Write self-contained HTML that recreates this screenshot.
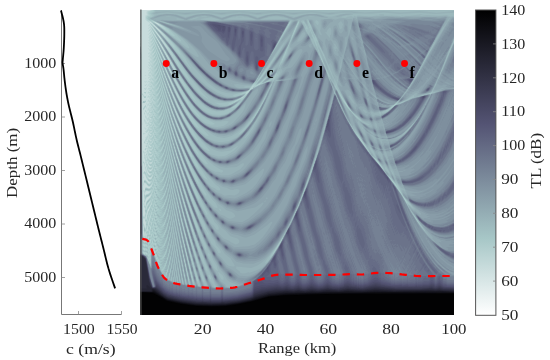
<!DOCTYPE html>
<html><head><meta charset="utf-8"><style>
html,body{margin:0;padding:0;background:#fff;width:550px;height:360px;overflow:hidden}
svg{display:block}
text{font-family:"Liberation Serif", "DejaVu Serif", serif;fill:#262626}
</style></head><body>
<svg width="550" height="360" viewBox="0 0 550 360">
<g clip-path="url(#mp)"><clipPath id="mp"><rect x="140" y="10" width="314" height="305"/></clipPath><rect x="140" y="10" width="314" height="305" fill="#c8dcdc"/>
<path fill="#bdd5d5" d="M146.5 11.5l3.8-1 0-1 304.2 0 0 306-315 0 0-292.5 1.2 0.5-0.1 22 0.8 9-0.2 26 0.5 4-0.5 6 0.1 27 1.3 7-1 1 0.1 11 0.7 3-0.6 2 0.8 23-0.1 49 1 2.6 1 0.5 0.6-3.1-0.3-5-0.9-2 0.2-1-0.9-1 0.9-2 0.3-4-0.3-6-1.1-2 0.5-0.4 1.2 0.4 0.8-3.2 1-0.3 2 1.4 1-0.1 1.6-1.8-2.6 0.2-3-3.4-1.8 0.2 0.5 1-0.7 1.3-0.5-1.3 1.5-4.9 1 0.2 3 3.8 1.3-0.1 0.7-1-1-0.2-2.6-2.8-2.4-5.6-1 0.1-0.6-0.5 1.6-2.8 1 1.6 0.3-0.8-1-2-0.7-5-1.3-2 0.7-1.4 1 2 0.9-1.6-1.2-4 0-3-1.3-3 0.6-1.1 1 1.7 1 0 1-0.9 0.7-1.7-0.7-0.6-1 1.5-1.1-0.9 1.1-1.8 2 0.4 0.4-0.6-0.4-1.6-1 1.5-0.9-0.9-0.1-0.8-1.3-0.2 1.3 0 1.4-1-2.4-1.1-0.7-0.9 2-4-0.6-1 0.3-0.4 1.2 0.4-0.5-1 1.3-1.3 0-1.7 0.8-1-0.8-0.2-4 2.5-0.4-1.3 0.4-0.8 2 0.4 0.5-0.6-1.5-1.2 2-0.6 0.3-1.2 1-1-0.5-1 1.7-1-0.5-0.9-2 1.2-0.6-0.3 0.6-1.8 1.5-0.2-0.5-0.4-2 0.1-1.6-3.7 0.6-1.8 3 4.5 1.3-1.7-0.3-2-0.1 1-0.9 0.7-2.2-3.7 0.2-2.4 2 3.2 1.4-1.8-0.4-1.4-1 1.1-1.3-3.7-1.2-1 0.5-1.7 2 3.5 1.6-1.8-0.6-1-1 0.6-0.4-0.6 0.6-2 1.6-2-0.8-1-1 1.3-1.3-3.3 0.5-1 0.8 1.9 1.7-1.9-0.7-1-1 0.6-0.2-0.6 0.7-2 1.1 0 0.4 1.1 1.2-0.1-1.1-1-0.9-2-1.2 0.6-0.3-0.6 0.8-2 0.5-0.2 1 0.8 0.5-0.6-1-1 0.2-1-1.7 0.5 0.1-1.5 0.9-1.2 1 0.7 0.9-0.5-0.9-0.4-1-1.5-1 0.4-0.1-0.5 1.1-1.9 1.9-0.1-1.9-1.6-1 1.1-0.3-0.5 0.7-2 1.7-2-1.1-0.2-1 0.7-0.2-0.5 0.9-2 1.3 0.4 0.3-0.4-0.9-1 1.2-1-0.6-0.4-1 0.7-0.5-0.3 0-1 1.8-1-2-1 1-3 1.2-1-0.5-0.5-1 0.5-0.6-1 1.8-1-1.9-2 0.7-0.4 1 0.9 1.3-1.5-0.3-0.6-1 1.2-1.7-2.6 0.7-0.3 1 0.8 0.4-0.5-1.7-2 0.3-0.7 1 0.2 0.3-0.5-0.3-0.9-1.3-1.1 1.6-1-0.1-1-1.2-0.2-0.5-0.8 1.9-2-0.4-0.5-1 0.4-0.7-0.9 1.7-1.5 1.1 0.5-0.3-1-1.3-1-0.1-1-1.2-1 0.8-0.5 1 0.9 0.8-0.4-2.3-3 0.5-0.5 1 0.8 0.5-0.3-1.8-3 0.3-0.4 1.2 0.4-0.2-1-1.3-1 1.1-1-0.1-1-1-1 0.9-1 0-1 1.6-1-0.2-0.7-2 0.9-1.1-0.2 1.1-0.4 2.1-2.6 0.2-1-2.3 1.3-1-0.3 2-1.7 1.3-2.3-0.3-0.3-2 1.8-0.5-0.5 1.8-2-0.3-0.7-1 0.7-0.4-1 1.8-2-4.7-4 0.1-4 1.7-1-0.6-1zM150.5 21.6l-0.3 0.9 11.3 10.6 0.1-0.6-2.7-3zM154.5 21.9l-0.3 0.6 4.3 2.4 1-0.4-2.9-2zM162 40.5l0.5 1.1 0.5-0.1-0.5-1.3zM143.5 218.7l-0.2 3.8 2.2 6.1 0.1-6.1-0.8-3zM149.5 191.8l-3-0.9-0.8 0.6-0.7 2 0.5 1.9 1-1.5 1.9-0.4 1.1-0.9zM150.5 195.2l-4 2.8-1.8 5.5 0 1 0.8 1.1 0.5-3.1 1.5-2.6 3-3.2zM146.5 152.2l-1.7 1.3 0 1 0.7 0.8 1.4-2.8zM147.5 153.7l0 1.9 0.4-1.1zM145.3 141.5l0.2 1.8 1 0 1-0.8zM147.5 139.7l-1.3 0.8 0.3 0.6 1 0.1 0.4-0.7zM148.5 130.8l-0.4 0.7 0.4 0.9 0.5-0.9zM149.1 104.5l0.4 0.4 1.3-0.4-1.3-0.6zM150 24.5l1.5 2.3 0.6-0.3-1.6-2.3zM153.5 28.1l-0.5 0.4 6.5 9.1 1 1.3 0.8-0.4zM162.5 47l-0.5 0.5 0.5 1.2 0.7-0.2zM143.5 226.5l-0.6 6 0.6 2.7 0.6-1.7zM145.5 163.1l-0.9 3.4 0.9 0.2 0.7-1.2-0.2-2zM146.5 157.8l-0.5 1.7 0.5 0.5 0.5-1.5zM147.5 161.4l-0.4 1.1 0.4 1.3 0.4-1.3zM150.5 73.4l-1.4 1.1 1.4 0.1zM150.5 58.7l0 1.3 0.6-0.5zM152.5 30.3l0 1.5 0.4-0.3zM153.5 32.1l-0.1 1.4 1.1 1.6 0-1.6zM155.5 35.3l-0.5 0.2 0.5 1.3 0.6-0.3zM156.5 36.9l-0.1 1.6 1.1 1.8 0.4-0.8zM157.8 40.5l2.7 4.9 0.4-0.9-2.4-4.3zM161.5 45.2l-0.9 0.3 0.9 1.5 0.5-0.5zM146.5 214.3l-0.5 3.2 0.5 1.3zM149.5 206.8l-2 3.8 0 3.4 2.1-5.5zM146.5 167.2l-0.5 1.3 0.5 1.4 0.4-2.4zM147.5 170.3l-0.2 2.2 1.2 2 1 0.7 1-0.4-2.7-3.3zM148.5 142.9l0 1.8 0.4-1.2zM149.5 112.9l-0.4 0.6 0.4 0.4 0.8-0.4zM150.1 111.5l1.6 0-0.2-0.5zM151.5 32.2l-0.5 1.3 0.6 0zM157.5 44l0 1.7 0.5-0.2zM158.5 45.9l0 1.8 0.5-0.2zM159.5 47.9l0 1.8 0.5-0.2zM160.5 49.9l0 1.8 0.5-0.2zM161.5 52l0 1.8 0.4-0.3zM148.3 177.5l0.2 1 1 0.7 1-0.1 1.2-1.6-0.2-0.4-2 1zM149.5 117.7l-0.3 0.8 1.3 1 0.6-1zM148.5 156.5l-0.4 1 0.4 0.8zM149.5 122.7l-0.3 0.8 1.3 1.1 0.1-1.1zM150.2 121.5l1.5 0-0.2-0.6zM150.2 116.5l1.3 0.1 0-0.8zM151.6 39.5l-1.4 1 1.3 0zM148.5 164.2l-0.3 1.3 1.3 1.9 1 0.1 0.6-1-1.6-0.7zM150.2 126.5l1.6 0-0.3-0.4zM149 133.5l1.5 2 1-1-1-0.1-1-1.2zM151.8 131.5l-0.9 0-0.4 1 1-0.2zM149.1 145.5l0.2 1 1.2 0.6 1-0.6-1-0.2-1-1.2zM149.5 140.5l1 0.5 1-0.5zM149.4 151.5l-0.3 1 1.7 1 0.3-1zM150.2 149.5l0.3 0.5 1.3-0.5zM151.8 155.5l-1.5 1 1.2 0.1zM148.9 158.5l0.3 1 1.3 0.8 0.9-0.8zM151.7 162.5l-0.7 0-1 1 1.5 0zM151.7 169.5l-2.3 1 1.1 0.7 1.1-0.7zM146.5 66.5l1.3 0-0.3 0.7zM144.8 72.5l1.5 0-0.8 0.6zM144.7 75.5l0.8-0.4 0.8 0.4-0.8 0.6zM144.6 78.5l1.9 0-1 0.8zM146.8 80.5l0.2 1-1.5 1.4-1.3-1.4 0.3-0.5 1.3 0.5zM144.2 84.5l1.3 0.4 1-1.2 0.7 0.8-1.7 1.6zM146.5 87.2l0.5 0.3 0 1-1.5 1.5-1.4-1.5 0.4-0.6 1 0.5zM146.5 90.6l0.7 0.9-0.7 0.6zM144 92.5l0.5-0.6 1.8 0.6-0.8 1.3-1-0.4zM142.5 93.2l2 3.1 1.7 0.2-0.7 1.4-1 0.2-2.6-3.6zM146.5 94.3l0.7 1.2-0.7 0.5zM146.5 98.2l0.8 1.3-0.8 0.6zM145.9 100.5l0.2 1-0.9 1-2.7 1.2-0.2-1.2 1.2-1.5zM145.5 104.9l1.7 2.6 0.1 1-0.8 0.6-0.2-1.6-0.8-0.5-2 3.6-0.4-2.1zM144.5 112.2l0.5 0.3-0.5 2.4-0.5-1.4zM144.5 127.1l2.2 1.4-1.2 1.5-1-1.6zM143.5 176.6l0.6 0.9-0.6 1.3-0.5-1.3z"/>
<path fill="#b5d0d0" d="M147.4 11.5l3.8-1 0-1 303.3 0 0 306-315 0 0-270 1 0 0.4 1 0.5 8-0.1 63 0.7 6-0.5 1 0 12.4 0.7 2.6-0.6 2 0.5 2 0.3 69 0.8 4 1.3 0.4 0.8-3.4-0.1-5-1.2-2 0.5-1 1 0.5 0.4-0.5 0-2 0.8-2 3.8-4.5 1.3-2.5-0.3-1.4-2 2.8-3.1 1.6-1.9 5.4-0.5-1.4 0.7-2-0.6-4 0.4-1.9 1 2.2 1-1.3 3-1.3 1.2-1.7-0.1-1-2.1 0.8-2.2-0.8-1.8 2.8-0.7-1.8 1.1-1 0.6-2.7 1-0.2 1.3 0.9 1.7 0.2 2.1-2.2 0.8-2-0.9 0-2 1.9-1-0.1-3-3.4-1 0.2-0.7-1.6 0.7-1.5 1 0.2 3 3.6 1.9-0.3 0.4-1-2.9-2-3.4-7-1.2 0 1.2-2.5 1.3 1.5 0.7-2.3 0.5 2.3 2.5 3.1 1-0.3 1.2-1.8-2.2-0.2-1.5-1.8-0.9-2 0.4-3-1 0.4-0.5-0.4 0.4-3-1.1-1 0.2-0.6 1-0.2 0.1 1.8 1.3 1 0 1 1.6 2.1 1 0.1 1.2-1.2-0.2-0.4-1 0.1-2.5-2.7 0.5-2.2-1-0.4-2 0.4-1.2-3.8 0.2-0.5 1 0.8 0.3 1.7 0.7 0.8 0.8-1.8-0.8-1 1-1.3 0.6 2.3 2.4 2.2 1-0.9 0-0.7-1 0-1.5-1.6-0.1-1-0.9-1-0.2-3-1.2-1 0.9-1.8 2 3.5 1 0.6 0.7-0.3 0.5-1-1.2-0.2-1.5-1.8 0.5-1 1 1.1 1-0.2 1.4-1.9-0.4-0.9-1 1.4-1 0.2-1-0.7-2.4 0 1-1-0.3-2 0.7-0.4 0.5 1.4 1.5 1.1 1.3-1.1-1.3-0.4-1.5-1.6 0.5-2.2-1 0.3-1 1.9-0.9-1 1.7-1-0.6-1 0.8-2.5 0.7 1.5 1.3 1 1.3-1-3-2 0.8-2-1.6-2 0.5-1 2 2.2 1.3-1.2-1.3-0.3-1.7-1.7 0.5-1-0.8-1.3-2 2.5-0.5-1.2 1.9-2 1.5-4-1.7-2 0.8-0.9 2 2.2 1.3-1.3-2.1-1-0.6-1 0.5-1-1.1-1.3-0.9 0.3 0.3 1-0.6 0 0.4-2 0.8-0.9 2 2.2 1.4-1.3-2.2-1-0.5-1 0.3-1-0.6-1 0.6-0.3 1 0.6 1.4-1.3-2.6-1-0.3-2-1-1 0.5-1.2 1 1.5 1.5-0.3-0.9-1 1.9-2-0.5-0.8-2 0.5-0.6-0.7 2.2-1-1.6-1 1.9-1 0.7-1-0.6-0.6-2 1.6-1.6-2 0.6-0.8 1 1.4 1.5-0.6-1.1-1 2-2-0.2-1-1.7 1-0.3-1 0.8-1-1.3-1 0.3-0.5 1 0.3 1.4-1.8-0.4-0.6-1 1.1-2 0-0.5-0.5 0.5-0.7 1 0.5 1.4-0.8-1.7-1 0.3-0.5 1 0.2 1.4-1.7-0.4-0.9-2-0.9 0-0.7 1 0.2 1-1.1 1 0.4 0.3 2 0.7 0.5 0.3-0.5-2.3-4.2-1-0.1-0.4-0.7 1.4-1.6 1 1.4 1-0.8-2-2.4-1 1.7-1.3-1.3 1.3-0.7 1-1.9 1 1.4 0.6-0.8-2.6-4.6-1 0.3-0.3-0.7 1.3-1.3 0.6 0.3-0.1 1 1.7 1-1.8-4-1.2-1 0.8-0.9 1 1.3 0.9-0.4-2.3-4 0.4-0.6 1 1.2 0.8-0.6-0.2-1-2-2 0.4-0.9 1 0.8 0.5-1.9-2-2 0.5-0.7 1 0.6 0.3-1.9-1.3-0.6 0-1.2 0.5-0.2 0.6-2 0.9-0.3 1.4-1.7-0.4-0.7-2 2.1-1 0.2-0.5-0.6 3.5-4.5 0.3-1.5-0.5 0-2.8 3.1-1.3-1.1 1.3-0.2 0.6-1.8 1.8-2-0.4-0.6-1 1-1.1-0.4 0.1-1 1-0.5 1.4-2.5-0.4-0.5-2 1.8-0.4-1.3 2.7-3-0.3-1.4-0.5 0.4-0.2 1-1.3 1.2-0.7-0.2 0.1-1 1.9-2 0.1-1-0.4-0.4-1 1.2-1.2 0.2 2.6-4-2-3 0.6-0.8 16 21.8 1 1.2 0.7-0.2-5.7-8.9-12.5-16.1 0.5-0.6 14 13.8 0.9-0.2-6.1-7-7.8-7.3-2-1.1-1 0.6-1.6-1.2-1.2-3 0.8-1.5 1.2-0.5 0.2-1-0.7-1zM153 21.5l5.5 4 4.3 2-0.3-1-3.9-3-4.1-2zM249.5 90.1l-2.1 1.4-1.2 2 0.3 0.4 3.4-3.4zM258.3 84.5l1.6 0-0.4-0.5zM150.1 201.5l-0.6-0.1-2 2.4-1.3 2.7-0.3 2 0.6 0.6 0.3-1.6zM151.5 202.2l-4.2 8.3-0.2 2-1.1 2-0.5 3.7-2.6 0.3 0 5 1.1 1 1.5 4.6 0.6-2.6 0-4-1.2-2 0.6-1.9 1 0.7 0.5-0.8-0.1-3 4.6-11zM146.5 173.1l0 1.8 0.4-1.4zM147.2 176.5l1.3 2.2 1 0.9 1 0 1.1-1.1 1.3-3-0.4-0.5-2 2.4-2-0.3-1-1.8zM148.4 168.5l-0.2 1 1.9 2 1.7-1 0.3-1-0.6-0.3-1 0.6zM149.2 162.5l0.2 1 1.1 0.5 1.2-0.5 0.4-1-0.6-0.4zM153 154.5l-0.5-0.5-1 1.3-2.5 0.2 1.5 1.5 1-0.2zM148.9 128.5l1.6 1.4 1.2-0.4-2.2-1.9zM152 120.5l-2.1 1 1.6 0.4zM152 115.5l-0.5-0.2-1.6 1.2 1.6 0.3zM152 111.5l-0.5-1.1-1.8 1.1 0.8 0.5zM152.5 89.6l-0.5 0.9 0.5 0.8 0.9-0.8zM151.9 30.5l0.2 1 3.9 6 13.5 23.6 0.4-0.6-7.4-14-9.8-16zM173.5 86.1l-0.4 0.4 0.4 1.4zM143.5 226.1l-0.8 0.4 0 7 0.8 2.6 1 0.1 1-1.2 1 3.5 0.3-4-1-1-0.3-2.1-1 2.5-0.7-3.4 0.4-4zM150.5 215.1l-0.4 2.4 0.4 0.2 0.4-1.2zM151.5 212.1l0 2.3 0.4-1.9zM150 131.5l0.5 1.2 1 0 0.7-1.2zM152.5 94.5l-0.5 1 0.5 0.6 1 0 0-0.6zM153.5 36l-0.4 0.5 0.4 1.3 0.4-0.3zM154.5 38l-0.4 0.5 0.4 1.3 0.5-0.3zM155.5 39.9l-0.4 0.6 0.4 1.3 0.7-0.3zM156.5 41.8l-0.4 0.7 0.4 1.3 0.8-0.3zM157.5 43.6l-0.2 1.9 15.2 30.8 0-1.9zM173.5 95.4l-0.5 0.1 0.5 2.1 0.4-0.1zM147.5 226l-0.8 4.5 0.8 0.2 0.4-0.2 0.1-3zM148.5 221.3l-0.5 2.2 0.5 1.7 0.5-3.7zM149.5 218l-0.4 1.5 0.4 1.7 0.4-1.7zM150.5 226.5l-0.4 2 0.4 1.1 0.4-2.1zM151.5 222.5l-0.4 2 0.4 0.5zM152.5 167.5l-0.4 1 0.4 0.6 0.4-0.6zM152.5 98.7l-0.7 0.8 1.7 2.4 0.3-0.4zM153.5 40.1l-0.6 1.4 0.6 0.4zM154.5 42.3l-0.4 1.2 0.4 0.6zM155.5 44.6l-0.4 0.9 0.4 1.1zM158.5 51.4l-0.5 0.1 0.5 2.2 0.6-0.2zM159.5 53.7l0 2.3 0.4-0.5zM160.5 56.1l-0.5 0.4 0.5 2 11 25.3 0.6-0.3zM172.5 83.8l-0.4 0.7 0.4 1.4 0.4-0.4zM148.5 236.5l-0.4 1 0.4 2.2 0.4-2.2zM149.5 231.1l-0.5 2.4 0.5 1.1 0.4-3.1zM150.5 239.4l-0.4 1.1 0.4 2zM152.5 103.7l-0.6 0.8 0.6 0.8zM154.5 47l-0.5 1.5 0.5 0.2zM155.5 49.5l-0.4 1 0.4 0.7zM161.5 65.3l0 2.4 0.4-0.2zM162.9 70.5l0.6 2.4 0.4-0.4-0.4-2zM164.5 73.1l-0.4 0.4 0.4 2 0.8 0zM165.5 75.6l0 2.6 0.4-0.7zM166.5 78.2l-0.5 0.3 0.5 2.2 0.7-0.2zM167.5 80.7l-0.4 0.8 0.4 1.8 0.4-0.8zM168.5 83.2l-0.6 0.3 0.6 2.2 0.7-0.2zM169.5 85.7l-0.4 0.8 0.4 1.7 0.4-0.7zM170.5 88.2l-0.6 0.3 0.6 2.2 0.8-0.2zM171.5 90.6l0 2.4 0.4-0.5zM172.5 93.1l-0.4 0.4 0.4 1.9zM152.5 108.8l-0.5 0.7 0.5 0.7zM154.5 51.7l-2.6 2.8 0.6 0.6 2.4-2.6zM155.5 54.4l-0.4 1.1 0.4 0.6zM156.5 57.4l-0.4 1.1 0.4 0.6zM166.5 86.2l0 2.5 0.4-0.2zM169.5 94.3l-0.4 0.2 0.4 2.3 0.4-0.3zM170.5 97.1l0 2.4 0.4 0zM172.5 102.3l-0.4 0.2 0.4 2.1 0.4-0.1zM153.5 116.8l-0.4 0.7 0.4 0.5 0.8-0.5zM152.3 58.5l0.2 0.4 1-0.3 0-0.7zM154.5 56.2l-0.9 1.3 0.9 0.3 0.4-1.3zM155.5 59.5l-0.5 1 0.5 0.5zM154.5 61l-1.5 1.5 0.5 0.5 1.5-1.5zM156.5 68.1l-0.5 1.4 0.5 0.2zM152.8 124.5l-0.3-0.3-0.6 1.3-2 1 1.6 0.5 1.2-1.5zM157.5 77.2l-0.4 1.3 0.4 0.3zM153.5 133.1l-0.5 0.4 0.5 1.3 0.4-0.3zM152.5 135.6l-1 1.3-1.5 0.6 0.5 0.7 1-0.1 1.4-1.6zM153.5 139.1l-0.5 0.4 0.5 1.3zM152.5 141.3l-1 1.5-1.5 0.7 0.5 0.7 1-0.2 1.4-1.5zM153.5 145.2l-0.4 0.3 0.4 1.4zM153.5 158.2l-0.4 0.3 0.4 1.3zM139.5 23.2l1.1 0.3-0.1 16-1 0zM150.5 28.8l0.4 0.7-1.4 1.4-0.5-0.4zM139.5 39.7l1 0 0 2.7-1 0zM139.5 42.5l1 0 0 3-1 0zM148.5 62.5l1.2 0 0.1 1zM148.7 65.5l1.5 0-0.7 0.7zM149 75.5l1.5-0.4 0.5 1.4-0.5 0.3zM148.5 78.1l0-0.7 1.4 0.1zM148.4 81.5l1.3 0-0.2 0.4zM149.9 84.5l0.6-0.8 0.4 0.8-0.4 0.4zM144.7 85.5l0.8-0.5 0.6 0.5-0.6 0.5zM144.5 88.1l1 0.4 0.4 1-0.4 0.4-1.3-1.4zM148.1 88.5l2.4-0.7 0.4 0.7-2.4 0.6zM144.1 92.5l0.4-0.5 1.6 0.5-0.6 1.1zM142.5 93.4l0.5 1.1-0.5 0.5-0.5-0.5zM143.2 95.5l0.3-0.3 1 1.2 1.5 0.1-0.1 1-1.4 0.5zM147.9 96.5l0.6-0.8 0.9 0.8-0.9 0.6zM142.5 103.1l1-2 1 0.1 1-0.7 0.5 1-1.5 1.5zM147.8 104.5l0.7-0.7 0.4 0.7-0.4 0.6zM145.5 105.1l0.6 1.4-1.8 2-0.8 1.8-0.4-1.8zM145.5 110.1l0.8 1.4-0.8 0.5zM144.5 112.3l0.4 1.2-0.4 1.3-0.4-1.3zM147.8 113.5l0.7-0.8 0.4 0.8-0.4 0.7zM145.5 115.3l0.6 1.2 0 1-0.6 0.1zM144.5 119.1l0.4 1.4-0.4 0.5zM146.6 125.5l0.9-0.7 0.8 0.7-0.8 0.6zM143.5 134.5l0-1.6 0.9 0.6zM147.5 136l0.7 0.5-0.2 1-1 1 0.1 1-1.6 1.5-0.2-1.5zM144.5 141.2l0.6 1.3-0.6 0.7-0.5-0.7zM146.5 145.4l0.7 1.1-0.7 0.7-0.8-0.7zM145.5 148l0.8 0.5-0.8 1.7-0.8-0.7zM143.5 151l1 1.5-1 0.3zM144.5 152.6l0 1.9 0.9 1-0.9 0.6zM146.5 153.3l0.6 1.2-0.6 1.1-0.5-1.1zM143.5 161.4l1.2 2.1-0.2 2.7-0.4-2.7-1.2-1zM145.5 166.9l0.5 0.6-0.5 2.6-0.5-2.6z"/>
<path fill="#adcbcb" d="M148.4 11.5l3.8-1 0-1 302.3 0 0 306-315 0 0-269.8 1 0 0.8 8.8-0.1 63 0.6 5-0.3 15 0.5 2-0.5 2 0.6 2 0.4 90 1 4.1 1.2 0.9 0.8-2 0.6 2 0.8 0 0-3 0.9-2-1.3 0.3-0.6-1.3 2.6-2 0.6 2-0.3 2 1.3 0 0.1-3-1.7-1-0.5-2 0.3-1-0.8-1.9-0.8 0.9 0.3 2-0.5 1-0.6-1 0.6-7-1-0.2-0.4-0.8 0.4-0.9 1 0.1 1 1.4 0.3-0.6-0.8-5 0.9-1 0.2-2 2.9-7 1-1 0-2-0.5-0.6-0.5 1.6-3.9 7-0.6 2.9-1-0.9-0.4-2 0.4-1 1.2 0 0.3-2 3.8-6 0.1-1-0.4-0.7-3.1 3.7-0.9 2.3-0.5-2.3 0.9-2 3.6-4.1 2.5-5.9-0.5-1.2-0.9 0.2 0.4 2-2.5 3-3.3 2-0.7 1.9-0.7-0.9-0.6-3 0.3-0.9 1 1.5 1-1.3 3-1.2 2-3.1-1-0.2-2 0.7-2-0.8-1 0.6-0.6-1.3 0.6-1.4 1-0.2 2 1 1.6-0.4 1.8-2 1.1-3-0.5-1.3-2 3.3-1 0.7-1-0.1-3-3.5-1 0.2-0.5-1.3 0.5-1.1 1 0.2 3 3.4 1 0.3 1-0.6 1.4-2.2-0.4-0.7-2 0.8-1-0.6-2.1-3.5-0.3-2 0.8 0 0.4 2 2.2 2.3 1 0 1.4-1.3 1.3-3-0.7-0.8-2 2.6-1 0-1.3-0.8-1.1-2 0.4-1.3 0.5 1.3 1.2 1 1.5 0 1.3-2-0.5-0.5-2 0.2-1.3-1.7-0.1-1 0.4-0.5 0.9 1.5 1.1 0.3 1.5-1.3 1.1-2-0.6-1.3-0.6 1.3-1.4 1-1-0.2-1-1.2-0.7 1.4-0.5 0 0.2-1.7 1-1.3 1 1.3 1 0.1 1.5-1.4-0.5-1-1 0.6-1.5-1.6 0.5-0.7 1 0.5 1-0.4 1.6-2.4-0.6-1.3-1 1.6-2 0.2-1-1.4-1-0.4-0.1-0.7 0.1-0.9 3 2.2 1.5-1.3-0.5-0.8-1 0.2-1-1-0.1-1.4 1.1 0.8 1-0.3 1.7-2.5-0.7-0.8-1 1.4-2-0.2-1 0.7-0.1-1.1 0.8-1 1.3 0.5 1.3-0.5 0.2-1-1.5-0.4-1.4-1.6 0.4-0.7 1 1 1.3-0.3 1.3-2-0.2-1 1-1-0.4-1.7-1 0.6 0.5 1.1-1.3 2-1.2 0.6-2.2-1.6 0.2-1.8 0.2 0.8 1.8 1.3 1.5-1.3-1.8-1 0.3-0.9 1-0.3 1.6-1.8 0-1 1-1-0.6-1.8-0.9 0.8 0.4 1-0.5 0.5-1-1.1-1.3-0.4 2.9-3-0.1-1 1.3-1-0.8-1.9-1.1 0.9 0.5 1-0.4 0.7-1-1.1-1.4-0.6 1.9-1 1.1-2-1.4-2-1.2-0.2-0.4-0.8 1.4-0.3 2-3 0.8 1.3-1 1-0.5 2 0.7 0.8 0.7-0.8-0.6-1 0.9-1 2 1.3 0.2-0.3-1.5-2-1.7-4-0.9 1 0.6 1-0.7 0.3-2.5-1.3 2.2-1 0.9-2-0.7-1-2.4-1 1.5-0.5 1-1.4 0.8 0.9-0.5 1 0.7 0.9 1 0 0.2-0.9-1.1-1 0.9-0.9 1 1 0.9-1.1-0.9-0.1-0.6-0.9 0.9-1-2-2 0.3-1-1.1-1 0.5-0.9 2 1.5 0.5-0.6-3-5 0.5-0.9 1.3 0.9 1.1-2-3-3 0.6-0.8 1 1 1.3-1.2-1.3-0.8 0.4-1.2-2.2-2 0.8-0.8 1 1 0.7-0.2-0.7-2 0.5-1-2.9-3 0.4-0.8 1 0.9 0.8-0.1 0.4-2 2.8-2.1 1.4-2.9-0.4-0.6-0.6 1.6-3.4 3.8-1-0.2-0.6-1.6-2.1-2 0.7-1.1 0.4 1.1 1.6 1.2 0.6-0.2 0.3-2-2.5-2-0.5-2 0.2 1 1.9 1.2 1-0.2-0.4-3-2-1 0.4-0.7 1.3-0.3 0.4-2 2.6-3 1.1-3-0.4-0.6-0.6 1.6-2.4 2.9-1-0.4 0.5-2.5 1.5-1.3 1.4-2.7-0.4-0.9-2 3-1 0.3-0.3-1.4 2.8-4 0.9-3-0.8 0-1.4 3-1.6 1 0-2 1.8-2 1-3-0.7 0-1.7 2.5-1-0.1 3-5.4 0.3-2-0.6 0-1.5 3-1.2 1-0.4-1 2.7-4 0.2-1-0.5-0.7-2 2.7-0.7-1 3.1-5 0-1-0.9 0-1.5 3.1-1 0.1 0.3-1.2 2.1-3 0.1-1-0.5-0.5-2 2.6-0.2-1.1 2.2-3.6 0.5 0.6 0 1 2 3 15.5 32.7 9 15.9 0.3-0.6-22.2-45-5.6-10 0-1-1-1 0.1-1 0.4-0.4 0.5 1.4 4 6 14.5 26 6 9.6 0-1.7-9-16.8-17.4-29.1 0.4-0.4 21 29.1 0.5-0.7-4.5-7.8-8-11.1-10.4-13.1 0.4-0.5 17 17.4 2 1.5 0.3-0.4-4.4-6-5.8-6-9.1-8.3-3.3-1.7-1-2 1.3-1.5 1.7-0.5-1.2-2zM152.6 21.5l12.1 8 1.4 0-2.6-3-4.5-3-5.5-2.4zM182.5 104.1l-0.4 0.4 0.4 1.2zM244.1 96.5l-1.2 0-1.5 1 0.1 0.4 1 0zM253.5 85.8l-1-0.3-0.2 1-2.4 3-3.9 3-0.5 2.5 7.1-6.5 0.1-1 1.3-1zM377.5 161.6l0 0.9 1 1.1 0.8-0.1zM143.1 240.5l0.3 1 1.3 1 0.8-2zM146.5 241.1l-0.7 0.4 0.7 1.3 0.6-1.3zM148.5 236.2l-0.7 1.3 0.7 3.2 0.7-3.2-0.1-1zM148.5 215.2l-0.5 1.3 0.5 1.1 0.4-0.1zM149.5 212.4l0 2.2 0.4-1.1zM150.5 210.2l0 1.4 0.5-0.1zM151.5 211.7l-0.5 2.8 0.5 0.2 0.7-2.2zM152.5 199l-0.6 0.5 0.6 2.3 0.7-2.3zM152.5 187.5l1 2.4 0.2-2.4zM152.5 179.4l1 2.5 0.4-1.4-0.4-0.8zM152.5 164.4l1 2.7 0.4-1.6zM152.5 151.2l1 2.2 0-1.9zM154.5 129.6l-0.6 2.9 1.6 0.6 0.8-0.6-1.6-1 0.8-1zM154.5 118.5l-0.5 1 1.5 1.6 0.4-0.6zM158.5 86.9l-2 2.9-1 0.4 0 0.6 1 0.3 2.2-2.6 0.2-1zM157.9 71.5l-0.6 0-1.7 3-1.3 1 0.2 0.7 1 0 2.4-3.7zM155.5 44.4l-0.5 2.1 0.5 0.3 0.5-0.3zM156.5 46.8l-0.4 1.7 0.9 1 10.5 26 8 17.4 6 11.2 0.5-0.6-13.2-28zM256.3 85.5l1.7 0-0.5-0.5zM258.1 84.5l0.4 0.4 1.6-0.4-0.6-0.9zM143.1 244.5l0.3 1 1.3 1 0.8-2zM146.5 244.9l-0.7 0.6 0.7 1.3 0.6-1.3zM150.5 214.7l-1.4 3.8-0.1 2-1.2 1 0 4 1.7 1 1 3.4 0.5-0.4 0.2-2-2.2-3 0-2 1.1-1-0.1-3 0.9-1 0.1-2zM151.5 222.2l-0.9 0.3 0.2 2 0.7 0.9 0.6-2.9zM152.5 208.2l-1 0.3 1 2.5 0.6-2.5zM153.5 195.9l-0.6 0.6 0.6 1.5zM153.5 171.9l-0.8 0.6 0.8 1.6 0.5-1.6zM153.5 157.8l-0.8 0.7 0.8 1.6 0.4-1.6zM154.5 135.6l-0.5 0.9 0.5 1-0.3 1 1.3 0.8 1.1-0.8-2-1 0.7-1zM158.5 92.9l-2.4 2.6 0.4 0.5 1-0.1 1.4-2.4zM156.5 52l-0.5 1.5 0.5 0.7 0.4-0.7zM157.5 54.5l-0.4 1 0.4 1.4 0.4-0.4zM158.5 57.2l-0.4 0.3 0.4 2.2 0.5-0.2zM159.5 59.8l-0.3 1.7 1.3 3.6 0.5-0.6-0.4-2zM161.5 65.1l-0.6 0.4 0.4 2 0.8 1 0.3 2 9.1 23.1 8 17.7 4 7.3 0.6-0.1-12.2-27zM184.5 141.2l-0.5 0.3 0.5 1.7zM143.1 248.5l0.3 1 1.3 1 0.8-2zM146.5 248.9l-0.7 0.6 0.7 1.3 0.6-1.3zM148.5 247l0 1.7 0.4-1.2zM150.5 239.2l-0.7 1.3 0.1 2 0.6 0.4 0.7-3.4zM151.5 234l-0.6 0.5 0 2 0.6 0.5 0.5-2.5zM152.5 218.1l-0.7 0.4 0.1 2 0.6 0.4 0.6-2.4zM153.5 204.6l-0.5 1.9 0.5 0.5zM154.5 141.7l-0.3 1.8 0.3 0.7 1-0.1zM155.3 140.5l1.2 0.4 0.3-0.4-1.3-0.4zM157.5 60.1l-0.5 1.4 0.5 0.9zM158.5 63.1l-0.4 1.4 0.4 1.1zM159.5 66.1l-0.4 1.4 0.4 1.1zM160.5 69l0 2.6 0.4-0.1zM161.5 71.8l-0.1 2.7 1 0zM162.5 74.5l-0.3 2 1.3 4 0.4-1-0.3-2-0.8-1zM163.6 80.5l11.9 32.2 8 17 0.7-0.2-11.2-26-8.4-23zM184.5 152.9l-0.4 0.6 0.4 1.6zM143.1 252.5l1.5 2 0.9-2zM146.5 252.9l-0.6 0.6 0.6 1.3 0.6-1.3zM148.5 251l0 1.7 0.4-1.2zM152.5 229l-0.6 0.5 0.1 2 0.5 0.3zM153.5 214l-0.6 0.5 0.6 1.8zM154.5 147.4l-0.5 2.1 0.5 0.7 1.1-0.7-1.1-1 0.4-1zM155.5 144.7l0 1.4 0.6-0.6zM158.5 69l-0.4 1.5 0.4 0.7zM159.5 72.2l-0.4 1.3 0.4 1.1zM163.5 84.6l0 3 0.5-0.1zM164.5 87.7l0 3 0.6-0.2zM165.5 90.7l0 3 0.7-0.2zM166.5 93.7l-0.1 2.8 0.7 1 5.4 17 11 26.7 0.5-0.7-10.1-25zM184.5 164.9l-0.4 0.6 0.4 1.9zM148.5 255l0 1.7 0.4-1.2zM152.5 240.3l-0.4 1.2 0.4 1.8 0.4-0.8zM153.5 224l-0.4 0.5 0.4 1.8 0.4-0.8zM154.5 154.8l-0.5 0.7 0.5 1.6 1-0.2zM155.5 150.9l-0.8 0.6 0.8 0.7 1.1-0.7zM158.5 74.9l-1.7 3.6-1.3 1.3-1-0.2 0 1.2 1 0.4 2-2.2 1.3-2.5zM159.5 78.3l-0.4 1.2 0.4 1.2zM160.5 81.8l-0.4 1.7 0.4 0.6zM166.5 101.7l0 3 0.5-0.2zM167.5 105l0 3 0.4-0.5zM168.5 108.1l-0.5 0.4 0.5 2.8 0.4-0.8zM169.5 111.2l-0.7 0.3 0.7 3 0.7 1 2.3 8.1 11 29.3 0.6-0.4-8.3-22zM184.5 177.3l-0.4 0.2 0.4 2.3zM153.5 234.4l0 2.6 0.7-0.5zM154.3 160.5l2.2 0.4 0.4-0.4-0.4-0.4zM155.1 158.5l0.4 0.6 1.1-0.6-1.1-0.7zM155.3 153.5l1.2 0.4 0.4-0.4-0.4-0.4zM159.5 84.5l-0.5 2 0.5 0.3 0.4-1.3zM160.5 88.2l-0.4 1.3 0.4 1.1zM161.5 92l-0.4 1.5 0.4 0.8zM168.5 116.5l0 3.2 0.4-0.2zM169.5 119.9l0 3.1 0.4-0.5zM170.5 123.2l-0.4 0.3 0.4 3 0.4-1zM170.5 126.5l0.7 1 0.3 2.2 1-0.2-1-3.1zM172.5 129.5l-0.4 1 0.4 2.4 11 31.9 0.6-0.3-7-20zM153.5 246.1l-0.5 0.4 0.5 2.4 1.1-0.4zM154.5 161.8l-0.6 0.7 0.6 1 1 0.3zM159.5 90.9l-0.5 1.6 0.5 0.4 0.4-1.4zM160.5 94.9l-0.4 1.6 0.4 0.4zM161.5 98.7l-0.4 1.8 0.4 0.5zM171.5 135.6l0 3.3 0.4-0.4zM172.5 139.1l-0.4 0.4 0.4 3 0.7 1 0.3 2.4 0.5-0.4zM174.5 145.9l-0.4 0.6 0.4 2.8 0.4-0.8zM175.5 149.2l-0.7 0.3 0.7 3.2 7 21.5 0.4-0.7-0.4-2.3zM183.5 174.3l-0.6 0.2 0.6 2.5 0.4-0.5zM154.5 250.7l-0.7 0.8 0.7 1.6 1.1-0.6zM154.4 167.5l2.1 0.5 0.7-0.5-0.7-0.4zM155.1 165.5l0.4 0.6 1.1-0.6-1.1-0.7zM159.5 97.1l-0.5 1.4-2 2 0.5 0.6 2.3-2.6zM160.5 101.3l-0.4 1.2 0.4 0.9zM161.5 105.5l-0.4 1 0.4 1.3zM173.5 152.4l0 3.4 0.4-0.3zM174.5 156.1l0 3.4 0.4 0zM175.5 159.6l0 3.5 0.4-0.6zM176.5 163.2l-0.4 0.3 0.4 3.1 0.6-0.1zM177.5 166.6l0 3.5 0.5-0.6zM178.5 170.1l-0.5 0.4 1.5 6.3 0.5-0.3zM180.5 176.9l-0.4 0.6 0.4 2.6 0.4-0.6zM181.5 180.2l-0.5 0.3 0.5 2.9 0.4-0.9zM182.5 183.4l-0.5 0.1 0.5 3.1zM155.5 254.4l0 2.1 1.1-1zM154.5 168.8l-0.6 0.7 0.6 1.4 1-0.1zM157.5 174.5l-1-0.1-0.4 1.1 0.4 0.3zM160 103.5l-0.6 0-2.3 3 0.4 0.4 2-1.8zM160.5 108.1l-0.5 1.4 0.5 0.4 0.4-1.4zM161.5 112.4l-0.4 1.1 0.4 1.2zM162.5 117l-0.4 1.5 0.4 0.5zM157.5 258.3l-1-0.2 0 1.1zM154.5 175.9l-0.4 1.6 0.4 0.6 0.8-0.6zM155.5 171.9l-0.4 0.6 0.4 1.2 0.9-1.2zM159.5 110l-2.3 2.5 1.3 0.2 1-1.1 0.4-1.1zM160.5 114.9l-1.5 2.6 0.5 0.4 1.1-1.4zM161.5 119.4l-0.3 2.1 0.6-1zM162.5 124.2l-0.4 1.3 0.4 0.8zM155.5 179.4l0 1.6 1.1-0.5zM161.5 126.6l-1.4 2.9 0.4 0.4 1-1.4zM162.5 131.6l-0.4 0.9 0.4 1.2zM154.5 183.9l-0.5 0.6 0.5 1.4 1.1-0.4zM157.5 182.5l-2 0 1 0.9zM161.5 134.1l-0.5 1.4 0.5 0.2zM163.5 144.4l-0.4 1.1 0.4 1.1zM154.5 191.9l-0.5 0.6 0.5 1.5 0.9-0.5zM155.5 187.1l-0.5 0.4 0.5 1.5 1.1-0.5zM154.5 200.2l-0.4 1.3 0.4 0.8 0.5-0.8zM155.5 195.5l0 1.6 1-0.6zM157.5 190.5l-1.9 0 0.9 1zM154.5 209.1l-0.4 1.4 0.4 0.7 1 0.3zM156.5 198.4l-0.5 1.1 0.5 0.3 0.4-0.3zM154.5 218.8l0 2 1-0.3zM155.5 213.1l-0.6 0.4 0.6 1.4 1-0.4zM155.5 204.1l-0.5 0.4 0.5 1.4 1-0.4zM154.5 228.8l0 2 1-0.3zM155.5 222.8l-0.5 0.7 0.5 1.1 0.9-1.1zM157.3 216.5l-1.4 0 0.2 1 0.7 0zM157.4 207.5l-1.7 0 0.8 1.2zM154.5 239.3l-0.6 0.2 0.6 2.2 0.8-0.2zM155.5 232.9l-0.6 0.6 0.6 1.1 0.9-1.1zM155.7 226.5l0.8 0.9 0.8-0.9zM155.5 243.4l-0.5 0.1-0.1 1 0.6 0.7 0.9-0.7zM156.5 236.3l-0.7 0.2 0.7 1.1 0.7-1.1zM139.5 23.4l1 0 0 1.5-1 0zM139.5 26.8l1 0 0 1.6-1 0zM139.5 31.2l0-1.5 1 0 0 1.5zM151.5 30.4l0.4 1.1-0.4 0.4-0.5-0.4zM139.5 32l1 0 0 1.1-1 0zM139.5 34l1 0 0 3.4-1 0zM152.5 36l0.4 1.5-1.4 1.3-0.6-0.3zM139.5 39.2l0-1.6 1 0 0 1.6zM139.5 41.7l0-0.7 1 0 0 0.7zM139.5 42.8l1 0 0 2.5-1 0zM151.4 66.5l1.1-0.4 0.5 0.4-0.5 0.4zM151.9 70.5l1.6 0 0 1zM151.7 85.5l-0.2 1.6-1.3-0.6zM149.5 90.5l2-0.9 0.2 1.9zM144.2 92.5l0.3-0.4 1.4 0.4-0.4 1zM152.5 93.4l-0.4-0.9 0.4-0.8 0.7 0.8zM142.5 93.5l0.4 1-0.4 0.4-0.4-0.4zM151.5 94.2l0 1.5-0.4-1.2zM145.8 96.5l-0.3 1.2-1 0.2-0.4-0.4 0.4-0.9zM152.5 96.6l0.8 0.9-1.8 1.7-0.3-0.7zM142.6 102.5l0.9-1.3 1 0.2 1-0.7 0.4 0.8-1.4 1.4zM152.5 101.1l0.7 1.4-1.2 1-0.5 1.2-1.6-1.2 1.6-0.3zM145.5 105.2l0.4 1.3-1.8 2-0.6 1.6-0.3-1.6zM152.5 105.8l0.6 1.7-0.6 0.8-1.4-0.8zM145.5 110.3l0.5 1.2-0.5 0.3zM153 111.5l-0.5 2-2.5-1 1.5-0.4 1-1.5zM153 114.5l0.5-0.9 0.9 0.9-0.9 0.9zM151.8 124.5l-0.3 1-1 0.5-0.7-0.5 1.7-1.3zM149.4 130.5l0.1-0.5 2-0.1 0.5 0.6-1.5 0.6zM148.9 135.5l0.6-0.4 1 0.8 1-0.7 0.5 0.3-0.3 1-1.2 0.5zM148.5 139.9l2 1.9 1-0.8 0.6 0.5-0.6 0.9-1 0.6-1.9-1.5zM144.5 141.4l0.4 1.1-0.4 0.5-0.4-0.5zM146.8 143.5l0.7-0.6 0.4 0.6-0.4 0.7zM149.5 143.3l0.8 1.2-0.9 0zM145.9 146.5l0.6-0.8 0.5 0.8-0.5 0.6zM145.5 148.2l0.5 1.3-0.5 0.5-0.6-0.5zM147.5 150l0.4 1.5-0.4 0.3zM146.5 155.3l-0.4-0.8 0.4-0.8 0.4 0.8zM143.5 163.2l-0.5-0.7 0.5-0.9 0.5 0.9zM148.5 162l0.4 0.5-0.4 1.2zM146.5 163.9l1.2 0.6-0.2 1.5-1-0.9zM144.5 171.4l1.5 2.1-0.5 1.6-1.6-2.6zM144.5 200.2l0.4 1.3-0.4 0.8-0.4-0.8zM144.5 205.9l1.1 0.6 0.3 1-0.4 0.8-1.3-1.8zM145.5 214l0.5 1.5-0.5 1.5-0.5-1.5zM142.8 217.5l0.7-0.4 1.5 0.4-0.5 0.4zM143.5 224.2l0 1.5-0.5-1.2zM144.5 226.8l1.6 3.7-1.6 2-0.6-4z"/>
<path fill="#a6c6c6" d="M150.4 11.5l2.1-0.4 0.7-0.6 0-1 301.3 0 0 306-315 0 0-269.6 1 0 0.4 1.6 0.3 7 0 63 0.5 5-0.3 15 0.5 2-0.5 2 0.6 2 0.4 90 0.9 4 1.2 1.3 1-1.1 1 1.1 0.8-0.3 0.2-0.8 1 3.2 0.9-0.4-0.4-2 0.5-0.9 2-0.3 1.4-3.8-0.4-0.3-2 1.3 0-2.9 2 0.5 3 2.9 1-0.3 0.2-1.2-1.2-1.3-2-0.1-1-3.4-0.9 0.8 0.3 1-0.4 0.9-1 0-0.7-0.9 1.6-1-0.3-3 1.4-3.9 2 0.5 1 1.9 1-0.3 0.2-1.2-1.2-1.5-1 0.1-1-0.6-1 0.8-2-1.1-0.4-0.7 0.4-2.2 1 0.4 0.4 0.8-0.4 1 1 0.7 1-2.7 1 2.7 2-0.7-1-0.4-1-2.5-1 0.8-1-0.6-1 0.4-0.3-2.7 1.2-1 0.1-2 2 1.1 1 1.6 1.2-0.7-1.2-1.7-2-0.7-1 0.3-0.7-0.9 1.3-1 0-1 0.8-1-2.4-1.2-0.3-1.8 1.2-1-0.2-2 1.3-2.9 1-0.5 2 1 1.3-1.6-2.3-0.7-1 0.5-0.5-0.8 0.5-1.8 1 1.7 1-0.2 0.3-0.7-1.3-2 1-0.8 2 1.1 1.2-0.3-1.5-1 0-1-1.2-1 0.8-1-1.3-0.7-2 0.3-0.5-1.6 0.5-0.9 1 1.7 1-0.2 0.3-0.6-1.3-1.9-1 0.4-0.8-0.5 1.8-0.2 2-1.1 0.5 0.3-0.5 1.9 1.3-1.9-1.8-2 0.8-1-1.3-0.7-2 0.4-0.5-0.7 0.5-1.8 1 1.7 1-0.2 0.3-0.7-1.2-2 0.9-0.8 1.2-0.2-0.2 2 1 0.1-0.7-1.1 1-1-1.6-2 0.6-1-1.3-1 0.3-1-1.7-1 1.1-1-1.7-2 1-0.7 1 0.7 1.5-1-0.5-0.7-1.9-0.3 0.9-0.2 0.3-0.8-1.2-1 0.3-1-1.3-2 0.9-0.7 1.3 0.7-0.7 1 0.4 0.3 1-0.5 1 0.6 1-0.4-2-1.7 0-1.5-1.9 0.2 0.9-0.2 0.4-0.8-1.3-1 0.3-1-1.3-2 0.9-0.6 1.2 0.6-0.5 1 0.3 0.3 1-0.6 0.5 0.3-0.8 1 0.3 0.4 1.7-1.4-1.2-1 1.6-1-1.1-0.3-1 0.6 0.3-1.3-2.3-2 0.5-1-1.3-1 0.8-0.9 2 2.3 1-1.2-1.3-0.2 2.2-2-0.9-0.4-1 0.7 0-1.3-2.8-4 0.8-0.6 1 0.6-0.2 1 1.2 0.3 1.1-1.3-1.3-1 1.8-1-1.6-0.4-1.7-1.6 0-1-1.1-1 0.8-0.7 1 1.1 2-1.2-1.4-1.2 4.4-4.7 1.5-4.3-0.5-0.5-3 5.8-3-1.2 0 1.3 2-0.3 0.2 0.9-1.2 1.5-1.5-0.5-0.1-1-1.2-1 3.9-3-1.1-0.6-1 0.2-2.4-3.6 0.4-0.9 1 1.3 0.9-0.4 1.4-2-0.3-0.5-1 0.1-1.4-1.6 0-1-1.3-1 0.7-0.7 3 3.4 1 0 2.3-2.7 2.1-6-0.5-1-1.8 5-1.9 2-0.2 1.1-1 0.2-1.1-1.3 1.2-1-0.1-1.3-1-0.2-2.5-2.5 0.5-0.9 3 2.7 1-0.1 3.3-5.7 0.2-2-0.7 0-1.5 4-2.3 2.2-1.4-1.2 1.4-2.3-2-0.8-2.4-2.9 0.4-0.6 2 2.2 2 1.3 1-0.2 2.1-3.7 1.3-4-0.5-1-1.5 4-2.4 3.2-1.1-1.2 0.1-1.5 1-0.3 3.4-6.2-0.4-1.9-1.8 3.9-2.2 2.1-0.7-0.1 1-2 0-2 0.7-0.2 2.4-3.8 1-4-0.4-0.5-0.4 0.5-0.4 2-1.1 2-2.1 2.1-0.7-2.1 3.1-4 2-6-0.4-0.9-1.9 4.9-2.1 2.6-0.8-0.6 0.1-1 4-7 0.2-2-0.5-0.4-0.8 2.4-2.2 3.1-1 0.3-0.2-1.4 2.7-4 1.8-4 0.1-2-0.4-0.5-0.5 0.5-0.1 2-2.4 3.8-1 0.7-0.4-0.5 3.8-8 0.1-1-0.5-0.7-0.5 0.7-0.1 1-2.4 3.5-0.5-0.5 0-1 2-3 1.9-5-0.4-1.6-0.5 0.6-0.2 2-2.3 3.5-1-0.5 3.3-6 0.2-2-0.5-0.5-0.5 0.5-0.5 1.8-2 2.5-0.2-1.3 2.4-4 0.4-2 0.4-0.4 0.4 0.4 0.1 2 1 1 0.2 2 0.9 1 5.3 15 11.1 27.1 8 15.9 5 7.8 1.5 1.2-0.5-2.1-8.7-15.9-8-17-10.7-26-4.3-12-0.8-1-0.2-2-0.8-1-0.1-1-1-1 0.2-2 0.7 0 0.3 2 1.8 3 7.6 19 12 26 6 10.8 6 8.3 0.5-0.1-0.5-1.5-10.4-18.5-8.3-17-14.7-33-1.2-4-0.9-1 0-1 0.5-0.4 12 25.4 10 19.5 6 10.3 5 6.7 0-1.6-15.5-27.9-19-38 0.5-0.8 19 33.9 6 10 6 8 0-1.3-18-31.9-15.4-24.9 0.4-0.9 27 38.4 0-1.5-2-4.1-6-9.9-20.4-27 0.4-0.5 21 22.3 2 1.6 0-1.4-5-7-4.7-5-14.3-13.5-3.5-2.5 0.9-1-0.4-1 1.5 0 1.4-1-1.4-2zM264.3 82.5l2 0-0.8-0.4zM266.4 81.5l0.1 0.4 2.3-0.4-0.3-0.6zM294.5 30.1l0 2 0.4-1.6zM295.5 27.8l-0.4 1.7 0.4 0.4 0.5-1.4zM296.5 25.4l-0.4 1.1 0.4 1.1 0.4-2.1zM297.5 23.2l-0.4 1.3 0.4 0.9 0.5-1.9zM342.5 98.2l0 1.5 0.5-0.2zM344.5 101.1l-0.4 0.4 0.4 1.3 0.8-0.3zM345.5 102.6l-0.4 0.9 2.4 3.5 0.4-0.5zM359.5 137.6l0 1.8 4 5.3 1-0.2zM364.5 144.5l0 1.7 1 1.4 0.7-0.1zM374.9 159.5l6.6 8.2 0.6-0.2-3.6-5.5-2.7-2.5zM389.9 178.5l5.6 7.5 0.5-0.5-0.3-1-5.2-6.1zM396.5 103.2l-4.3 3.3 0.3 0.5 3.8-2.5zM142.5 240.5l2 2.4 1-1.2 1 1.3 0.8-0.5 0.3-1-1.6-1zM151.5 238.6l-1.9 0.9-0.1 2.8-1.6 1.2 0.6 1.5 1-2.1 1 0.4 0.6-2.8 0.6-1zM151.5 238.5l2 1.2 1 2.3 1-0.1 3.2-3.4-0.2-0.8-3 2.7-1-1.4-2-1.3zM153.5 234l-0.5 0.5 0.5 2.8 1 0.6 1-0.4 1 0.4 1.2-1.4-0.2-0.9-3 0.9zM153.5 223.7l-1.5 3.8 3.5-0.5 1 0.9 1.2-1.4-0.2-0.9-3 0.6zM152.6 214.5l0.3 1-0.7 1 4.3 1.6 1.2-1.6-1.2-0.6-2 0.4-1-2.6zM154.5 199.7l-0.4 2.8-1.3 2-0.1 2 3.8 2.5 1.3-1.5-1.3-0.6-2 0.3-0.5-1.7 0.5-1.1 1 1.8 1-0.2-0.1-1.5-1.8-1 1.9-1.4 1-0.1 1.3-1.5-1.2 0-2.1 1.4zM162.5 116.8l-2.7 5.7-1.3 1.4-2-1.2 0 1.2 1 0.2 1 1.1 1-0.2 2.2-3.5 1.2-3zM159.5 65.9l-0.5 1.6 0.5 1.3 0.5-0.3zM160.5 68.8l-0.5 0.7 0.1 2 0.9 1 0.2 2 0.9 1 0.2 2 0.8 1 0.2 2 0.8 1 0.3 2 10.1 27.2 8 18 8 14.2 0.7-0.4-10.2-21-7.1-16-7-18zM151.2 20.5l17.3 12 1.5 0-2.1-3-5.2-4-5.2-3-5-2.1zM277.5 246.3l-0.4 1.2 0.4 0.3 0.6-1.3zM279.5 243.2l-0.7 1.3 0.7 0.2zM396.5 186l-0.4 0.5 0.4 1.1 0.4-0.1zM404.5 198.1l-0.1 1.4 1.1 1.8 0.6-0.8zM142.5 244.4l2 2.5 1-1.2 1 1.3 0.8-0.5 0.3-1-1.1-1.1-3-0.4zM152.5 240l-1 3.5-1 0.7-0.3 1.3-1.7 1-0.6 1 0.6 1.5 1-1.8 1-0.2 1 0.9 1-1.7 1 3 1 0 1-0.8 1 0.3 1.1-1.2-0.1-1.2-1 0-2 1.2-2-2.5-1 1.1-0.7-0.6 1.7-1.6 1 0.8 1-0.2 1 1.3 1.2-1.3-0.2-1-1-0.5-2 0.2zM158.5 240.3l-0.7 1.2 1.3 0zM154.5 212.4l2-1.5 1 0.1 1.3-1.5-0.3-0.5-1 0.1-2 1.6-1-1.9-0.6 1.7zM159.9 168.5l-3.4 0.1 0 1.5 3 0.5-1.3-1.1 0.3-0.9zM160.5 75.1l-0.5 2.4 0.5 0.5 0.4-0.5zM161.5 78.2l-0.4 1.3 0.4 1.7 0.4-0.7zM162.5 81.3l-0.5 0.2 0.1 2 1 2 0.2 2 0.8 1 0.2 2 0.7 1 0.3 2 0.7 1 2.5 8.7 8 22.3 9 21 6 10.9 0.4-0.9-10-22-7-17-7-19zM193.5 232l-0.4 0.5 0.4 2.1zM260.5 82.8l-5 2.9 0-1.5-1 0.6-1-0.7-2.1 2.4-1.7 3-4.7 3 0.8 1-2.3 2.6-9.1 5.4-0.7 1 0.9 0 7.9-4.2 8-8.1 2.4-1.7 0.6-1.5 1-0.7 1 0.5 4.9-2.3 0.5-1zM142.5 248.4l2 2.5 1-1.2 1 1.3 0.8-0.5 0.3-1-1.1-1.1-3-0.4zM150.5 248.4l-0.4 1.1-2.2 2 0.6 1.5 1-1.8 1-0.2zM153.5 250l0.4 2.5 0.6 1 1-0.2 1-1.8-1-0.1-1-1.4zM158.1 249.5l-0.6-0.3-1 1 0 1.3 1.3-1zM161.5 85l-0.5 2.5 0.5 0.4 0.4-1.4zM162.5 88.3l-0.4 2.2 0.4 0.9 0.4-1.9zM163.5 91.7l-0.4 1.8 0.4 1.4 0.4-0.4zM164.5 95.1l-0.4 0.4 0.4 2.8 0.4-0.8zM165.5 98.3l-0.7 0.2 0.5 3 0.8 1 2.3 9 9.1 26.9 9 22.4 5 9.9 0.7-0.2-15.4-38-7-20zM142.5 252.5l2 2.2 1-1 1 1.3 0.8-0.5 0.3-1-1.1-1.1-3-0.4zM150.5 252.4l-0.4 1.1-2.2 2 0.6 1.6 1-1.9 1-0.2zM155.5 253.8l-0.7 0.7 0.7 2.5 1 0.4 0.3-1.9-0.3-1zM161.5 91.8l-0.6 2.7 0.6 0.1 0.4-2.1zM162.5 95.3l-0.4 2.2 0.4 0.7 0.4-1.7zM163.5 99l-0.4 1.5 0.4 1.5zM164.5 102.4l-0.4 2.1 0.4 1.3zM165.5 106.1l-0.4 1.4 0.4 1.9 0.4-0.9zM166.5 109.4l-0.7 0.1 0.7 3.4 0.6-0.4zM167.5 112.9l-0.4 0.6 0.3 3 0.7 1 2.3 9 8.1 25.4 8 21.5 6 13.2 0-2.2-8.7-21.9-7.9-22-7.1-22-0.2-2-0.7-1zM150.5 256.4l-0.4 1.1-1.6 1 0 2.3 1-1.6 1-0.2zM157.5 257.3l-1 0.2-0.5 1 0.5 1.3 1.3-1.3zM158.5 218.2l-2 1 0 1.3 1-0.5zM162.5 102.3l-0.5 2.2 0.5 0.7 0.4-1.7zM163.5 106.2l-0.4 2.3 0.4 0.7 0.4-1.7zM164.5 110.1l-0.4 1.4 0.4 1.6zM165.5 113.8l-0.4 1.7 0.4 1.5zM167.5 121.2l0 3.5 0.6-0.2zM168.5 124.7l0 3.8 0.7 1 1.2 6 0.7 1 0.4 2.9 6 20.3 8 23.9 7 17.7 0.4-0.8-0.4-1.9-13.5-38.1-7.2-23-2.2-9-0.7-1zM150.5 260.4l-1 2.5 1 0.1zM158.5 220.3l-1 1.1 0 1.2 1.8-1.1zM163.5 113.6l-0.5 1.9 0.5 1.1 0.4-2.1zM164.5 117.7l-0.4 1.8 0.4 1.3zM165.5 121.6l-0.4 1.9 0.4 1.4zM169.5 137.3l-0.4 0.2 0.4 3.5 0.5-0.5zM170.5 141l-0.4 0.5 0.2 3 0.7 1 0.4 3 0.7 1 0.4 3 0.6 1 0.4 2.8 6 21.2 7 22.3 6 16.6 0.4-0.9-0.4-2.2-13.7-41.8-6.3-23-0.6-1zM158.5 259.3l-1.5 1.2 0.5 1.7 1.5-1.7zM163.5 121.1l-0.5 2.4 0.5 0.4 0.4-1.4zM164.5 125.3l-0.4 2.2 0.4 0.9 0.4-1.9zM165.5 129.6l-0.4 1.9 0.4 1.3zM171.5 154.4l-0.5 0.1 0.5 3.9 0.4-0.9zM171.7 158.5l9.8 38 11 35.4 0.5-0.4-0.5-2.7-11.6-38.3-7.9-29-0.4-3zM157.9 262.5l0.2 1 1.4 1.2 1.1-0.2-2.1-2.3zM158.7 228.5l-0.2-1-3 2.5-1-2-1.5 0.5 1 1 0.5 1.6 1 0 1-1.1 1-0.1zM163.5 128.6l-1.7 4.9-1.9 2-0.4 1.3-1.3 0.7 1.3 0.6 2.3-2.6 2-5zM164.5 133.2l-0.4 2.3 0.4 0.6 0.4-1.6zM165.5 137.8l-0.4 1.7 0.4 1.4zM166.5 142.3l-0.4 2.2 0.4 1.2zM172.5 168.4l-0.2 3.1 0.9 2 0.3 3.2 0.7-0.2zM174.5 176.6l-0.4 0.9 0.3 3 0.8 2 0.3 2.7 0.7 1.3 0.3 2.8 0.7 1.2 4.3 18.6 10 35.5 0.7-0.1-13.3-49zM158.5 230.2l-1 1.1 0 1.2 1-1 1 0.4zM162.5 139l-0.6 1.5-1.1 1 0 1-1.3 1.4-1 0.3 0 0.6 1 0.2 2.5-2.5 0.9-2zM163.5 136.2l-0.5 2.3 0.5 0.5 0.4-1.5zM164.5 141.2l-0.4 2.3 0.4 0.5 0.4-1.5zM165.5 146.1l-0.4 2.4 0.4 0.6zM166.5 151l-0.4 1.5 0.4 1.5zM174.5 187.5l0 4.4 0.5-0.4zM175.5 192l-0.4 0.5 0.4 3.9 0.4-0.9zM176.5 196.3l-0.7 0.2 2.7 13 12 47.3 0-3.7-8.5-32.6zM191.5 257.2l0 3.4 0.7-0.1zM163.5 144.1l-1.7 4.4-3.3 3 2 0.3 1.2-1.3 2-4 0.2-2zM164.5 149.3l-0.5 2.2 0.5 0.6 0.4-1.6zM165.5 154.4l-0.4 2.1 0.4 1.1 0.4-2.1zM166.5 159.6l-0.4 1.9 0.4 1.3zM175.5 203.4l0 4.4 0.4-0.3zM176.5 208.1l0 4.5 0.5-0.1zM177.5 212.7l0 4.5 0.4-0.7zM178.5 217.3l-0.6 0.2 0.6 4.4 0.5 0.6 2.5 13 7 29.4 0.4-0.4-0.4-3.8-7.6-31.2zM189.5 265.3l0 3.8 1 3.5 0-3.6zM163.5 152.2l-2.7 5.3-1.3 1.2 1 0.3 2.2-2.5 1.3-3zM164.5 157.8l-1.8 4.7-3.5 4 1.3 0.3 2.3-2.3 2-5zM165.5 163.2l-0.4 1.3 0.4 1.5 0.4-1.5zM166.5 168.5l-0.4 2 0.4 1.2zM178.5 230l0 4.6 0.4-0.1zM179.5 234.8l0 4.7 0.6 0zM180.5 239.5l-0.4 1 0.4 3.9 0.4-0.9zM181.5 244.3l-0.6 0.2 0.6 4.6 0.7 1.4 3.3 17.2 0.9-0.2-3.9-18.4-0.5-0.6zM186.5 267.5l-0.4 1 0.4 3.6 0.4-0.6zM187.5 272.3l0 4.2 0.7 0zM188.5 276.5l-0.4 1 0.4 2.6zM163.5 168.9l-0.6 0.6 0.1 1-3.3 4 0.8 0.2 2.4-2.2 0.1-1 0.9-1zM164.5 166.2l-0.5 1.3 0.5 1.3 0.4-1.3zM165.5 172.1l-0.5 1.4 0.5 1.3 0.4-1.3zM166.5 177.7l-0.4 1.8 0.4 1.3zM167.5 183.4l-0.4 2.1 0.4 1.2zM181.5 258.3l0 4.8 0.4-0.6zM182.5 263.4l0 4.7 0.4-0.6zM183.5 268.3l-0.4 0.2 0.4 4.6 0.4-0.6zM184.5 273.4l0 4.6 0.4-0.5zM164.5 175l-2.5 5.5-1.1 1 0.6 0.5 2.2-2.5 1.2-3zM165.5 181.1l-0.5 1.4 0.5 1.3 0.4-1.3zM166.5 187.2l-0.4 1.3 0.4 1.5 0.4-1.5zM164.3 186.5l-1.2 0 0 1-3.1 3 1.5 0.2 1-0.9zM164.5 184l-0.5 0.5 0.5 1.9 0.4-0.9zM165.5 190.3l-0.5 1.2 0.5 1.4 0.4-1.4zM166.5 196.7l-0.4 2.8 0.4 0.2zM167.5 203.1l-0.4 1.4 0.4 1.7zM168.5 209.4l-0.4 2.1 0.4 1.2zM164.5 193.1l-1.4 3.4-2.7 3 1.1 0 2-2.2 1.4-2.8zM165.5 199.9l-1.7 4.6 0.7 0.3 1.4-3.3zM166.5 206.5l-0.5 3 0.5 0.1zM163.5 204.7l-2.6 3.8 0.6 0.1 2.2-2.1zM164.5 212.3l-1.5 3.2 0.5 0.5 1-1.5 0.6-2zM165.5 209.6l-0.5 0.9 0.5 1.7zM166.5 216.8l-0.5 2.7 0.5 0.1zM167.5 223.8l-0.4 1.7 0.4 1.3zM168.5 230.8l-0.4 1.7 0.4 1.6zM165.1 222.5l-0.9 0 0 1-1.3 2 0.6 0.4zM165.5 219.8l-0.4 0.7 0.4 1.8zM166.5 227.3l-0.4 1.2 0.4 1.4zM164.5 232.6l-0.9 1.9 1.1 0zM165.5 230.2l-0.8 2.3 0.9 0 0.3-2zM166.5 238.1l-0.4 2.4 0.4 0.2zM164.3 245.5l-0.8-0.1-0.7 1.1 0.7 0.2zM164.5 243.4l0 2 0.7-1.9zM165.5 241l-0.4 0.5 0.4 1.8zM167.5 257.4l-0.4 1.1 0.4 1.9zM164.5 256.5l-1-0.1-0.6 1.1 0.6 0.2zM165.4 254.5l-1 0 0.1 2zM164.5 266.1l-0.5 1.4 0.5 0.3zM165.6 263.5l-0.5 2 0.4 0.3zM162.2 269.5l0.3 0.8 1-0.8zM139.5 30l1 0 0 0.9-1 0zM153.5 34l0.5 1.5-0.5 0.2-0.4-1.2zM139.5 34.7l1 0 0 2.3-1 0zM152.5 36.2l0.1 1.3-0.6 0zM139.5 39l0-1.1 1 0 0 1.1zM153.5 38.1l0 1.7-0.5-0.3zM154.5 40.1l0.5 1.4-0.5 0.5-0.5-0.5zM153.5 42.2l0 1.7-0.6-0.4zM139.5 43.2l1 0 0 1.8-1 0zM154.5 44.5l0.2 2-1.2 1.6-0.6-0.6zM155.5 46.9l0.5 1.6-2.7 4-0.2-1zM155.5 51.8l0.4 1.7-1.4 2.3-0.9-0.3zM156.8 54.5l0.2 2-1.1 1-1.4 3-0.7-1 2.5-5zM144.3 92.5l1.4 0-0.2 0.6zM153 94.5l0.5-0.6 1.9 1.6-0.9 0.5zM145.6 96.5l-0.1 1-1.3 0 0.3-0.7zM153.5 98.9l2 1.6 0 1.2-2.4-2.2zM142.9 102.5l0.6-1.2 1 0.2 1-0.6 0.3 0.6-1.3 1.3zM152.5 106.5l0 1-1 0.1zM153.1 109.5l0.4-0.6 0.8 0.6-0.8 0.6zM153.1 114.5l0.4-0.7 0.7 0.7-0.7 0.6zM152.6 116.5l-0.1 1-2.2 0zM153.5 119l0.4 1.5-0.4 0.3zM153.1 125.5l0.4-0.7 0.5 0.7-0.5 0.6zM153.9 127.5l0.6-0.7 0.9 0.7-0.9 1zM149.9 130.5l1.6-0.4 0.3 0.4zM153.5 129.9l0.5 1.6-0.5 0.6-0.5-0.6zM150.2 133.5l1.3-0.4 0.6 0.4zM153.9 133.5l0.6-0.7 0.9 0.7-0.9 0.8zM153.5 135.7l0.4 1.8-1.4 1.3-0.3-0.3zM154 139.5l0.5-0.7 0.8 0.7-0.8 1zM153.5 141.6l0 2.6-1.6 0.3zM150.4 145.5l1.1-0.6 0.3 0.6zM154.5 144.8l0.9 1.7-0.9 0.6-0.4-1.6zM153.5 147.5l0.3 2-1.3 1.3-0.3-0.3zM150.1 151.5l1.4-0.5 0.6 0.5-0.6 0.4zM154 152.5l0.5-0.9 0.9 0.9-0.9 0.8zM148.9 154.5l2.6-0.6 0.3 0.6-1.3 0.5zM153.5 154.5l0 2.9-1-0.2-0.3-0.7zM150.3 158.5l0.4-1 1.6 0-1.1 1zM154.5 157.7l1 1.8-1 0.7-0.4-0.7zM151.8 160.5l-0.2 1-1.1 0.5-1.3-0.5 0.3-0.7 1 0.2zM153.5 160.4l0.8 1.1-0.7 1-0.1 2-1.3-1 0.9-1zM149.1 164.5l0.4-0.5 1 0.7 1-0.6 0.7 0.4 0.6 2-0.6 0 0.1-1-0.8-0.3-1 0.7zM154.5 164.8l1 1.7-1 0.7-0.5-0.7zM151.8 167.5l-0.1 1-1.2 0.7-1.6-0.7zM153.5 167.4l1 1.1-0.9 1 0.5 2-1.6-0.3-0.3-0.7 1-1zM152.1 171.5l0 1-1.6 0.7-1.4-0.7 0.4-0.7zM144.5 171.6l1.2 1.9-0.2 1.3-0.3-1.3-1.2-1zM154.5 171.6l0.7 1.9-0.7 0.8-0.5-0.8zM156.8 176.5l-1.3 0.9-1-1.8-1 2.6-1 0.8-0.4-0.5 1.4-3-0.5-1 0.8 0zM148.1 175.5l0.4-0.4 1 0.8 1-0.1 1-1 0.4 0.7-1.4 1.6-1 0zM147.9 179.5l0.6-0.3 1 0.7 1 0 1-0.9 1.2 1.5-0.2 1.3-1-1.4-2 0.9-1-0.5zM144.1 181.5l0.4-0.8 1 0 2 2.6 2 1.3 1.5-1.1 0.5-1.2 0.3 1.2-2.3 2.5-1-0.1-2.7-3.4-1.3 0zM155.5 182.9l1 1.9-1 0.5-1-1.7-0.8 0.9-0.2 1.9-1 0.7-0.2-1.6 1-1 0-2 1.2 0.8zM152.8 188.5l-0.3 1.3-1-0.9-2 1.8-3-0.7-1 0.5-0.5-1 0.5-1 1-0.4 3 0.9 2-1.9zM153.5 190.3l1 0.9 1-0.3 1.3 1.6-1.3 0.8-1-1.7-1.3 2.9 0.3 1-1-0.1-0.2-1.9 0.9-1zM151.5 190.8l0.4 0.7-0.4 1.1-0.6-0.1zM150.5 192.6l0.5 0.9-2.5 2.6-2.6 1.4-0.4 1.6-0.5-0.6 0.3-2 1.2-1.5 2-0.6zM152.5 195.7l0.2 1.8 1.2 1-0.4 0.6-2-1.2-0.4 0.6 0.6 3-0.5 0 0-2-0.7-0.1-3.4 4.1-0.6 1.9-0.3-1.9 0.9-2 3.8-4 0.6-1.6zM150.5 201.9l0.3 1.6-3.3 6.2-0.3-2.2zM150.5 207.6l1.3 1.9-0.3 1.6-1-1.2-0.4 0.6 0.8 2-0.4 1.8-1-2.2-1 2.7-0.3-2.3 1.8-3zM145.5 209.9l1 0 0.4 0.6-0.4 2.6-1.1-1.6zM147.5 215.1l0.5 0.4-0.3 1 1.2 2-0.4 2.3-1.4-3.3zM149.5 214.9l0.4 0.6-0.4 1.7-0.5-1.7zM145.2 220.5l0.3-0.5 1.4 0.5-0.4 0.6zM147.5 221.6l0.3 0.9-0.7 1 0.7 1-0.3 0.7-1 0.2-0.4-0.9zM149.5 221.9l1.4 1.6-0.4 1 0.6 1-0.6 0.4-1.3-1.4zM148.5 226l1.4 1.5-0.4 2.7-1.1-0.7zM144.5 227.4l1.2 3.1-1.2 1.4-0.5-3.4zM146.5 226.9l0 2.3-0.4-0.7zM146.2 232.5l1.3-1.2 1 0.3 0.4 0.9-0.4 0.9-1-0.8-1 0.7zM147.5 237.4l-0.4-1.9 0.4-0.7 2 0.3 1-0.6 0.4 1-0.4 1-2-0.6z"/>
<path fill="#a1bfc1" d="M153.7 11.5l0.6-2 300.2 0 0 306-315 0 0-269.4 1 0 0.4 1.4 0.3 70 0.2 24 0.5 2 0.6 92.4 2 3 1-0.5 2 0.4 1 2.4 1.1 0.3-1.3 1-0.3-1-1.5-1-4-0.9 0 1.3 2 2.3 1-0.8 2 0.8 0.6 1.3-0.6 0.7-1-1.1-4-0.7 0 1.5 2 2.3 1-0.8 2 0.8 0.6 1.3-0.6 0.7-1-1.1-4-0.7 0 1.5 2 2.3 1-0.8 2 0.8 0.6 1.3-0.6 0.7-1-1.1-4-0.7 0 1.5 2 1.9 1-0.4 2 0.8 1.3 2.3-1.4 0 1.1 3.5 1-1 0.4 0.5-0.5 1 0.1 2 1-0.1 0.2-2.9-0.5-1 0.6-1-0.6-3 0.6-1-0.6-3 0.6-1 0.3-2 1.4-1.7 0.3 1.7-0.4 1 1.9 4 3.3 10 1.2 1-0.3 1.1 1-0.4 1 0.5 1.5-1.2-1.5-0.4-1.4-1.6 0.4-0.6 1 0.6 2.1-1-2.1-0.3-2.4-2.7 0-1-1.1-1-0.1-2-1.3-1 0.9-1.8 1-0.6 0.4 0.4-0.7 1 0.3 1.4 1-1 1 0.9 2-0.1-3.4-3.2 0.4-0.7 2 1.2 2-0.7-2-0.2-2.5-2.6 0-1-1.7-1 0.6-2-1.4-0.8-2 0-0.5-1.2 0.5-1.5 1 2.3 1 0 1-1.5 1-0.5-0.3 2.2 1.1 2 1.2 1.2 1 0.1 1-0.6-1-0.3-2.4-2.4 0.4-0.4 2 1 1.4-0.6-1.4-0.4-1.5-1.6 0.5-0.5 1 0.7 1-0.1 1.1-1.1-2.1-0.2-2-2.1-1 0.6-0.3-0.3 0.7-1-0.4-1.2-3 0.9-0.6-1.7 0.6-0.7 1 1.5 1 0.2 0.4-2-1.3-2 1.9-1.3 0.3 0.3-0.9 2 0.6 0.3 1-0.7 0.5 0.4-0.9 1 0.4 0.9 2 1.2 1.3-1.1-2.7-1 0.4-0.6 2.1-0.4-2.5-2 0.4-0.5 1 0.3 2.1-0.8-2.1-0.3-1-0.8-2.7-3.9 0.1-1-1.3-2 2-1-0.6 2 0.5 0.4 1-0.8 0.5 0.4-0.9 1 0.4 1 2 1 1.2-1-2.6-1 2.5-1-2.5-2 0.4-0.4 1 0.7 2.1-1.3-3.1-0.5-2-3.1-2-0.4-1 0.6-0.4-1.6 0.4-0.7 1 1.7 1-0.1 1-1.8 2 2.3 1.5-0.4-2.2-2 1.7 0.1 1.2-1.1-2.6-1 2.7-1-2.2-1-2.1-2.7-1-0.3 1-1.8 2 2 1 0 1.2-1.2-2.8-1 2.8-1-2.5-1 2.5-1-2.2-0.8-1.3-1.2-0.1-1-1.4-1 0.3-1-1.2-2 0.7-0.6 0.9 0.6-0.4 1 2.5 2.4 1.2-0.4-0.9-2 1.8-1-2.5-1 2.6-1-2.2-0.6-2.7-2.4 0.7-1.7 1 1.2 2.4-0.5-1.9-1 1.9-1-1.7-1 1.8-1-1.8-1 0.3-0.5 2 0.6-0.1-1.1 2.5-3 1.2-4 0.8-1 1.1-6-0.7 0-1.5 6-2 3 0 1-1.2 1 0 1-1.1 0.3-1.4-1.3 1.5-1-1.3-1 1.5-1-1.5-1 2.4 0-0.6-1 2.1-2 0.1-1 0.8-1 1.8-5 0.1-2 0.8-1 0.1-3-0.6 0-0.3 3-1 1-0.1 2-0.8 1-0.5 2-1 1 0.1 1-2.2 2.4-1.8-1.4 1.6-1-1.4-1 1.9-1-1.8-1 2.7 0-0.5-1 1.9-2 1.6-4 2.2-8-0.4-1.8-0.4 0.8-0.1 2-0.8 1-1.4 5-2.3 4.4-1 0.9-2.1-1.3 2.3-1-2.3-1 2.4-1-0.9-1 1.8 0-0.3-1 2.5-4 2-6 0.1-2-0.5-0.6-1.7 5.6-2.3 4.4-1.5 0.6 0.2 1-0.7 0.2-0.7-1.2 1.1-1-1.5-1 2.3 0-1.2-1.8-1.1-0.2 2.1-0.1 1.5-1.9 1.9-4 2-7-0.4-1.9-0.6 2.9-0.9 1-0.2 2-3.3 6.2-1.9-2.2 0.9-0.3 2.8-4.7 2.6-7 0.1-2 0.9-1-0.1-3-0.5 0-0.3 3-0.9 1-0.2 2-0.9 1-0.3 2-1 2-2.2 1.5-1.1-1.5 1.1-0.3 1.2-1.7-0.2-1 2.5-4 1.9-6 0.1-2-0.5-0.4-1.7 5.4-2.3 4.2-1 0.3-0.9-1.5 0.9-0.4 4.4-9.6 0.2-2 0.8-1-0.4-3.1-0.6 3.1-0.9 1-0.2 2-2.1 4-2.4 1 3.6-7 1.9-5 0.3-3 0.8-1 0-2-0.4-0.6-0.5 0.6 0 2-2.2 6-2.3 4-1 0.9-0.3-0.9 0.8-1-0.1-2 3.1-5 1.9-6 0.1-2-0.5-0.5-0.4 0.5-0.2 2-3.4 7.2-1.2-0.2 0-1 3.7-7 1.1-5 0.9-1-0.5-2.7-2.9 8.7-2.1 2.9-0.4-0.9 4.9-12 0-2-0.5-0.4-0.4 0.4-0.2 2-1.2 3-2.2 3.9-1.1 0.1 4.4-10 0.7-2.9 6.8 22.9 12.2 35 10 22.7 5 9.1 2 2.5 0.3-0.3-1.3-4.3-12.6-26.7-8-20-10.9-32-2.3-9-0.7-1-0.1-2-0.9-1 0-2-0.5-0.7-0.6 0.7-0.1 2-0.9 1-1.4 3.6-1 1.1-0.4-0.7 2.9-6 1.2-5 0.4 0 0.4 3 1 1 0.1 2 0.8 1 0.2 2 0.8 1 0.2 2 6.4 18.7 11 28.3 9 18.4 4 6.6 3 3.4 0.4-0.4-0.6-2-12.5-24-10-23-8.8-24-7-22 0.5-1.5 0.4 0.5 0.1 2 0.9 1 0.2 2 0.9 1 0.2 2 0.8 1 0.2 2 0.8 1 0.3 2 8.2 22 10 22.9 7 13.1 4 6.1 3 3.6 1 0.7 0.1-1.4-11.9-21-8.8-18-10.8-27-7.1-21-0.8-1-0.2-2 0.5-0.7 0.5 0.7 0.2 2 0.8 1 9.4 25 11.1 25 10 17 5 6.1 1.3 0.9 0.2-1-12.1-20-6.9-13-11-25-10-26 0-1 0.8 0 0.3 2 0.9 1 12.5 29.9 10 20.2 9 13.9 5 5.4 2 1.3 0.4-0.7-11-16-8.1-14-8.8-18-14.9-34 0-1 0.6 0 14.8 31.4 11 20.6 5 7.8 5 6.6 6 5.7 1 0.4 0.4-0.5-11-15-8-13-8.2-15-17.6-35 0.4-1 17 30.8 11 18.2 9 11.8 3 2.6 0.4-0.4-16.1-25-16.3-28-9.4-15-0.3-1 0.7-0.1 27 40.1 8 9.4 0.5-0.4-1.5-3.1-14-22-10-13.9-11.6-15 0.6-0.4 23 25.6 4 3.4-0.1-1.6-1.6-3-5.3-7-9.4-10-11.9-11 0.3-0.6 19.5 13.6 2.5 1.1 0.3-1.1-4.5-5-7.1-5-10.7-5.3-1-0.2-1 0.8-2.1-1.3 0.1-2.2 3.6-0.8-0.7-2-1.4-1zM266.9 69.5l-0.4-0.2-0.6 1.2 0.6 0.1zM278.5 41.2l0 1.4 0.6-1.1zM279.5 39.3l0 1.7 0.6-1.5zM281.3 37.5l-0.9 0 0.1 1.6zM282.5 34.2l-0.4 1.3 0.4 0.3 0.6-1.3zM284.4 32.5l-1 0 0.1 1.6zM287.4 27.5l-0.9-0.3-2 3.3 0 1.9zM290.3 22.5l-0.8-0.3-2 3.1 0 2.1zM291.5 37.2l0 2 0.4-1.7zM298.5 21.2l-6.4 14.3 0.4 1.5 6.4-14.5zM326.5 69.8l0 2.2 0.7-0.5zM327.5 72l0 2.3 1 0.5zM338.3 91.5l0.2 1.6 7.5 12.4 4.5 5.4 0.4-0.4zM353.3 113.5l0.2 1.1 1-0.1zM355.5 115.6l0 1 2 1.3 0.2-0.4zM373.9 158.5l9.6 12.1 0.4-0.1-1.3-3-4.1-6-4-3.4zM396.5 102.7l-7.8 6.8 2.8-1.2 4-3.4 2.1-0.4zM431.8 93.5l-0.3-1-2.2 1zM159.4 266.5l0.1 1.1 1 0.5 1.3-0.6zM158.1 254.5l0.2 1 1.2 1.2 2-0.2-3-2.5zM164.5 102.2l-0.5 0.3 0 3 1 1 0.2 3 0.8 1 0.1 2 0.8 1 0.4 3 0.7 1 1.4 6 0.7 1 2.3 9 8.1 24.5 11 28 5 10.4 2 3.3 0.5-0.2-0.6-3-11.6-27-8-21-9.8-30zM202.5 276.2l0 2.5 0.4-0.2zM258.2 81.5l-0.7-0.2-0.7 1.2 0.7 0.1zM265.5 70.6l-7.3 9.9 0.3 0.8 7.3-9.8zM270.2 80.5l-1.7-0.1-4.4 2.1 2.4 0 1-0.8 1.7-0.2zM274.5 76.8l-0.5 0.7 0.5 1.1 0.4-1.1zM275.5 75l-0.5 1.5 0.5 0.2 0.4-1.2zM282.5 58.3l-0.4 1.2 0.4 0.7 0.5-0.7 0-1zM285.5 51.4l-1.4 4.1-0.9 1 0.3 1.8 2.6-5.8zM286.5 49.2l0 1.9 0.5-0.6zM321.5 57.8l-0.4 0.7 0.4 1.7 0.4-0.7zM322.5 60.3l-0.5 0.2 0.5 2.2 0.5-0.2zM323.5 62.9l0 1.9 0.4-0.3zM324.5 65.3l0 1.6 0.4-0.4zM356.5 133.8l0 1.4 11 15.4 1 1.1 0.5-0.2-9.5-15zM389.5 177.1l-0.5 0.4 0.5 1 5.7 7 6.3 9.3 0.7-0.3-6.1-10zM401 102.5l1.9 0-0.4-0.4zM165.5 113.6l-0.5 1.9 0.5 1.7 0.4-0.7zM166.5 117.2l-0.5 0.3 0.1 3 0.9 1 0.2 3 0.8 1 0.3 3 0.7 1 0.2 2 4.2 15 9.1 29.1 12 32 4 8.2 0.9-0.3-19.6-53-7.9-25zM265.9 78.5l-0.4-0.5-6.4 5.5-2.6 1.4-0.5-0.4 0.7-1-0.2-0.9-1 1.2-0.4-1.3-0.6-0.1-6 7.9-9.4 4.2 3.1 0 3.3-1.3-0.5 1.3-1.5 1.5-5 3.1-9.8 4.4-0.8 1 3 0 2.6-1 7-4.2 1 0.9 4-3.7 5-6.2 2.7-1.8 0.3-1.3 1 0.5 6.2-3.2 0.8-1 2.2 0-1.9-1zM282.5 237.8l-9.6 15.7 0.6 0.4 9-14.4zM402.5 194.8l-0.1 1.7 4.1 6.5 1-0.3-1-2.2zM415.5 217.3l-0.1 1.2 0.9 0zM416.5 218.7l-0.2 0.8 1 2 0.9 0zM165.5 121.4l-0.5 3.1 0.5 0.6 0.4-1.6zM166.5 125.3l-0.5 2.2 0.5 1.6 0.4-0.6zM167.5 129.3l-0.4 1.2 0.4 2.7 0.4-0.7zM168.5 133.2l-0.6 0.3 0.2 3 1 2 0.1 2 0.9 2 2.2 10 9.2 32.1 11 33.2 5 12.9 2 3.2-1-5.4-9.5-26-8.2-25-9.9-34zM230.5 108.8l1.8-0.3-0.8-0.3zM239.5 102.7l-1-0.2-6.4 5 0.4 0.8 2-0.9 1 0.1 4-3.9zM239.5 101.4l0 0.9 1 0.2-0.4-1zM251.9 120.5l-0.4-0.2-0.6 1.2 0.6 0.1zM254.5 116l-1.6 2.5 0.6 0.3 1-1.3zM256.5 112.9l-1.6 2.6 0.6 0.4 1-1.4zM257.5 111.2l-0.6 1.3 0.6 0.3 0.4-1.3zM259.5 107.8l-1 1.7 1 0zM260.5 106l-0.6 1.5 0.6 0.2zM261.5 104.2l-0.6 1.3 0.6 0.3zM166.5 133.7l-0.5 2.8 0.5 1 0.4-2zM167.5 137.9l-0.4 1.6 0.4 2.3 0.4-1.3zM168.5 142.1l-0.4 1.4 0.4 2.5 0.4-0.5zM169.5 146.1l-0.4 0.4 0.1 3 0.9 2 2.3 11 0.7 1 0.3 3 0.6 1 0.4 3 8.1 30.1 10 32.7 7 18.7 0-3.7-1.7-3.8-17.9-58-6-22-2.2-10-0.7-1-0.3-3-0.7-1zM166.5 142.1l-0.5 2.4 0.5 1.4 0.4-2.4zM167.5 146.5l-0.5 3 0.5 1 0.4-2zM168.5 151l-0.4 2.5 0.4 1.5 0.4-1.5zM169.5 155.3l-0.4 2.2 0.4 2.1 0.9-0.1zM170.5 159.5l-0.3 4 0.8 1 1.3 8 0.8 1 0.2 3 9.2 37.1 8 28.9 7 21.4 0.5-0.4-0.5-3.9-4.5-14.1-10.2-36-7.8-30-0.4-3-0.6-1zM198.5 264.1l0 3.6 1 2.8 1 1.1 0-2.1zM167.5 155.3l-0.5 3.2 0.5 0.7 0.4-1.7zM168.5 160.1l-0.4 2.4 0.4 1.6 0.4-1.6zM169.5 164.7l-0.4 1.8 0.4 2.4 0.4-1.4zM170.5 169.3l-0.4 1.2 0.4 3.2 0.5-0.2zM171.5 173.9l-0.3 3.6 0.9 2 0.2 3 0.6 1 0.5 4 0.7 1 0.2 3 0.9 2 0.2 3 0.6 1 5.5 25.2 10 39.1 3.7 11.7 1.3 5.8 1 2 0.5-0.8-0.5-3.5-1.5-3.5-13.1-50-7.4-32-0.6-1-2.3-12-0.7-1zM167.5 164.3l-0.5 3.2 0.5 0.7 0.4-2.7zM168.5 169.3l-0.4 3.2 0.4 1 0.4-3zM169.5 174.3l-0.4 3.2 0.4 1.1 0.4-2.1zM170.5 179.3l-0.4 2.2 0.4 2.2zM171.5 184.1l-0.4 2.4 0.4 2.2 0.4-0.2zM172.5 188.9l0 4.7 0.8-0.1zM173.5 193.6l-0.1 4.9 0.7 1 0.2 3 0.9 2 0.1 3 0.9 2 0.2 3 0.8 2 0.2 3 5.1 23 9 37.7 1 2.9 1 0-12.7-52.6-4.3-20.9-0.6-1.1-0.3-3-0.8-2-0.2-3-0.7-1zM167.5 173.7l-1.6 6.8-0.8 1-0.4 2-1 1 0.2 1-1.3 1 0.2 1-1.3 1.5-2 1.1 0 0.8 2 0.2 1.6-1.6 1.6-3 3.1-10zM168.5 179l-0.5 2.5 0.5 1.4 0.4-1.4zM169.5 184.2l-0.4 3.3 0.4 1 0.4-2zM170.5 189.4l-0.4 2.1 0.4 2.3zM171.5 194.5l-0.4 2 0.4 2.6zM173.5 204.7l0 5 0.5-0.2zM174.5 209.8l-0.2 4.7 0.8 1 0.2 4 0.9 2 0.1 3 0.9 2 0.2 3 0.8 2 2.2 13 8.1 36.5 0.8-0.5-0.8-4.9-8.7-38.1-3.3-17.8-0.7-1.2-0.1-3-0.9-2zM166.5 186.9l-1.7 5.6-1.1 1 0.2 1-1.3 1 0.2 1-3.1 3 0.8 0.5 1 0 1-0.9 2.2-3.6 2.2-6 0.1-2zM167.5 183.1l-0.6 2.4 0.6 1.4 0.5-2.4zM168.5 188.7l-0.5 2.8 0.5 1.3 0.4-2.3zM169.5 194.3l-0.4 3.2 0.4 1.1 0.4-3.1zM170.5 199.8l-0.4 1.7 0.4 2.7zM171.5 205.3l-0.4 2.2 0.4 2.3zM174.5 221.4l0 5.2 0.4-0.1zM175.5 226.8l0 5.2 0.5-0.5zM176.5 232.1l-0.5 0.4 0.3 4 0.8 2 0.3 4 0.8 2 0.2 3 0.8 2 0.3 3.9 0.6 1.1 4.4 24.3 1 2.8 0-4.2-6.6-30.9zM167.5 192.9l-0.5 2.6-2.1 5 0 1-0.9 1-0.5 1.7-0.9 0.3 0.3 1-2.9 3 1.5 0.5 2.7-2.5-0.1-1 0.9-1 2.9-9zM168.5 198.8l-0.5 3.7 0.5 0.3 0.4-2.3zM169.5 204.6l-0.5 2.9 0.5 1.3 0.4-1.3zM170.5 210.4l-0.4 3.1 0.4 1.4zM171.5 216.3l-0.4 3.2 0.4 1.4zM172.5 222.1l-0.4 2.4 0.4 2.4zM176.5 244.7l0 5.5 0.4-0.7zM177.5 250.3l-0.5 0.2 0.4 5 0.6 1 0.5 5 0.6 1 0.3 4 0.8 2 0.3 4 2 8.9 0-3.9-2.6-12-0.3-4-0.8-2-0.3-3.7-0.7-1.3zM167.5 202.8l-1.5 5.7-1.2 2 0.1 1-1.2 1 0.2 1-1.3 2-2.9 2 0.8 0.4 2-0.1 2.3-3.3 3.1-9zM168.5 209.1l-0.5 2.4 0.5 1.4 0.5-2.4zM169.5 215.3l-0.6 4.2 0.6 0.1 0.4-3.1zM170.5 221.4l-0.4 3.1 0.4 1.4zM171.5 227.6l-0.4 1.9 0.4 2.8zM178.5 269.4l0 5.8 0.4-0.7zM179.5 275.3l-0.5 0.2 0.5 4.8zM167.5 213.1l-1.5 5.4-1.2 2 0.1 1-1.2 1 0.2 1-3.7 4 0.3 0.3 2-0.3 2.4-3 1.1-4 0.8-1 0.2-2 0.7-1 0.2-3zM168.5 219.6l-2.6 9.9-1.1 1 0.2 1-1.2 1 0.2 1-1.3 2-2.2 1.7 0 0.5 2 0.1 1.5-1.3 0-1 1.1-1-0.1-1 0.9-1 2.9-10zM169.5 226.2l-1.4 7.3-3.3 8 0.2 1-1.1 1 0 1-2.4 2.7-1.5 0.3 0.8 1 0.7 0.2 3.5-3.2 1-4 0.8-1 0.2-2 0.8-1 1.1-6 0.9-2zM170.5 232.8l-0.4 2.7 0.4 1.7zM171.5 239.3l-0.4 3.2 0.4 1.4zM172.5 245.7l-0.4 1.8 0.4 3.1zM168.5 241.7l-1.6 6.8-0.9 1-0.3 2-0.9 1 0.2 1-3.5 4.7-1.6 0.3 0.8 1 1.8-0.4 2.5-2.6-0.1-1 0.9-1 2-6 0.1-2 0.8-1 0.3-2zM169.5 237.4l-0.6 4.1 0.6 0.2 0.4-2.2zM170.5 244.4l-0.4 3.1 0.4 1.3zM171.5 251.3l-0.4 3.2 0.4 1.3zM172.5 258.1l-0.4 3.4 0.4 1.4zM169.1 253.5l-0.8 0-0.3 3-2.1 5 0.1 1-1.1 1 0.2 1-2.3 4-1.3 1 0 1.2 1 0.2 1.3-1.4 2.2-4-0.1-1 0.8-1 2.1-7zM169.5 249.1l-0.5 2.4 0.5 1.7 0.4-2.7zM170.5 256.3l-0.4 3.2 0.4 1.2 0.4-3.2zM171.5 263.5l-0.4 3 0.4 1.7zM168.5 265.2l-0.5 3.3-1.1 2 0.2 1-1.2 2-0.4 4 3.2-9 0.4-3zM169.5 261l-0.5 2.5 0.5 1.7 0.4-2.7zM170.5 268.5l-0.5 3 0.5 1.6 0.4-2.6zM169.5 273.3l-0.5 2.2 0.5 1.8 0.4-3.8zM139.5 36.7l0-1.1 1 0 0 1.1zM155.5 42.2l0.4 1.3-0.4 0.6-0.4-0.6zM139.5 43.5l1 0 0 1.3-1 0zM155.5 47.1l0 1.8-0.4-0.4zM156.5 49.4l0.4 1.1-0.4 1.1-0.4-1.1zM155.5 52.1l0 1.7-0.5-0.3zM157.5 51.9l0.5 1.6-0.5 0.6-0.4-1.6zM156.5 54.6l0 2.2-0.6-0.3zM155.5 57.1l0 1.6-0.8-0.2zM157.5 57.3l0.4 1.2-0.4 1.3-0.5-0.3zM156.5 60l0 2-0.6-0.5zM158.5 60.1l0.5 1.4-0.5 1.2-0.4-1.2zM157.5 62.9l0 2.5-2 2.7zM158.5 65.9l0.4 0.6-0.2 2-2.2 4.1-0.6-0.1zM159.5 69l0.4 1.5-0.4 1.3-0.7-0.3zM158.5 71.8l0.4 0.7-0.4 2-2 3.2-0.2-1.2zM159.5 75l0.4 0.5-0.1 2-0.9 1-1.4 3.5-1-0.5zM160.5 78.2l0.4 2.3-3.4 7-0.1-2 2.6-5zM161.5 88.1l0.5 0.4-0.3 3-0.8 1-1.3 4-1.1 1.7-1 0.6-0.1-1.3 3.5-7zM143.4 101.5l1.1 0.3 0.2 0.7-1.6 0zM154.9 135.5l0.6-0.5 0.5 0.5-0.5 0.6zM156.5 136.3l0.7 1.2-0.7 0.2zM155.5 141.1l0.5 0.4-0.5 1.1-0.4-1.1zM156.5 142.9l1 0.6 0 1-1.5-1zM154.9 148.5l0.6-0.7 0.6 0.7-0.6 0.6zM156.5 149.3l1.9 1.2-0.9 1.3-1.5-1.3zM155.5 154.3l0.5 0.2-0.5 1.4zM156.5 156.1l2.6 3.4-0.6 0.3-2.4-2.3zM154.5 158.3l0.6 1.2-0.6 0.4zM154.9 161.5l0.6-0.5 0.8 0.5-0.8 1.2zM156.5 163.1l1 1.5 2.3 0.9-1.3 1.1-1-0.4-1.5-1.7zM154.5 165.2l0.6 1.3-0.6 0.4zM149.1 168.5l2.3 0-0.9 0.4zM155.5 168.2l0.5 0.3-0.5 1.5-0.5-1.5zM155.7 171.5l0.8-0.9 2 2.5 1.3 0.4-1.3 1.4-1.6-1.4 0.2-1zM149.2 172.5l0.3-0.5 2 0.5-1 0.5zM154.5 172.4l0.5 1.1-0.5 0.6zM148.8 176.5l1.7-0.5 0.4 0.5-1.4 0.5zM153.5 176.3l0.1 1.2-1.1 1.1 0-1.1zM155 176.5l0.5-0.8 0.9 0.8-0.9 0.7zM156.5 177.9l0.7 0.6-0.7 1.3-0.6-1.3zM148.4 179.5l2.8 1-1.7 0.6-1.1-0.6zM154.5 180l0.6 1.5-0.6 0.3zM157 180.5l0.5-0.7 1 1.1 1.7 0.6-1.7 1.4-1.6-1.4zM144.2 181.5l0.3-0.6 1.4 0.6-0.4 0.6-1 0.1zM155.5 183.2l0.8 1.3-0.8 0.6-0.5-1.6zM147.2 184.5l0.3-0.8 2 1.2 1-0.9 0.4 0.5-1.4 1.4zM153.5 185l0 0.7-1 1 0-1.2zM155.7 186.5l0.8-0.7 0.7 0.7-0.7 1zM151.5 187.3l1 1.6-1.2-0.4zM145.1 189.5l0.4-0.8 1-0.3 2 0.8 2-0.4 0.3 0.7-2.3 1-2-0.6-1 0.4zM154.5 187.9l0.7 1.6-0.7 0.3zM153.5 191.2l0 2.6-1-0.3 1-1zM155 191.5l0.5-0.2 0.9 1.2-0.9 0.7zM150.5 192.9l0.3 0.6-2.3 2.4-2 0.9-0.7-0.3 0.7-1.3 2-0.5zM151.5 196.2l0.6 0.3-0.6 1zM154.5 196l0.7 1.5-0.7 0.5zM149.5 199.2l0.5 0.3-0.4 1-2.1 2.5-0.5-0.5 0.3-1zM154.9 200.5l0.6-0.8 1 0.8-1 0.9zM157.5 202.4l-1 2-0.9-0.9zM146.5 203.1l0.4 0.4-0.4 1.6zM152.5 205.4l-1 1.5 0-1.6zM154.5 204.8l0.9 1.7-0.9 0.4-0.4-1.4zM148.5 205.8l0.4 0.7-0.4 0.8-0.4-0.8zM150.5 208.1l1.1 1.4-0.1 0.7-1.1-0.7zM153.5 209l0.1 2.5-1.1 0 0.8-1zM154.9 209.5l0.6-1 1.1 1-1.1 0.9zM145.5 211.3l0-1 1-0.1 0 0.9zM157.5 211.3l-1 2.1-1-0.9 1-1zM151.5 216.3l0-0.9 1-0.5 0 1zM154.7 218.5l0.8-0.8 1.3 0.8-1.3 1.3zM151.5 219.1l0 0.9-1 0.9 0-1.1zM153.5 218.8l0.4 1.7-0.4 0.6-0.4-0.6zM150.5 223.1l0 0.9-1 0.8 0-1zM152.5 223.1l0.6 0.4-0.6 2.6-0.4-0.6zM146.3 224.5l0.2-0.7 1.1 0.7-1.1 0.6zM154.5 223.6l1.3 1.9-1.3 0.4-0.5-1.4zM149.5 227.2l0 0.9-1 1.1 0-1.2zM144.5 227.7l0.8 2.8-0.8 0.9-0.4-2.9zM151.3 228.5l0.2-0.6 0.8 0.6-0.8 0.6zM154.7 228.5l0.8-1 1.2 1-1.2 1zM153.5 229l1.4 2.5-1.4 0-0.4-1zM150.3 230.5l1.2-0.7 0.3 0.7-0.3 0.6zM147.3 235.5l3.2-0.6 0.2 0.6-0.2 0.6-2-0.4-1 0.8zM152.5 234.5l0.4 2-0.4 0.7-0.4-0.7zM149.2 238.5l0.3-0.6 1.3 0.6-1.3 0.7zM154.2 238.5l1.3-0.8 1.3 0.8-1.3 1.6zM151.5 240l0.4 0.5-0.4 2.7-0.4-0.7zM149.5 243.6l0.7 0.9-0.7 1-1 0.2zM153.5 245.5l1-0.7 1.2 1.7-1.2 0.8zM154.8 250.5l-0.2-1 0.9-0.8 1.3 0.8-1.3 1.7z"/>
<path fill="#9cb8bc" d="M151.2 13.5l3.9-2 0.3-2 299.1 0 0 31.8-1 0-0.3 1.2 1.3 0.2 0 272.8-315 0 0-269.2 1 0 0.6 8.2 0.3 87 0.5 2 0.6 93 2 2.6 2 0 1.6 1.4-0.6 0.7-1-1-4.1-0.7 0.1 1.9 1.1 1.1-1.2 1 0.1 1.9 1.1 1.1-1.2 1 0.1 1.9 1.1 1.1-1.1 0.6 0 2.1 2 1.8 1-0.2 2 1 0.4 0.7-0.7 1 1 3 0.8 1 0.3 2 0.8 1 0.4 2.1 0.4-4.1 0-13 1.6-2.4-0.3 2.4 1.8 4 3.5 10.4 0.8 0.6 0.2 1.6 1.8 2.4 1.2 3.2 1.3-0.2-0.6 1 0.3 1.1 2.1-1.1-1.4-2 1.9 0-1-1 1.2-1-0.2-1 1.3-2-0.3-1 1.2-2-0.2-1 1.8-5 0.2-2 0.9-2 0.1-3 0.7-1 0.3-4 0.7-1 0.2-3-0.5-1.4-0.5 4.4-1 2-0.1 3-0.9 1-0.1 3-0.9 1-0.2 3-1.2 2 0.3 1-1.3 2 0.2 1-1.7 1 0.7 1-1.6 1 0.7 1-0.4 0.5-1-0.9-1.6 0.4 2.2-3-0.6-0.3-1 0.7-1.2-0.4 3.7-3-1.2-1 2-1-0.6-1 1.3-1-0.3-1 0.9-1 4.8-18 0-3 1-2 0-4-0.4-0.2-0.5 4.2-0.9 2-0.1 3-0.8 1-0.3 3-2.3 8-2.1 4 0.3 1-1.4 0 0.1 2.3-1-1-3.2-0.3 3-1 0.6-1-0.4-0.4-1.3 0.4 0.4-1 2.6-2-0.7-1 1.5-1-0.8-1 1.3-1-0.3-1 0.7-1 2-6 1.1-6 1-2 0.1-3 0.8-2 0.1-3-0.8 0-0.2 4-0.9 1-1.2 7-0.9 1-0.2 2-1.1 2 0.1 1-1.4 2 0.3 1-1.2 0.5 0.2 1.5-2.9-1 2.3-1-1.1-2 2.1-2-0.9-1 1.6-1-0.5-1 1.2-1-0.3-1 0.9-1 1.8-6 1.1-6 0.8-1 0.3-4 0.8-1 0-4-0.4-0.3-0.5 4.3-0.8 1-0.3 3-0.9 2-0.1 2-0.9 1-0.3 3-0.8 1-0.3 2-1.1 0.9-1.3 0.1 1.3 0.1 0.3 0.9-1.6 1 0.3 1.4-1-0.8-1 0.8-2-0.4 2-0.4 1.4-1.6-1.2-1 2.6-2-0.8-1 1.2-1-0.5-1 1.1-1 1.8-7 0.8-1 1.2-7 0.8-1 0.1-3 0.9-2 0-3-0.4-1-0.4 1-0.1 3-0.7 1-0.4 4-0.9 1-0.2 3-0.8 1-0.2 2-1.3 3.5-1 1.4-1.1 0.1 1.1 0.1 0.2 0.9-1.5 1 0.5 1-1.7-1 0.9-1-1-1 1.1-1-0.5-0.8-3.1-0.2 4.6 0-0.6-1 1.2-1-0.4-1 1-1 1-4 0.8-1 1.1-6 0.7-1 0.2-3 0.9-2 0.1-3-0.5-0.4-0.4 0.4-0.2 3-1 2-0.1 2-0.9 2-0.1 2-0.8 1-0.2 2-1.3 2-1.3 0 1.3 0.1 0.2 0.9-1.6 1 0.4 1.2-1.4-1.2 0.7-1-0.6-1 2-2-0.9-1 1.3-1-0.3-1 1-1 0.9-4 0.8-1 1.1-6 0.8-1 0.1-3 0.9-2 0-3-0.4-0.5-0.5 0.5-0.1 3-0.9 2-0.3 3-0.8 1-0.1 2-0.9 1-0.2 2-1.1 2 0.1 1-1.1 1-0.1 1.3-1 0.2-0.5-0.5 1.3-1-1.2-1 1-1-0.7-1 1.8-2 2.8-8 0.2-2 0.7-1 0.2-3 0.8-1 0.1-3 0.9-1 0-4-0.4-0.4-0.4 0.4-0.2 4-0.8 1-0.2 3-0.9 1-1.3 6-0.8 1-0.4 2.1-1 0.7-1.4-0.8 1.2-1-0.9-1 1.6-2 1.3-3 2.5-8 0.3-3 0.7-1 0.2-4-0.5-0.4-0.4 0.4-0.2 3-1 2-0.1 2-0.7 1-0.5 3-2.1 3.9-1.4-0.9 0.8-1 3.1-8 0.2-2 1.7-5 0.3-3 0.8-1-0.1-3-0.4-0.6-0.5 0.6-0.1 3-0.8 1-0.2 3-0.8 1-0.5 3-1.9 5-1.2 0.8-1.2-0.8 1.7-2-0.5-1 1.1-1 2.5-7 0.1-2 1.8-5 0-3 0.5-0.3 0.4 0.3 0.2 4 0.9 1 0.1 3 0.7 1 0.5 4 0.7 1 0.2 3 0.7 1 3.4 16 12.2 46.7 14 44.5 2 2 0-3-1-3.5-1.7-3.7-5.8-18-13.1-45-8.8-34-2.3-11-0.8-2-0.3-3-0.7-1-0.1-3-0.9-1-0.1-3-0.4-0.7-0.5 0.7 0 3-1 1-0.1 3-0.8 1-0.4 3-0.9 1-0.1 2-2.2 3.7-1-0.2-0.2-0.5 1.1-1-0.4-1 1.3-2 2.6-7 1.2-6 0.8-1 0.1-4-0.9 0-0.2 3-2.2 7-0.8 1-0.3 2-1.1 2-1.3-1 1.2-1-0.4-1 3.1-7 1-5 0.9-1 0.1-3 0.4-0.5 0.4 0.5 0.1 3 0.8 1 0.4 4 0.8 1 0.2 3 0.8 1 0.2 3 0.7 1 0.3 3 0.7 1 2.4 11 13.2 47 13 38.2 2.5 4.8 1.5 5 2 2-0.3-4-2.4-5-1.3-4.9-2.6-6.1-5.9-17-12.1-38-8.9-32-3.2-14-0.7-1-0.2-3-0.8-1-0.2-3-0.8-1-0.1-3-1-1 0-3 0.5-1 0.5 1 0.3 3 0.7 1 1.1 6 8.3 30 14.1 44.1 8 20.8 2.7 5.1 1.3 3.8 2 2.3 0-3.6-9.6-23.5-13.1-37-10.8-36-4-15-0.1-2-0.8-1-0.2-3-0.8-1-0.1-3-1-1 0.1-3 0.6 0 1.4 7 0.8 1 2.4 10 0.7 1 6.4 23 12.1 35 7 17 6 12.5 2.8 3.5 1.2 3.3 1 0.9 0.1-2.2-2.4-4-1.7-5.7-1.9-3.3-7.7-18-10.1-26-11.9-36-7.9-29 0.5-1.7 1.6 6.7 0.8 1 1.3 6 0.7 1 0.3 2 7.2 23 7.1 19.9 6 15.1 6 13.1 6 11.2 2.3 2.7 1.7 3.2 1 0.1 0-1.5-16.7-34.8-8.9-22-11.9-35-3-10-0.1-2-0.8-1-0.2-2-0.6-1-0.3-3 0.5-0.4 1.7 6.4 0.8 1 0.2 2 0.7 1 3.5 12 7.1 20 9 22.1 6 12.3 6 10.4 5 6.4 1-0.3 0.1-0.9-14.5-27-9.2-20-10.9-29-9-29 0.1-1 0.4-0.4 0.5 2.4 0.7 1 2.6 9 8.2 23 6 15.1 7 15.3 5 9.3 6 9.4 4 4.9 4 2.5 0.2-0.5-14.9-24-11-22-9.7-24-10.1-30 0.1-1 0.4-0.5 0.5 2.5 0.9 1 1.3 5 0.7 1 0.4 2 9.1 24 6.1 14.1 7 14 6 10 6 7.9 5 4.4 2 0.7 0.3-1.1-15-21-11-20-10.8-25-7.8-21-0.3-2-0.8-1-0.1-2-0.9-1 0-2 0.5 0 4.7 13 11.2 27 11 21 6 9.1 6 7.1 3.2 2.8 4.8 2.5 1.4-0.5-8.4-9.4-6.7-8.6-10.9-17-7.1-14-5.8-13-10.8-27-0.2-2 0.7 0 0.4 2 0.9 1 4.3 11 11.2 24.8 10 18.1 5 7.1 7 7.8 6 4.2 2 0.5 1.4-0.5-14.7-16-5.3-7-5-8-11-21-14.9-34 0.5-0.9 13 27.6 8 15.4 7 11.8 5 7.1 6 6.7 6.8 5.3 2.2 1.1 5 1.1 2.8-0.2 0.4-1-8.2-4.4-5-3.8-6.7-6.8-6.8-9-14.2-24-17.7-35 0-1 0.6 0 20.8 37.8 12 18.4 6 7.2 7 6.6 4.8 3 5.4 2 7.8 0.6 3.9-0.6 4.9-2 8.2-6.3 6-6.7 6.1-8 3.9-3 0-1.1 1 0.4 7-3.9 2-0.2 4-1.8 2.1-0.4 2.8-2 0.1-0.6 0.3 1.6 0.7 0.4 2-3.7 1.3-0.7-0.3-1.5 1 1.3 0.6-1.8-0.6-0.1-1-1.7-4 5.8-8 3.6-1 0.9-1.5-0.5 8.3-8 1.4-2-0.2-0.7-11.4 10.7-3.8 2 12.2-16.1 6.6-10.9-0.6-0.4-18 25.1-0.3-0.7 0.9-2-0.6-0.4-0.4 1.4-5.3 6-1.4 3-2.9 1.8-11.9 3.2-1.9 1 1.2 1 2.2 0 4.3-1 4.1-1.7 0.4 0.7-1.4 1.3-6 3.5-8 2.8-6 1-9.4-0.6 6.3 3 4.1 0.4 4.4-0.4 2.8-1 7.8-4.4 0.6 0.4-2.6 2.7-7 4.9-7 2.9-7 0.5-6-1.5-5-2.9-5-4.5-5.6-6.1-6.1-8-11.8-18-22-37 0.5-0.5 5.4 7.5 18.6 28.7 9 12.4 5 6 6 5.9 8 5.3 0.6-0.3-6.6-6.8-11.5-14.2-21.5-30.9-14.7-19.1 0.7-0.3 8.5 9.3 27.5 32 0.4 0-0.3-1-1.5-2-3.6-7-8-11-11.1-12-13.1-12 0.2-0.6 1 0.3 22 16.3 4 2.1 0.6-0.1 0.1-1-5-6-7.7-6-13-7.3-5-1.9-1.5 0.2 1.5-1.9 2.9-1.1 0.5-1-0.4-1zM162.7 22.5l2.8 0.6 0.6-0.6zM166.2 23.5l2.3 0.4 1-0.4-3-0.4zM257.5 77.5l-0.4 1 0.4 0.6 0.5-0.6zM274.5 48.3l0 1.5 0.7-1.3zM290.5 20.8l-2 2.6-13.1 23.1 0.1 1.7 15.4-25.7 0.2-1zM298.5 20.8l-5.5 11.7-2.7 7-0.2 2-0.9 1 0.3 1.7 9.6-21.7zM302.9 21.5l-0.1 1 1.7 1.7 0.1-1.7-1.1-1.2zM304.8 24.5l1 2-0.3 2.8 2 0.1 0.4-0.9-2.4-4.3zM308.5 20.8l-1 0.3-0.1 1.4 1.1 1 0 2.1 1.1-0.1-0.4 2 0.3 1 1.1-1-0.5 3 0.4 0.4 1-1.5 0.2-1.9zM312.5 29.5l-0.6 1 0.6 0.8zM314.5 34l-0.6 0.5 0.6 1.6zM318.5 43l-0.7 0.5 0.7 1.4zM319.5 45.3l-0.5 0.2 0.5 1.6zM320.5 47.5l-0.6 1 0.6 0.9zM321.5 49.8l-0.6 0.7 0.6 1.3zM322.5 52l-0.6 0.5 0.6 1.6zM323.5 54.2l-0.6 0.3 0.6 1.7 0.4-0.7zM324.5 56.4l-0.5 1.1 0.5 0.8zM334.5 84.3l-0.2 1.2 8.8 16 4.9 7 8.5 9.4 4 2.9 1-0.3-10.4-10-8.4-13-2.6-5-3.7-5 0.1-4-0.6 1 0.1 1-0.5 0.2zM370.5 153.3l-0.4 0.2 0.4 1.1 0.4-0.1zM373.5 157l-0.4 0.5 0.4 1 4.6 5 5.4 7.2 0.7-0.2-1.2-3-6.5-8.5zM398.8 100.5l-10.3 8.7-3.1 1.3 0.2 1 1.9 0 8-6.5 2.4-0.5-0.8-1 1.6-2zM413.5 79.4l0 1.5 0.5-1.4zM415.5 76.2l-0.4 1.3 0.4 0.2 0.4-1.2zM416.5 74.3l0 1.6 0.5-1.4zM432.4 92.5l-0.9-0.3-3 1.3 2 0.6 1.6-0.6zM449.5 50.3l-0.4 1.2 0.4 0.9zM171.5 251l-0.5 4.5-0.8 1-0.5 4-0.7 1-0.1 3-0.8 1-0.4 3-1.1 2 0.3 1-1.1 1-0.3 2.4-1.1 0.6 1.1 2.2 0.8-0.2-0.2-1 1.2-2-0.2-1 1-2 0.9-5 1-2 0.1-3 0.7-1 0.3-4 0.8-2zM169.5 164.4l-0.5 1.1 0 3 0.5 0.6 0.5-0.6zM170.5 169.1l-0.5 0.4 0.1 4 0.9 1 0.2 4 0.8 1 0.1 3 0.9 2 0.2 3 0.7 1 1.4 8 1.7 6 0.3 3 6.2 26 13 48.9 2 3.1 0-3.8-13.7-49.2-8.9-36zM208.5 252.9l-0.4 0.6 0.3 2 1.1 1.6 0.1-2.6zM266.5 94l-6 11.4-6.9 11.1-7.1 9.2-8.4 8.8 1.4-0.2 4-3.2 6-6.5 4-5.3 5-7.8 6-11.3 0.4-1.7 1.9-3zM267.5 91.9l-0.7 1.6 0.7 0.5zM268.5 89.9l-0.7 1.6 0.7 0.4zM269.5 87.8l-0.7 1.7 0.7 0.2zM270.5 85.7l-0.5 0.8 0.5 1zM271.5 83.7l-0.5 0.8 0.5 0.7zM288.5 44.3l-8.5 19.2 0.5 1.3 0.4-1.3 1.2-1 4.4-9 0.9-4 1.7-4-0.1-1zM292.5 218.1l-0.4 1.4 0.4 0.4zM293.5 215.9l-0.5 1.6 0.5 0.3zM295.5 211.4l-0.4 1.1 0.4 0.7zM296.5 209.1l-0.5 1.4 0.5 0.7zM297.5 206.5l-0.5 2 0.5 0.3zM306.5 29.5l0 1.7 0.8-0.7zM311.5 31.5l-0.4 1 0.4 0.9 0.4-0.9zM312.5 34l-0.4 1.5 4.4 10.8 0.5-1.8-0.7-1-0.1-2 0.3-0.7 1 2 0-2.3-2-4.5-0.8 0.5-0.2 1.7zM318.5 49.5l-0.8 2 0.8 0.3 0.4-1.3zM319.5 52l-1 1.5 0 1 1 0.7 0 1.3 5 10.5 0.6-0.5-4.1-11-1.1-1zM325.5 67.2l0 2.2 0.6 0.1 0.2 2 1.2 3.2 0.8 0.8 0.2 1.7 1.3-0.7zM333.5 88.4l0 1.9 0.4-0.8zM334.5 90.7l-0.4 0.8 0.4 1.7zM350.5 124.3l0 1.4 0.6-0.2zM351.5 125.9l-0.1 1.6 0.8 0zM352.5 127.6l0 1.4 0.7-0.5zM353.5 129.1l0 1.6 0.9-0.2zM354.5 130.6l0 1.8 4 6.1 10 13.3 0.8-0.3-9.8-15.5-2.7-3.5zM388.5 176l0 1.3 13.5 18.2 4.5 8 1.2 0-0.2 1.9 1-1.3 2 1.7 0-1.3-6.2-7-1.9-3-4.9-10-1 0-4-5zM405.5 101.5l-1-0.6-6 2.6 2 0.2 3-1.7zM405.6 100.5l2.1 0-0.2-0.6zM407.9 99.5l1.8 0-0.2-0.5zM413.1 124.5l-0.6-0.2-1.7 2.2 0.7 0.2zM418.2 96.5l2.4 0-1.1-0.4zM421.1 95.5l3.1 0-0.7-0.6zM424.4 94.5l3.6 0-0.5-0.6zM450.5 47.7l-0.6 1.8 0.6 0.5zM451.5 45.8l-0.7 1.7 0.7 0.2zM171.5 263.2l-0.5 4.3-1 2 0 3-1 1-0.1 3-0.7 1 0.3 2.3 0.6-0.3-0.2-1 0.8-1 0.3-3 0.9-2 0.1-3 0.8-2 0.3-4zM170.5 179l-0.5 2.5 0.5 2.4 0.5-0.4zM171.5 183.9l-0.5 0.6 0.1 4 0.9 1 0.2 4 0.8 1 0.3 4 0.7 1 0.3 4 0.7 1 0.2 3 0.8 2 2.4 13 13.1 56.5 2 4.9 0.4-1.4-0.4-3.3-11.6-46.7-5.3-25-0.6-1-0.3-3-0.8-2-0.2-3-0.6-1-0.5-4-0.6-1-0.2-3-0.9-2zM209.5 274.5l-0.9 1 0.9 2.7 1 1.3 0.7-1zM283.5 235.7l-12.7 19.8-1.3 3.2 4-4.1 4-6 6.1-11.1zM284.5 233.9l-0.7 1.6 0.8 0zM285.5 232.1l-0.6 1.4 0.6 0.2zM314.5 160.5l-6.4 19-10.6 27 1.1 0 1.2-4 1.7-3 0.3-2 1.7-3.2 0.2-1.8 0.8-0.9 0.3-2.1 0.7-0.4 0.2-1.6 0.8-1 0.3-2 0.7-0.7 1.5-5.3 0.5-0.2 0.2-1.8 0.8-1 0.2-2 0.8-0.8 0.2-2.2 0.8-0.9 0.1-2.1 0.9-1 0.1-2 0.9-1zM315.5 157.8l-0.9 2.7 0.9 0zM317.5 46.9l0 1.8 0.4-1.2zM413 214.5l0.5 1.1 0.9-0.1-0.9-1.4zM414.5 215.5l-0.3 1 2.3 4 6 8.2 0.4-0.2zM171.5 276l-0.5 1.5 0.5 3.2 0.4-3.2zM170.5 189.2l-0.5 2.3 0 2 0.5 0.5 0.5-2.5zM171.5 194.3l-0.5 1.2 0.5 4 0.4-3zM171.7 199.5l0.5 5 0.9 1 0.1 4 0.8 1 0.2 4 0.9 2 0.1 3 0.9 2 0.1 3 0.9 2 0.2 3 0.8 2 4.3 23 5.1 23.6 2 6.5 0.4-0.1-0.4-5-10.6-47-3.3-18-0.7-1-0.1-3-0.9-2-0.1-3-0.9-2-0.2-4zM317.5 152.1l-0.4 1.4 0.4 0.9zM171.5 205.1l-0.5 2.4 0.5 2.6 0.4-2.6zM172.5 210.4l-0.5 4.1 0.5 1.3 0.5-0.3zM173.5 215.9l-0.4 4.6 1 2 1.1 9 0.9 2 1.2 9 0.8 2 1.3 9 6.1 29.4 0.6-1.4-0.6-4.6-6.6-31.4-2.2-13-0.8-2-0.1-3-0.9-2-0.2-4-0.8-1zM171.5 216.1l-0.5 3.4 0.5 1.7 0.4-3.7zM172.5 221.9l-0.5 2.6 0.5 2.6 0.4-2.6zM173.5 227.5l-0.4 3 0.4 2.6 0.4-1.6zM174.5 233.2l-0.4 0.3 0.1 5 0.8 1 0.3 5 0.8 1 0.1 4 0.9 2 0.1 4 0.9 2 0.2 4 0.8 2 0.2 3 0.7 2 0.3 4 0.8 2 1.4 8.4 0.4-0.4-0.3-5-2.8-13-0.1-3-0.8-2-1.2-9-0.8-2-0.3-4-0.7-1-0.1-4-0.9-2zM172.5 233.4l-0.5 4.1 0.5 1.3 0.4-2.3zM173.5 239.5l-0.4 4 0.4 1.6 0.4-2.6zM174.5 245.5l-0.4 3 0.4 2.9 0.4-1.9zM175 251.5l0.2 5 0.9 2 0.1 4 0.9 2 0.1 4 0.9 2 0.1 4 0.8 2 0.5 4.5 0.6-0.5-0.4-5-0.8-2-1.3-10-0.6-1-0.4-5-0.7-1-0.3-5zM172.5 245.4l-0.5 4.1 0.5 1.3 0.4-2.3zM173.5 251.9l-0.5 2.6 0.5 3.1 0.4-3.1zM174.5 258.2l-0.4 4.3 0.4 1.5 0.4-1.5zM175.5 264.4l-0.4 3.1 0.4 3.1 0.5-0.1zM176.5 270.7l-0.3 4.8 0.8 2 0.5 5.1 0.2-5.1-0.9-2zM172.5 257.7l-0.5 3.8 0.5 1.7 0.4-3.7zM173.5 264.4l-0.5 4.1 0.5 1.7 0.4-2.7zM174.5 271.2l-0.4 4.3 0.4 1.6 0.4-2.6zM172.5 270.4l-0.5 4.1 0.5 1.4 0.4-5.4zM173.5 277.5l-0.4 2 0.4 2.5zM156.5 44.4l0.4 1.1-0.4 0.7zM157.5 46.5l0.4 1-0.4 1.1-0.4-1.1zM157.5 52l0.4 1.5-0.4 0.5zM158.5 54.4l0.4 1.1-0.4 1.2-0.4-1.2zM159.5 56.9l0.5 1.6-0.5 0.7-0.4-1.7zM159.5 63l0.4 1.5-0.4 1-0.4-2zM160.5 65.8l0.4 1.7-0.4 0.9-0.4-1.9zM157.5 68.9l0 1.8-0.5-0.2zM158.5 72.1l0 2-0.4-0.6zM160.5 72.1l0.4 1.4-0.4 1.3-0.4-1.3zM159.5 75.2l0 2.5-0.5-0.2zM161.5 75.1l0.4 1.4-0.4 1.4-0.4-1.4zM158.5 78l0 1.9-0.5-0.4zM160.5 78.4l0 2.7-0.4-0.6zM159.5 81.3l0 2.5-0.7-0.3zM161.5 81.7l0.4 1.8-0.4 1.1-0.4-1.1zM160.5 84.9l0.1 2.6-0.9 1-0.2 1.4-0.7-0.4zM162.5 85l0.4 1.5-0.4 1.4-0.4-1.4zM161.5 88.3l0 3-0.4-0.8zM160.5 91.3l0.5 0.2-0.3 2-1.2 2.6-0.5-0.6zM162.5 91.9l0.4 1.6-0.4 1.4-0.5-0.4zM161.5 95.1l0.3 2.4-0.9 1-0.3 2-1.1 1.8-0.1-1.8zM163.5 95.2l0.4 2.3-0.4 1.1-0.4-1.1zM162.5 98.8l0.4 0.7-0.4 2.4-0.7-0.4zM164.5 98.7l0.5 2.8-0.5 0.6-0.5-2.6zM143.5 101.5l1.1 1-1.2 0zM161.5 101.8l0.2 2.7-0.9 1-0.3 1.6-0.7-0.6zM163.5 102.4l0.4 2.1-0.4 1.3-0.7-0.3zM162.5 105.7l0.3 2.8-0.9 1-0.3 2-2.1 3.3-0.1-1.3zM164.5 106.1l0.4 2.4-0.4 1.2-0.6-0.2zM163.5 109.7l0.3 2.8-0.8 1-0.3 2-2.2 4.8-0.6-0.8 2.2-5zM164.5 113.6l0.4 2.9-0.9 1-0.3 3-0.9 1-0.3 2-2 3.6-0.7-0.6 4.2-10zM165.5 117.5l0.5 2-0.5 1.7-0.5-0.7zM164.5 121.2l0.5 0.3-0.2 3-0.9 1-0.2 2-2.2 4.8-0.5-1.8 2-4zM165.5 125.3l0.4 3.2-0.9 1-0.2 3-0.9 1-0.2 2-1 1-0.2 1.9-1 0.1-0.4-1 2.8-6zM166.5 129.4l0.5 3.1-1.1 2 0 2-0.7 1-0.5 3-0.9 1-0.2 2-2.1 3.6-1.1-0.6 1.4-2 0-1 2.3-5zM160.5 132.4l0.4 0.1-0.4 1.4-0.4-0.4zM166.5 137.8l0.5 0.7-0.1 3-0.9 1-0.3 3-0.8 1-0.2 2-0.9 1-0.2 2-1.1 2.1-1.4-1.1 3-6zM160.5 140.7l0-1.2 1-1 0 1.8zM155.1 176.5l0.4-0.6 0.7 0.6-0.7 0.5zM161.2 178.5l1.3-0.7 0 0.9zM144.3 181.5l0.2-0.4 1.3 0.4-1.3 0.5zM162 185.5l0.5-0.7 1-0.1 0 1-1 0.4zM155.9 186.5l0.6-0.5 0.5 0.5-0.5 0.8zM145.2 189.5l0.3-0.5 5.1 0.5-5.1 0.5zM158.1 189.5l2.4 0-1 0-1 1.2zM155.5 191.6l0.7 0.9-0.7 0.5-0.4-0.5zM156.5 194.1l0.6 0.4-0.6 1.2-0.5-1.2zM162.5 195.1l-0.5-0.6 0.5-0.6 1-0.1 0 0.9zM146.3 196.5l0.2-1.1 2-0.4 0.3 0.5zM157.5 196.2l2.1 2.3-1.1 0-1.4-1zM149.1 200.5l-1.6 2.2-0.1-1.2 1.1-1.1zM155 200.5l0.5-0.6 0.8 0.6-0.8 0.7zM155.8 203.5l0.7-0.7 0.6 0.7-0.6 0.7zM157.5 204.9l2 2.7-1 0.2-1.4-2.3zM155 209.5l0.5-0.8 0.8 0.8-0.8 0.7zM155.7 212.5l0.8-0.8 0.6 0.8-0.6 0.7zM154.5 214.1l0.5 1.4-0.5 0.3zM157.1 214.5l0.4-0.6 2 2.4 1.4 0.2-2.4 0.4-1.3-1.4zM154.9 218.5l0.6-0.7 0.9 0.7-0.9 0.9zM155.8 221.5l0.7-0.6 0.6 0.6-0.6 1.1zM157.5 223.1l0.6 1.4-0.6 0.5-0.5-0.5zM159.5 223.5l2-0.4 0.5 0.4-0.5 0.4zM154.5 223.8l0.5 0.7-0.5 1-0.4-1zM158.5 225l0.9 0.5-0.2 1-0.7 0.3zM144.5 228l0.6 2.5-0.6 0.6zM154.8 228.5l0.7-0.8 0.9 0.8-0.9 0.8zM155.7 231.5l0.8-0.8 0.6 0.8-0.6 1zM157.5 233l1 2 1 0.5-0.2 1-0.8 0.4-0.3-1.4-1.2-1zM154.5 234l0.8 1.5-0.8 0.5-0.4-1.5zM154.6 238.5l0.9-0.6 0.9 0.6-0.9 1.4zM160 238.5l0.5-0.4 2.4 0.4-2.4 0.4zM153.5 240.3l0.5 1.2-0.5 0.9-0.4-0.9zM156.5 241l0.5 0.5-0.5 1.6-0.9-0.6zM160.2 241.5l1.3-0.4 0.5 0.4zM144.2 243.5l1.3-0.6 2 0.8 0.4 0.8-0.4 0.5-1-1.3zM157.3 243.5l2.2 2.6 2-0.1 0.4 0.5-3.4 1.1-0.2-1.1-1.2-1zM153.8 245.5l0.7-0.5 0.8 1.5-0.8 0.6zM144.2 247.5l1.3-0.6 2 0.8 0.4 0.8-0.4 0.5-1-1.3zM155.5 248.9l0.9 0.6-0.9 1.5-0.7-1.5zM160.3 249.5l0.2-0.4 1.7 0.4-0.7 0.4zM144.2 251.5l1.3-0.6 2 0.8 0.4 0.8-0.4 0.5-1-1.3zM156.5 252l0.5 1.5-0.5 0.6-0.6-0.6zM157.2 254.5l0.6 0 0.2 1 1.5 1.6 2-0.1 0.4 0.5-3.4 1.2-0.1-1.2-1.1-1zM160.2 260.5l0.3-0.5 2.1 0.5-1.1 0.4z"/>
<path fill="#97b1b7" d="M152.7 13.5l3.8-1.8 10-0.8 18 1.6 17-1.6 6 0.1 13 1.5 16-1.6 7 0.1 13 1.5 14-1.5 6-0.1 16 1.6 19-1.6 17 1.6 16-1.6 7 0.1 13 1.5 19-1.6 17 1.7 19-1.7 17 1.8 18-1.8 0 1.8-20 1.4-15-1.4-20 1.2-16-1.3-13 1.1-19.9-0.2 1.9 0.4 0.5 0.6-0.5 0.4-6.1 0.6-4.1 1-1.1 1 4.3 0.2 2-0.9 4-0.8 2 0.9 1-1.2 2 1.1 1-1.2 14 0.9 5-1 3.9 0-1.4-1 2.5-0.2 2.6 0.2-0.3 1 7.7-0.1 8 0.6 2 0.6 2.8-0.1 0.2-0.7 5-0.1 12-1.5 2 0.3-3 0.4-0.5 0.6 1.5 0.3 5-0.7 12 0.6 8-0.7 4 1.6 2-0.5 2 0.4 0 23.5-1 0-10.4 26.5 0.4 0.6 2.5-6.6 6.7-15 0.4-2 1.4-0.2 0 272.2-315 0 0-269 1 0 0.5 8 1.5 182.4 1.2 1.6-0.2 0.7-1 0-0.3 1.3 1 2-0.7 0.3-0.3 1.7 1 2-0.9 1 0.2 2.4 0.7 0.6-0.9 1 0.2 2 2 1.7 3 0.9-0.4 1.4 3.4 9.3 0.6-4.3 0-13 0.4-0.7 2.3 4.7 4.7 13 1.5 2 0.5 2 3 5 2 2.3 1 0.3 0.6-0.6-0.6-1 1.1-2-0.3-1 1-2 0.9-5 0.9-2 0.2-3 1.6-6 0.2-4 0.8-1 0.1-4 0.7-1 0.3 5-1.1 2 0 4-0.9 2-0.1 4-0.8 1-0.2 4-1.1 2-0.1 3-0.9 1-0.1 3-1 1 0 1 0.8 1.5 0.9-0.5-0.1-1 0.7-1 1.1-8 0.8-1 0.2-4 0.9-2 0-4 0.9-1 0.1-5 0.5-0.8 0.5 0.8 0.1 5 0.9 1 0 4 0.9 2 0.3 5 0.7 1 1.3 10 1.3 3.3 0.2-2.3-0.9-6-0.8-2-0.2-4-0.8-2-1.2-10-0.8-1-0.2-5-0.8-1-0.1-5-0.9-1 0-5-0.9 0-0.1 5-0.9 1-0.3 5-0.7 1-0.3 4-0.8 1-0.2 3-1 2-0.1 3-0.8 1-0.4 2.6-1 2.1-2-0.7 1.6-1-0.7-1 1.3-2-0.4-1 1.2-2-0.2-1 0.7-1 1.2-6 0.9-2 0.2-3 1.7-6 0.1-4 0.8-1 0.6-5.2 0.6 5.2 0.9 2 0.1 4 0.8 1 0.3 5 0.7 1 0.2 4 0.9 2 0.2 4 0.8 2 0.3 4 1.7 7 0.3 4 1.1 5 0.7 1 0.6 0-3.9-23-0.8-2-0.3-4-0.6-1-0.3-4-0.8-2-0.2-4-0.7-1-0.2-4-0.9-2-0.1-4-0.8-1-0.2-5-0.9-1 0-4 0.5-0.8 12 62.5 1.4 0.3-7-34-0.2-3-0.7-2-0.2-3-0.8-2-0.2-3-0.8-2-0.1-3-0.9-2-0.2-4-0.8-1-0.2-4-0.7-1-0.2-4-0.9-2 0-4-1-1 0-4 0.5-0.6 0.5 4.6 0.8 1 0.3 4 0.9 2 0.1 3 0.9 2 0.3 4 0.7 1 0.3 4 0.6 1 0.4 4 0.6 1 0.5 4 0.5 1 7.6 37 1.7 6 1.4 1-11.6-53-2.3-13-0.6-1-0.4-4-0.6-1-1.3-9-0.8-1-0.1-4-0.9-1 0-4-1-1 0.1-4 0.4-0.4 0.5 4.4 0.8 1 0.3 4 0.8 1 0.2 4 0.8 1 0.3 4 0.7 1 2.4 13 13.2 57.1 1.9 5.9 1.7 0-16.1-66-2.3-12-1.7-6-0.2-3-0.8-2-0.2-3-0.7-1-0.3-4-0.7-1-0.1-3-0.9-2-0.1-3 0.5-0.6 0.5 4.6 0.9 1 0.2 3 0.7 1 0.4 4 0.7 1 0.2 3 0.9 2 0.3 3 0.6 1 0.3 3 5.2 22 14.1 53.6 2 5.1 2.1 0.3-9.8-34-8.9-34-7.9-33-0.3-3-0.6-1-0.2-3-0.7-1-0.4-4-0.7-1-0.1-3-0.9-1 0.4-4.1 0.5 4.1 0.9 1 0.1 3 0.7 1 1.5 8 0.7 1 0.3 3 0.6 1 6.7 27.8 13 46.3 7 21.1 1.8 2.8 0.6 2 2.3 0-11.2-33-11.1-37-10.9-42-2.2-11-0.7-1-0.2-3-0.8-1-0.1-3 0.5-0.5 4.7 19.5 9.3 33.9 13 41.2 7 18.9 2.5 5 2.5 6.8 3.5 4.2 1.1 3 2.4 0 0.4 0-2-3-2.4-7-3.7-7-1.3-4.4-2.7-5.6-15-42-12.8-43-6-23-0.1-2-0.8-2-0.1-2-0.7-1-0.3-3 0.5-0.8 0.4 0.8 0.2 3 0.8 1 3.4 14 0.6 1 1.4 6 9.2 30.8 12 34.4 7 16.9 1.7 2.9 2.3 5.8 2.4 3.2 2.6 6.1 4 3.7 0.3-0.8-1.2-5-3.6-6-2.5-6.5-2.2-3.5-1.8-5-2.7-5-13-33-12.8-39-4.9-17-1.3-6-0.7-1-0.3-3-0.7-1-1.1-6 0.5-0.7 1.6 6.7 0.7 1 3.5 13 10.2 31.6 6 16.5 8 19.3 7 14.3 3.6 5.3 1.4 3.3 4.6 4.7 2.4 4.4 2 0.5 0.2-1.9-1.5-3-2.9-3-1.8-4.9-3-4.2-2-4.8-2.7-4.1-15-33-6.9-18-6.9-20-7-23-0.2-2-0.7-1-2.1-9 0.5-0.9 0.4 0.9 0.1 2 0.8 1 1.4 6 0.7 1 3.5 12 7.1 20.8 7 18.2 7 15.9 9 16.9 5 7.5 3.1 2.7 2.9 4.1 2 0.3 0.2-2.4-1.2-2.4-3-3.1-2-4.3-2.6-3.2-8-14-13.1-27-11.9-31-7.7-24-1.3-6-0.8-1-0.1-2 0.5-0.6 0.5 2.6 0.8 1 3.5 12 10.1 28 7.1 16.7 6 12.3 7 11.9 6 8.4 6 5.8 2 0.5 1.3-0.6-2.3-4.8-3-2.9-11.6-17.3-12-22-5-11-7.9-20-6.9-20-0.3-2-0.7-1-2.1-8 0.5-0.8 0.4 0.8 0.2 2 0.8 1 0.2 2 0.8 1 2.4 8 12.2 31 11 22.1 7 10.7 6 7.1 4 3.5 3 1.2 3 2.2 2 0.1 0.7-0.9-0.1-1-1.6-2-3-1.9-9-10-7.6-10.1-8.1-13-8-16-6.8-16-8.8-24-2.2-8 0.5-0.5 0.6 2.5 0.8 1 0.3 2 0.8 1 5.3 15 9.2 21.4 8 15.7 7 11 7 8.1 6 4.7 5 2.4 3 0 3 0.9 1.7-1.2-0.1-1-3.6-1.4-6-3.9-5-4.2-9.7-10.5-6.9-10-9-16-7-15-7.9-20-4.7-13-0.3-2 0.5-0.5 0.6 2.5 0.8 1 8.6 22 10 21.4 10 16.8 9 10.9 4.7 3.9 3.5 2 7.8 2.1 6-0.7 2-0.7 7.7-4.7 3.6-4-0.3-0.8-6 4.3-2 0.8-8 1-5-1-5-2.4-5-3.7-5-4.8-10.7-13.4-9-15-10.7-23-8.9-22-0.3-2 0.8 0 0.4 2 0.8 1 4.4 11 11.2 24 6 11 5 7.7 7 8.7 7 6.6 4.9 3 5.6 2 5.5 0.8 8-1 8.1-3.8 6.9-5.7 8-9.3 7.1-11 5.9-11 3.4-8 0.9-1 0.1-1 0.9-1 2.1-5-0.1-1-1 1-7.3 14.8-7 12.2-6 8.3-6 6.9-7 5.8-6 3.6-7 1.8-7-1-6-2.9-8-5.7-6-5.6-7.6-9.2-7-11-7.9-15-8.9-19-6.1-15 0.5-0.5 12 25.5 9 17 9 14.1 7 8.2 6.9 5.7 3.8 2 4.3 1.3 5 0.3 6-1.1 3.8-2.5 1.6-2-3.4-0.8-5 0.8-5-0.1-5-1.4-7-3.8-7.3-6.7-7.2-9-10-16-8.2-15-12.8-26 0.5-0.5 16 29.5 7 11.8 6 9.1 7 9.1 7 7 4.1 3 6.8 3 6.1 0.7 7.9-1.7 5.2-3 3.9-3 9-10 4.3-6 3.7-3.5 9-4.7 10-3.5 0.7 0.7-0.2 1 0.5 0.7 0.4-1.7 1.2-1 0.4-1.1 1 0.1 0 1.7 3-0.7-3-1 3-3 1.8-4-0.6-2-1.2 1.2-1-1.6 0 2.6-1-0.4-2 3.2-2 1.9-9 5.4-1.2-0.3 10.2-10 2.7-4-0.7-0.5-14.7 14.5-2.3 1.5-0.4-0.5 5.9-7 6.5-9 11-17 4.3-8-1.3 1-5.3 7-19.7 28.8-0.2-1.8-0.8-0.1-2.4 4.1-4.6 4.8-4-0.3-1.9 0.5-1 1 2.9 0.3 3-0.7 0.4 1.4-0.6 1-2.8 1.7-8 1.8-6 0.4-6-0.5-6-1.7-4-2-9-6.8-14.6-15.9-7.4-10.1-10.1-11.9-9.8-10-10.9-10 0.8-0.5 31 23.6 2 0.9 0.9-1-1.8-3-4.4-5-5.7-5-8.5-6-19-10 6.5-3.5 5-1.1 5-0.4 9 0.5 10 3.3 12-3.4 12-0.1 13 3.6 11-3.5 9-0.3 5 0.4 9 2.7 1 0.8 8-2.6 8-1.3 10 0.4 11 3.1 7-2.2 6-1.2 11 0.1 10 2.8 4-0.2 8-2.4 5.4-0.5-1.4-0.5-4 0.2-11 1.8-18-2.5-18 2.4-18-2.4-18 2.4-18-2.4-18 2.4-18-2.4-18 2.4-18-2.4-9 0.9-2 0.8zM379.5 111.9l-0.5 0.6 1.5 3 0.7-3zM403.5 94.3l0 1.4 0.6-1.2zM405.5 91.8l-1.4 1.7 0.4 0.7 1.5-1.7zM407.5 89.1l-1.3 1.4 0.2 1 1.6-2zM408.5 87.2l0 1.6 0.7-1.3zM411.3 84.5l-1 0-1.1 2 0.3 0.8zM412.5 81.1l-1 1.4 0 1.8 1.8-2.8zM434.5 42l-10 17.5-3.4 7-7.6 12.7 0 2 21.2-37.7 0.2-1zM435.5 40.5l-0.5 1 0.5 0.4zM439.5 74.4l-0.4 1.1 0.4 0.9 0.5-0.9zM440.5 72.1l-0.4 1.4 0.4 0.7 0.4-1.7zM441.5 69.6l-0.4 0.9 0.4 1.3 0.5-1.3zM442.5 67.2l-0.5 1.3 0.5 1 0.5-2zM174.5 258l-0.5 1.5 0 4-0.8 1-0.2 5-0.9 1-1.4 10 0.8 0.6 0.4-0.6 0.3-4 0.8-1 0-4 1-2 0-4 0.5-1.2 0.5 1.2 0.1 5 0.9 1 0.1 5 0.9 2 0.5 4.5 0.7-0.5-0.4-5-0.8-2-0.1-4-0.9-2 0-4-1-2 0-4zM218.5 271.7l-0.3 0.8 1.3 4.1 2 2.9 2 0.2 0.1-2.2-0.9-2zM218.5 208.5l2 2.5 1-0.4-1-1.6zM257.5 118.6l-5.4 8.9-7.4 10-0.2 1.3 4-4.1 4-5.7 5.4-9.5zM260.1 115.5l-0.6-0.4-1.8 3.4 0.8 0.3zM260.5 113.2l0 1.9 0.6-1.6zM159.3 21.5l14.2 4.1 1.8-0.1-12.8-4.2-2-0.3zM164.6 16.5l3.9 0.4 3-0.4zM176.4 19.5l6.3 0-5.2-1.2-0.9 0.2zM199.6 17.5l-3.8 0-6.4 2 3.3 0zM200.4 16.5l1.1 0.6 5 0.1 1.1-0.7zM200.4 19.5l11.1 1.1 7-0.6 0.7-0.5-7-2-2.7-0.1-8 1.3zM224.9 19.5l30.8 0-7.2-2-4-0.3-0.8-0.7-4.2-0.1-3.2 0.1-0.8 0.7-4 0.3zM259.5 74.1l-1.4 2.4 0.4 0.9 1.4-1.9 0.1-1zM260.4 19.5l28 0-0.3-1-3.4-1-3.2-0.3-1.7-0.7-3.3-0.1-4.2 0.1zM292.5 20.5l-2-0.8-16.2 28.8 0.2 1.7zM299.5 19.8l-1 0.4-3.5 7.3-6.1 16-9.2 19-0.2 2-0.6 1 0.6 1.7 0.7-1.7 1.2-1 0-1 1.1-0.6 5.1-9.4 1.9-8.8 9.7-21.2 0.3-2.3 0.6-0.7zM301.5 20.4l-0.4 1.1 2.2 3 2.8 7 2.4 3.4 0.8-0.4 0.2-1.8 1-1 0.2 1.8 0.9 1 0.2 2 0.8 1-0.1 1.7-2-2.4 0 2.2 4 7.8 0.6-0.3-1-4 0.4-0.2 1.4 4.2 1 1-0.5 3 0.5 0 0.1-1 0.8 0-0.4 3 1.2 0-0.2 2 0.9 1 2.8 7 2.9 5 3.4 10 1.4 0-0.3 2.6 1.7-1.6-6.7-14-5.4-15-0.9-1 0.3-1.9 8.3 16.9 2.1 6 4.6 9.4 0.3-1.4-1.7-3-0.2-2-1.6-3 0-1-3.3-6-2-6-6-12-1.2-4-9.3-20.4-1-1.1-0.9 0.5 1.4 5-0.5 1.8-4-6.1zM308.5 16.5l2 0.6 4.6-0.6zM316.5 20.1l-1 0.6-0.3 1.8 2.3 2.8 1-1 0.3-1.8-0.4-1zM332.5 80.6l-0.3 0.9 0.9 1 2.4 6 1.6 2 5.7 11 4 6 10.7 11.6 5 3.4 5 2.5 2 0 0-0.8-7-3.3-11.2-10.4-9.4-15-2.4-5.5-0.7-0.5-0.3-1.6-0.7-0.4-0.8-4-2.5-4.4-0.5 0.4 0.5 3.9zM337.5 78.5l-0.7 2 0.7 1.3zM414.2 95.5l-1.5 0-0.1 1-1.1-0.1-4.4 3.1-8.6 3.7-0.4-0.7 1.8-3-0.4-0.1-11 9.6-5.9 2.5-0.7 1 0.3 1 2.1 0 2.2-1 10-7.8 1.6-0.2 0.4-0.6 2-0.1 12-5.9 2.5-0.4-1.1-1zM417.5 96.5l3.3 0-0.3-0.8zM435.7 92.5l-0.2-0.7-2 0.1-1-1.7-0.4 1.3-1.6 1.3-9.8 2.7 0.8 0.4 3-0.4 4-1.4 2 0.3 2-1.3zM433.5 88.1l0 1.6 0.4-1.2zM435.5 83.5l0 2 0.4-1zM438.5 76.8l-0.4 0.7 0.4 1.2 0.4-1.2zM174.5 271l-0.5 1.5 0 4-0.9 1-0.3 4 0.7 1 0.5-4 0.9-2 0.1-4zM175.1 277.5l0 5 0.4 0.2 0.5-0.2-0.4-5zM260.5 72.5l-0.4 1 0.4 0.5 0.4-0.5zM272.1 53.5l-0.7 0 0.1 1.6zM273.5 50.1l-0.3 1.4-0.7 0.3 0 1.5 1.8-2.8zM285.5 231.6l-9 15-9.7 12.9-1.6 3 0.2 1 2.1-1.5 4-4.4 6-8.9 8-14.8zM286.5 229.8l-0.9 1.7 0.9 0.3zM287.5 228l-0.7 1.5 0.7 0.2zM288.5 226.1l-0.6 1.4 0.6 0.3zM309.5 35.3l0 1.4 0.8-0.2zM315.5 47.1l0 1.6 0.4-0.2zM319.5 144.8l-15.3 44.7-6.2 16-9.1 20 0.6 0.5 10.1-21.5 8.9-23.1 1.3-4.9 0.8-1 1.9-5.6 0.3-2.4 0.7-0.7 0.3-2.3 0.7-0.8 0.3-2.2 1.7-3.8 0.2-2.2 0.9-1 0.2-3 0.7-0.4 0.2-2.6 0.9-1zM320.5 141.5l-0.8 3 0.8 0.3zM321.5 138.2l-0.7 2.3 0.2 1 0.5 0 0.2-1zM322.5 134.6l-0.8 2.9 0.8 0.4zM323.5 131l-0.9 3.5 0.9 0.1zM325.5 123.7l-1.8 6.8 0.8 0.4 0.5-3.4 0.5-0.1zM326.5 120.3l-0.8 3.2 0.8 0.2zM327.5 116.9l-0.7 2.6 0.7 0.5zM328.5 113.5l-0.6 2 0.6 0.8zM329.5 110.1l-0.4 1.4 0.4 1.1zM331.5 78.8l-0.2 1.7 0.9 0zM332.5 85.9l0 1.8 0.4-1.2zM333.5 88.1l-0.3 1.4 0.8 3 1.5 2.2 0.1-1.2zM338.5 100l0 1.9 0.4-0.4zM339.5 102.2l0 1.8 0.4-0.5zM340.5 104.4l0 2.1 0.4-1zM341.5 106.7l0 1.9 0.4-0.1zM342.5 108.9l0 1.8 0.4-0.2zM343.5 111l0 1.7 0.4-0.2zM344.5 113l0 1.7 0.4-0.2zM345.5 115l0 1.7 0.4-0.2zM346.5 117l0 1.7 0.4-0.2zM347.5 119l0 1.6 0.5-0.1zM349 122.5l2.4 5 7 11 12.1 16.2 0.6-0.2-3.1-6-12.5-19.4-1 0.6-4.8-7.2zM361.6 127.5l0.9 1.2 1 0.1-1-1.5zM385.5 166.2l-0.6 2.3 0.4 1 4.2 4.4 0-1.3-1-2.2zM391.5 169.9l-0.4 0.6 1.4 3.5 0.7 0.5 0.3 1.3 0-1.8zM414 123.5l-0.5-0.4-10.9 11.4 0.9 0.1 4-3.2zM330.5 106.6l-0.4 1.9 0.4 0.3zM369.5 146.3l0.5 3.2 5.5 7.9 0.2-0.9-2.2-5.5-2-2.9zM385.5 172.1l-0.4 0.4 0.4 1.1 0.5-0.1zM387.5 174.9l-0.3 0.6 7 9 7.7 11 5.5 10 1.1-0.8 4 3.6 0.3-0.8-2.3-3.6-4-4-3.3-4.4-2-4-1.1-4-3.6-5.3-1 0.8-4-5.2zM331.5 103l-0.5 1.5 0.5 0.5zM372.5 156l-0.3 0.5 1.2 2 11.1 13.5 0.5-0.5-0.8-3-7.7-10.1zM408.5 205.8l0 1.8 0.5-1.1zM410.5 209.2l-0.5 0.3 0.5 1.3 0.5-0.3zM411.5 210.9l-0.4 0.6 5.2 9 8.5 11 0.2-1zM400.9 15.5l2.8 0-1.2 0.4zM237.2 17.5l5.9 0-2.6 0.4zM153.4 23.5l1.4 0-0.3 0.7zM308.5 26.3l0 1.8-0.6-1.6zM154.1 27.5l0.6 0 13.4 15 22.4 28.2 8 8.3 8.9 7.5 9.5 6 9.3 4 7.3 0.7 4.4-0.7 6.6-2.5 0.3 0.5-3.3 2.6-6 2.9-4 1.2-6 0.8-7-0.9-5-2.1-5-3.2-8-7.1-10.6-12.2-18.4-26.1zM156.2 34.5l8.7 12 12.6 20.1 9 13 8 10 9.2 8.9 4 3 5.5 3 7.3 2.1 5.4-0.1 3.8-1 8.8-4.4 0.5 0.4-5.5 4.5-4 2.3-5 1.9-3 0.5-4 0.1-4-0.8-5-2.2-4-2.7-9.8-9.6-9.8-13-10.2-16-18.5-31zM157.5 41.2l0.5 1.3-0.5 0.4-0.4-1.4zM158.5 48.8l0.4 0.7-0.4 1.2-0.4-1.2zM159.5 50.9l0.5 1.6-0.5 0.4-0.4-1.4zM159.5 57l0.4 1.5-0.4 0.5zM160.5 59.4l0.4 1.1-0.4 1.2-0.4-1.2zM161.5 61.9l0.5 1.6-0.5 0.8-0.5-1.8zM161.5 68.6l0.4 1.9-0.4 0.5zM162.5 71.3l0.4 2.2-0.4 0.4-0.4-1.4zM161.5 75.3l0.4 1.2-0.4 1.2zM162.5 78.2l0.4 1.3-0.4 1.3-0.4-1.3zM257.5 79.3l0.7 0.2-0.7 1.2zM163.5 81.1l0.4 1.4-0.4 1.4-0.4-1.4zM164.5 84.1l0.5 2.4-0.5 0.4-0.5-1.4zM163.5 88.3l0.4 2.2-0.4 0.6-0.4-1.6zM164.5 91.4l0.4 2.1-0.4 0.9-0.4-1.9zM161.5 95.3l0 2.4-0.4-0.2zM165.5 94.6l0.5 2.9-0.5 0.2-0.4-2.2zM164.5 98.9l0.4 1.6-0.4 1.4-0.4-1.4zM165.5 102.2l0.4 2.3-0.4 1-0.4-2zM162.5 106.1l0 2.6-0.5-0.2zM166.5 105.6l0.5 2.9-0.5 0.4-0.4-2.4zM163.5 110l0 2.8-0.4-0.3zM165.5 110l0.4 1.5-0.4 1.6-0.4-1.6zM162.5 113.2l0 2.5-0.4-0.2zM166.5 113.5l0.4 2-0.4 1.4-0.4-1.4zM163.5 117.3l0 3.1-0.4-0.9zM167.5 117.1l0.5 3.4-0.5 0.1-0.4-2.1zM165.5 117.7l0.4 1.8-0.4 1.5-0.4-1.5zM162.5 120.6l0 2.3-0.5-0.4zM164.5 121.4l0 3.3-0.7-0.2zM166.5 121.5l0.4 2-0.4 1.4-0.4-1.4zM163.5 124.7l0 3-0.7-0.2zM165.5 125.5l0 3.4-0.4-0.4zM167.5 125.3l0.4 2.2-0.4 1.4-0.4-2.4zM162.5 127.7l0 2.5-0.5-0.7zM164.5 129.2l0 3.3-0.8 1-0.2 2-1 0.9zM168.5 129.1l0.5 3.4-0.5 0.3-0.4-2.3zM166.5 129.6l0.4 1.9-0.4 1.6-0.4-1.6zM165.5 133.4l0 3.6-0.5-0.5zM167.5 133.8l0.4 2.7-0.4 1-0.4-2zM164.5 137.2l0.2 2.3-1.1 2-0.1 1.7-0.4-0.7zM166.5 138l0 3.7-0.9-0.2zM168.5 137.8l0.5 2.7-0.5 1.1-0.4-2.1zM165.5 141.6l0.2 2.9-1 2-0.1 2-1.1 1 0 1.6-0.5-0.6 0.5-2.6zM167.5 142.2l0.4 2.3-0.4 1.5-0.4-1.5zM162.5 143.2l0.6 0.3-0.6 1.3zM166.5 146.3l0 3.7-0.6-0.5zM168.5 146.4l0.4 3.1-0.4 1.1-0.4-2.1zM165.5 150.1l0 3.6-0.9-0.2zM167.5 151l0.4 1.5-0.4 2.4-0.6-0.4zM169.5 150.8l0.5 3.7-0.5 0.4-0.4-2.4zM164.5 153.6l0 2.9-1 0.7 0-1.3zM166.5 155l0.2 3.5-0.8 1-1.4 5.7-0.5-1.7zM168.5 155.4l0.4 3.1-0.4 1.2-0.5-0.2zM167.5 159.9l0.3 3.6-1 1-0.1 3-0.8 1-1.4 4.7-1 1-0.4-0.7 1.4-2.8 0.6-0.2-0.5-1 1.6-4zM169.5 160l0.4 2.5-0.4 1.7-0.4-1.7zM163.5 165.2l0.5 0.3-0.5 1.5-0.5-0.5zM168.5 164.6l0.4 2.9-0.4 1.4-0.7-0.4zM167.5 168.9l0.3 3.6-0.8 1-0.3 3-0.8 1-0.4 2-1 1 0 1.7-0.6-0.7 0.6-2.9 1.7-4.1zM169.5 169.3l0.4 3.2-0.4 1.4-0.5-0.4zM168.5 174l0.4 0.5-0.3 4-0.7 1-0.2 3-0.8 1-1.4 6-1-0.2 0-1.7 1.3-2.1-0.2-1 1.5-4 0.2-2 0.7-1zM170.5 174.1l0.5 3.4-0.5 1.3-0.4-3.3zM169.5 179.1l0.4 0.4-0.1 4-1 1 0 3-0.8 1-1.4 7-1 1-0.1 2-1 1.6-0.5-1.6 0.7-1-0.1-1 1.1-2 1.7-7 0.6-1zM170.5 184.1l0.4 3.4-0.4 1.5-0.5-0.5zM169.5 189l0.5 0.5-0.2 4-0.9 1-0.1 3-1 2-0.1 2-0.9 2-0.2 2-0.9 1-0.2 2.1-1.7-1.1 1.2-1-0.3-1 1.1-1-0.4-1 1.8-4zM164.5 191.1l-0.9-0.6 0.9-0.9zM170.5 194.2l0.4 0.3 0 4-0.7 1-0.4 4-0.8 1-0.4 4-0.8 1-0.3 3-0.7 1-0.2 2-0.8 1-0.3 2.1-1.6-1.1 1.1-1-0.5-1 1-1 0.9-4 0.8-1 1.1-6 0.7-1 0.2-3 0.8-1zM171.5 199.7l0.5 4.8-1 1-0.1 4-1 1-0.1 4-0.8 1-1.3 7-1 1-0.2 1.9-1 1.1 0 1.7-1-0.2-0.5-0.5 1.5-1-1-1 1.2-1-0.3-1 1.3-2-0.3-1 1.7-4 1.2-7 0.7-1 0.1-3 0.8-1zM163.3 209.5l1.2-0.6 0.3 0.6-0.3 0.5zM171.5 210.3l0.4 5.2-1 1 0 4-0.9 1-0.2 4-0.8 1-0.2 3-1 1-0.1 3-0.9 1-0.2 2-1.1 1.8-1.7-0.8 2-1-1.1-1 1.2-1-0.4-1 1.6-3 1.2-6 0.6-1 0.3-3 0.8-1zM172.5 216l0.4 0.5 0.1 4-1.1 2 0 4-0.9 1-0.1 4-0.8 1-0.3 4-0.8 1-0.3 3-0.8 1-0.2 3-0.9 1-0.3 2.2-1 1.5-1.4-0.7 2.1-1-1.8-1 1.5-1-0.5-1 1.2-2 2.3-8 1.4-8 0.7-1 0.1-3 0.9-2 0-4zM155 218.5l0.5-0.5 0.6 0.5-0.6 0.7zM163.4 219.5l1.1-0.6 0.3 0.6-0.3 0.5zM172.5 227.4l0.5 5.1-0.9 1-0.3 5-0.8 1-0.2 4-0.7 1-0.6 4-0.7 1-0.1 3-0.9 1-0.3 3-1 1.8-1 0.2-1.1-1 2-1-1-1 1.1-1 1.8-8 0.8-1 0.1-3 1.6-5 0.3-4 0.7-1zM155 228.5l0.5-0.6 0.7 0.6-0.7 0.6zM163.4 229.5l1.1-0.5 0.7 0.5-0.7 0.5zM155.9 231.5l0.6-0.6 0.5 0.6-0.5 0.7zM154.5 234.2l0.5 1.3-0.5 0.3zM155.5 238l0.7 0.5-0.7 1.1-0.6-1.1zM143.8 239.5l2.7-0.3 1.4 1.3-0.4 0.5-1-1zM156.5 241.2l0 1.7-0.5-0.4zM154.5 245.2l0.6 1.3-0.6 0.4zM155.5 249.1l0.6 0.4-0.6 1.3-0.5-1.3zM163.3 250.5l2.2-0.4 0.1 0.4-1.1 1.1zM156.5 252.2l0 1.6-0.4-0.3zM164.2 259.5l1.3-0.8 1 0.2 0.2 0.6-1.2 1.5-0.9-0.5zM164 262.5l0.5-0.6 1.1 0.6-1.1 0.5zM164.2 271.5l1.3-0.7 1 0.1 0.2 0.6-1.2 0.9z"/>
<path fill="#92aab2" d="M451.1 11.5l3.4-0.1 0 0.4zM155.6 12.5l5.5 0-4.6 0.6zM352.4 12.5l2.1-0.4 4.1 0.4zM179.1 13.5l9.4-0.4 2.7 0.4-5.7 0.4zM215.1 13.5l9.4-0.4 2.7 0.4-5.7 0.4zM251.1 13.5l9.4-0.4 2.7 0.4-5.7 0.4zM287.1 13.5l9.4-0.4 2.7 0.4-5.7 0.4zM323.1 13.5l10.4-0.4 1.8 0.4-5.8 0.4zM150.4 18.5l8.1-3.3 9-1.3 5 0.2 4 0.9 9 2.9 10-3 8-1 5 0.2 4 0.9 9 3 9-2.8 9-1.3 5 0.2 5 1.1 8 2.8 9-2.8 9-1.3 5 0.2 4 0.9 9 2.9 10-3 8-1 5 0.2 4 0.9 7.5 2.5-0.5 0.6-2 0-7-1.7-8-0.6-5.5 0.7-8.9 3 1.4 0.4 0.2 1.6-5 10-0.2 1.3-0.8 0.7-0.2 2.3-0.8-0.3-0.2-1.1-1 0.7-8.8 10.4-21.2 32.1-0.3-1.1 1.8-3-0.5-1.1-5.4 9.1-3.6 3.7-9-0.4-5-0.8-3.9 0.5 1.7 2 1.8 1 4.7 1 4.7 0 3-0.6 0.2 0.6-1.2 1.6-2 1-5 1.1-6 0.4-8-0.9-7-2.5-7-4.2-5-4-13.4-13.5-9.6-12-9.8-11-20.9-20 0.7-0.4 8 6 28 23.4 4 2.8 3 1.2 0.1-2-3.1-5-5.4-6-6.5-6-14-10-13.4-7 0.3-0.7 2 0.1 1 0.8 9 2.9 10 2.3 0.3-0.4-5.3-2.1-14-4.1 3-0.5 6.2 0.7 14.8-0.3 0.8-0.7-9.8-3.1-6-0.7-7 0.7-7.1 2.1-0.9 1-1.3 0zM187.7 19.5l1.8 0.7 13-0.2 12 0.9 7.2-0.4-1.2-1-10-3.1-6-0.7-7 0.7zM223.5 19.5l1 0.8 30-0.1 2.3-0.7-10.3-3.2-6-0.6-7 0.6zM294.2 20.5l-11.1-4-6.6-0.8-7 0.6-10.2 3.2 2.2 0.6 27-0.3 1.4 0.7-12.5 22-2.3 5-3.7 6 0.1 1.9 21-33.7zM232.1 83.5l-1.5 0 0.9 0.6zM261.5 70.8l-0.4 0.7 0.4 0.8 0.5-0.8zM262.5 69.1l-0.4 0.4 0.4 1.2 0.5-1.2zM263.5 67.4l-0.4 1.1 0.4 0.5 0.5-0.5zM266.5 62.2l0 1.5 0.6-1.2zM267.5 60.4l0 1.7 0.6-0.6zM268.5 58.7l0 1.5 0.7-0.7zM271.4 55.5l-1.1 0-0.1 1-1 1 0.3 1zM335.6 16.5l7.9-2.4 4-0.1 3.5 0.5-5.5 0.6-8 1.8zM454.5 16.9l0 22.2-1 0-0.5 2.4-3.7 8-12.2 31 0.4 0.5 1.5-2.5 14.5-34.8 1 0 0 44.6-2.2 0.2 2.2 0.1 0 226.9-315 0 0-268.8 1 0 0.4 7.8 1.6 182.7 1 1.3-1.3 1 0.4 3-0.5 2 0.5 2-0.5 2 0.5 2-0.4 1 0.1 2 4.1 3 4.1 10.5 0.5-1.5 0.5-16.5 6.3 16.5 3.6 7 4.1 5.5 2 0.8 1 1.4 1-0.4 2 1.6 0.7-0.9 0.2-4 0.8-1 0.3-4.6 0.4 0.6-0.1 5-1 1-0.3 4 1 1.2 0.7-1.2 0.3-3.7 0.4 4.7 0.6 0.4 0.7-0.4-0.2-4 0.5-0.8 0.3 4.8 0.7 0.8 1 0 0.5-0.8-0.9-1-0.2-5-0.8-1-0.1-5-0.9-1 0-5 0.4-0.4 0.5 5.4 0.9 2 0.2 4 0.8 2 0.2 4 1.4 2.4 0.5-0.4-0.2-3-0.8-2-0.3-4-0.6-1-0.2-4-0.8-2-1.2-10-0.7-1-0.2-5 0.5-0.5 0.6 5.5 0.8 1 0.2 4 0.8 2 0.2 4 0.8 2 0.4 4 0.6 1 1.2 9 1.4 1.3 0.4-0.3-0.1-2-2.8-13-0.2-3-0.8-2-0.3-4-0.6-1-1.3-10-0.7-1-0.2-4-0.7-1-0.2-4 0.5-1.2 0.6 5.2 0.8 1 0.2 4 0.7 1 0.3 4 0.9 2 0.1 3 0.8 2 0.4 4 0.6 1 3.4 19 1.2 0.4 0.6-0.4-6.1-29-0.2-3-0.8-2-0.2-3-0.8-2-0.1-3-0.8-2-0.4-4-0.6-1-0.2-4-0.8-1-0.2-4-0.7-1-0.2-4 0.5-0.7 0.6 4.7 0.7 1 0.3 4 0.7 1 0.4 4 0.6 1 0.4 4 0.6 1 0.4 4 0.6 1 7.4 36 1.3 3 1.4 0-8.8-39-2.4-13-0.6-1-2.2-13-0.7-1-0.3-4-0.7-1-0.2-4-0.8-1-0.1-4 0.4-0.4 0.5 4.4 0.8 1 0.3 4 0.8 1 0.2 3 0.8 2 1.3 8 0.6 1 1.4 8 10.3 43.7 1.7 5.3 1.3 0.5 1-0.3-6.7-25.2-9.7-41-3.3-17-0.7-1-0.1-3-0.9-2-0.1-3 0.5-0.5 8.8 38.5 13.1 50 1.9 5 2.7 0-10.1-34-7-26-6.2-27-0.6-1-0.3-3-0.6-1-1.2-7-0.9-2-0.1-3-0.8-1-0.2-3 0.5-0.7 0.5 3.7 0.8 1 0.3 3 0.8 2 2.4 11 0.6 1 0.4 3 7.1 27 12.1 41.3 5.7 15.7 2.3 0.5 1.5-0.5-9.2-25-11-35-14.7-56-0.1-3 0.5-0.2 4.8 19.2 8.2 29 9 28.8 6 17.2 7 17.8 4.5 8.2 5.3 0-3.6-6-5.7-12-8.1-20-7.9-22-13.9-45-4.2-17-0.7-1-0.3-3-0.8-1-0.2-3-0.8-1 0-3 0.4 0 4.8 18 9.1 30 8.1 23.7 9 23 9 19.2 3.5 5.1 4.5 8.4 4.7 3.6 1.8 3 2.5 0.1 6.9-1.1 1.1-1-3-1.7-3-1-3-1.7-1.5-1.6-3.4-6-4.3-5-2.8-5.9-3.5-5.1-1.5-4-3.5-6-4.2-9-9.9-24-8.9-25-9.9-32-1.3-6-1.7-5-0.1-2-0.7-1-0.3-3 0.7 0 0.4 3 0.8 1 4.4 16 13.2 38.9 9 22.1 7 14.7 5 9.1 3.3 4.2 2.7 4.9 4.5 4.1 4.7 6 1.8 1.3 4 0.8 1.4-0.1 0.9-1-4.2-7-6.1-5-3-5-4.4-5-10.2-17-7-14-7.1-16-8.9-23-9.9-30-4-15 0.5-0.9 0.5 2.9 0.8 1 0.3 2 7.2 22 11.2 29.8 9 19.7 10 17.7 6 8.2 4 3.3 4 4.4 5.2 1.9 2.8 2.1 4 1.9 2-0.6 1.8-1.4 0.1-2-1.9-2.1-7-2.2-5-5.5-4-2.9-11.1-14.3-8.6-14-8.7-17-9.1-21-9-25-6-20 0.5-1 0.5 3 0.9 1 0.2 2 0.8 1 0.2 2 0.8 1 3.5 11 12.1 30.8 8 16.5 8 13.5 9 11.5 3 2.1 3.6 3.6 4.4 1.4 3 2.1 2 0.7 2.2-0.2 2.3-1 1.2-1 0-1-1.4-2-2.3-1.8-5-1.5-4-3.7-4-2.6-10-11.1-9.7-14.3-8.8-16-8.1-18-9.7-26-2.3-8-0.7-1-0.2-2-0.8-1-0.2-2 0.5-0.5 0.5 2.5 0.8 1 0.3 2 0.8 1 0.3 2 0.7 1 3.4 10 12.2 29.1 9 16.7 10 14.1 5 5.1 5 3.8 5 1.8 3 1.6 5-0.6 5 0.4 3-1.4 1.6-1.6 0.6-2-0.8-1-2.4-0.4-4 0.8-2-0.2-4-2-4-0.9-6-3.8-5-4.2-11.5-13.3-9-14-8.1-16-9.9-24-6-18 0.5-0.7 0.6 2.7 0.8 1 7.5 20 11.1 23.9 9 15.2 9 10.9 4 3.5 5.7 3.5 6.3 2 7-0.3 2.6-0.7 9.4-5.6 3.1-3.4 0.5-2-1.6-0.2-6 3.7-11 0.8-6-1.3-5-2.4-6-4.2-6-5.7-5.6-6.7-4.2-6-10.6-19-10.9-25-4.9-13-0.3-2-0.8-1-0.1-2 0.5 0 1.5 5 0.8 1 5.4 14 8.2 17.8 9 16.2 7 10 7.5 8 7.5 5 6 1.6 7.5-0.6 9.5-5 9-9.8 8.8-12.2 7.2-12.9 8-17.1 7.6-19 3.7-1-3-1 3.3-4 2.4-4 0-1-1.4-2 0.1-2 10.2-18 0.2-1-1.1 0.2-0.6-1.2 0.9-4 9.7-21.1 2.5 3.1 2.7 7 4.5 6 2 6 5 8 8.8 19 3.5 10 1-1.4 1.5 2.4 3.2 7 1.8 2 12.5 26 1 1.1 0-2.1-1.7-4 0.7-0.4 1 0.4 6 7.2 2.2 1.8-1.4 2 5.2 10 3 3.6 0.4-0.6-0.7-4 0.4-1-2.5-3 0.5-1-1.2 0 0.3-1-3.8-4 1.4 0 8.3 5 2.8 1 0.7-2-1.6-2.7-1.8-1.3-3.2 0.1-2-0.8-9-7.2-3.1-3.1-5.3-8-8.9-18 1.1-3 0.2-6-1 1-2.3-2-1.9-4-1.3-5-1.5-2.7-1-0.4 0.5 1.1-1.5 1-4.4-11-3.9-7-3.4-9-3.8-7-2.2-6-1.7-3-0.2-2 2.6 0 1.8 1 1.2 4.7 3.6 5.3 1.4 3.8 2 1.2 0.3-1-1.8-4 0.6-1 0.3-4-0.3-5 0.4-1 10.5-0.9 4 1.2 3.6-1.3 4.4-0.2 5 0.6 3-0.2 1 1.2 0.4-1.4 1.6-0.8 1 0 1 1.9 1-3.1 11 0.6 18-1 15 0.9 6-0.7 25 0.5 14-0.7 1 0.7 3 0.7zM446.7 22.5l-2.8 4-1.3 1-1.1 2.3-1 0.6 0.1 1.1-2.1 2.3-25.5 46.7-5 7 0 1-6.9 9 0.4 0.6 7.7-9.6 6.9-11 24-43 3.9-6 0.1-1 2.4-3.5zM449.5 17.7l-2.1 2.8 0.1 1.6 1.3-1.6-0.2-1 1.4-1zM304.5 31.8l-2 1.2-4.6 6.5-0.7 2 0.3 0.8 3.7-1.8 3.3-4.3 0.9-2.7zM330.5 80.8l-0.4 0.7 0.4 1.2 0.5-1.2zM331.5 83.2l0 2.1 0.4-0.8zM332.5 85.7l-0.2 1.8 0.7 1 1.1 5 1.4 1.4 0.4-0.4zM336.5 95.2l0 2.3 1 2.3 0.6-0.3zM338.5 99.8l-0.3 1.7 1.8 3 0.4 2 1.1 2.2 0.8-0.2zM342.5 108.6l0 2.2 0.7-0.3zM343.5 110.7l-0.4 0.8 0.4 1.3 0.6-0.3zM344.5 112.8l-0.4 0.7 0.4 1.3 0.6-0.3zM345.5 114.8l-0.4 0.7 0.4 1.3 0.6-0.3zM346.5 116.8l-0.4 0.7 0.4 1.3 0.6-0.3zM347.5 118.8l-0.2 1.7 7.1 12 16.1 22.3 0.8-0.3 0.2-1.8 1.9 2.8-0.9 0.3-1-1.1-0.3 0.8 9.9 12 4.3 6 0.9 0-1.1-2 0.3-0.9 3.5 3.9 0.3 1-0.8 0.1-1-0.9-0.3 0.8 6.9 9 7.7 11 6.5 12 9.9 16 6 8 4.3 4.3 0.4-0.3-19.7-28 0.3-1.5 3 3.3 1 0.5 2-0.3-6-7.3-4-3.7-2.2-3-1.2-3 0.4-2.5 1 0.3 2 2.9 0.3-0.7-1.1-1 0.4-1-0.6-1.4-3-1.1-2-2-2.9-4.5-1.1-2.8-0.5 2.8-0.5 0.1-3.7-5.1-0.8-4-4.5-8-1-0.5-1 1.3-1 0.4-5.7-7.2-1.9-6-4.2-6 0-1-2.2-3.2-1-0.3 0 0.7 1.3 1.8-0.7 1 0.3 1-0.9 0.6-5.4-7.6-8.6-14.6-1 1.9zM370.5 131.7l-0.1 0.8 1.1 1.1 1 0.2 1 1 0.9-0.3-1.9-2.1zM329.5 27.4l-2 2.3-1 2.6-1-0.3-0.2 0.5 4.2 5.3 0.6-0.3-0.1-2 1.2-1 0.2-4-0.9-2.8zM333.5 43.2l1.2 3.3-1.2 1 2 3.8 1-0.8-1.2-1 1.2-1 1 1.1 0.1-1.1-2.1-4.3zM340.5 21.2l-2.3 2.3 1.3 4.7 1 1.1 1-0.8 1 0.1-0.2-2.1 0.8-2-1.6-2.9zM343.5 54.9l-1 1.6 1 0.5zM345.5 46.1l-0.5 1.4 0.5 1.1zM346.5 41.7l-0.6 1.8 0.6 1.2zM347.5 38.5l-0.6 1 0.6 0.7zM350.5 24.9l-0.6 0.6-0.4 3.8 1-0.3zM374.5 96.2l1 1.4 0.5-0.1-0.5-1.6zM437 81.5l-0.5-0.5-2.5 5.5 0.2 1-1.1 1-1.4 3-1.2 1-13 3.3-1.1-0.3 0.6-2-0.5-0.6-2 0.5-0.7 1.1-1.3 0.3-6 4.7-8 3.5-0.3-0.5 2-3-0.7-0.2-6 5.5-3.2 0.7 0.7 1-1 1-4.5 2.7-5 1.8-1-1-1 1.1-4 0.8-3-1.6-1.1 1.2 2.1 3.9 1 0 2-1.4 4 0.5 1 0.5 1-1.5 3.5-1 3.3-2 8.2-6.7 4-0.8 13-6.1 7-1.2 9-2.6 1 0.9 1-1.1 4-1.1 1-0.8 2.9-0.5-1.9-0.8-4 0.8-0.4-1 2.8-5zM332.5 97.9l-13.4 46.6-10.1 31-11.2 30-10.2 22-6.1 10.8-6 9.2-7 8.5-7 6.7-4 2.8-6 2.5-15.5-1.5 0.4 1-0.4 1 3.7 3 0.8 1.4 2 0.6 3-0.3 3-1 1 0.5 9-3.1 4-2.1 5-4.8 5-6.2 9.2-15 6.1-13 3.7-6.2 8.2-17.8 9.9-26 6.9-20.5 0.4-2.5 0.7-1 2.4-9 0.7-1 0.1-2 0.8-1 1.2-6 0.8-1 1.2-6 0.7-0.8 0.4-3.2 0.6-0.6 0.2-2.4 0.8-1.2 0.3-2.8 0.7-1 0.3-3 0.8-1 0.2-3 0.7-0.4 0.4-3.6 0.6-0.2 0.1-3.8 0.9-0.2zM333.5 95.3l-0.7 1.2 0.7 0.9zM386.5 173.6l0 1.2 0.8-0.3zM369.9 134.5l2.8 3 1.8 3.2 1 0.2 0.5-3.4-3.5-2.5-1 0.1-1-0.9zM342.5 58.9l-1.2 0.6 0.1 2-0.9 2-0.8 5 0.8 1.3 1.3-7.3 0.8-1-0.1-0.8-1-0.2 1-0.2zM349.5 29.6l-0.6 0.9 0.6 2.1zM374.5 122.2l-0.1 3.3 2.1 2.8 0.8-0.8-0.1-3-1.5-2zM378.4 135.5l-0.2 1 1.6 0-0.5-1zM382.5 121.9l-0.5 0.6 0.5 1.2zM386.5 136.2l-0.5 1.3 0.5 0.2 0.5-0.2zM388.5 141.9l-0.6 0.6 0.6 1.4zM388.7 139.5l1.8 0.6 1.7-0.6zM414.5 121.8l-11 11.4-5.5 3.3-0.5 0.8-1.6 0.2-0.4 1-2.4 0 0.4 0.8 3-0.9 2 0.2 5-3.2 6-5.9 5.4-7zM416.5 119l-1.7 2.5 0.7 0.3 1.4-2.3zM349 95.5l-0.6 1 3.3 5-0.2 1 1-0.1 1.1 1.1-0.1 1.3 1.2-1.3-0.8-2-3.7-6zM362.5 110.2l3 3.3 2-1-2-2.5-2-0.7zM377.8 138.5l1.4 1 2.3 4.4 1-1-0.4-1.4 0.3-1 3.1-0.6 2 1.6 0.9-2-5.9-0.2-2-0.4-1-0.9zM389.5 164.4l-0.2 2.1 0.9 4 4 7 0.3 1.4 0.9-0.4-1.5-7zM390.5 151.5l0.4 2 0.6 0.6 0.1-2.6zM378.7 151.5l-1 1 0 1 3.1 4-0.1 1 1.8 1.2 1-0.1-0.7-1.1-0.7-4-1.6-2.9zM383.5 151.5l0.8 1-0.1 2 3.3 6.5 0.9-1.5-1.1-1 0.3-1-0.9-4-1.1-2zM305.5 19.4l1.3 2.1 0.1 2-0.4 0.4-1.8-3.4zM154.3 20.5l0.2-0.6 1-0.2 0.7 0.8zM156.5 29.8l14.7 16.7 20.3 26.1 9.5 9.9 8.3 7 8.2 5 4.9 2 4.2 1 8 0 7.9-2.6 1-0.1 0.1 0.7-4.1 2.6-5 2.1-4 1-6 0.2-6-1.2-3-1.1-8-5-8.4-7.6-10.3-12-19.3-27-13.3-17zM290.5 35.7l0.4 0.8-0.3 2-2.7 7-4.4 8.8-4.4 7.2-8.8 10-11.8 11.8-0.3-0.8 3.6-4 8.7-11.9zM158 37.5l0.6 0 7.5 11 12.4 19.9 9 12.9 10 12.1 7.9 7.1 8.6 5 6.5 1.4 6.6-0.4 5.4-2 4-2.4 1-0.2 0.1 0.6-3.1 2.6-5 3.1-6 2-7 0-4-1-6-3.2-4-3.1-7.4-7.4-11.3-15-8.9-14zM158.5 43.1l0.4 1.4-0.4 0.3zM159.5 44.9l0.5 1.6-0.5 0.2-0.4-1.2zM160 47.5l0.5-0.8 15 27.7 14 22.2 5 6.3 5.4 5.6 6.6 5 4.3 2 3.9 1 4.8 0.1 7.6-2.1 6.3-4 4.1-3.7 14-17 7.6-4.3 8.4-3.4 4-1 0.2 1.4-9.2 18-5 8.6-5.1 7.4-7.9 9.1-4 3.3-8 5-8 2-7-0.7-8-3.4-7-4.8-6.7-6.5-5-6-6-9-8.7-16-9-19-5.2-13 0.7 0 14.9 31 10 17.1 5 7 5 5.6 4.8 4.3 4.6 3 4.7 2 5.9 1 6-0.7 7.6-3.3 2.5-2 8.9-10.3 2-3.7 1.4-5-0.4-0.3-9 9.5-6 4.3-4 2.1-6 1.5-4 0.1-5-0.9-6-2.8-5-3.7-4.8-4.8-9.9-13-12.8-22zM160.5 53.1l0.4 1.4-0.4 0.5-0.4-1.5zM161.5 55.2l0.5 1.3-0.5 0.8-0.4-1.8zM323.5 59.1l3 5.1 1.6 5.3-0.6 0.4-4-8.9zM161.5 62l0.4 1.5-0.4 0.6zM162.5 64.4l0.4 2.1-0.4 0.3-0.4-1.3zM163.5 67l0.5 1.5-0.5 0.8-0.4-1.8zM277.5 66.9l0.7 2.6-0.7 0.2-0.6 1.8-2.8 4-4.6 3.6-5 2.7-0.7-0.3 7.2-7zM279.1 68.5l0.4-0.6 0.8 0.6-0.8 0.7zM164 69.5l0.6 0 0.5 2 0.8 1 5.4 13 10.1 21 5.1 9 6 8.8 7 8.3 6.8 5.9 7.6 4 5.6 1.2 7-0.7 4.6-1.5 6.5-4 6.9-6.4 7-8.4 6.1-9.2 7-13 4.4-10 2.9-5 0.4-2 1.2-2 0.8 1-5.1 12-8.2 17-5.8 10-6.9 10-7.7 9-4.1 3.6-6 4-9 2.1-6-1.1-4-1.8-5-3.4-7.7-7.4-7.1-9-5.8-9-8-15-8.8-20-4.9-12zM163.5 74.1l0.4 1.4-0.4 1.1zM333.5 74.4l0.5 1.1-0.5 0.5zM331.5 76l0.4 1.5-0.4 0.3zM334.5 76.2l0.6 1.3-0.6 0.7zM164.5 76.9l0.4 1.6-0.4 0.8-0.4-1.8zM164.5 84.2l0.4 1.3-0.4 1.3-0.4-1.3zM165.5 87.1l0.4 1.4-0.4 1.3-0.4-1.3zM166.5 90l0.4 2.5-0.4 0.3-0.4-2.3zM166.5 97.9l0.4 1.6-0.4 1.2-0.4-2.2zM167.5 101l0.4 2.5-0.4 0.4-0.4-1.4zM166.5 105.9l0.4 1.6-0.4 1.2zM167.5 109.1l0.4 2.4-0.4 0.6-0.4-1.6zM168.5 112.3l0.4 2.2-0.4 1-0.4-2zM167.5 117.3l0.4 2.2-0.4 0.9zM168.5 120.8l0.4 1.7-0.4 1.4-0.4-2.4zM169.5 124.2l0.4 2.3-0.4 1-0.4-2zM168.5 129.2l0.4 2.3-0.4 1.1-0.4-2.1zM169.5 133l0.4 2.5-0.4 0.9-0.4-1.9zM170.5 136.6l0.5 2.9-0.5 0.6-0.4-2.6zM169.5 142l0.4 2.5-0.4 1-0.4-2zM170.5 145.9l0.4 2.6-0.4 1-0.4-2zM171.5 149.7l0.5 2.8-0.5 0.9-0.4-2.9zM169.5 151l0.4 2.5-0.4 1.2zM370.5 151.3l0.5 1.2-0.5 0.2zM166.5 155.4l0 3.2-0.4-0.1zM170.5 155.2l0.4 2.3-0.4 1.4-0.4-2.4zM171.5 159.2l0.4 3.3-0.4 0.6-0.4-2.6zM167.5 160.2l0 3.5-0.5-0.2zM172.5 163.3l0.5 3.2-0.5 0.8-0.5-2.8zM166.5 164.2l0 3.3-0.4-1zM170.5 164.7l0.4 2.8-0.4 1.2-0.4-2.2zM165.5 168l0 2-0.4-0.5zM167.5 169.3l0 3.4-0.6-0.2zM171.5 169.1l0.4 2.4-0.4 1.6-0.4-2.6zM166.5 173.1l0 3.4-0.5-1zM172.5 173.4l0.5 3.1-0.5 1.2-0.4-3.2zM167.5 178.4l0.4 0.1-0.4 3.8-0.5-0.8zM169.5 179.3l0 4.3-0.5-0.1zM171.5 179.1l0.4 2.4-0.4 1.9-0.4-2.9zM166.5 182.8l0 2.4-0.5-0.7zM168.5 183.9l0 3.9-0.7-0.3zM172.5 183.8l0.4 2.7-0.4 1.6-0.4-2.6zM167.5 188.2l0 3.3-0.4-1zM173.5 188.3l0.5 4.2-0.5 0.4-0.4-2.4zM169.5 189.2l0.1 4.3-0.9 1-0.1 3-0.8 1-0.3 3-0.7-1 1.3-4 0.4-3 0.7-1zM171.5 189.3l0.4 3.2-0.4 1.4-0.4-1.4zM166.5 191.8l0.4 0.7-0.4 2.8-0.4-0.8zM170.5 194.4l0 4.6-0.4-1.5zM172.5 194.3l0.4 3.2-0.4 1.5-0.4-1.5zM169.5 199.3l0.2 4.2-1.1 1 0.2 2-1.2 3-0.1 1.8-0.8-0.8 0.7-1zM173.5 199.2l0.5 4.3-0.5 0.5-0.4-2.5zM171.5 200l0.4 1.5-0.4 3.2-0.4-3.2zM166.5 202l0 2.2-0.5-0.7zM170.5 205.1l0 4.7-0.9-0.3 0.6-1zM172.5 205.1l0.4 3.4-0.4 1.5-0.4-1.5zM169.5 209.7l0 4.9-0.8-0.1zM173.5 210.4l0.4 3.1-0.4 1.8-0.4-2.8zM171.5 210.7l0.4 1.8-0.4 3.2-0.6-0.2zM166.5 212l0.5 0.5-0.5 1.6zM168.5 214.6l0 4.1-1-1.2 0.8-1zM170.5 215.8l0.2 4.7-1 1-0.2 4-0.7 1-0.2 3-1.1 1 0 1.7-0.7-0.7 1.2-3 1.4-8 0.8-1zM172.5 216.2l0.4 3.3-0.4 1.8-0.4-1.8zM174.5 215.7l0.4 4.8-0.4 0.3-0.5-3.3zM167.5 218.8l0 3.7-1 0.6 0-1 0.9-0.6-0.5-1zM171.5 221.8l0.4 1.7-0.4 3.4-0.8-0.4zM173.5 221.9l0.4 3.6-0.4 1.5-0.4-3.5zM170.5 226.9l0.2 4.6-0.9 1-0.2 4-0.8 1-0.2 3-1.1 1-0.2-1 0.7-1 0.4-4 0.7-1 0.3-3 0.7-1zM174.5 227.3l0.5 3.2-0.5 2.3-0.4-3.3zM172.5 227.8l0.4 1.7-0.4 3.4-0.4-0.4zM166.5 233.1l1 0.4-1 1.4zM171.5 233.1l0.4 0.4-0.3 5-0.8 1-0.2 4-1.1 0 0.8-5 0.8-1zM175.5 232.9l0.5 4.6-0.5 0.8-0.5-4.8zM173.5 233.7l0.4 1.8-0.4 3.5-0.4-3.5zM172.5 239.3l0.4 2.2-0.4 3.4-0.7-0.4zM174.5 239.4l0.4 5.1-0.4 0.5-0.4-3.5zM167.5 243.2l-0.5-0.7 0.5-1zM169.5 243.5l0.3 3-1.3 3 0 1.8-0.9-0.8 0.8-1 0.1-1.8 0.6-0.2-0.6-1 0.8-1zM171.5 244.9l0.3 3.6-1.1 4-0.1 3-0.8 1-1.3 6.8-1 1.1 0.2-2.9 2.6-9zM175.5 245.2l0.5 5.3-0.5 0.5-0.5-3.5zM173.5 245.7l0.4 3.8-0.4 1.7-0.4-1.7zM172.5 251.3l0.5 0.2-0.2 5-0.8 1-0.3 5-0.8 1-0.2 4-0.8 1-0.4 3-1-0.4-0.1-0.6 0.8-1 0.2-3 0.9-2zM167.5 251.6l1 0.9-1 1 0 1.5-0.5-0.5zM174.5 251.9l0.4 3.6-0.4 2.2-0.4-2.2zM173.5 258l0.4 0.5 0 5-1 1-0.1 5-1 1-0.1 4-1.2 4.6-0.6-0.6 0.4-4 0.9-2 0.1-3 0.8-1 0.1-4 1-2zM175.5 258l0.5 5.5-0.5 0.5-0.5-2.5 0.1-3zM174.5 264.7l0.4 3.8-0.4 2.2-0.4-0.2zM165.1 269.5l1.4-0.5 0 0.7zM175.5 271.1l0.5 5.4-0.5 0.7-0.5-3.7zM169.5 272l-1 1.5 0 1.7-1 0.6 0.4-1.3-0.4-1 1-1.9z"/>
<path fill="#8da3ad" d="M153.7 17.5l5.8-2.2 8-1 9 1 9 3.1 10-3.1 8-1 9 1 9 3.1 10-3.1 8-1 9 1 9 3.2 10-3.2 7-1 5 0.1 5 0.9 9 3 10-3 6-1 6.6 0.2 8.3 2-1.9 0.4-8-1.8-5 0-5 0.9-10 3.8-11-3.8-7-1-8 1-9 2.9-4-0.2-8-2.7-7-1-8 1-10 3.6-11-3.6-6-1-4 0.1-5 0.9-9 3.1-1 0.8-11-3.9-5-0.9-5 0-5 0.9-5 1.8zM447.4 17.5l-1.1 1 0.3 1-3.1 4.7-0.3 1.3-1.7 2-0.1 1-28.6 52-4.9 7 0 1-9.4 11.8-5 4.4-4.2 0.8 1.3 1-3.1 2.6-7 2.4-1-1.1-1.8 1.1-3.2 0.4-4-2.5 0.2 1.1-1.2 1.4-1 0-3-4-1.1-0.4 0.1-1.1-2 0.2-2-0.5-2.1 1.4 5 6 3.1 2.4 1 0.1 0.7-0.5 0.2-1 1.1-0.4 3 3.2 1 0.4 2-1.4 4-0.3 1 0.5 1-1.4 2.1-0.6 4.9-2.9 8-6.7 4-0.8 13-5.9 16-3.9 1 1.3 0.2-1.1 0.8-0.5 8-2.4 1-0.9 2.2-0.2-1.7-1 3-1-0.5-0.5-2-0.1-2 1.4-5 1-0.1-1.8 1.8-3 2.1-6 0.9-1 2.1-6 0.9-1 11.1-27 1.2-0.4 0 43.9-3.6 0.5 3.6 0.3 0 226.7-315 0 0-268.6 1 0 0.4 7.6 1.3 181 0.3 2 0.7 1-1.1 1 0.1 14 4.1 3 4.2 10.6 0.6-0.6 0.2-14 0.2-1 1 0.1 5.1 13.9 4.9 9 2.4 3 3.6 2.9 1-0.2 1.7 1.3 1.3 0.2 1 1.1 0.7-0.3 0.3-4.3 0.2 4.3 0.8 0.5 1-0.5 0-4.5 0.1 4.5 0.9 1.1 1 0 1-0.8 1 1.3 0.7-0.6-0.2-3 0.5-0.9 0.4 3.9 0.6 1 1 0.4 0.6-0.4-0.1-3-0.7-1-1.4-9-0.8-2-1.2-9-0.7-1-0.2-4 0.5-0.8 3.6 19.8 0.8 2 1.2 8 1.4 0.6 0.9-0.6-0.4-3-0.9-2-4.4-23-0.6-1-1.3-9-0.7-1-0.2-4-0.7-1-0.2-4 0.5-0.3 2.6 14.3 0.7 1 0.4 4 0.6 1 4.1 19 1.2 8 1.4 2.2 1.7-0.2-0.3-3-1.9-6-7.9-35-2.2-13-0.7-1-0.2-3-0.9-3-0.1-2 0.5-0.7 0.6 4.7 0.8 1 1.3 8 0.7 1 0.2 3 10 41 1 6 1.4 2.5 2 0.1 0.2-1.6-1.8-5-5-19-8.8-37-0.3-3-0.6-1-1.3-8-0.7-1-0.2-3 0.5-0.8 4.7 20.8 14.3 55 1.6 4 2.4 0.4 0.9-0.4-5.5-17-10.8-39-6-24-0.3-3-0.7-1-0.2-3-0.7-1-0.2-3-0.7-1-0.3-3 0.5-0.8 0.6 3.8 0.7 1 0.3 3 0.7 1 0.3 3 0.7 1 0.4 3 0.6 1 6.6 26 14.1 47.2 2.4 5.8 3.6 1 1-0.9-2.7-6.1-6.8-19-11.1-35-12.8-48 0.4-3 3.7 15 0.7 1 8.6 31 7 22.2 9 25.5 2.5 5.3 1.5 4.7 3.8 7.3 4.2 0.5 2.6-0.5-1.3-3-3-4-5.8-12-7.9-19-6.3-17-8.9-27-10.8-38-0.1-2-0.7-1-0.2-3 0.4-0.4 0.5 3.4 0.8 1 1.3 6 0.7 1 1.4 6 9.3 29.7 9 25.6 6 15 9 19.6 3.3 5.1 4.1 8 4.4 4 1.2 2 4 0.3 7-1.1 3.7-1.2 1.4-1-2.1-0.3-4-2.1-2-0.3-5.3-3.3-3.7-5.7-4.8-5.3-11.8-21-8.2-18-9.8-25-10.8-33-5-17-0.1-2 0.5-0.6 1.7 6.6 0.7 1 5.4 18 11.2 31 9 21.1 9 17.6 2.5 3.3 3.5 6.1 3.7 3.9 5.3 7.2 6 3.4 7 5.7 8 0.4 3-0.8 6.5-2.9 5.5-4 4-4.1 6.1-7.9 9.1-15 14.9-30 12.1-30 9-27 7.9-27 1.2-6 0.7-1 2.3-10 0.7-1.1 0.4-2.9 0.7-1 1.3-7 0.7-1-0.1-3.5-1.8 4.5-12.7 45-9.9 31-9.4 26-11.2 24.8-8 14.1-4 5.9-5 6.3-6 5.9-5 3.6-7 2.6-10-0.1-7-1.8-5.1-5.3-5.9-4.2-3.4-4.8-4.6-5.1-10.7-16.9-9.9-20-10-24-9.7-28-4.8-16-0.3-3 0.5 0 0.4 3 0.9 1 0.2 2 0.7 1 3.3 11 8.4 23 12 28 11 19.9 6 8.6 3 2.7 4 5 12 7.5 14-1 6-1.7 4-3 4.1-4 5.1-7 4.8-8-1-0.8-1 0.5-4 3.6-12 8.7-8 2.9-3-0.2-5-2-7-1.5-10-7.8-2.5-3.4-3.5-3.2-9.8-13.8-11-20-7.8-17-5.9-15-6.9-20-0.2-2-0.8-1-1.1-5 0.5-0.5 3.7 11.5 9.3 24 10 21.7 5 9.2 8 12.3 5 6.1 6 5.8 9 5.3 11 1.2 3-0.2 6.1-3.4 5.8-5 7.1-7 2-3-0.1-1-0.9-0.1-7 4.8-18 4-6-2.1-5-1.2-4-3.2-3-1.5-6-5.5-5-5.7-7.6-10.5-10.7-19-10.2-23-7.7-21-1.3-5 0.5-0.5 0.6 2.5 0.8 1 3.4 10 9.2 22 9 17.8 5 8.2 7 9.4 5 5.4 6 4.8 7 3.5 10 0.8 3-1 9-4.7 6-4.3 4-4.7 6-9.1 1.7-5.1-0.7-0.9-1 0.4-14 12.7-3 2.2-3 1.2-11 2.1-5-1.5-3-0.3-7-3.7-6-4.8-7.8-8.4-6-8-5-8-5.8-11-6.8-15-6-15-4-12 0.4-1 4.7 13 9.3 21 6 11.9 6 10 6 8.2 8 8.1 5 3.5 6 2.5 8 0.5 2-0.4 9-3.8 4.5-3.5 8.5-10.2 6-8.2 3.1-6.6 3.8-6 2.5-9-0.4-0.4-3 3.4-3.4 7-7.8 11-4.8 4.5-11 8.4-11 2.8-7-0.9-5-2.1-5-3.1-7-6.3-4.6-5.3-6.9-10-6.2-11-7.8-16-8.8-22-0.3-2 0.7 0 7.7 19 7.2 15 8 13.8 8 11 6.1 6.2 5.9 4.1 7 2.4 5 0.1 3.1-0.6 6.9-3 2.7-2 9.4-10 3.9-5.1 6-9.6 6-11.3 7-15 8.2-21 4.3-1-3.4-1 8.9-10.4 1-0.6 3-0.4 2-1.5 5-6.9 4.8-8.2 0.2-1.4-1-1.2-2 0.3-2 1.8-5 6.5-5 8.7-4 1.6-1-0.3 0-2 2.4-5 8.6-12.7 8.9-6.3 0.2-1 2.9-3.8 1-2.9 1 0.4 2.4 3.3 0.9 4 0.8 1-0.1 1.6-1-0.7-1.7 1.1-0.3 1.1 1 2 2.3-0.1-0.2-3 0.9-0.2 0.3 1.2 4.3 6 7.9 17 3 9 3 6 2.6 8 0 2 2.5 2 0.3 2 4.8 11 11.2 21 5.9 9 11 15 11.7 14 13 17 7.6 11 9.5 17 9 14 7.4 9.1 6 5.8 1 0.4 0.5-0.3-2.7-3 0.3-1-0.5-1-8.3-9-12.3-17.1 0-1.6 2 2.1 2 0.7 4 3 1.5-0.1 0.1-1-2.6-3-6-5.1-9-9.9-0.7-2 0.7-0.6 3 2.5 0.4-1.9-0.8-2 0.5-1-1.1-0.4-3-5.8-1 1.3-1-0.1-2-1.6-1.5-2.4-1.1-3 0.1-2-0.7-1 0.2-0.5 1 0.8 2 0.2 0.3 1.5 0.7 0.5 0.2-2.5-3.2-8.2-1 1.7-2 0.2-0.2-0.7-0.8-0.3-2.8-4.7-0.9-3 0.4-1-1-1 0.3-2.1 3-0.3 1 1.2 0.3-1.8-0.6-4-1.7-1.6-1.1 0.6 0.6 1-0.5 0.7-1-0.8-2 0.2-2-1-1 0.1 0 3.3-1-0.1-1.7-2.4-1.8-1 0.9-1-1.4-1.7-1-0.5-1.2 1.2 1.9 1-1.7 1-1 1.3-3.7-4.3-0.7-2-3.4-6-1.1-6 0.9-0.3 1.6 1.3 4.4 7.1 3 2.5 0.8-1.6-0.5-3 0.7-0.6 0.8 0.6 4.1 7 0.1 1 2-4.4 3 0.6 1 0.8 1-3.7 2 1.2 3.1-0.5 3.9-2 4.1-3 7.9-8 6.1-8 3.3-5-0.1-1 1.1-1-0.4-0.7-6.7 9.7-9.3 9.6-4 3.1-6 3.1-3 1-10-0.4-0.7-0.4 1.7-0.9 4 0.5 1.5-0.6-1.5-1.9-1 0.9-4-0.1-3-2.9-1.2 2 0.4 1 1.7 1-1.9 0.9-2.6-1.9-0.4-1-1.1 0 2.4 0-3.3-3.8-6-2.5 4.5 4.3-0.5 0.4-1-0.8-1 0-4.4-4.6 0.8-1-4.4-5 1-0.1 9 5.6 2-0.1 1-1.9 1.7 2.5 2.3 2 1.1-1 0.5-2-0.4-1 1.6 0-0.1 1 1.3 0.1 0.4-0.1-1.2-1 1.8-0.3 2 4.5 0.2-2.2-0.9-1 0.3-3-1.1-2-0.3-2-1.2-1.9-1 1.9-1 0.8-1.4 0.2 1.5 1-1.1 0.5-1-0.2-0.4-1.3-2.6-0.8-1 1-1 2.3-3.7-3.5-2.3 0.2-3-0.5-2-1.3-4-3.9-4-2.6-3-3.3-5.4-8.6-5.8-12 0-1-0.9-1 0.1-1.7 3 2.3 0.5-0.6-2.5-5-1-1 0-6.6-1 0.7-1.6-1.1-2.1-5-1.3-6.1-2-2.7-2.8-2.2 0.2-2-1-7-1.8-5 0.4-4.1 1-0.8 2 2.3 2-0.7 1.4 1.3 0.9 2-0.4 3 1.6 7 1.5 1.8 3 0.9 0-2.7-0.9-1 1.4-2-1.4-7-2.1-3-1-0.3-1.3 0.3-0.9-2 0.5-1 0.7-11 2-1.1 1 0.1 2.9 7 1.1 0.9 1-0.1 2.2-2.8 0-3 0.6-2-0.5-4 0.5-2 2.2 0.4 1 1.2 0.4 1.4-0.5 3 0.8 3-0.1 4-0.6 3.4-2.5 1.6-0.5 9-1.2 7-0.8 1.2-1.1-0.2-0.2 1 0.8 1-0.5 0.7-1-0.1-1-0.9-0.7 0.3 0.9 1-0.8 5 0.3 7-0.4 3 0.7 1 2.4-7 0.8-7 0.9-1 0.2-4 0.8-1 2.2-9 1-7 2.3-5 0.1-2 0.8-1 0.8-8 1-1 0.7-2.2 0.9 0.2-0.2 1 2.3 1.5 1 2.5 0-6.3 15 0.3 1.9 1 2.1 0.1 5-1.4 5-0.5 12 0.9 11-0.6 4 0.4 10-0.5 16 0.5 6-0.6zM358.5 25.6l-0.6 0.9 0.6 1.9zM359.5 29.5l-0.7 1 0.7 1.9zM360.5 33.3l-0.8 1.2 0.8 1.7zM361.5 37.6l-1 1.9 1 1.4 0.4-0.4zM362.5 41.1l-0.9 1.4 0.9 1.9zM364.5 50l-0.8 0.5-0.1 1 1.9 4.8 0.3-1.8-1-2zM366.5 58.3l-0.6 1.2 0.6 1zM367.5 62.5l-0.6 1 0.6 1.5zM368.5 66.4l-0.4 1.1 0.4 1.2zM371.5 79l-0.6 0.5 0.6 2.1zM372.5 83.2l-0.6 1.3 0.6 1.3zM373.5 87.1l-0.6 0.4 0 1 1.6 4.7 0-2.4-0.9-0.3zM382 101.5l1.6 0-1.1-0.6zM384.1 102.5l2.1 0-1.7-0.6zM387.1 103.5l3 0-1.6-0.5zM421.5 110.9l-0.8 0.6 0.8 1.2zM423.5 107.8l-0.7 0.7 0.7 0.6zM424.5 106l-0.6 0.5 0.1 1 0.5 0.1zM425.5 103.9l-0.6 0.6 0.6 1.1zM426.5 102l-0.7 1.5 0.7 0.3zM427.5 100l-0.7 1.5 0.7 0.3zM428.5 97.9l-0.7 1.6 0.7 0.4zM429.5 96.1l-0.6 1.4 0.6 0.3zM265.5 199.9l-1.3 1.6 0.3 0.7 1.3-0.7zM266.5 197.2l-0.9 1.3 0.9 0.7 1-0.1 0-1.4zM271.5 120.4l-2 3.3-0.4 2.8 0.4 0.5 0.8-0.5 1.3-3zM284.3 79.5l0.2 0.6 4-0.1 2-0.5 0.7-1-2.7-0.5zM382.5 147.5l0.7 1-0.8 1 1.1 0.8 1 0.1 1.3-0.9-2-1-0.3-1.2zM389.5 146.2l-0.2 2.3 1.2 0.6 0.2-0.6-1.2-1zM349.5 66.1l0 1.4 0.6 0zM350.5 67.6l0 1.3 0.7-0.4zM351.5 36.8l0 1.8 2 1.9 0.4-1-1.4-2.3zM362.5 45.2l1 3.4 0.1-3.1zM371 93.5l5.5 5.8 1.4-0.8-2-2-0.4-1.5-2-0.4-2-1.5zM384.5 105.5l1 0.6 0.8-0.6zM393.5 158.1l-1 0.4 1 1.9zM395.5 164.7l-0.5 0.8 0.5 1.4zM344.5 90.3l7 14.2 4 5 0.7-1 0.1-2 1.7 0-3.7-6-4.1-9-1.7-1.6-2-0.6 0 1.3zM351.5 68.9l-0.2 1.6 1.8 2 0.2 1 3.9 5 0.8 0zM361.6 78.5l0.9 0.5 1.6-0.5-1.6-0.6zM374.4 100.5l1.1 0.4 1 1.6 0-2.4zM377.5 102.2l-1 0.3 1 3.2 0.5-3.2zM353.6 78.5l0.9 0.7 1.1-0.7zM362.5 83.6l-0.1 0.9 2.1 3.2 2.8 2.8 0.9 0-3.7-5.9zM366.5 91.3l-1 0.5-0.2 0.7 2.2 4.6 1.2-1.6-1.6-2 0.4-1.1-1.4 0.1zM367.5 97.8l-0.1 1.7 1.1 1.4 0.6-0.4-0.6-2.4zM454.5 17.4l0 21.1-1 0-0.7 3-4.6 10-5.6 15-6.7 16-4.4 8.8-1.9 1.2-9.1 2-2-0.4-0.5-0.6 1.5-1-0.8-1 1-1-0.2-1.2-2 1.7-3 0.2-1 1.1-1.5 0.2 0.5 1.2-3.8 0.8 0.8 1-2 1.4-0.7 1.6-2.9 2-4.4 1.9-0.5-0.9 9.2-11 0.1-1 1.2-1 13.4-22 6.6-12.6 19-32.4 4-4zM333.1 20.5l-0.6 1.4-2.4 0.6-5.6 6.9-2.1-1.9-0.6-3 0.8-4 1.7-1 3.2-0.3 4 0.3zM156.5 21.5l1-0.5 16.1 5.5 9.9 2.6 0.7-0.6-4.7-2.2-15.7-4.8-0.3-0.6-3.2-0.4 1.2-0.3 11 0.7 29-0.5 16 1 17-1.1 54.9 0.2-0.5 2-20.4 36 0 2 1-1.2 0.4 0.2-1.4 2.8 0-1.8-1.1 0 0.1 1.8 0.9 0.2-3.9 6.8-0.4-1.8-0.8 0-8.3 14-3.5 3.1-8-1-9-2.3-6-2.6-6-3.6-13.4-10.6-11.2-14-12-11-14.4-10.1zM267.3 62.5l-0.8-0.4-0.3 1.4-1 1 0.1 1-1.2 1 0.4 0.8 2.7-3.8zM309.5 20l2 0.3 1 1.2 0.5 3 3.7 6 1.4 7 5.1 5-0.7 1 0.8 2-0.4 2 0.5 1-0.1 2-0.8 0-4.1-9-1-4-0.9-0.8-0.2-1.2-0.8-0.6-2.3-4.4-1.1-4-2.8-5zM297.5 20.7l-1 3.2-3 5.2-4 4.7-1.8 0.7 0 1-6.2 6.5 0-1.7 11-17.8 2-1.5zM301.5 23.1l2.3 3.4 0.7 3.3-2 1.3-6 9-5 4.7-0.2-2.3 1.5-4 7.7-15.1zM157.5 25.9l20 16 11.6 10.6 16.8 17 12.6 10 6 3.9 6.3 3.1 7.7 2.1 11-0.3-0.4 1.2-2.6 1.4-5 1.1-9 0.1-8-2.2-9-4.7-8-6.2-7-6.7-20.7-23.8-10.7-11-12-11zM158 32.5l0.5-0.5 12.6 14.5 17.4 22.9 6 7 7.9 8.1 6 5 7.8 5 8.2 3 4.1 0.5 6-0.4 8-2.6 0.9 0.5-3.9 2.5-5 2-4 1-5 0.2-7-1.4-4-1.7-5-3-9-7.7-10.7-11.9-17.2-24zM289.8 38.5l-0.2 2-1.9 5-6.6 12-5 7-11.6 12.4-0.6-0.4zM159.6 40.5l0.9-0.1 18 28.2 9 13 8 10 8.1 7.9 3.9 3 5.6 3 7.4 1.8 7-0.7 5-2 4-2.4 0.8 0.3-2.8 2.5-5 3-8 2.2-4-0.1-4-0.9-5-2.3-4-2.7-5-4.4-5.8-6.3-7.7-10-9.2-14zM160.5 46.9l0.4 0.6-0.4 1-0.4-1zM161.5 48.6l0.4 0.9-0.4 0.9-0.4-0.9zM161.8 50.5l0.7-0.1 17 31.1 12 18 5 6 5.3 5 6 4 5.3 2 5.4 0.4 3.6-0.4 3.4-1 3.9-2 4.3-3 4.8-4.6 13-16.1 7.9-4.3 2.1-0.5 6-2.8 3-0.6 1 0.2 0 0.7-10 19.1-5.5 8.9-6.8 9-5.7 6-10 6.8-7 2.1-7 0.2-6-1.5-6-3-7-5.2-5.4-5.4-6.3-8-6.8-11-6.8-13-11.1-24 0.4-1.6 14 28.6 7 12.2 6 8.8 5 6 5.5 5 6.1 4 5.3 2 4.1 0.6 7.3-0.6 7.4-3 7.1-6 5.3-6 8.7-15 4.2-6 1.1-4-1.7 0-4.4 3.4-8.5 11.6-5.2 6-3.3 3.2-6 4.4-4 1.8-5 1.4-5 0-5-1.2-6-3-5-4-5.4-5.6-6.1-8-11.1-18-6.9-13zM161.5 55.3l0.4 1.2-0.4 0.7zM162.5 57.5l0.4 1-0.4 1.1-0.4-1.1zM163.5 59.7l0.5 1.8-0.5 0.4-0.4-1.4zM164.5 69.5l0.4 1-0.4 1.2-0.4-1.2zM264.3 69.5l-2.8 4.7-0.2-1.7 1.8-2 0.4-1.4zM277.1 69.5l-0.5 2-3.1 4.3-4 3.1-4 2-0.3-0.4 11.3-11.6zM165.5 71.9l0.5 1.6-0.5 0.7-0.4-1.7zM166 74.5l0.7 0 0.4 2 8.2 18 7.1 14 10.1 16.1 6 7.2 7.2 6.7 6.7 4 7.1 2 8-0.9 2.8-1.1 7.8-5 6.4-6 10.1-13 10.2-18 5.4-12 0.9-1 0.4-1.5 0.6 0.5-0.1 1-7.7 17-6.3 12-7.1 11-8.1 10-4.3 4.2-8 5.6-7 2-6-0.4-7-2.7-7-5.3-7.8-8.4-5.9-8-5-8-6.8-13-11.7-27zM260.5 74.3l0.6 0.2-0.6 1.3zM165.5 79.6l0.4 1.9-0.4 0.4zM331.5 81l3.4 7.5 1.9 2 4.4 9 8 18 2 6-0.8 0-3.1-5-12-26-1.1-4-3.2-6zM166.5 82.2l0.4 1.3-0.4 1.2-0.4-1.2zM273.5 83.3l-0.4-0.8 0.4-0.7 0.6 0.7zM272.5 83.7l0.6 0.8-0.6 1.3zM167.5 84.9l0.5 1.6-0.5 0.9-0.4-1.9zM166.5 90.1l0.4 1.4-0.4 1.1zM167.5 93l0.4 1.5-0.4 1.1-0.4-2.1zM168.5 95.8l0.4 1.7-0.4 1-0.4-2zM168.5 104.2l0.4 1.3-0.4 1.4-0.4-1.4zM169.5 107.1l0.4 2.4-0.4 0.4-0.4-1.4zM170.5 110.1l0.5 2.4-0.5 0.5-0.4-1.5zM352.5 114.1l0 1.2-0.9-0.8zM352.7 115.5l0.8-0.3 2.5 3.3-1.1 1 10.2 18 2.3 6-0.1 1-0.8 0.6-3.6-4.6-7.7-14-1.9-5-0.8-4zM169.5 115.8l0.4 1.7-0.4 1.1-0.4-2.1zM170.5 118.9l0.4 1.6-0.4 1.3-0.4-2.3zM171.5 122l0.5 2.5-0.5 0.5-0.4-2.5zM170.5 127.8l0.4 1.7-0.4 1.3-0.4-2.3zM171.5 131.1l0.5 2.4-0.5 0.7-0.4-1.7zM171.5 140.3l0.4 2.2-0.4 1.2-0.4-2.2zM172.5 144l0.5 2.5-0.5 0.8-0.4-1.8zM173.5 147.4l0.5 3.1-0.5 0.4-0.4-2.4zM171.5 149.9l0.4 2.6-0.4 0.7zM172.5 153.7l0.4 2.8-0.4 0.6-0.4-2.6zM376.5 153.8l6.4 7.7 0.2 2-0.6 0.9-2-1.2-3.4-4.7-0.9-3zM383.5 154.6l2.5 3.9 2.2 5 0.9 5-0.6 0.4-4.6-8.4-0.9-5zM173.5 157.4l0.4 3.1-0.4 0.5-0.4-2.5zM172.5 163.5l0.4 2-0.4 1.6zM173.5 167.6l0.4 2.9-0.4 0.8-0.4-2.8zM394.5 170.5l1-0.6 1.1 0.6zM174.5 171.6l0.5 2.9-0.5 0.9-0.4-2.9zM386.5 171.9l1.3 1.6 0.1 1-1.4-1.2zM391.5 173.7l3.5 6.8-0.5 0.7-1.5-1.7-2-4zM173.5 178l0.4 2.5-0.4 1.4-0.4-2.4zM174.5 182.2l0.4 3.3-0.4 0.7-0.4-2.7zM175.5 186.4l0.5 4.1-0.5 0.2-0.4-3.2zM173.5 188.6l0.4 2.9-0.4 1.2zM174.5 193.2l0.4 2.3-0.4 1.9-0.4-2.9zM175.5 197.8l0.4 3.7-0.4 0.5-0.4-2.5zM176.5 202.1l0.5 4.4-0.5 0.2-0.4-3.2zM174.5 204.3l0.4 3.2-0.4 1.3zM175.5 209.2l0.4 3.3-0.4 1.3-0.4-3.3zM176.5 214l0.4 3.5-0.4 1.2-0.4-3.2zM174.5 216l0.4 2.5-0.4 2.1-0.4-3.1zM175.5 221l0.4 3.5-0.4 1.3-0.4-3.3zM176.5 226.1l0.4 4.4-0.4 0.5-0.4-3.5zM170.5 227.6l0 4-0.6-0.1zM174.5 227.7l0.4 2.8-0.4 2.1zM177.5 231.1l0.5 4.4-0.5 0.6-0.4-3.6zM175.5 233.1l0.4 3.4-0.4 1.5-0.4-1.5zM176.5 238.6l0.4 2.9-0.4 2.2-0.4-3.2zM177.5 244l0.5 4.5-0.5 0.6-0.4-4.6zM175.5 245.5l0.4 3-0.4 2.3-0.4-3.3zM178.5 249.2l0.4 5.3-0.4 0.1-0.5-3.1zM176.5 251.2l0.4 3.3-0.4 2.2-0.4-3.2zM177.5 257l0.4 3.5-0.4 1.9-0.4-1.9zM175.5 258.2l0.4 3.3-0.4 2.3-0.4-2.3zM178.5 262.8l0.5 4.7-0.5 0.7-0.4-4.7zM172.5 264.2l0.1 5.3-1.1 0.9-0.1-0.9 1-1zM176.5 264.3l0.4 2.2-0.4 3.5-0.4-3.5zM179.5 268.3l0.6 5.2 0.8 2 0.1 4-0.5 0.1-0.6-5.1-0.7-1-0.2-4zM177.5 270.4l0.4 5.1-0.4 0.6-0.4-3.6zM171.5 270.5l0 4.1-1 0.2 0.7-1.3zM173.5 271.1l0 5.6-0.6-0.2zM175.5 271.3l0.4 2.2-0.4 3.5-0.4-3.5zM178.5 276.5l0.4 2-0.4 3.3-0.4-3.3z"/>
<path fill="#889ca8" d="M446.7 17.5l-0.9 1 0.2 1-15.7 28-9.2 18-8.4 15-3.8 6-1.2 1 0 1-3.5 4-3.2 5-5.5 5.1-1.9-0.1 0.9 0.1 0.2 0.9-1.2 1-3 0.3-3 1.3-2-1.2-2 0.5-1-1.3-1.6 0.4 1.9 1-1.3 1 4 0.7 1-0.6 3 0.2 0.1 0.7-2.1 1.5-7 2.2-2-1.3-4 1.1-2.7-2.5-1.1-2-0.1-2-0.6-1 0.7-1-0.6-4 0.4-0.7 1 0.4 3.1 4.3-0.2 2 3.2 2 0.9 2.7 0.7-2.7-1.1-2 0.4-2-1.5-1-0.4-2 0.9-0.8 4.2 2.8 1.8 0.5 1 0.8 2 0.1 1 1 4.2-0.4-7.2-2-7-3.6-1.3-1.4-3.4-11-0.3-2.5-0.8-0.5-0.2-3.8-0.9-0.2 0.1-3-1-2-0.2-3.4-0.9 0.4 0.1 2 2.8 11-0.1 3 0.4 1-0.7 1 1.8 3-0.4 1-4-2.7-2-3.3-0.7-4-1.3-2-0.1-1 0.5-1-1.1-1-2.3-7.2-1-0.8-0.1 1 0.4 1-0.4 2 0.4 5 1.3 1 0 2-1 1 4.6 7-1.2 0.8-0.2 1.2 1.6 4 0.6 3 3.5 8-0.5 3.2-1 0.7-1-0.4-3-5.6-1.4-0.9 0.4-1.3-2 1.8-1-0.7-1 0.7-1-0.7-1 0.5-1-1-3.1-5.3-3-7 0-1-1-1 0.2-1-3.1-5-1.5 1-0.5 1 0.4 1-1.4 0.7-2.2-2.7-1.8-3.1-0.4-4.9 2.3-6-0.2-1 1.2-1 0.5-8 1.2-1-0.1-3 3-10 1.2-7 1.3-3.5 5 15.6 1.8 3.9 0.2 1.9 1.2-2.9-1.3-8 0.2-2-1.7-4-0.3-4-1.4-2 0.6-1-2.5-4 0.7-6 1.5-2.2 3 2.8 1 3.1 1.1 9.3-1.2 0 0.1 1 3.3 4-0.3 0.5-1-0.8-0.3 0.3 1.9 3-0.2 2 0.8 1-0.2 0.5-1-0.4-0.4 0.9 3.5 7 0 2 2.1 4 0.3 3 2.5 6.8 0.2-3.8-0.7-1-1.9-11-2.4-9-0.8-1 0-3-1-2-3.4-14.4-0.7-0.6 0.7-4.7 2 0.7 4-0.1 5 0.7 4.2-0.6-6.2-1.4-4.9-0.6 0.9-0.4 7 0.2 1 0.8 5 0.1 9.9-0.7 2.1-0.7 4-0.3 3 0.5 8-0.3 5 0.5 1 0.5 8-0.2 7-1.2 12 0.2 1 1 5-0.5 3-0.9zM379.2 103.5l1.3 0.5 0.1-0.5zM342.5 67.9l-0.3 2.6 2.3 2.2 0.4-0.2-0.2-1-1.6-2 0.2-1zM348.5 56.4l-1.1 1.1-0.2 1 2.4 4-0.1 0.7-1-0.1-3-3.1 0 1.5 6.4 10-0.4 1.3 1-0.4 0.3 1.1 1.1 1-0.4 0.5-3.2-1.5-0.1 1 2.3 3-1.1 1 2 1 1.1 2-0.2 1 1.4 2-0.2 2.1 1-0.1 0 1.8 4 5 0.1-2.8-0.9-2 0.8-2-1.6-2-0.7-2-1.9-2 1.2-1.4 1 0.9 0.5-0.5-3.2-6-0.9-3-0.9-1 0.7-1-0.8-1-0.4-2.2-1-0.8 0-1.6-1.1-0.4 0.1-2-1.3-1-0.1-1-1.9 0 0.8-1zM344.5 76.6l-1 0.5 0 0.7 2 2.5 0.6-1.8zM345.5 80.9l-1.1 0.6 0.1 1.3 1.3-1.3zM454.5 18.2l0 19.8-1.3 0.5-0.7 3-5.5 12-1.4 5-7 17-7.1 15.2-2 1.4-7 1.9-2.7-0.5 6.2-10 3.5-3.5 2-3.2 0-0.8-1.3 0.5-1.7 2.4-1-0.9-1 0 0 1 0.9 0.5-1.7 1 0.2 1-3.4 4.1-1-0.2-3 3-3 0.9-1 1.2-1-0.6-1.4 0.6 0.4 0.7 1-0.1 0 0.7-3.8-0.3-0.2 1.6-1 0.4-1.5-1 0.5-0.7 1.6-0.3 0.1-1-0.7-1 1.5-1 10-16 1.5-3.2 1 0.2-0.1-2 1.7-2 1.4-3.2 1-0.7 0-1.5 2-2.6 15.9-28 1.3 0-0.2-1.9 2.3-2.1 1.2-3 1.4-1 1.1-2 1.1-1zM429.7 72.5l0.8 1.2 0.8-0.2-0.8-1.3zM433.5 72.5l-1.6 2 1.6 1zM289 21.5l-14.1 26-8.8 15-0.1 1-2.9 4-8.2 14-2.4 2.5-1 0.1-8-1.4-8-2.5-7-3.4-6-4-9.4-7.3-13.7-15-12.6-11-13.3-9.2-14.8-7.8 1.8-0.3 16 5.6 14 4.2 0.7-0.5-8.7-4.3-8-3-10.2-2.7 1.2-0.6 22 0.4 17-0.5 13 0.8 21-0.9 50-0.2zM296.5 21.1l0.5 0.4-1.5 3.7-7 7-0.5-0.7 5.1-9 1.4-1zM310.5 20.8l0.9 0.7 0.1 2.8-1-0.7-0.9-2.1zM325.5 20.7l1 0.9 0.4 1.9-1.4 2.7-2 1.2-0.7-3.9 1.7-2.6zM301.5 23.5l2 3 0.2 2-7.8 11-3.4 2.9 0-1.9 1.6-4zM345.5 24.9l1.4 1.6 0.2 4-0.6 1.3-1-0.4-1.1-2.9zM158.5 26.7l11 8.7 10.5 9.1 9.3 9 15.1 16 12.1 10 8 5 7 3 8 1.5 9-0.5 0.5 1-2.5 1.3-5 1-8 0-8-2-4-1.7-7-4.3-6-4.6-8-7.5-20.4-23.2-9.8-10-12-11zM312.5 26.8l2 1.5 1.3 2.2 0.2 4-0.5 0.1-2.1-4.1zM335.5 27.9l1.4 1.6 1.6 5.6 2 1.6 2.2-0.2 0.8 2-0.7 11-1.3 3.2-1.4-1.2-0.8-2 0-3-1.1-5-1.1-2-2.9-2-0.7-2 0.4-5 0.6-1.7zM159.9 34.5l0.8 0 10.2 12 21.6 28 7 7.5 7 6.5 8.9 6 7.5 3 6.6 0.8 6.8-0.8 5.2-1.7 0.4 0.7-2.4 1.4-6 2.3-4 0.7-5 0-5-1.1-4-1.6-8-5-8-7.1-8.6-9.6zM307.5 34.5l2.2 3 0.8 3.6-5 4.7-3 0.4-1.9-0.7zM288.5 40.9l0.1 1.6-1.1 3-5.5 10-4.9 7-9.6 11-0.4-1zM319.5 40.8l1.9 2.7 0.5 3-0.4 1.3-2.2-4.3-0.4-2zM161.5 42.1l0.9 1.4-1 0-0.3-1zM162.5 43.5l24 37 7 9 11 11 7.9 5 7.1 2 3.7 0 4.3-0.8 8-3.6 0.5 0.4-6.5 4.3-6 1.9-4 0.3-5-0.8-3-1-8-5.1-9.6-9.6-9.1-12-7.9-12-14.8-25zM329.5 43.5l2 2.2 1.6 8.8 4.8 7 0.6 8-1 3.2-2-1.2-3.3-12-3.3-4-1-9 0.6-2.5zM454.5 44.4l0 34.9-1.1 0.2 1.1 0.1 0 5.5-2 0.4 2 0.2 0 2-6 0.4-3.1-1.6 2.1-1-3-1.1-1.8 0.1-0.4 1-2.8-0.3-2-1.4 0-1.5 1.2 0.2-0.2-3 1 0.4 0.8-0.4-0.7-1 0.9-3 1.2 0-0.4-1 0.2-1.8 1.9-3.2 10.1-25zM444.3 82.5l5.2 2.3 1.8-0.3-3.8-2.2-2-0.4zM313.5 46.4l0.1 1.1 0.9 0.4 2.4 3.6 4.1 10 3.9 7 2.1 7 5 11 1.3 6-1.8 4.4-15.5 55.6-11.2 34-7.3 18.9-8 17.6-10 17.3-7 9.1-8 7.2-5 2.8-4 1.5-11 0.5-6-0.8-3-1.7-4-4.3-6-3.7-4-5.4-4-4-10.4-16-8.2-16-10-23-9.6-27-3.4-12-0.8-1 0-2 0.6 0 7.6 23 9.2 23 6 13.3 7 13.5 10 15.5 3 2.9 4 5.1 5 3.2 6 4.8 14 0.4 5-0.7 2-0.9 5-3.9 5-4.9 8.6-10.3 6.5-10 7.9-14.8 4-10.3 4-7.5 4.5-14.4 5.5-12.8 2-8.2 0.3-4-0.3-0.4-2 3.1-3 7.3-3.5 11-5.5 10.2-3.4 8.8-9 16-7.5 11-7.1 8-10 8.6-7 3.8-5 0.9-6-1.6-5-0.6-3-1.2-3.3-2.9-4.9-3-3.8-4.5-3-2.6-5.5-6.9-11.1-18-7.9-16-9.9-24-4.9-14-0.3-2-0.7-1-0.2-2-0.8-1-0.1-2 0.4-0.4 0.5 2.4 6.3 17 11.2 26 8 15.2 8 12.5 5 6.3 6 6.1 4 2.1 3.3 2.8 2.7 1.1 12 1.8 6.7-2.9 12.5-9 6.9-7 6.9-9.7 4.7-9.3 3.3-5.1 4.2-10.9 3.9-7 4.8-17 2.1-3.4 3.1-7.6 1.1-6-0.2-1.8-2 1.6-3 7.8-1.6 6.4-6.4 10.2-3 7.8-6 9.1-3.7 7.9-3.3 4-4 6.6-6.8 8.4-5.2 4.6-4 2.2-11 4.1-4 0.8-6-1.7-4-0.6-8-4.6-6-5.3-9.6-11.5-8.9-14-8.1-16-8.8-21-5.1-15 0.5-0.7 2.6 7.7 9.3 22 9.1 18 9 14 8 9.4 5.4 4.6 6.6 3.9 9 1.6 4-0.4 11-4.9 4-2.5 3.6-3.7 7.8-10 7.6-12 7-13.2 3.7-9.8 4.4-9 4-13 5.1-12 5.3-20 2.5-6 2-7 3-5 2-13 1.2-4 2.7-6zM314.5 122.6l0 2.7 1-0.8zM316.5 117.3l-0.5 2.2-0.5 0.1 0 2.6 1.2-1.7zM314.5 127.1l-1 0.7 0 2zM139.5 47l1 0 0.3 7.5 1.4 181 0.7 3-0.9 1 0.1 14 4.1 3 4.3 10.8 0.8-0.8 0.1-14 1.1-0.6 4.9 13.6 5.5 10 5.6 5.1 1-0.1 4 2.4 1-0.4 1 0.7 1-0.5 1 1.1 2-0.6 1 1 0.9-0.7 0.1-3.5 0.2 3.5 0.8 1.2 1 0.3 0.8-0.5 0.2-3.4 0.3 3.4 1.7 0.8 2-0.8 1 1.4 1.9-0.4-0.3-4-0.6-0.1-7.4-30.9-1.2-8-0.7-1-0.2-3-0.8-2-0.2-3 0.5-0.5 0.6 4.5 0.8 1 0.2 3 0.6 1 1.5 8 0.6 1 4.6 21 1.6 5 1 7 1.5 1.7 2 0.3 1-3.1 1.3 3.1 2.7 0.5 1.2-0.5-0.6-3-2-4-12.1-42-5.9-23-0.3-3-0.7-1-0.2-3-0.7-1-0.2-3 0.5-0.4 7.8 30.4 14.7 50 1.5 3 1 0.7 3 0.5 1-0.2 0.3-1-6.9-17-10.9-33-8.9-31-2.2-10-0.7-1-0.3-3-0.7-1-0.2-3 0.5-0.3 3.7 14.3 11.2 37 11.1 32.4 2.7 5.6 1.9 6 3.4 5.3 4 0.4 3.2-0.7-0.8-3-3.6-4-2.8-6.4-3.2-5.6-11.5-28-8-23-7.7-25-4.1-16-0.7-1-0.3-3 0.5-0.4 0.6 3.4 0.8 1 2.3 9 7.3 23 12 33.5 7.8 18.5 2.9 5 2 5 2.7 4 3.6 7.8 3.7 3.2 1.4 2 4.9 0.4 7-1.1 6.9-2.3-0.1-1-0.8-0.5-2-0.2-4-2.1-3-0.1-4-2.2-5-7-4.7-4.9-3.3-6.1-3.5-4.9-9.1-18-10.9-26-9.8-28-5-16-1.2-6-0.8-1-0.2-2 0.5-0.6 2.7 9.6 7.1 21 13.2 33.9 7 15 5 9.5 2.7 3.6 3.3 6.1 3.7 3.9 5.3 7.7 5 2.9 7 6.6 7 0.5 5.5-1.7 4.5-2.1 6-4.5 6-6.4 5.3-7 9-15 5.3-11 4.6-8 5-11 11-27 10.1-30 15.9-57 0.1-3 0.7-0.5 1.4 1.5 0.4 2 3.9 9 5.9 12 8.1 14 15.1 21 11.6 14 13 17 7.6 11 10.5 19 7.9 12 7.6 9.4 5.8 5.6 8.2 6.1 1.2-0.1-1.8-2-1-2-1.4-1 1-0.6 2 0.7-0.6-1.1 0.6-0.6 1 0.2 1.1-0.6-3.1 0.1-1-1.4-2-0.2-0.4-0.5 1-1-2.6 0.2 0.2-1.2-1.2 0-1-1.1-1-0.1-6.4-5.8 0.7-1-1.3 0.2 0.2-1.2-1.2 0.1 0.1-1.1-5.8-6-5.5-8 0.2-0.9 2 0.9 4 4 4 2.4 1-0.8 5 0.7 0.6-0.3-0.6-0.5-2 0-0.4-0.5 3.4-1-4-0.8 0-0.4 2.5-0.8-2.5-0.4-1.4 0.4 0.7-1-6-3-7.3-5.7-3.9-4.3-0.1-1-1 0.3-4-5 0-0.8 1 0.5 3 3.3 0-3.4 4 1.8 6-0.7-7-2 8-0.7 4.7-1.3-1.7-0.3-3 0.6-4 0-6-1.3-3-1.2-3.7-5.8-0.3-2.1-0.9 1.1 0.5 1-0.6 0.8-2-1-2.2-4.8 0.2-0.9 2.5 0.9 1.5 2.6 0.3-2.6-1.6-6 0.3-0.5 3 0 1-1 2.7-0.5-1.7-0.4-2 0.8-4 0.2-3-6.7-0.9 0.1-0.1 1.5-2 0.4-1-0.6-1.4-2.3-0.7-3 3.1-0.9 1 1.7 0.5-2.8-0.9-1 0.4-3.6 2-0.4 1-1.1 1.1 0.1 0.4-1 5.4-5 5.2-6 8.9-13 8.9-17-0.9-0.2-1.3 3.2-9.1 15-5.1 7-7.5 8.4-5 4.2-1 0-2 2-1 0-1 1.2-2-1.8 0.4-1-1.2-1-0.2-1.8-0.8-0.2 0.8-2.2 4-0.7 4-2.1 5.3-4 5.7-5.6 10.3-13.4 5.9-10-0.2-1.9-3 3.9 0.1 1-1.3 1 0.3 1-2.4 2 0.4 1-2.2 2 0.2 1-1.3 0 0.3 1-2.1 2 0.2 1-1.2-0.4-0.3 0.4 0.5 1-1.5 0 0.6 1-4.8 5-6.5 5.5-9 4.1-3 0.2-2-0.8-4 0.4-1.2-0.4 1.2-0.6 4 0.6 2-0.9 2.8-0.1 0.2-0.7 3-0.2 3-2 1 0 0-1.1-7 2.8-4 0.6-1.5-2.4-0.5-2.2-0.8 1.2-0.2 2.1-3-0.1-2-2.6-1-0.4 0.5-2 1.5-1 3 0.2 1 2 0.6-3.2-0.7-2 0.1-1.6 2-0.5 2.9-1.9-0.9-0.3-1 1-1-0.2-1 1.2-1-0.1-1.2-1.6 0.2-1 2 1.5 0.4-0.5-1.4-1.3-1 0.3-2-3.2-1 1.1-3 1.5-1 0-2.6-1.4 0.2-1 1.4-1.3 4-0.6 1 0.3 1-1.3 7-3.9 8-6.8 2-0.1 5-1.7 8-4 14-3.9 4-0.6 1 1.2 1-1.7 2-0.1 13-5 8 0 0 226.5-315 0zM442.5 266.8l-0.1 0.7 2.1 1.7 0.1-0.7zM394.5 161.3l-0.7 0.2 0.7 2.9zM387.9 117.5l-1.4-0.1-1.4 1.1 0.4 0.5 1-0.3zM429.5 95.9l-5 8.6 0.1 1 1.1 0 1.2-3 3-5zM385.2 120.5l2.3 1.4 0.3-0.4-1.3-1.3zM426.5 108.2l0 2.1 0.8-1.8zM427.5 106.3l0 1.8 0.5-1.6zM298 47.5l-0.8 2-8.7 12.9-4 3.4-1-0.2 0.8-3.1 1.6-3 5.6-8.3 4-3.7zM162.5 52.2l-0.4-0.7 0.4-1 0.4 1zM163.5 52.3l0.5 1.2-0.5 0.7-0.4-1.7zM306.5 51.5l1.6 2 0.4 4-7.5 17-0.1 1 1 2-3.9 14-4.6 9-5.6 17-4.7 9-4 11-4.6 7.7-3 6.7-4 5.3-2.5 4.3-12.5 13.8-6 5.5-3 1.7-12 3.2-4-1.1-4-0.3-7-3.3-5-3.7-7.7-7.8-4.8-6-6-9-6-11-7-15-6.9-17-1.1-4 0.5-0.7 6.7 16.7 11.3 22.9 7 11.2 8 9.8 8.6 7.1 6.4 3 9 0.9 11-4.2 3.6-2.7 9.1-10 5.3-6.8 6.7-11.2 8-17 3-9 3.3-7.1 4.5-14.9 4.5-11.4 0.4-3.6 4-2-1.6-4 0.6-3 10.6-17.1 2-2.2zM164 54.5l0.7 0 14.7 27 11.1 16.9 5 6.2 6 5.9 7.9 5 2.8 1 6.3 0.7 4.6-0.7 6.6-3 4.8-3.5 5-5 11.3-14.5 1.7-1.2 1.6 0.2-13.8 18-4.8 4.8-5 3.8-4 2.1-6 1.8-5 0.1-5-1.3-7-3.6-4-3.3-4.3-4.4-6.4-8-11.8-19-8-15zM164.5 62l0.4 1.5-0.4 0.5-0.4-1.5zM165.5 64.1l0.4 1.4-0.4 0.8-0.4-1.8zM166 66.5l0.6 0 6.6 14 10.2 19 5.1 8 6 8 5.9 6 5.4 4 3.8 2 6.5 2 7.4 0 6.5-2 2.5-1.2 8-6.2 5-5.7 12.3-18.9 3.6-8 0-1-1.3-1 1.4-0.1 0.7-0.9 6.3-2.6 2-0.1 0.8 0.7-9.8 18.3-5.4 8.7-6 8-5.6 6.3-4 3.2-8 5-7 2-7-0.1-6-1.6-8-4.4-6-5.1-6.6-7.3-5-7-7-12-11.7-24zM276.5 69.8l-0.7 2.7-2.3 3-3 2.6-4 1.8zM289 72.5l-0.3 2-1.4 2-4.6 4 3.6 1-1.8 2.7-2 6.3-5 10.1-3.3 8.9-3.7 6.5-4.8 10.5-11.8 20-5.4 6-10 8.6-3 1.7-8 2.3-8-0.6-6-2.3-7-4.9-7.6-7.8-7.1-10-7-12-7.7-16-5.8-14-0.3-2-0.8-1 0.3-1.9 4.8 11.9 10.2 20.9 6 10.1 8 11.1 6.9 6.9 6 4 5.3 2 7.8 0.2 7-2.7 3-1.7 9-9 4-4.8 7-11.1 7-13.3 6.3-13.6 8.6-22 4.8-1-3.9-1 0.4-1 6.8-6.5 2-0.5zM165.5 72.1l0.4 1.4-0.4 0.5zM266.3 74.5l0.2-1.2 0.9 0.2zM166.5 74.4l0.4 1.1-0.4 1.1-0.4-1.1zM167.5 76.8l0.5 1.7-0.5 0.5-0.4-1.5zM168.5 79.1l0.5 1.4-0.5 1-0.4-2zM168.6 81.5l1 0 5.6 13 9.3 18 10 14.9 6 6.7 6.1 5.4 7 4 5.9 1.4 5.9-0.4 3.6-1 7-4 6.5-5.7 7-8.1 5.2-7.2 12.4-22 0.4-1.7 0.7-0.3 0.3-2 0.6 1-5.9 13-7.2 13-6.9 10-6.6 7.9-5 4.7-8 5.1-7 1.7-5-0.5-6-2.1-5-3.2-6.1-5.6-7.6-9-4.8-7-6.9-12-8-17zM332.5 82.9l1.3 2.6-0.3 1.6-1.5-3.6zM271.5 86.2l0.4 0.3-0.4 1.4zM334.5 87.2l0 1.6-0.5-1.3zM168.5 87.5l0.4 2-0.4 0.4-0.4-1.4zM270.5 88.3l0.5 1.2-0.5 0.7zM335.5 89.5l1.2 1 13.2 30 0.2 1-0.6 0.3-4-7.4-10.1-21.9-0.3-2zM169.5 90.1l0.4 1.4-0.4 1.1-0.4-2.1zM269.5 90.4l0.6 1.1-0.6 0.9-0.4-0.9zM342.5 90.4l3 3.5 6 11.5 4.7 7.1-0.7 0.3-3-1.7-4.5-5.6-6.6-13 0.1-1.3zM367 91.5l0.5-0.5 7.3 6.5-1.3 1.5-2-1.8-1 0-1.4-1.7-0.4-2zM406.6 94.5l-0.6 1 0.7 1-1.3 1 0.4 1-2.7 2-3.6 1.7-0.4-0.7 3.2-4 3.2-3.2zM375.5 98.1l0.4 0.4-1.4 1.3 0-0.8zM169.5 98.7l0.4 1.8-0.4 0.6zM170.5 101.4l0.4 2.1-0.4 0.5-0.4-1.5zM171.5 104.1l0.5 2.4-0.5 0.3-0.4-2.3zM358.5 108.6l4 5.2 5 3.8 2-1.9 1 0.2 2.8 2.6 0.2 1-1 2.5-1 0.1-3-2.3-5-0.2-2-1.1-4.6-5-0.2-2zM170.5 110.2l0.4 1.3-0.4 1.3-0.4-1.3zM171.5 113.1l0.4 1.4-0.4 1.3-0.4-1.3zM172.5 116l0.4 2.5-0.4 0.2-0.4-2.2zM171.5 122.2l0.4 1.3-0.4 1.3-0.4-1.3zM355.5 122.6l2 2.6 6.5 11.3 2.9 7-0.4 0.8-1-0.5-2.5-3.3-5.9-11-1.8-4-0.3-2zM361.8 123.5l0.7-0.3 3 1.7 5 3.9 2 0.2 1-1 2 1.2 1.7 2.3 0.1 2-0.8 1.6-4-4.3-4-1.3-3-1.8zM172.5 125.2l0.4 2.3-0.4 0.5-0.4-1.5zM173.5 128.2l0.5 2.3-0.5 0.6-0.4-1.6zM365.1 129.5l0.4-0.5 2.9 2.5-0.9 0.6zM172.5 134.5l0.4 2-0.4 1zM368.5 135.8l6.5 8.7 0.9 2-1.1 1 2.5 2-1.8 1.5-3.6-3.5-0.4-2-2.4-4-1-3zM375.1 136.5l1.4-0.9 2.4 1.9-1.4 0.6zM173.5 137.9l0.4 1.6-0.4 1.3-0.4-2.3zM174.5 141.1l0.5 2.4-0.5 0.6-0.4-1.6zM378.5 141.6l3.3 4.9 0.6 2-0.4 1 1.3 1-0.8 2.7-2.9-2.7 0.9-1-1.7-2-0.8-2zM384.5 144.5l1 0.6 2-0.2 1 0.7 0.6 1.9-0.4 1 1.7 1-1.9 1.5-2 0.2-1.2-0.7 1.2-0.8 2-0.2-3-0.4-0.8-0.6-0.7-3zM173.5 147.6l0.4 1.9-0.4 1.3zM174.5 151.1l0.4 2.4-0.4 0.8-0.4-1.8zM175.5 154.5l0.4 3-0.4 0.3-0.4-2.3zM377.5 155.7l4.7 5.8-0.4 2-1.3-0.6-2.7-3.4-0.7-3zM384.5 157l3.5 6.5 0.5 4.4-3.5-5.4-1.1-4zM174.5 161.3l0.4 2.2-0.4 1.2-0.4-2.2zM175.5 165l0.4 2.5-0.4 0.9-0.4-1.9zM176.5 168.6l0.5 2.9-0.5 0.6-0.4-2.6zM391.5 174.4l0.2 1.1 0.8 0.3 1.5 2.7 0.1 1-0.6 0.3-1.5-2.3zM175.5 175.7l0.4 2.8-0.4 0.7-0.4-2.7zM176.5 179.6l0.4 2.9-0.4 0.7-0.4-2.7zM177.5 183.4l0.5 3.1-0.5 0.7-0.4-2.7zM176.5 190.9l0.4 2.6-0.4 1.2-0.4-2.2zM177.5 195l0.4 2.5-0.4 1.4-0.4-2.4zM178.5 199.1l0.5 3.4-0.5 0.6-0.4-2.6zM177.5 206.9l0.4 2.6-0.4 1.4-0.4-2.4zM412.3 210.5l1.1 1-0.9 0.2zM178.5 211.2l0.4 3.3-0.4 1-0.4-3zM179.5 215.6l0.5 3.9 0.8 1 0.2 3 0.7 1 4.6 20 7 27 1.7 5 1 5-0.5 1.7-1.5-3.7-9.9-39-1.2-7-1.8-6-0.2-3-0.7-1-0.2-3-0.7-1-0.3-3zM177.5 219l0.4 2.5-0.4 1.7-0.4-2.7zM178.5 223.8l0.4 2.7-0.4 1.6-0.4-2.6zM179.5 228.3l0.5 4.2-0.5 0.4-0.4-3.4zM177.5 231.3l0.4 3.2-0.4 1.4zM178.5 236.4l0.4 3.1-0.4 1.5-0.4-2.5zM179.5 241.4l0.4 3.1-0.4 1.6-0.4-2.6zM180.5 246.3l0.5 4.2-0.5 0.6-0.4-2.6zM178.5 249.5l0.4 3-0.4 1.8-0.4-2.8zM181.5 251.2l1.6 9.3 0.7 1 2.3 13 0.9 2 0.7 4-0.2 3.4-3.4-14.4-0.2-3-0.6-1-0.4-4-0.7-1-0.3-4-0.7-1-0.2-4zM179.5 254.9l0.4 3.6-0.4 1.3-0.4-3.3zM180.5 260.1l0.5 4.4-0.5 0.6-0.4-3.6zM178.5 263l0.4 3.5-0.4 1.5zM181.5 265.2l0.5 4.3-0.5 0.9-0.4-2.9zM179.5 268.6l0.4 2.9-0.4 2.3-0.4-3.3zM182.5 270.5l0.6 5 0.9 2-0.5 3.1-1.3-6.1-0.2-3zM180.5 274.1l0.4 3.4-0.4 1.8-0.4-2.8z"/>
<path fill="#8396a3" d="M445.5 19.3l-4.6 9.2-10.8 19-9.1 18-9 16-3.2 5-1.2 1-0.1 1-3 3.5-8-5.1-5-3.8-0.6 0.4 8.6 7.1 3 1.6 1-0.5 0.1 1.8-4.4 6-3.7 2.6-11-3 0 0.7 3.7 1.7-0.7 0.4-4.1-1.4-6.9-4-0.5-2 0.2-1-0.8-1-3.6-11 0.1-2-0.9-2-1.1-7-2.9-11 0-3-4-13 0.1-2-0.9-2-2.6-11-0.7-1-0.8-4 0.4-2.7 2 0.6 8 0 3.9 1.1-0.2 1 0.9 1 1.4 0.4 5 3.5 1-0.5 0.1-1.4-1.1 0.5 0-1.8-3-0.5-4-2.2 0.9-1 3.1-0.3 4 0.7 1-1.3 4 0.5 1.5-0.6-2.5-0.1-2.1-0.9 3.1-0.5 16-0.7 7 1 9-0.2 4.6 0.4-1.3-1 1.7 0 1 0.6 0.2-0.6 6.8-0.5 6 1 8-0.4zM423.7 19.5l7.8 0.7 2.1-0.7-8.1-0.4zM379.5 71l-0.3 0.5 3.3 3.5 0.4-0.5zM383.2 77.5l2.3 0.6 0.4-0.6-0.4-1-1-0.4zM454.5 19.4l0 18.2-1 0-3.6 9.9-3.6 6 0.2 1.8-1-0.8 0 3.5-5.8 14.5-0.9 1-0.3 1.8-1 2-0.8 0.2 0.3 1-1.5 3.9-3 6.1-2 2.6-5 2-4.2 0.4-0.3-1 6.2-7-0.2-1 2.1-1 0.6-2 0.8-0.2 2.4-3.8-0.7-1 0.3-0.5 1 0 1 0.7 1.3-0.2-1.1-3 2.2-2-0.3-2 1.7-1 1.7-4-0.5-0.5-2 2.4-1.6 0.1 0.9 1-1.3 2-3-2.4-0.9 0.4-0.1 1.9-1 0-1-1.4-1 1.1-2.1-1.6-1.3-2 1.4-2.7 1 0.4-0.4-2.7 2.4-1.6 0-1.8 1.1-0.6-0.2-2 1.1-0.1 1.1-2.9 1.2-1-0.2-1 1.3-1-0.2-1 1.1-1 0-1 1.1-1 0.2-1 1.4-0.4 0.3-0.6-0.6-1 0.3-0.4 1 0.9 1-0.5-1.2-1-0.1-1 1.5 0-0.2-2 1 0.4 0.5-1.4 1.1-1 1.3-3 1.2-1-0.3-1 1.7-1-0.1-1 2.2-3-0.1-1 1.2-2 2.8-1 0.3-2zM428.1 63.5l0.4 1.3 1 0-0.9-1.3zM430.3 65.5l0.2 1.8 1-0.1 0.1-0.7zM434.5 64.9l-0.1 0.6 1.1 0.9 0.4-0.9-0.4-0.6zM443.2 59.5l-0.7-0.4-1 1.4-0.2 1-1.1 1 0.3 1zM444.5 56.2l-1.1 1.3 0.1 1.4 1.5-2.4zM161 23.5l0.5-0.5 2 0.4 28 10.7 7 2.2 0.8-0.8-1.8-1.8-9-4.7-10-3.9-13.5-3.6 21.5 0.4 12-0.1 8-0.8 14 0.8 21-0.8 20 0.3 27-0.5 0.3 0.7-22.9 42-11.1 18-2.3 2.3-9-1.8-5-2.3-3-0.6-3-2.2-4-1.6-13.5-9.8-13.5-14.2-13-11.3-13-8.9zM190.7 26.5l6.8 3.4 2.6 2.6 1.9 5-0.5 4 4 6 2.8 3 13.2 9.1 5 1.6 1 0 2-1.3 0-1.9-3.8-3.5-7.2-11-2.9-3-6.6-5-8.3-9-2.2-0.8zM353.5 21.3l1.8 2.2 1.1 3-0.4 1 0.5 1 0 4.5-1 0.3-2-2.3-1.7-3.5 0.4-5zM159 22.5l2 0-0.5 0.4zM296.5 21.9l0 1-1 1.2-3 1.9 1.3-3.5 1.7-0.8zM324.5 22.8l0.9 0.7-0.9 1.5-0.7-0.5zM302.5 24.9l1 3.1-6 8.7-4 3.6 0.1-1.8 2.4-5 5.5-9.2zM160.9 29.5l0.6-0.4 17 14.4 9.3 9 15.8 17 8 7 6.8 5 5.1 3.1 6.6 2.9 8.4 1.8 10-0.6 0.5 0.8-3.5 1.5-5 0.8-8-0.4-8-2.4-9-4.9-8-6.2-6-5.6-21.1-23.8zM313.5 28.7l1.6 1.8 0.4 2.2-1-0.2-1-2.3zM335.5 29.7l1 0.9 0.6 1.9 0.3 3-0.9 1.7-1-0.1-1.2-1.6 0-4zM354.5 33.9l2.5 2.6-0.5 0.6-2.3-2.6zM307.5 35.1l1 0.8 1.4 2.6-0.3 2-5.1 3.8-1-0.3-0.3-0.5 1.4-1-0.6-1zM349.5 36.9l0.4 2.6 4.1 11 3.9 14 1.9 9-0.1 5 1.5 1-0.7 1.2-1.1-1.2-0.2-2-1.3-1-1.7-4 0.4-1-1.9-4-4.3-14-1.2-2-0.7-3.4-1.3 1.4-1.7 4.7-0.1-2.7 1-1 0-3 1-1 0.8-7zM163 38.5l0.5-0.5 7.3 8.5 20.7 27.1 9 9.7 8.3 7.2 8 5 5.1 2 5.3 1 9.3-0.9 4-1.6 1 0 0.3 0.5-8.3 3.6-8 0.6-7-1.4-5-2.4-6-3.9-8-7.2-8.4-9.3zM356.5 38l2.1 2.5-0.5 1 0.6 1-0.2 0.7-1 0-1-1.4-0.5-3.3zM340.5 39.7l1.5 1.8 0.4 2-0.6 5-0.8 1 0.4 1-0.9 0.2-1-7.2zM287.5 43l0 2-4.5 8.5-6.4 9-5.1 5.9-0.3-0.9 4.9-8zM163.5 45.1l0.7 1.4-0.7 0.2-0.5-1.2zM453.5 45.2l1 0 0 32.6-3-0.2-2-1.1-0.4 1 4.4 2.6 1 0 0 1.9-3-0.9-3-1.9-1-0.1-2 1.7-0.9-0.3-0.1-1.1-1 0.7-1.9-1.6-0.3-2 1.2-0.1 0.3-0.9-1-1 0.1-1 1.5-1 1.1-4.9 1.1-0.1-0.4-1 0.5-2 0.9-1 0-1 5.2-11-0.3-1 1 0-0.4-1zM444.5 77.5l1 1 1.1 0-1.1-1.1zM330.5 46.1l1.6 8.4-0.6 1.4-1 0-1-1.6-0.7-3.8 0.2-3 0.5-1zM139.5 47.2l1.1 0.3 0.8 118 0.5 2 0.2 69 0.5 2-0.8 1 0 13 0.7 1.8 3.6 2.2 4.4 11 1.1 0 0-15 0.9-0.4 4.7 13.4 5.5 10 5.8 5.3 1-0.1 4 2.4 3-0.2 1 1.1 2-0.4 1 0.7 1-0.7 1 1.3 1 0.2 0.9-0.6 0.1-2.1 0.1 2.1 1.9 1 2-0.7 1 1.2 1 0.1 2-0.7 2 1.3 1.3-0.2 0.7-2.2 1.1 2.2 0.9 0.6 3-0.1 1-2.2 1 2 3 1 2.5-0.3 0.5-3.1 2.1 3.1 4.9 1 3.7-1-0.1-2 0.4-0.9 2 1 2 2.2 5 0.3 8-1.3 9.1-3.3-1.7-1-1-2 10.6-4.9 7-5.3 9.3-10.8 7.8-12 13.2-25 9-20 9.1-24 9.9-30 11.9-43 2.3-11 0.5-0.3 1.2 1.3 4.4 11 6 12 8 14 15.1 21 11.7 14 12.9 17 7.7 11.2 10.3 18.8 1.7 2 5.2 9 4.5 6 5.5 6 6.8 6.1 7 4.9 2.1 1 2.9 0.4 0.8-0.4 0-1-1.8-0.7 0-0.6 8-0.7 0 17.8-1.4 0.2 1.4 0.3 0 1.4-1 0-6-3.3-7.4-6.4 0.4-1 1 0.8 0.1-0.8-3.1-3.2-0.8 0.2-0.2 1-0.4-1 0.7-1-1.1 0-0.2 0.6-0.3-0.6 0.6-1-0.3-0.3-1 0.8-0.4-0.5 0.8-1-2-2-0.2-1-1.2 0.1 0-1.5-1.2 0.4 0.5-1-1.2-1 0.1-1-1.2 0.3 0.3-1.3-1.3-1.5-1-0.1-0.4 1.6 1.8 2 2.2 4 9.2 11 7.2 6.3 5 2.7-1 1.3 3-0.6 0 1.7-3-0.1-0.2 0.7 3.2 0.5 0 1.8-1 0-6-2.6-7.9-6.7-8.7-10-6-9-1.4-2.9-0.3 0.9 7.3 12.1 8 9.9 7 6.1 7.3 3.9 1.7 0.2 0 40.8-315 0zM424.5 235.3l-0.4 1.2 0.4 0.3 0.5-1.3zM425.5 237.1l0 1.4 1 1.5 1.1-1.5zM446.1 260.5l1.4 0.7 0-0.8zM449.2 262.5l1.3 0.6 0.3-0.6zM450.9 263.5l1.6 0.5 0.2-0.5zM441.5 262.8l-0.1 0.7 1.1 0.8 0.1-0.8zM449.4 269.5l1.1 0.5 0.9-0.5-1.9-0.6zM413.5 222.3l-0.4 0.2 0.4 1.5zM414.5 224.3l-0.5 0.2 0.5 1.8zM414.7 226.5l5.8 11.6 0.3-1.6-1-1-1-3-3-5 0-1zM420.8 238.5l1.7 3.3 0.9-0.3-1.9-3.4zM446.5 266.9l-0.3 0.6 1.3 0.5 0-0.9zM447.8 268.5l0.7 0.4 0.8-0.4-0.8-0.5zM164.5 46.7l15 23.8 9 12.9 9 10.8 8 7.3 6.5 4 7.5 2.1 5-0.1 4-1 5-2.3 1.2 0.3-4.2 2.7-4 1.6-4 0.9-4 0.1-7-1.8-5-2.8-4-3.1-7.6-7.6-10-13-7.9-12-12.9-22zM358.5 47l2.1 3.5-0.5 1 2.6 5-0.4 1 4.2 10-0.4 1 2.6 9-0.7 2 1.7 1-0.2 2.9-1 1.4-2-1.9-1-1.9-0.3-1.5 0.5-1-1.3-1-3.1-10-3-16-0.3-4zM314.5 48.4l2.3 3.1 3.8 10 0.9 0.7 0.2 1.3 3.1 5 1.7 5 0.2 2 0.8 1 0 2.7-1-1.6-1 1.2-6.4 23.7-11.9 38-9 24-8.9 20-8.2 15-7.6 11.5-8.5 9.5-7.5 6.9-6.6 4.1-4.4 1.6-2 0.1-5-1.4-5-0.2-3-0.7-5-3.9-4-2.1-3.8-4.4-3.2-2.6-5.8-7.4-7.8-12-7-13-6.9-15-7.9-20-3.1-10 0.5-0.5 0.6 2.5 0.8 1 6.3 17 11.2 24 8.1 14.1 9 12.4 3 2.6 3 3.7 4 2.3 4 3.4 11 2.7 3 0.3 4.2-1.5 14.1-9 8.7-8.5 8-11.5 7.5-14 8.5-18.7 7-18.5 11-33.8 11-40 0.1-4-1.1-3.9-1-1.4-1 0-1 2.3-1.4 10-4.8 13-8.4 28-6.4 14.7-3.7 11.3-4.8 9-3.9 10-3.6 5.5-5 10.5-4 5.4-3.2 5.6-9.2 11-4.6 3.7-14 6.1-4 0.5-4-1.3-5-0.5-4-2.7-4-1.7-6-5.1-9.4-11-11.2-18-9.9-21-6.6-17-0.4-2 0.5-0.5 2.7 7.5 6.1 14 10.2 20 7 10.9 9 11 5.9 5.1 3.1 1.3 3 2.4 5 0.7 4 1.3 4.8-0.7 10.2-4.2 3.2-1.8 5.1-5 8-10 6.7-10.2 8-14.6 3-7.9 3.7-7.3 10.3-27.3 5.2-17.7 8.4-24zM295.5 48.9l0.4 0.6-0.8 2-5.1 8-4.5 4.5-0.8-0.5 1.5-4 4-6 3.3-3.7zM164.5 54.3l0.4 1.2-0.4 0.5zM305.5 55.1l0 3.4-1.5 5-4.9 12 0.6 3-8.2 22-4.6 14-4.4 9.3-4.4 11.7-7.1 14-7.1 11-7.4 8.9-10 9.9-3 1.8-10 3.3-2 0.3-5-1.1-3 0-7-3.2-5-3.5-5-4.6-6.6-7.8-8-12-5.8-11-6-13-4.2-11-0.7-1 0.3-1.9 6.8 15.9 8.1 16 9.1 14 6 7.1 8 6.9 7 3.6 8 1.3 10-2.9 6-4 9.4-10 5.6-7.2 6.1-9.8 7.9-16.5 3.4-9.5 3.2-7 10.3-29 0.5-3 2.9-2 0.5-1-1-3 0.8-4 3.6-7 3.8-6 3-2.7zM344.5 54.9l1.3 1.6-0.3 1.8-1-0.3zM165.5 56.2l0.5 1.3-0.5 0.5-0.4-1.5zM166 58.5l0.5-0.4 4.8 9.4 11 19 11.2 16 9 9 4.5 3 4.6 2 6.9 1 5-0.9 2.9-1.1 5.1-3 5-4.2 6.2-6.8 8.2-11 1.6-1.1 0.8 0.1-13.2 18-4.6 4.5-7 5.1-6 2.2-6 0.6-5-0.9-5-2.2-4-2.6-5-4.4-5.6-6.3-5-7-6.9-11-9.9-18zM334.5 59.3l1-0.1 2.1 3.3 0.3 7-0.4 1.3-1 0.3-1-1.3-1.3-4.3-0.5-5zM343.5 58.9l1.6 1.6 0.1 1 2.7 4 0 1 1 1-0.9 1 0.5 0.3 1-0.6 0 2 1.1 0.3-1.1 1-0.4 0 0.2-1-0.8-0.4-0.6 0.4 1 2-0.1 1 2.6 4-1.7 1 2.5 1 0.9 4 3.8 6 1.9 5 1 1-0.5 1 1.4 1-0.2 1 0.6 1-0.6 0.7-1-0.1-2 1.8-3.1-3.4-5.1-12 0.1-1-1-1 0.3-1-0.9-1 0.1-1-1-1 0.6-1.5-1.4-2.5 0.5-2-0.8-1 0.8-1-1.5-2-0.4-3 1-1-1.1 0-0.1 0.5 0.2-2.5-1-1-0.7-4zM166.5 66.5l0.4 1-0.4 0.9zM271.2 68.5l-0.9 1 0.2-1.2zM425.5 68l0.4 1.5 3.6 4.3-1 0.2-1-1.1-3-0.9 0 1.2 0.7 0.3-0.2 1 0.7 1-2.2-1-2.5 4 0.5 1.8 1 0 0.5 1.2-1.4 0-1.1-1.2-4 6.6-1-0.6 0 1.4-1 0-1 1.4-2 0-0.8-0.6 0.3-1 4.5-7.2 1.8-1.8-0.1-1 1.4 0-0.1-1.2 1.3-0.8-0.3-1.2 1-0.1 1 0.9 0.2-0.6-0.8-2 1.3-1-0.2-1 0.5-0.3 1 0.8 0.2-0.5-1.1-2 0.9-0.5 1 0.8zM167.5 68.7l0.4 0.8-0.4 1.2-0.4-1.2zM433.1 69.5l1.6 1-1.2 0.7zM168.5 70.8l0.5 1.7-0.5 0.4-0.4-1.4zM275.5 71.1l0.1 1.4-2.3 3-2.8 2.4-3.5 1.6zM340.5 71.7l1.2 1.8 0.1 4 1.1 3-0.4 2.2-1.4-1.2-1.7-3 0-3zM169 73.5l0.5-0.6 6.7 13.6 7.1 13 10.2 15 6.8 7 5.2 4 5.9 3 5.1 1.3 6 0.2 8-2.1 10.7-7.4 4.3-4.9 11.8-17.1 6.1-13-0.8-1 1.9-0.3 0.5-0.7 3.5-1.5 2.5 0.5-9.5 17.6-5.2 8.4-8.3 11-3.5 3.7-11 7.8-7 2.3-7 0.3-6-1.2-7-3.4-6-4.6-7.7-7.9-5.7-8-6-10zM286.5 73.5l0.2 2-2.1 3-3.1 1.5-2.5-0.5 0.1-1 4.4-4.1 2-1.2zM429.9 74.5l0.6-0.5 0.8 0.5-0.8 1zM168.5 79.2l0.4 1.3-0.4 0.8zM328.5 79.1l0.2 1.4 1 1 2.2 5 0.7 5-8.5 32-10.1 35-9 27-6.5 17-9 20-11 18.3-6 7.3-7 6.3-5 2.8-5 1.7-7 0-4 0.9-4-0.2-3-0.8-5.8-5.3-6.2-3.5-4-5.5-4-3.6-10.7-16.4-7.8-15-7.9-18-8-21-5.1-16 0.5-0.9 8.9 24.9 11.1 25.5 7 13.7 10 15.8 3 2.8 3.8 5.2 4.2 2.6 7 6.1 18 1.4 3-1.2 6.3-4.9 5.7-5.7 7.6-10.3 6.9-11 6.9-13 7.8-17 10.8-28.2 10.1-31.8 10.9-40.7 0.5-4.3-0.4-4zM358.5 80.4l3.6 4.1 1.8 4-0.7 2 1.5 3 4.5 13-0.7 3.3-1-0.7-3.9-7.6-1.1-4.3-1.3-1.7 1.4 0-1.4-6 0.3-1-2.3-4 0.4-1-1.8-2zM284.6 81.5l-11.3 27-7.1 15-12.1 21-5.9 7-9.7 8.6-3 1.7-8 2.6-8-0.3-6-2.3-8-5.6-5.6-5.7-6.1-8-7.8-13-7.9-16-5-12-0.1-1 0.5-0.4 1.6 4.4 5.1 11 9.3 17 10 14.2 6.7 6.8 5.6 4 5.7 2.3 7 0.6 8-2.5 2.6-1.4 10.4-10 3.2-4 6.8-10.6 7.1-13.4 6.2-13 8.5-21 0.7-3 3.5-0.8zM439.8 81.5l1.7-0.4 2 1.4-1 0.5zM169.5 81.6l0.4 1.9-0.4 0.3-0.4-1.3zM332.5 83.1l0 1.8-0.4-1.4zM453.2 83.5l1.3-0.1 0 0.9-1 0zM170.5 83.9l0.5 1.6-0.5 0.6-0.4-1.6zM448.7 85.5l1.8-0.3 1 0.6 3 0.2 0 1.3-4.7 0.2 1.4-1zM171 86.5l0.5-0.4 2.6 6.4 10.3 20 10.1 15.1 6 6.8 7.2 6.1 5.8 3.2 6 1.6 7-0.7 3-1 7-4.1 4-3.6 7-7.4 5.3-7 8-13 4.7-9.5 0.6 0.5-0.2 1-4.9 10-7.2 12-5.7 8-6.6 7.7-7 5.8-5 2.8-6 1.6-6-0.2-6-2.1-6-4-6.8-6.6-5.8-7-6.1-9-5.6-10-8-17zM368.5 86.9l0.4 0.6-0.4 1-0.4-1zM454.5 89.1l0 119.8-2 0.6-2.8 2 0.8 0.4 3-2.3 1 0 0 2.6-1.7 0.3 1.7 0.2 0 22.6-2.5 0.2 2.5 0 0 2.6-4.8 0.4 4.8 0.2 0 1.8-4-0.2-1 0.7-3 0.1-1.7-0.6 0.7-0.5 3.6-0.5-8.6 0.1 2.4-1.1-3.4-0.1-1-1.1-2-0.2-5.5-3.6 0.5-0.5 1 0.1 2 1.4 6 2.1 10.4-0.1-10.4-0.8-5-1.9-5-2.8-9.7-8.5-6.5-9 0.2-0.4 2 0.8 7 6.6 9 2.3 0.9-1.3-1.9 0.1-0.1-1.1 8.1-0.6 4-1.2 6.3-3.2-0.3-0.7-7 3.1-4 0.8-6.2-0.2 5.2-0.4 2-1 2-0.2 8.3-4.4-0.3-0.7-6 3-7 1.3-0.9-0.6 3.9-0.8 1-0.8 1.7-0.4 3.6-2-0.3-0.5-5 2.1-3 0.7-7-0.1-3-0.8-14-7.8-3.1-2.6-1.7-2-0.2-1.4-2-0.6-1.8-2 0.8-0.3 2 2.3 1-2.5 3 1.8 7 0.9 2.1-0.2-1-1 4.5-1-2-1 4.4 0.1-1.4-1.1 5.4-2.5 3.4-2.5-0.4-0.6-5 2.8-5 1.7-5.1 0.1 5.1-1.3 9-5.3 8.3-8.4-0.3-0.6-9 7.9-5 2.9-5.3 1.8-3.7 0 0-1.1-1 0.4-12-3-3.6-6.3 0.2-3-0.8-1 0.2-0.5 6-0.2 5.5-2.3-1.9-1 4.8-3-1.4-1.3-1 0.8-1 0-0.4-0.5 1.4-0.4 8.7-8.6-0.7-0.3-6 5.4-7 3.8-2 0.5-1.3-0.4 5.3-2.9 0-0.4-1-0.1-4 1.7-7 1.5-0.5-1.8-2.1-3-1.4-7.9 2.5-0.1 6.5-5.6 4.1-4.4 7.9-10.8 5-8.1 5.8-11.1 7.4-17 0.8-3.3-1 0-11.6 23.3-7.1 11-6.8 9-9.5 9.2-1-0.1-4 3.3-1.9-1.4 0.5-1-1.2-1-0.3-2 0.9-1.7 4.1-1.3 6.1-4 4.8-4.3 6-6.7 7.4-10 6-10 0.1-1 5-9 1-3 2.5-0.1 1-1 11-3.7zM451.3 213.5l0.2 0.6 1.1-0.6-0.1-0.5zM436.5 186.9l1-0.3 0-0.7zM412.1 172.5l0.4 0.4 1.3-0.4-0.3-0.4zM448.1 209.5l-1.7 1 1.1 0zM335.5 89.9l1.1 0.6 10.2 23 1.4 4-0.7 0.5-0.2-1.5-0.8-0.4-10.9-23.6zM409.8 90.5l0.7-0.6 0.8 0.6-0.8 0.5zM170.5 92.8l0.4 1.7-0.4 0.5zM369.5 92.9l2.5 2.6 0.9 2-0.4 0.2-2.9-2.2 0.1-1-0.8-1zM343.5 94.1l2 1.4 8.5 15-0.5 0.8-2-1.4-3.4-4.4-4.6-9.1-0.4-1.9zM171.5 95.2l0.4 1.3-0.4 1.1-0.4-1.1zM267.5 95l0.5 0.5-0.5 1.2zM429.5 95.2l-7.7 13.3-8.7 12-5.9 6-4.7 3.7-5 2.9-10 3.3-2.5-4.9 0-2 0.5-2.5 1 0 6-3.4 0-0.5-1.4-0.6 2.4-1.7 5.9-6.3-0.9-0.3-4 3.8-0.7-0.5 2-2-0.3-1.1 1.3 0.1-0.3-1.3 1.3 0.3-0.6-1 0.3-0.8 0.1 0.8 1.1 0-0.5-2 0.3-0.3 1 0.9 0.2-0.6-1.2-1.5-2 2.1-0.4-0.6 2-3-0.6-0.1-9 8.5-6 3.6-1-1.4-4 2.2-1 0.1-1-0.9 1-2 4-0.1 1-1.5 6-3.3 9-7.6 2 0 5-1.7 1-0.9 3-1.3 1 0.1 3-1.9 14-4zM387.3 127.5l1.9 0-0.7-0.4zM399.5 113.1l0 1.3 0.9-0.9zM400.5 112.1l0 1.2 0.8-0.8zM266.5 97.1l0.5 0.4-0.5 1.4zM404.2 97.5l0.2 1-2.9 2.7-2 0.8-0.2-0.5 3.2-4.1 1-0.4zM172.5 97.7l0.5 1.8-0.5 0.5-0.4-1.5zM376.8 99.5l0.7-0.7 4 2.8 6 2.5 5.2 0.4-5.2 0.8-4-0.6-1-0.8-1 0.2-1-1-1.9 0.4-0.1 0.7 0.2-1.7-1.5-1zM371 103.5l1.5 0.1 4.3 2.9 1.1 3-2.4 0.5-2-0.5-1.4-2zM171.5 104.3l0.4 1.2-0.4 1.1zM378.9 104.5l0.8 0 0.5 1-0.7 0.5zM172.5 107l0.4 1.5-0.4 0.8-0.4-1.8zM378.7 109.5l0-2 0.8-1 5 1.1 4-0.6 0.8 0.5-3.8 2.2-5 1.2zM173.5 109.5l0.5 2-0.5 0.5-0.4-1.5zM358.5 111.1l1 0.2 7 6.9 1 0.4-3 0.7-3-1.1-2.4-2.7-1-2zM174.5 112.1l0.7 2.4-0.7 0.1-0.4-2.1zM369.5 116.8l1-0.2 2.6 2.9-0.6 1.7-1 0.5-2.5-2.2-0.2-1zM392.4 118.5l1.1-0.5 0.3 0.5zM173.5 118.9l0.4 1.6-0.4 0.9-0.4-1.9zM174.5 121.7l0.4 1.8-0.4 0.7-0.4-1.7zM389.5 123.5l1-0.4 0.5 0.4-0.5 0.4zM175.5 124.3l0.5 2.2-0.5 0.5-0.4-1.5zM362.8 124.5l0.7-0.5 2 1.1 4 3.4-1 0.5-2-0.9zM356.5 125.3l3.3 4.2 3.4 6 3 7-0.7 1-2.3-3-5.3-10-1.7-4zM373.5 128.8l1 0 1.6 1.7 0.7 2-0.3 1.5-1 0-2.7-3.5 0-1zM380.3 130.5l3.2 0.9 0.6 2.1-0.6 0.5-1-0.2-1 0.8-1.6-2.1zM174.5 131.3l0.4 2.2-0.4 0.5-0.4-1.5zM404.8 131.5l-4.3 3.3-6 3.2-2 0.1-2 1-2 0.1-1-0.7 1-0.8 3 0 1-0.8 2-0.1 1-1 1 0 1-0.9 3-1.2 2-1.8 2-1zM175.5 134.2l0.4 2.3-0.4 0.5-0.4-1.5zM375.4 136.5l1.1-0.7 2 1.7-1 0.4zM176.5 137.1l0.5 2.4-0.5 0.4-0.4-1.4zM369.5 138l4.8 6.5 0.8 2-0.8 1 1.3 1-0.2 1-0.9 0.4-1-0.6-1.4-1.8 0.5-1-1.8-2-1.8-4 0-2zM381.8 138.5l0.7-0.4 1.7 0.4zM175.5 144.3l0.4 2.2-0.4 0.7-0.4-1.7zM378.5 143.9l1-0.3 2.4 3.9 0.3 1-0.7 1 1.5 1-0.5 2.1-0.7-1.1-1.7-1 1.4-1-1-0.2-1.4-1.8zM384.9 146.5l0.6-0.6 3 0.5 0.2 1.1-3.2 1.3zM176.5 147.4l0.4 2.1-0.4 0.9-0.4-1.9zM385.8 150.5l0.7-0.5 2 0.5-2 0.5zM177.5 150.5l0.6 3-0.6 0.1-0.4-2.1zM176.5 158.1l0.4 2.4-0.4 0.5-0.4-1.5zM378.5 157.7l2.7 2.8 0.3 2.3-1-0.2-2.6-3.1-0.3-1zM385.5 159.6l1.4 1.9 1.1 3-0.5 1.7-2.6-4.7-0.2-1zM177.5 161.3l0.4 2.2-0.4 1-0.4-2zM392.5 161.1l-0.3 1.4 0.3 0.6 1-0.1 0 1.9-1-0.9-2-0.5zM178.5 164.6l0.5 2.9-0.5 0.3-0.4-2.3zM179.5 167.8l0.5 2.7 0.8 1 0.3 2 10.2 29 8.2 20.2 7.8 16.8 4.2 8 3.6 5 2.4 4.9 3.8 4.1 4.2 6.9 6 3.8 5 4.9 0.3 1.4-1.3 1.2-2-0.2-4-2-1.8-2-2.9-5-4.3-3.6-4-7.4-3.2-4-2.2-5-3.2-5-7.9-17-8-20-7-20-4.2-14-0.7-1-1-4zM177.5 172.3l0.4 2.2-0.4 1.1-0.4-2.1zM178.5 175.9l0.4 2.6-0.4 0.6-0.4-2.6zM392.5 176.1l0.5 1.4-0.5 0.3-0.4-1.3zM393.5 178l0 1.6-0.4-1.1zM179.5 179.3l0.5 3.2-0.5 0.3-0.4-2.3zM398.5 179.1l1.1 1.4-0.1 2.3-1.1-0.3 0.5-1-0.4-0.8-1 0.3-0.2-0.5 0.2-0.8zM180.5 182.8l8.9 28.7 11.1 31 7.5 18 2.9 5 1.6 4.6 4.6 7.4 1.5 4-0.1 1.2-2-1.3-1.5-1.9-2.8-7-3.2-5-1.3-4-2.6-5-7.2-18-12.7-38-3.9-13-0.4-3-0.7-1-0.2-2zM177.5 183.6l0.4 1.9-0.4 1.5zM178.5 187.4l0.4 2.1-0.4 1.4-0.4-2.4zM179.5 191.2l0.4 2.3-0.4 1.3-0.4-2.3zM180.5 194.9l0.6 3.6-0.6 0.1-0.4-3.1zM178.5 199.3l0.4 2.2-0.4 1.4zM181.5 198.6l9.8 33.9 9.9 30 1.9 4 1.8 6 2.1 4 1.5 6.7-2-2.3-1.5-3.4-0.9-4-2.1-4-1.3-5-7.8-22-8.8-30-2.2-10-0.7-1-0.2-2zM179.5 203.3l0.4 3.2-0.4 0.5-0.4-2.5zM180.5 207.3l0.4 3.2-0.4 0.6-0.4-2.6zM181.5 211.2l2.6 11.3 0.7 1 0.4 3 0.7 1 7.5 28 7.3 23 0.4 3-0.6 0.5-1.6-3.5-1-5-1.8-4-9-32-3.2-14-0.7-1-0.3-3-0.7-1-0.2-3-0.8-1-0.1-3zM179.5 215.9l0.4 2.6-0.4 1.2-0.4-2.2zM180.5 220.1l0.4 3.4-0.4 0.6-0.4-2.6zM181.5 224.3l0.4 3.2-0.4 1-0.4-3zM182.5 228.6l0.5 3.9 0.8 1 0.3 3 0.7 1 0.3 3 0.7 1 0.3 3 4.8 17 0.3 3 4 13 0.5 3-0.2 2-1.4-3-1.1-6-1.9-5-0.3-3-1.7-5-4-16-1.2-7-0.7-1-0.2-3-0.9-2zM180.5 233.2l0.4 2.3-0.4 1.8-0.4-2.8zM181.5 237.8l0.4 2.7-0.4 1.5-0.4-2.5zM451 241.5l3.5 0.6 0 0.9-2-0.4zM182.5 242.2l0.4 3.3-0.4 1.2-0.4-3.2zM448.8 245.5l0.5-1 5.2-0.5 0 2.3zM180.5 246.5l0.4 3-0.4 1.4zM183.5 246.8l2.6 12.7 0.7 1 0.3 3 1.8 6 0.1 3 1.9 5-0.4 3.5-1.3-4.5-0.2-3-0.7-1-2.4-12-0.7-1-1.2-8-0.8-1-0.2-3zM181.5 251.4l0.4 3.1-0.4 1.4-0.4-2.4zM438.5 253.5l0.9 1-1.2 0zM439.5 254.5l1 1-1 0.3zM182.5 256.2l0.4 3.3-0.4 1.4-0.4-3.4zM183.5 261.1l0.4 3.4-0.4 1.3-0.4-3.3zM181.5 265.5l0.4 3-0.4 1.6-0.4-2.6zM184.5 265.9l0.6 4.6 0.7 1 0.1 3-0.4 0.6-0.5-3.6-0.8-2-0.2-3zM182.5 270.7l0.4 2.8-0.4 1.9-0.4-2.9zM186.5 275.2l0.5 3.3-0.5 1.4-0.5-3.4zM183.5 275.8l0.4 2.7-0.4 1.8-0.4-2.8zM243.8 279.5l-1.3 1.7-1 0.1-0.5-0.8z"/>
<path fill="#7e8f9e" d="M358.5 21.5l3 1.5 3 0.3 3 1.8 1-1 1 0.9 1-0.8-0.2 1.3-2.5 2 1 1-0.3 1 1-0.3 1 0.9 1.2-0.6 0.1 1 1.7-0.6 2 1.2 0.2-0.6-0.8-1 1.1-1-0.1-1 0.6-0.4 4 1.8 17 12.8 4.7 4.8 3.3 2.3 14 13.7 0-1.4-3-3.8-2-1.4-10.5-10.4-8.5-7.3-8-6.1-1-0.2-3-2.8-1-0.2-1.2-1.4 2.2-0.3 1 0.8 1-0.5-2.7-2 0.7-0.5 4 1.8 1.7 1.7 6.3 3.1 2 1.7 0.5-0.8-0.6-1-7.9-4.3-2-1.7 0-1.2-1 0.1-0.5-0.9 1.5-0.3 1 0.7 2-0.7 5-0.1 2-1.2 4.6-0.4-17.3-2 10.7-0.5 11 0.8 11-0.2 6 1 11 0.4 5.3-0.5-3.3-1 3-0.1 2 0.5 3-0.7 0.4 0.3-0.9 3-14.1 25-4.8 10-4.1 7 0 1-1.1 1-0.1 1-7.8 14-3.3 5-1.3 1-0.1 1-1.8 1 0.1 1-1.1 1.1-1.3-1.1 0.3-0.5 1 0.1 1-0.6 0-1-1 0.2-2-2.2-1 0.4-2-2.1-1 0.1-4-3.7-0.9 0.3 0.5 1 6 5-0.6 0.4-1-0.4-7-5.4-4.8-4.6 0.8-0.7 1 0.1 1.2-1.4-2.2-1-2-2.2-0.9 0.2 2.5 3-0.6 0.6-1.5-0.6-9.3-10-9.2-11.3-3.4-10.7 0.8-1-1.8-4-2.2-10-0.8-1zM403.5 41l-0.1 0.5 2.1 1.7 0.2-0.7zM405.8 43.5l2.7 1.7 0.4-0.7-1.4-1.1zM410.7 43.5l1.8 1.1 0.8-0.1-1.8-1.6zM382.9 37.5l2.6 1.8 0.3-0.8-1.3-1.1zM389.5 71.6l0 1.2 0.8-0.3zM365.5 43.7l0 1.1 0.8-0.3zM366.5 44.7l-0.4 0.8 6.4 7.3 0.8-0.3zM374.5 53.8l-0.4 0.7 3.4 4.3 0.8-0.3zM378.5 58.7l0 1.2 0.7-0.4zM380.9 35.5l1.6 1.6 0.3-0.6-1.3-1.1zM388.5 70.6l0 1.2 0.9-0.3zM390.5 72.7l-0.3 0.8 2.3 2.3 0.7-0.3-0.7-1.3zM401.2 83.5l1.2 0-0.9-0.8zM402.5 83.6l0 1 2 1.2 0.8-0.3zM373.5 52.7l0 1.2 0.7-0.4zM379.5 59.8l-0.3 0.7 2.3 3.3 0.8-0.3zM382.5 63.7l-0.3 0.8 5.3 6.3 0.9-0.3zM390 78.5l2.5 2.1 1 0.1-2-2.3-1-0.5zM394.5 76.7l-0.3 0.8 4.3 3.5 0.2-0.5-1.8-2zM382.7 70.5l0.4 1 1.4 0.9 0.3-0.9-1.3-1.3zM199.7 22.5l7.8-1.4 15 1.1 19-0.9 21 0.3 26-0.5 0.2 0.4-23 42-7.8 12-3.1 6-2.3 2-6-1.9-3-0.3-4-2.2-4-0.9-3-2.6-4-1.5-2-2-3-1.5-4.8-4.1-1.1-2 0.3-1 1.6-1 4 0.5 3 2.4 1 0.2 3-1.3 3-0.1 2.7-2.7 0.1-2-6.8-8.1-12.5-11.9-11.9-13zM249.9 71.5l0.6 2.4 3.3 0.6-0.1-1-1.2-1.6-1-0.6zM169.2 22.5l0.3-0.6 8.7 0.6-3.7 1zM352.5 22.3l1.1 0.2 1.5 3-0.2 2 0.5 2-0.9 1.9-1.3-1.9-1-4zM454.5 22l0 13.5-3.1 0 3.1 0.1 0 0.9-1 0-2.4 5 0.6 1-0.8 1-2.2 6-6.2 9.2-1.5-1.2 2.9-4-0.4-1.6-2.6 2.6-0.4 1.3-1 0.3-0.4-1.6 1.3-1-0.2-1 0.7-2-0.4-0.7-2 3.7-1.5 1-0.5 2.3-2-0.8-0.5 0.5 2.2 3-0.7 0.3-1-0.7-1 0.4-1 1.4-0.4-1.4 0.4-2.6-1 0-0.5-1.4 0.5-0.4 1 1.3 1.5-0.9-0.2-1 1.6-2 0.2-2 0.9-0.6 0.1-1.4 0.9-1 0-1 1.1-1-0.1-1 1.2-2 1.8-1.7 1 0.7 0.3-1-1.1-1 0.3-1 1.5-2.2 1 0.4-0.4-1.2 0.4-0.8 1 0.5-0.4-1.7 0.4-0.7 1 0.3 0.5-0.6-0.5-1.3 3-0.7-0.8-1 0.8-1.7 1-0.9 1.1 0.6 0.3-1-1.2-1 0.6-2 1.2-1.2zM444.5 50.5l-0.8 1 0.8 0.4zM447.5 46.3l-0.8 1.2 1 0zM445.5 49l-1 1.5 1.3 0zM161.3 23.5l2 0-0.8 0.4zM379.5 23.5l1-0.4 0.5 0.4-0.5 0.5zM163.5 24l7.3 2.5 1.8 1 0.6 1-1.7 0-8.1-4zM302.5 25.1l0.8 2.4-5.8 8.5-2 1.4-0.6-0.9 1.5-3 5.1-8.2zM371.5 25.4l0 1.4-0.5-0.3 0.1-1zM373.3 26.5l-0.3-1 1.5 0zM335.5 31l0.9 1.5 0.2 2-1.1 1.3-0.8-2.3zM164.5 31.7l19 17 22.9 23.8 11.4 9 6.7 4 5 2.1 8 1.9 6 0 5-0.6 0.4 0.6-3.4 1.3-5 0.8-8-0.4-7-2-5-2.3-6-3.8-5-3.8-9.5-8.8-22.1-25-13.6-13zM308.5 36l1.3 2.5-0.3 1.4-3 2.6-1 0.1-0.8-1.1 2.8-5.5zM348.5 39.1l1 0.9 2.2 5.5 4.1 13 3.2 14-0.8 1 1.3 3.3-1.1-0.3-1.1-3 0.5-1-2.2-4-5.5-17-1.6-7zM164.8 40.5l0.7-0.2 0.9 1.2-0.9 0.2zM166.5 41.6l10.5 12.9 13.5 18.1 9 10 8.9 7.9 8 5 5.1 2.1 4.6 0.9 6 0 4.4-0.7 4-1.7 1.1 0.4-8.1 3.5-9 0.4-6-1.3-9-4.9-10-8.7-11.6-13-21.8-30zM286.5 45l0 1.7-3.8 6.8-5.2 7.4-4.1 4.6 0-1 2.9-5zM139.5 47.4l1 0.1 0 13.1-1 0zM165 48.5l0.7 0 13.7 22 9 13 9.1 10.9 5.3 5.1 6.9 5 4.3 2 3.6 1 6.9 0.1 4-0.9 4-1.7 0.5 0.5-2.5 1.6-5 1.9-4 0.6-5-0.2-7-2.6-7-4.9-7.4-7.4-10.1-13-7.9-12zM330.5 48.6l0.8 3.9-0.8 1.6-1-2.2-0.2-2.4zM434.3 49.5l1.1 1-0.9 0.2zM294.5 50.3l-0.4 2.2-3.1 5-4.5 4.9-0.7-0.9 3.2-6 3.5-4.2zM315.5 49.9l1.2 1.6 2 5-0.2 1.9-1 0.9-1.2 3.2-1.6 10-5.2 14.6-7.5 25.4-5.6 13-4.3 13-4.6 8.7-4.4 11.3-4.6 7.9-3.8 8.1-2.2 2.6-4.2 7.4-8.8 10.9-5 4.2-6 2.5-4 2.5-4 1.7-3 0.7-6-1.6-4 0-4-2.8-4-1.4-3-3.1-3-1.9-5-5.4-5.6-7.3-5.9-9-10.9-21-7.8-19-0.2-2 0.6 0 2.4 7 8.4 18 8.9 16 8.1 11.5 5 5.8 5 4.5 4 2 3 2.6 5 0.7 5 1.6 14-4.6 3-1.7 9-9.4 11.8-17 7.2-12.8 3.3-8.2 4-8 10.2-27 11.8-38 2.8-7 3.9-18.4zM454.5 49.8l0 19.5-1.2 0.2 1.2 0.2 0 2.2-2.6 0.6 1 2-0.4 0.3-1-0.5-1 0.7-1-0.9-2 0.2-1-1-1 0.5-0.7-1.3 0.4-4 1.3 0-0.4-2 0.9-1 2.6-7 1.9-3.4 1.1-3.6 0.9-1.7zM165.5 56.3l0.4 1.2-0.4 0.4zM360.5 56.2l3.9 9.3-0.3 1 2.6 10-0.5 1-0.7 0.2-3.6-11.2-1.5-7zM438.5 56.5l0.6 1-0.6 1.4-0.6-0.4zM367.5 57.2l1 2.3 7.5 10-0.5 0.6-2-1.9-0.8 0.3 3.2 4 0.1 1-0.5 0.4-1-0.9-0.5 0.5 1.5 1.5 1-1.1 2.2 1.6 2.1 3 6.7 6 9 7.3 1.4 0.7-0.4 0.4-1 0-2-1.6-1-0.2-0.4 0.4 3.4 2.6 3 1.1 3-2.1 1 0.3-2 2.1-0.7 2-1.7 2-2.6 2.1-7-1.7-5-2.5-1 0-1-1-1 0.1 0-1-1 0.1-1-0.9-1-0.1 0-1.1-1 0.4-2-1.7-3.6-10.7 0.1-2-1.9-9-1.8-6-0.1-3-1-2zM376.7 78.5l2.8 0.7 0.7-0.7-1.7-0.9zM390.5 89.2l0 0.5 1 0.3 0-0.7zM371.9 71.5l1.6 1.4 0.4-0.4-1.4-1.5zM166.5 58.2l0.4 1.3-0.4 0.4-0.4-1.4zM303.5 57.6l0.2 2.9-0.6 3-3.7 9-2.5 4 1.6 2-8 21.9-4.2 13.1-4.6 10-3.7 10-3.5 6.1-3.4 7.9-7.6 11.8-7 8.8-10 10.2-3 1.8-5 1.4-5 2.2-2 0.4-4-1.1-4 0.2-3-1.8-4-1.2-5-3.6-5-4.5-5.7-6.6-8.7-13-5.9-11-9-20 0.3-1.9 6.6 14.9 10.4 19 8 11 7 7.2 5 3.9 3 1.1 3 2 4 0.2 3 1 2 0 11-3.5 4.9-3.9 9.1-9.4 4-4.7 7-11.1 9-18.8 6-14.8 10-27.6 1.4-5.6 3.7-3-1.1-3 0.3-3 1.1-3 4.3-8zM440.5 58.4l1 0.3 0.4 0.8-1.4 2.2-1.4-1.2zM343.5 59.1l3.3 5.4-0.7 1 1.4-0.2-0.3 1.2 1.3 1.1-1 0.5-3.5-4.6 0.2-1-0.9-1zM167.5 60.1l0.5 1.4-0.5 0.4-0.4-1.4zM429.5 60.5l0 2.1 1.6-0.1 0.6 1-1.2 1.5-2.4-2.5-0.3-1zM436.5 59.7l1 0.5 0 0.9-1 0.3zM335.5 60.8l1.5 2.7 0.5 2-0.1 3-0.9 1.4-1.3-2.4-0.8-4 0.1-1.5zM443.5 60.6l0.1 1.9-2.2 4 0.1 1.1-0.9-0.1-0.6-1 0.7-2 1.3-1zM168.5 62l0.5 1.5-0.5 0.5-0.5-1.5zM439.5 61.8l0.4 0.7-0.4 0.8-1.2 0.2 0.4 1-1.2 1-1 0.1 2-4zM139.5 64.1l1 0 0.4 7.4 0.4 94 0.5 2 0.2 69 0.4 2-0.7 1 0 13 0.8 2 3.5 2 4.5 11.4 1 0.1 0.4-14.5 0.6-1.1 4.4 13.1 5.6 10 6 5.6 1-0.2 4 2.3 3-0.1 1 1 2-0.3 1 0.7 1-0.5 1 1.1 2-0.4 2 1.1 2-0.7 1 1.1 3-0.5 2 1.3 1.6-0.5 0.4-1.4 1 1.7 4 0.4 1-1.8 1 1.8 3 0.9 2-0.1 0.9-0.5 0.1-1.5 1 0 1 1.8 5 1 4-1.1 0.1-1.2 0.9-0.8 3 2.4 7 0 6-1.1 12.2-4.5-3-1 0.2-1 8.6-5 4-3 5-5 6.5-8 7.7-12 13.2-25 9-20 10.9-29 9-28 13.7-51.2 1 1.2 4.5 11 7 14 8.3 14 13.8 19 10.9 13 13.7 18 7.8 11.4 3 5.6 0 1 1.1 1-0.3 2 1.2-0.9 0 3.6 0.5-1.7 0.6 0-0.1 1.8-0.5 0.2 0.2 2 0.8 1 1.2 4 1.7 3 3.2 8 7.1 14 6.2 10 8.1 11 4.8 5 6.2 5.1 5.1 2.9-0.1 0.6-3.1 0.4 6.1-0.4 0 40.4-315 0zM422.5 245l0 1.5 1 1.2 0-1.2zM424.5 248.2l-0.5 0.3 0.5 1.1 0.4-0.1zM426.5 251.3l-0.7 0.2 0.7 1.3zM427.5 253l-0.4 0.5 1.4 2.3 0.1-1.3zM429.5 256.1l-0.4 0.4 1.4 2.2 0.8-0.2zM431.8 260.5l4.7 6 4 4 3 1.6 0-0.6-5.7-5-5.3-6.4zM446.3 274.5l1.8 0-1.6-0.6zM169 64.5l0.5-0.5 6.7 12.5 9.2 15 8 11 8.9 9 4.4 3 4.5 2 4.6 1 4 0 6.7-1.9 5-2.9 5-4.2 6.4-7 7.1-10 1.5-1.5 0.9 0.5-6.3 9-7.2 9-9.4 7.8-8 3.1-5 0.3-5-0.9-4-1.6-5-3.1-5-4.6-5.4-6-5.1-7-6.9-11-8.9-16zM322.5 64.4l0.1 1.1 0.9 0.7 2 4.3 1 4.6-1 1.1-8.4 30.3-10 32-9.3 25-8.9 20-5.3 9-2.3 5-8 12-6.7 8-7.2 7-4.9 3.6-5 2.9-3 1-4-0.4-3-1.3-1 0.5-4 0-3-0.7-5-4.1-4-1.6-3.1-3.9-3.9-3-2-3.1-3.6-3.9-4.8-7-7-12-6-12-8.9-21-2.3-7-0.7-1-0.3-2 0.7 0 3.7 10 7 16 8.2 15.9 9 14.6 5 6.5 3 2.5 3 4 4 2 4 4 6 0.9 7 2.8 6-2.5 6.5-3.7 7.5-5 9.1-9 6.1-9 7.8-14.1 8.4-17.9 9.6-25.3 12-37.5 9-33.2zM432.5 64.4l0.4 1.1-0.4 0.7-0.8-0.7zM435.5 67.2l0.5 0.3-0.2 1-1.3 0.2zM423.5 69.3l1.1 0.2 0.6 1-0.7 0.5zM346.5 70.2l1.2 1.3-0.2 1.2-1.1-1.2zM437.5 69.5l2.2 1-0.2 2.2-1-0.4-1.4-1.8zM376.6 71.5l0.9-0.2 1 1.3-1.3-0.1zM275.1 72.5l-1.1 2-2.5 2.5-3 1.8-0.5-0.3 6.5-6.3zM340.5 72.1l0.7 2.4-0.7 3.1-1-0.2zM169.5 73l0.4 1.5-0.4 0.4-0.4-1.4zM285.5 74.6l-0.1 1.9-1.3 2-2.6 1.1-1.7-0.1-0.2-1 2.9-2.7 2-1.3zM347.5 74l1.2 0.5 1.5 3-0.7 0.4-2-0.4zM437.5 74l0.6 0.5-0.6 1.8-1.1-1.8zM442.5 74.4l1-0.3 2 0.8 3.6 3.6-1.1 0-2.5-1.8-1 0zM170.5 75.1l0.4 1.4-0.4 0.5-0.4-1.5zM380 75.5l0.5-0.5 1.6 1.5-0.6 0.5zM171.5 77.1l0.5 1.4-0.5 0.6-0.5-1.6zM436.5 77.9l0 1.7-1.2-0.1 0.5 1-2.6 5 0 1-2.7 4-4 2.1-4 0.7-0.8-0.8 5.8-6.2 0.7-1.8 1.3 0 1.4-2 1.6-1-0.6-1 2.6-1.9-0.8-1.1 0.8-0.5zM382.8 78.5l0.7-0.4 6 5.8 3.4 2.6-0.4 0.5-2-1.1zM172 79.5l0.5-0.4 6.7 13.4 7.1 12 7.1 10 4.1 4.5 5 4.6 6.2 3.9 7.8 2.6 6 0.3 8-2 11-7.5 10-12.5 5.3-7.9 8.4-17 3.3-1.4 2.2 0.4-8.6 16-6.3 10-10.3 13.2-11 8.4-9 3.1-6 0.2-6-1.2-8-4-5-3.9-6.7-6.8-9.7-14-7.1-13zM348.5 78.8l2.4 0.7 1.6 4.1 3 4.9-0.1 1 2.2 4 1 4-1.1 1.9-2-1-1-1.3-4.7-10.6-1.3-5.1-0.8-0.9zM366.4 79.5l1.6 1-1.5 0.2zM449.9 79.5l1.6-0.1 1.3 1.1-1.3 0.2zM417.1 80.5l0.6 0 1.2 2-0.4 0.5-1.5-1.5zM419.5 79.9l0 1.5-0.5-0.9zM283.8 81.5l-6.3 14-4.1 11-6.5 14-6.8 13-6.1 10-6.5 7.6-9 8.3-2 1.4-9 3.2-7-0.1-6-1.9-5-2.8-8.6-7.7-7-9-5-8-6.9-13-5.9-13-0.1-1 0.7 0 4.4 10 8.3 15 8.1 12 5 5.8 9 7.3 6 2.6 8 0.5 7-2.1 2-1.1 10-8.9 5-6 7-11.5 11.6-22.6 8.1-19 2.4-8 2.9-0.7zM329.5 81.4l1.5 4.1 0.8 1 0.7 3.8-14.6 54.2-5 17-9 27-8.5 21-6.3 13-10.6 17.4-7 8.1-6.7 5.5-7.3 3.3-3 0.2-3-1.1-2-0.1-2 1.9-3 0.9-4-0.1-3-0.7-3.6-3.3-1.1-2 0.7-1 5-0.2 10 1.8 0.8 0.4 0.2 1.4 1 0.2 5-3.1 7-6.1 1-0.4 10-12 3.9-7 4.1-5.7 3.1-7.3 4-6 3.9-10.5 4.5-8.5 4.3-13 5.4-13 11.3-36 9.8-37 1.2-8zM415.5 81.4l1 0.6 0.6 1.5-1.1 0zM359.5 81.8l3 3.7 0.8 2-0.8 0.8-2.9-3.8 0.1-1-0.8-1zM414.5 82.8l1.4 1.7-0.4 0.7-1.3-1.7zM170.5 84.1l0.4 1.4-0.4 0.4zM413.5 84.5l0.6 1-0.6 0.4zM171.5 86.3l0.4 1.2-0.4 0.8zM452.2 86.5l2.3-0.2 0 0.6zM400.5 88.1l1.1 0.4-0.1 0.8-1.3-0.8zM172.5 88.5l0.4 1-0.4 1.2-0.4-1.2zM454.5 89.3l0 8.9-1 0.3 1 0.1 0 60.1-1 0-4.8 7.8-6.2 8.1-5 5-2-1.3 0 2.7 0-1.5-1-0.3-2 2.3-1-0.3-5 3.2-9 2.5-5 0.2-8-1-2.6-3.6-0.8-2 0.4-2.4 2 0.7 3-0.3 3.9-1 4.4-2-0.3-0.8-5 1.3-0.6-0.5 3.6-1.4 6-4.2 9.2-9.4 2.2-3-0.4-0.7-3 3.4-0.4-0.7 5.8-8-1.8-3 3.8-6 3-6-0.4-0.9-2.5 3.9-0.2 1-3 4-0.1 1-2.1 2 0 1-2.9 3-0.2 1.1-5 4.7-0.3-0.8 2.6-3 1.1-2-0.4-0.8-7.5 7.8-8.5 5.7-2 0.8-2-0.6 0.5 1.1-3.5-0.1-2.9 1.1-0.1 1 0-1-1-0.5-1.4-2.5-0.9-4 0.5-1-0.5-1 0.3-0.5 1 1.1 1-0.1 4-2.2 4.2-3.3-0.2-0.8-5 3.2-0.6-0.4 4.6-3.6 5.1-5.4 4.9-6.8 3-5.5 1-0.7-0.1-1 2.9-4 0.1-1 3.6-6 10.7-24 0.3-3 10.5-3.7zM414.7 174.5l0.8 0.4 1.1-0.4-0.1-0.6zM430.5 155.3l-0.6 1.2 0.6 0.3 0.5-1.3zM431.5 148l-0.4 0.5 1.4 2 0.4-1zM432.5 146.4l-0.3 1.1 1.3 1.3 0-1.1zM424.5 149.6l-0.7 0.9 0.7 0.4zM425.5 148.1l-0.8 1.4 1 0zM437.5 133.7l-0.6 1.8 0.7 0 0.3-1zM438.5 131.8l-0.5 0.7 0.5 1.1 0.4-1.1zM439.5 129.9l-0.4 0.6 0.4 1.2 0.4-1.2zM440.5 127.9l-0.4 0.6 0.4 1.1 0.4-1.1zM441.5 125.9l-0.4 0.6 0.4 1zM444.5 119.3l-0.4 1.2 0.4 0.5zM335.5 90.4l1 0.2 9.8 22.9-0.8 0.2-9.8-21.2zM362.5 90.3l1 1.4 5.2 14.8-0.2 1-1 0.7-2.6-4.7-2-6 0.3-2-0.8-3zM173.5 90.8l0.5 1.7-0.5 0.4-0.4-1.4zM174 93.5l0.5-0.5 6.6 13.5 6.2 11 6.2 9 5 6 5.1 5 5.3 4 5.6 2.9 5 1.2 8.4-1.1 7.5-4 4.1-3.4 11.3-12.6 9.1-14 3.6-7.4 0.6 0.4-2.2 5-6.9 12-7 10-6.5 7.5-6 4.9-5 3.3-7 2-6-0.3-6-2.1-6-3.9-5.8-5.4-5.9-7-9.8-15-5.7-11zM398.1 93.5l0.4-0.4 1.2 0.4-1.2 0.4zM376.5 94l2.4 2.5-0.4 0.5-2-1.1zM431.5 94.2l0.9 0.3-0.9 1.9-0.4-1.9zM429.4 95.5l-12.2 19-8.7 10-5 4.4-5 3.1-4 1.9-7 1.9-1.8-3.3-0.6-3 0.4-0.7 6-1.9 6.5-4.4 2.2-2-0.7-0.4-3 2.1-0.2-0.7 7.2-7.5 2.5-3.5-0.5-0.4-2.8 3.4-0.9 0 6.9-10-0.2-0.8-1.1-0.2-0.2 1-2.7 3-0.5-1 0.9-1-0.4-0.7-1 1-1.3-1.3 1.3 0 1-1 2-0.4 1-0.9 0.9 0.3 0.1 0.8 0.9-1.8 5.1-2 12-3.3zM407.5 107.3l-0.4 1.2 0.4 0.2 0.4-1.2zM344.5 96.3l2 1.8 6.5 11.4-0.5 0.9-2-1.8-2.3-3.1-3.7-7.6zM430.5 96.2l0.8 0.3-0.8 1.9-0.4-0.9zM172.5 97.9l0.4 1.6-0.4 0.4zM403.5 97.8l0.3 0.7-0.6 1-2.7 1.9-0.4-0.9 2.4-2.7zM430.1 98.5l0.1 1-10.2 20-10.8 16-10.7 11.1-2 0.8-1 1.2-1-0.2-2 2.1-1-0.1-0.8-0.9 0.6-1-1.2-1-0.3-1 0.3-2 5-2 4.6-3 4.8-4.1 6.3-6.9 8.3-11 5.9-10 0.1-1 0.9-1 3.4-7zM265.5 99.2l0.4 0.3-0.4 1.4zM376.9 99.5l0.6-0.5 4 3 1.9 0.5 0.1 0.6 2.7 0.4 0.3 0.8 3.5 0.2-1.5 0.5-7-1.2-1-1-1 0.2-2-1.5zM173.5 100.2l0.4 1.3-0.4 0.9zM264.5 101.1l0.5 0.4-0.5 1.5-0.4-0.5zM174.5 102.6l0.4 1.9-0.4 0.4-0.4-1.4zM372.5 104l1 1.4 1.1 0.1-0.4 1 1 2-0.7 0.4-1 0-0.8-1.4-0.8-3zM399.7 105.5l0.4-1 2.1 0-1.7 1.5zM175.5 105l0.5 1.5-0.5 0.7-0.4-1.7zM399.4 105.5l-9.9 9.3-7 4.3-1.7-1.6 0.7-1.3 6-3.5 9-7.6zM379 109.5l-0.2-2 0.7-0.9 5 1.1 4.3-0.2-1.3 1.3-4 1.3-3 0.4zM174.5 112.2l0.4 1.3-0.4 1zM358.9 112.5l0.6-0.4 5.7 5.4 0.3 1-2 0.3-2-0.8-2.6-3.5zM175.5 114.8l0.4 1.7-0.4 0.5-0.4-1.5zM176.5 117.2l0.4 1.3-0.4 1-0.4-2zM370.5 117l2.2 2.5-0.2 1-1 0.9-2.4-2.9zM376 119.5l0.5-1.4 3 0.4-2 1.2zM363 124.5l0.5-0.4 2 1.2 2.5 2.2-0.5 0.6-1-0.3zM176.5 127.1l0.4 1.4-0.4 1.1-0.4-2.1zM357.5 127l5.5 8.5 1.1 4 1.8 3-0.4 0.6-2.2-2.6-0.6-2-3.6-6-1.8-4zM373.5 129.4l1-0.3 1.4 1.4 0.5 2-0.4 1-0.5 0.1-2.3-3.1zM177.5 129.8l0.5 1.7-0.5 0.7-0.4-1.7zM380.4 131.5l1.1 1 1.1 0-2.1 0.1zM399.1 134.5l0.4-0.4 1.1 0.4zM397.2 135.5l1.3-0.5 0.4 0.5-0.4 0.4zM395 136.5l1.5-0.5 0.6 0.5-1.6 0.4zM176.5 137.3l0.4 1.2-0.4 1.3zM392.1 137.5l1.4-0.6 1.4 0.6-1.4 0.5zM387.7 138.5l0.8-0.6 3 0.1 0.4 0.5-3.4 0.6zM369.5 138.9l2 1.9 2.4 3.7 0.2 3 1.3 1-0.9 1-1-0.4-1.2-1.6 0.9-1-2.2-2-1-2-0.8-3zM177.5 140.1l0.4 1.4-0.4 1.2-0.4-1.2zM178.5 142.9l0.4 1.6-0.4 1.1-0.4-2.1zM379.5 144l2.5 4.5-0.5 0.7-1-0.1-1.5-2.6-0.1-2zM179.5 145.7l0.5 1.8-0.5 0.8-0.4-1.8zM430.3 149.5l-0.8 1.4-0.4-0.4 0.3-1zM380.6 150.5l0.9-0.8 1.3 0.8-0.3 0.6-1 0.2zM177.5 150.8l0.4 1.7-0.4 0.9zM427.5 152.4l0.4 0.1-0.4 1.3zM178.5 153.8l0.4 1.7-0.4 1-0.4-2zM397.3 155.5l1.2-0.5 0.3 0.5zM179.5 156.7l0.4 1.8-0.4 1-0.4-2zM378.5 157.9l2.4 2.6 0.4 1-0.8 0.8-2.5-2.8-0.1-1zM180.5 159.6l3.7 10.9 7.2 18 7.1 15.8 7 13.8 4.9 8.4 2.6 3 2.1 4 4 4 2.4 4.2 5.9 3.8 4.1 4.3 1 1.7-2 0.4-3-1.1-2-1.4-3.4-4.9-4.6-4.1-2.8-4.9-2.9-3-2.3-4.6-2.6-3.4-7.8-15-7.9-18-11.1-30zM385.5 159.9l1.7 2.6 0.6 2-0.3 1.2-2.4-4.2zM454.5 161l0 4.3-1 0-0.5 1.2 1.5 0.3 0 37.3-1 0-6 4.8-1-1.1-1.3 0.7 1.3 0.5 0 0.6-3-0.3-6 2.4-2 0.2-1-0.4 1-0.7 2 0.3 1-1.5 1.4-0.1-8.4 1.5-4-0.5-4-1-6-2.5-7-4.6-1.6-1.9-0.7-2 0.3-1.7 4 2.7 4 0.4 6-0.4 7-2.4 6.6-4.6-0.9-1 1.3 0.4 0.4-0.4-0.6-1 4.2-3.5 3.6-4.5-1-1 4.8-6 4.9-8-0.3-0.5-3.8 5.5-7.2 8.3-4 3.7-1 0 8.5-10 8.5-13.5zM424.4 162.5l-1.3 1 0.4-1zM178.5 164.8l0.4 1.7-0.4 1.1zM179.5 168l0.4 1.5-0.4 1.4-0.4-2.4zM180.5 171.1l0.5 2.4-0.5 0.6-0.4-1.6zM181.5 174.2l0.5 2.3-0.5 0.8-0.4-1.8zM182 177.5l0.6 0 8.6 25 12 29 1.8 3 2 5 3.1 5 1 3 3.7 5 2 5 3.7 3.4 1.8 2.6 1.8 4-0.1 1-2.5-1.2-1.6-1.8-2.7-6-4.2-5-2-5-2.9-4-2-5-1.9-3-12.1-29-8-23zM179.5 179.5l0.4 2-0.4 1.1zM180.5 183l0.4 2.5-0.4 0.5-0.4-2.5zM181.5 186.3l0.4 2.2-0.4 1.1-0.4-2.1zM182.5 189.7l0.5 2.8-0.5 0.5-0.5-2.5zM183.5 193l5.7 18.5 11 31 2.9 6 1.2 4 1.9 3 1.7 6 3.3 5 0.7 3-0.4 1.3-2.3-3.3-1.4-5-3-5-1.1-4-2.6-5-6-16-8.9-27-2.3-9-0.7-1-0.2-2zM180.5 195.1l0.4 2.4-0.4 0.9zM181.5 198.8l0.4 2.7-0.4 0.6-0.4-2.6zM182.5 202.3l0.4 3.2-0.4 0.3-0.4-2.3zM183.5 206l3.7 13.5 0.6 1 7.5 25 1.7 4 1.2 5 1.9 4 1.1 5 1.8 3 1 4-0.5 1.4-1.7-3.4-0.8-4-2-4-1.2-5-1.8-4-4.8-15-8-28-0.1-2zM454.5 206.3l0 1.7-1 0-5 3.6-1 0.3-0.3-0.4 6.3-5.2zM407.9 208.5l0.6-0.1 1.9 4.1 1.1 1 0 1 1.1 1-0.1 1.3-1 0.4 0-1.7-1.4-1 0-1-1.9-3zM454.5 210l0 1.6-1 0-7 4.3-1-0.1-0.2-0.3 3.2-1.5 5-4zM181.5 211.4l0.4 2.1-0.4 1.5zM454.5 234.3l-5.4 1.2-4.6 0.1-5.9-1.1-5.1-2.2-5-3.1-7-6.1-4.6-5.6-1.4-3.2 1-0.1 8 7.3 3.3 2 1.7 0.3 0.5 0.7 1.5 0.3 2-0.8 7-0.1 5.6-1.4 1.8-1-0.4-0.6-2-0.4 2-0.5 3.5-2.5-0.5-0.4-3 1-0.4-0.6 1.4-0.4 5-3.9 1 0 0 2.2-1.3 0.1 1.3 0.1zM432.5 225.5l2.7 0-0.7-0.5zM182.5 215.3l0.4 3.2-0.4 0.5-0.4-2.5zM413.5 217l5.3 9.5-0.3 1.5-3-5.5-1.2 1 0.8-2-0.6-0.9-1.2 0.9 0.7-2-0.5-0.9-1 0.9-0.2-1zM444.9 218.5l2.1 0-1.5 0.5zM183.5 219.2l0.4 3.3-0.4 0.5-0.4-2.5zM184.5 223.1l0.5 3.4-0.5 0.4-0.4-3.4zM185.5 226.9l7.2 25.6 0.4 3 1.7 4 0.4 3 2.6 7-0.3 3.1-1.3-3.1-1.1-6-1.8-4-0.4-3-1.6-4-6.2-23-0.1-2zM182.5 228.8l0.4 2.7-0.4 1.1zM183.5 233l0.4 2.5-0.4 1.3-0.4-2.3zM421.2 234.5l-0.7 1.2-0.2-1.2zM434.5 235.5l1-0.5 0.9 0.5-0.9 0.4zM427.2 236.5l9.3 8 6 4.2 4 1.8 4 0.6 4-0.3 0 10.6-1.2 0.1 1.2 0.1 0 2.2-1 0-5-2.9-6.6-5.4-3.8-4 0.4-0.6 5 4.7 1.2-0.1-9.2-9.1-1 0.5 0-1.5-1 0.4 0.1-1.3-1.3 0 0.2-1.1-1-0.3-2.2-2.6-0.2-1-2-2zM436.5 236.5l2-0.5 1 0.8 7 0.3 5-0.5 3-0.9 0 1.8-7 1.4-3 0-2-0.8-3-0.2-1-0.9zM184.5 237.1l0.4 3.4-0.4 0.5-0.4-2.5zM449.9 239.5l4.6-0.4 0 0.9zM185.5 241.1l0.5 3.4-0.5 0.6-0.4-2.6zM186.5 245.1l2.5 11.4 1.8 5 0.1 3-0.4 0.4-1.3-4.4-0.3-3-1.7-5-0.3-3-0.7-1-0.2-3zM427.5 246.3l0.5 0.2-0.5 1.2-0.4-1.2zM183.5 247l0.4 2.5-0.4 1.5-0.4-2.5zM429.5 249.3l0.4 0.2-0.4 1.2-0.4-1.2zM184.5 251.3l0.4 3.2-0.4 1.1-0.4-3.1zM431.5 252.1l0.4 0.4-0.4 1-0.5-1zM432.5 253.6l4.7 5.9 6.3 6.1 6 4.3 4 1.6-2 0.5-4-2.1-4-3-7.4-7.4-4-5zM185.5 255.8l0.4 3.7-0.4 0.5-0.4-3.5zM186.5 260.1l0.5 3.4-0.5 0.8-0.4-2.8zM187.5 264.5l0.6 4 0.7 1-0.3 3.2-1.3-5.2zM191.5 265.1l1.4 4.4-0.4 2.9-1.3-3.9zM184.5 266.1l0.4 2.4-0.4 1.9-0.4-2.9zM185.5 270.8l0 4.1-0.4-3.4zM226.5 271l2-0.1 3 2 3.7 4.6-0.2 1-3.5-0.4-2-1.1-2.5-3.5zM204.5 272.3l2.8 5.2 0.5 3-0.3 1.2-2.3-4.2zM189.5 273.4l0.5 3.1 0.8 1-0.3 3.2-1.2-4.2zM193.5 273l0.5 2.5 1.1 2 0.4 4.2-1.5-3.2-0.7-3zM198.5 273.1l2.3 6.4-0.3 2.1-1.6-3.1-0.7-4zM213.5 272.5l2 2.3 1.4 2.7 0.6 3.7-2-1.3-1.4-2.4-1.1-4zM186.5 275.5l0.4 3-0.4 1.1-0.4-2.1z"/>
<path fill="#798899" d="M389.3 25.5l2.2-0.4 1 0.6 0.5-0.2-0.5-1.1 6-0.6 3.6-1.3 4.7-1-5.3-1 16-0.3 3.5 0.3 0.5 0.6 9 0.1 6 0.6 8-1.3-11.6 22-3.2 5-4.7 10-1.2 1-2.3 4.6-4.5-5.6 0.8-1-0.3-0.4-1 0.6-10.6-10.2 0.1-1 1.9 0 8.6 7.5 1 0.5 0.3-1-7.3-6.3-1.3-1.7-2.7-1.5-11-8.6-5-3.3-2 1.6-1.7-2.2 0.7-0.5 1 1.1 1 0.1 0.2-0.7-2.4-2 0.2-0.5 3 1.1 16 10.7 4 4.2 6 4.1 5.9 5.4 1.1 0.1-0.1-1.1 0.7-1-1.7 0-8.9-8.6-4-2.1-7-6-1-0.1 0-1 0.5-0.2-1.7 0 0.4-1-11.1-6zM417.5 53.5l0.9 1-0.4 1 0.5 0.4 1-0.4 1 0.8 0.3-0.8-2.3-2.3zM202.7 23.5l0.2-1 2-1 2.6-0.3 16 1.4 23-1.1 42 0-21.7 40-5.9 9-1.4 3-1.8 2-3 6-2.2 1.7-5-2-4-0.4-4-2.7-4-0.7-3-2.8-3-0.8-3-3.1-2.8-1.2-1-1-1-2 0.2-1 1.6-1.6 1 0.4 2 2.2 1 0.3 3-0.9 2 1.9 1.7-0.3 3.7-6-0.4-2.2-1.6-2.8-3.4-2.8-3-3.9-8.2-7.3-14.9-16zM241.5 67.9l-1.6 0.6-0.6 1 0.2 2 1 0.8 1 0 2.4-1.8-1.1-2zM246 70.5l0.3 4 0.9 2 1.3 0.9 1-0.4 4 0.9 1.1-0.4 1.5-2 0.1-1-3.7-5.2-1-0.5zM358.5 22.4l4.8 2.1 0.2 1.1 1-0.2-0.1 1.1 3.4 3-1.3 0.2-2-0.6-2 0.4 4 2.1 3 0.9 0-1.2 3 1.6 2 1.7 4 1.7 4 3.6 0.8-0.4-1.2-1 0.4-0.4 1 0.3 9 7.5 12 11.4 0-1.2-13.8-13.6 0.8-0.4 8 7 0.4-0.6-0.9-1 0.5-0.3 2 1.7 0.6-0.4-1.6-2-2-1.4-1 0.8-0.4-0.4 0.7-1-1.3 0.4-0.3-0.4 0.5-1-1.2 0.3-1.1-1.3-1.9-0.8 0-1.3-1 0.5-3-2.7-2-1.2-1 1-6.7-5.5 0.7-0.5 1 1 0.5-0.5-1.5-1.7-1 0.6 0.2-1.9-0.8-1 0.6-0.3 3 1.8 17 13 21 20.1 1 0.4 0.4 2-1.3 1 0.1 1-7.8 14-3.3 5-1.6 1 0.2 1-0.7 0.7-4-2.9-2-0.8-2-2.1-1 0.3 0-1.3-1 0.4-6.4-6.3 0-1-1.8-1-7.3-7 0.6-1-1.4 0-0.3-1-3.3-3-0.8-2-3.1-3-0.8-2-4.4-4.5-0.7 0.5 0.9 2-1.2-0.4-0.3-1.6-0.7-0.5-0.1-2.5-1.2-2-0.7-3.5 10.4 11.5 9.5 12 7.4 8 11.7 10.3 3 2 1.4-0.3-7.7-6-1.4-2-4.3-3.3 0-1.4 3.5-1.3-1.5-0.4-1 0.9-2 0.6-7-7.1-16-19.4-6-5.7-1.3-2.9-1.1-6-1-2 0-2-1.1-2zM383.5 39.9l-0.2 0.6 2.2 1.7 0.3-0.7zM410.9 60.5l0.3 1 1.3 0.5-0.4-1.5zM412.5 59.4l1.1 1.1 0.1-1zM367.5 49.5l-1.4 0 0.4 1.3zM382.5 33.9l0 0.9 2 1.1 0.4-0.4-1.4-1.4zM404.5 53l-0.4 0.5 2.4 2.3 0-1zM404.7 57.5l0.8 1 0.2-1zM405.6 58.5l2.9 3.2 0.7 1.8 1.6 0-0.3-1.3-1.3-0.7-2.7-3.2zM415.5 68.1l-0.7 0.4 0.7 0.8zM407.5 63.9l-0.4 0.6 0.4 0.6 0.8-0.6zM352.5 23.1l1 0.7 0.7 1.7-0.7 0.7-1-0.6zM452.5 23.3l2 0 0 3.6-1.4-0.4-0.9-2zM302.5 25.3l0.1 2.2-5.1 7.9-2 1.3 0.7-2.2 3-5zM384 28.5l0.9 0 0.6 1 1.2 0-1.2 1.1zM454.5 28.2l0 1.5-1 0-2 2.4 0.1 1.4-1.4 1-0.2 1-1.5 1.3-0.5-0.3-0.5-1.9-0.5-0.1 0.5-0.6 0.2 0.6 1 0 0.6-1-0.8-1 2.6-1 0.4-2.4 0.7-0.6zM374.1 31.5l0.4-0.4 1.8 1.4-0.8 0.4zM389.7 32.5l0.8-0.5 2 2.2 1-0.2 3 2.9 1 0.1 8.4 7.5-0.4 0.7-1-1-1 0.6-0.3-0.3 0.5-1-1.2 0.4-3-3.2-1-0.2 0-1.2-1 0.4 0-1.5-1 0.6-1.8-2.3-1.2 0.1 0-1.4-1 0.5-2-2.3-1 0.2zM376.3 33.5l0.2-0.6 1.3 0.6zM308.5 36.2l1.2 2.3-0.2 0.8-2 1.7-1.6 0.5 0.2-2 1.6-3zM446.5 39l0.6 0.5-1.6 1.8-0.7-0.8zM443.5 42.1l0.5 1.4-3.1 4-0.4 1.3-0.7-0.3 1.6-4 0.9-1-0.2-1zM349.5 43.1l1 0.6 1.6 3.8 3.2 10 2.5 11 0.1 3-0.4 0.3-3.3-8.3-5.1-18zM168 44.5l0.5-0.4 4.5 5.4 12.5 17 9 10.9 8.9 9.1 6.1 5 8.8 5 7 2 4.2 0.3 7-0.8 2-0.9 1-0.1 0.2 0.5-7.2 2.6-8 0.2-6-1.4-9-4.8-7-5.8-9.5-9.8-8-10zM179.5 45.5l9 8.5 15.5 16.5 6.7 6 8.2 6 5.1 3 7.7 3 5.8 1.2 7 0 4-0.7 0.3 0.5-3.3 1.2-4 0.7-9-0.3-7-2.1-9-4.8-8-6-9.1-8.7-20.1-23zM448.5 46.4l1 0.5 0.1 0.6-1.1 1 0 1-1-0.2-0.5-0.8zM285.5 46.9l0 1.2-1.7 3.4-8.3 11.3-0.1-1.3zM139.5 48.7l1 0 0 10.4-1 0zM447.5 49.8l0.3 0.7-1.3 1.7-1 0.1-0.5-0.8 1.2-1 0-1zM315.5 50.1l2 3.6 1 3.2-1 0.4-1.2 2.2-2.4 7-0.3 6-7.1 20 0.2 1-5 17-5.7 13-4.5 14-4.6 8-3.3 10-4.2 7-3.8 9-4.1 5.6-3.4 6.4-6.9 9-4.7 4.6-3 1.8-4 1.2-2 1.7-8 4.3-3 0-4-1.6-5 0.5-4-3.2-4-0.9-3-3.3-3-1.7-5-5.4-9.6-13-9.9-18-5.8-13-1.2-4 0.7 0 0.5 2 7.2 15 9.1 15.8 7 9.9 5 5.9 3 2.3 2 2.5 4 1.8 3 3 5 0.2 4 2.4 2-0.2 5-2.2 7-1.8 4-1.9 7-7.5 5.8-7.2 7.6-11 3.6-6.9 3-4.3 5-11.8 4.4-8 3.2-10 6.2-15 3.8-14 5.2-15 3.1-11 3.4-8 3-17zM167.5 51.4l0.5 1.1-0.5 0.5zM293.5 51.3l-0.3 2.2-3.2 5-2.5 2.4-0.9-0.4 3.4-6 2.5-2.8zM445.5 52.8l0 1.1-1 1-1 0.1-0.3-0.5 1.1-1 0-1zM454.5 52l0 16.5-2 0 0 1-1 1.4-2.4-0.4 1.7 2-0.3 0.4-2-0.1-1-1.7-1.1 0.4-0.4-2 1.4-1-0.4-1 2.3-5 1.2 0.6-0.2-3.6 1.2-3 1 0.2-0.2-2.2 1.2-2.5zM448.5 68.7l-0.8 0.8 0.8 0.5 0.4-0.5zM168 53.5l0.5-0.5 8.8 14.5 11 16 8.2 10 7.4 7 7.6 5.1 6 2 8 0 3-0.8 3-1.5 1.4 0.2-2.4 1.5-5 1.9-3 0.5-5 0-5-1.3-7-3.9-8.5-7.7-9-11-10.8-16zM442.5 57.4l0-1.2 1 0.1zM372.5 59.1l2.5 2.4-0.2 1-2.3-2.4zM302.5 60.7l0 1.8-1.6 5-2.4 5.3-2 2.5-1-0.7-0.2-1.1 0.8-4 3.4-6.6 2-2.4zM344.5 62.2l-0.9-0.7 0.9-0.8zM168.5 62.2l0.4 1.3-0.4 0.3zM335.5 62.2l1.4 2.3 0.1 3-0.5 1.4-1.4-5.4zM345.5 62.2l0 0.9-1 0.6 0.3-1.2zM169.5 64.1l0.4 1.4-0.4 0.3-0.4-1.3zM369.5 64.7l3.4 4.8-1.9 2 1.6 1 0.9 2.4 3 2.3-0.3 1.3 1.3 0.9 1.4 0.1 3.9 4-0.3 1 1-0.2 0 1.2 1-0.2 5 5.2 1 0.1 1.8 1.9 1.2 0.2 4 2.8 3 0.7 0.2 1.3-2.2 2.6-2 1.4-6-1.7-8-4.1-6-4.5-1 0.5 0-1.2-1.2-2-2.2-7-1.9-12 0.5-1-1.2-0.7-0.4-2.3zM170.5 66l0.5 1.5-0.5 0.3-0.4-1.3zM323.5 66.4l2 4.3 0.4 2.8-8.1 29-11.7 37-8.9 24-9.1 20-3.6 5.7-4 8.4-3.3 3.9-4.7 7.6-4.7 4.4-0.3 1.2-7 7.7-6.4 5.1-4.6 2.7-3 1-3-0.4-1.7-1.3 1.7-1.8 15.9-9.2 9.7-8 3.1-6 4.3-6 8-14.6 3-7.4 5-10 10.2-27 10.8-34.1 9-32.5 0.6-6.4zM139.5 67l1 0 0.3 4.5 0.4 94 0.6 2 0.5 71-0.7 1 0 13 0.9 2.1 3.4 1.9 3.6 9.8 0 1.2 1 0.8 1 0.1 0.4-0.9 0.6-14.7 4.2 12.7 5.5 10 3.3 3.5 3 2.3 1-0.2 1 1.1 3 1.2 1-0.3 1 0.7 1-0.4 1 0.9 2-0.3 1 1 1-0.5 1 0.8 2-0.3 2 1.1 2-0.7 1 0.9 3-0.3 1 1.1 2 0.2 1-1.4 1 1.2 4 0.4 1-1.6 2 2.2 4 0.2 1-0.4 1-1.4 1 1.6 5 1 4-0.8 1-2 3 2.1 8-0.2 6-1.1 9-3.1 4.3-2.5-0.3-0.6-2.5-0.4 0.8-1 7.6-5 4.1-3.7 7.5-8.3 4.2-6 5.6-9 12.2-23 5.1-12 2.7-5 11-28 11.2-34 10.9-40 2.6-11 1 1.1 4.4 10.9 7 14 8.3 14 13.8 19 10.9 13 13.7 18 6.9 10 0 2.5 1-0.9 1.7 4.4 0.9 1-0.8 2 0.1 2 0.5 0 0.6-1.9 0.4 0.9-0.7 3 0.9 1 0.2 2 5 12 8.1 17 8.1 14 8 11 7 7.1 4 3.1 3 1.3 6-0.4 0 39.9-315 0zM402.5 200.9l-0.4 0.6 0.4 1.4 0.5-1.4zM363.5 67.3l0.4 2.2-0.4 1zM171.5 67.9l0.5 1.6-0.5 0.2-0.4-1.2zM172.5 69.8l0.8 1.7-0.9 0-0.3-1zM173.1 72.5l0.4-1 11.8 20 7.2 10 4 4.6 5.7 5.4 4.3 3 4.3 2 3.7 1 4 0.3 6-1.1 7-3.9 5-4.2 6.5-7.1 7.1-10 1.4-1.4 0.8 0.4-6.3 9-7.3 9-9.2 7.7-8 3.1-9-0.3-5-1.9-5-3.1-9.5-9.5-9.8-14zM274.3 73.5l-2.4 3-2.4 1.6-0.5-0.6 4.5-4.2zM284.8 75.5l0.1 1-1.3 2-3.1 0.8-0.5-0.8 2.5-2.4zM444 75.5l1.7 0-1.2 0.4zM171.5 77.2l0.4 1.3-0.4 0.5zM434.2 77.5l2.3 0.8 0 0.7-1 0.1zM297.5 78.3l0.3 1.2-5.5 14-6.3 19-4.2 9-3.6 10-7.3 15-7 11-3.9 4-2.5 4.3-7.7 8.7-5.3 4.4-6 1.8-5 2.6-2 0.2-4-1.3-4 0.6-4-2.3-3-0.6-3-2.6-2-0.9-5-4.6-8.6-10.3-6.9-11-10.7-22 0.2-1.9 7.6 15.9 6.3 11 7.1 10 8 8.5 5 4 3 1 3 2.2 4 0.1 3 1.4 2-0.1 4-1.7 6-1.1 5-3.9 9-8.8 7-7.9 6.1-10.7 6.9-14.4 3.6-9.6 3.4-7 10-27.4 2.1-7.6 2.9-2.2zM172.5 79.3l0.4 1.2-0.4 0.6zM348.5 79.1l1.5 0.4 2.9 5 4.3 10-0.3 1 0.7 1-1.8 1-1.3-1.2-3.6-7.8-2.5-8zM173.5 81.3l0.4 1.2-0.4 0.7-0.4-1.7zM283.3 81.5l-6.5 14-3.2 9-7.2 16-7.3 14-4.9 8-4.9 6-10.8 10.6-10 4.3-8 0.1-6-1.7-5-2.8-6-5-6.6-7.5-4.8-7-7-12-5.9-12-0.2-1 0.5-0.5 5.7 11.5 9.2 15 7.1 8.9 5.4 5.1 4.6 3.3 6 2.7 7 0.8 4-1.5 3-0.3 3.6-2 9.5-8 5.9-7.6 11.9-20.4 3.1-7 4-7 3.1-9 3.6-7 2.9-10 2.4-0.6zM433.2 81.5l0.3-0.5 1.3 0.5-0.3 0.6zM270.5 82.5l-8.8 16-6.3 10-9.9 12.8-12 9-8 2.7-6 0.2-6-1.2-6-2.8-6-4.1-5.8-5.6-5.7-7-5.9-9-6-11-3.1-7 0.7 0 4.5 9 8 13 5.1 7 5.6 6 4.7 4 6.9 4 6 1.8 6 0.5 8-2 11-7.5 10-12.1 6.6-9.7 6.4-12.7 0.9-3.3 3.1-1.4zM329.5 82.1l0.2 1.4 0.8 0.4 0.3 1.6 0.9 1 0.7 3-7.5 29-10.8 39-11.5 34-7.4 18-8.7 17.2-8.4 12.8-6.6 7.5-5.5 4.5-3.5 1.8-3 0.5-1 0.9-1-0.2 0.4-2 2.6-2.8 2-1 12-14.2 3-5.9 3.7-4.1 4.3-9.8 4-5.5 3.6-10.7 4-6 4.5-15 3.9-7.6 1.9-5.4 4.1-15.9 6.9-19.1 3.1-14.2 7.4-27.8zM174.5 83.3l0.5 1.2-0.5 0.7-0.4-1.7zM360.5 82.9l1.4 1.6 1.1 3-0.5 0.5-2.2-2.5 0.3-1-0.7-1zM432.1 83.5l1.6 0-0.2 0.6-1-0.1zM433 86.5l-3.2 4-4.3 2.2-3-0.2 7-7.7 2-0.3zM454.5 89.5l0 4.6-1.4 0.4 0.4 0.8 1 0 0 0.6-1 0-0.9 1.6-1.1 4-1.3 1 0.4 1-1.3 3-0.8 0.6-0.5-1.6 1.2-1-0.4-2 1.1-1 0-1 0.9-1-0.3-2.8-2.1 4.8-0.7 3-2.2 3.7-5.8 13.3-6.4 12-9.8 14.9-3 3.5-1-0.5 0.4 1.1-0.4 0.4-1-0.6 0 1.5-1-0.5 0 1.4-1-0.4 0 1.3-1-0.3-5 4.6-3 2-5.6 2.6-4.4 1.4-1-0.2-1.6-3.2-0.4-3.5 3-0.9 6-4 7.3-7.6 5.1-7-0.4-1-1 1.4-0.6-0.4 7-11 6.8-13 5.8-13 0.3-2 1.7-3 0.3-4 9.7-3.5zM417.5 135.6l-1.9 2.9 1.1 0 1.2-2zM418.5 134l-0.7 1.5 0.7 0.2 0.4-1.2zM421.5 129.2l-0.5 1.3 0.5 0.3zM451.5 94.3l-0.8 2.2 0.8 0.3 0.4-0.3zM452.5 92.2l-0.7 1.3 0.7 0.4 0.4-0.4zM336.5 90.8l8.1 18.7-0.1 1.8-8.9-19.8zM174.5 93.1l0.4 1.4-0.4 0.5-0.4-1.5zM431.5 94.3l0.6 0.2-0.6 1.4zM175.5 95.2l0.4 1.3-0.4 0.7-0.4-1.7zM429 95.5l-12.2 19-4.3 5.4-6 6-5 3.9-5 2.8-9 2.6-1-1-0.8-1.7-0.2-3.4 2 0.1 3-1.2 6.9-4.5 5.1-4.5 7-8.6 4.3-6.9-0.3-0.7-3 4.1-0.6-0.4 3.1-6-0.5-0.4-2 2.4-0.4-1 0.3-1 1.6-1 10.5-3.3 5-1.1zM414.5 101.5l-0.6 1 0.6 0.3zM364.5 96.5l1.8 3 1.7 5 0.2 2-0.7 1.1-2.4-4.1-1.9-6zM430.5 96.4l0.4 1.1-0.4 0.6zM176.5 97.3l0.4 1.2-0.4 0.9-0.4-0.9zM345.5 98.2l1 0.6 2.5 3.7 3.5 7-2-1-2.2-3-2.8-5.7zM402.9 98.5l0 1-2.4 1.7 0-1.2 1-1zM177 99.5l0.5 0 9.7 18 10.3 14 7.1 7 4 3 5.9 3.1 5 1.2 7-0.6 7.6-3.7 6.4-5.1 7.3-7.9 4.7-6.3 0.8 0.3-6.3 9-4.3 5-10.2 8.4-2 1.1-7 2-8-0.8-5-2.1-6-4.2-5.6-5.4-5-6-9.8-15-5.7-11zM377.1 99.5l0.4-0.4 2 2 1.6 0.4 0.4 0.9 1.7 0.1-0.7 0.9-1 0.1-0.6-1-1.4 0.3-1.5-1.3zM429.5 100.3l0-1.7 0.5 0.9zM453.5 99.8l1 0 0 2.2-1 0-0.3-0.5zM428.5 102.3l0-1.7 0.5 0.9zM427.5 102.4l0.5 1.1-0.5 0.7zM263.5 103.2l0.4 0.3-0.4 1.4zM383.7 103.5l2.2 0-1.4 0.6zM452.5 102.5l1 1.6 1 0 0 1.5-1 0-1.1-1.1zM426.5 104.4l0.5 1.1-0.5 0.9zM175.5 105.1l0.4 1.4-0.4 0.5zM262.5 105.1l0.5 0.4-0.5 1.4-0.4-0.4zM398.9 105.5l-9.4 8.9-7 4.4-1.2-1.3 0.2-1 6-3.7 7-6.3 2-1.3zM451.5 105.3l2 2.6 1 0 0 3.1-1 0-0.3 0.5 0.3 0.6 1 0 0 39-1 0-2.9 6.4-1.1-0.3-3 6-2 1.7-4 5.1-4 3.2-2 2.8-2 1-5 4.2-7 3.3-7 1.6-5 0.1-5-1.1-1.5-2.6-0.8-3 0.3-0.7 3 0.4 6-1.2 6-3 9-7.3 7-8.5 0-1.3-6 6.8-3 2.8-1 0 7.6-9 8.8-14 7-14 5-11 1-4 0.9-1 0-1-1.7-4 0.4-0.2 1 1.2 0.5-1-0.1-1-1.6-2zM433.5 156.4l-0.6 1.1 0.6 0.3 0.6-1.3zM426.4 106.5l-8.4 16-9.1 13-10.4 10.7-1 0.2-2 2-1-0.1-3 1.9-0.6-0.7 0.6-1-1.7-2 0.7-2 3.1-1 3.9-2.2 9-7.8 8.5-10 6.1-9 4.1-7 0-1zM396.9 145.5l-0.4-0.6-4.9 2.6 1.9 0.2zM398.2 143.5l0.3 0.6 1-0.4 0-1zM176.5 107.4l0.4 1.1-0.4 0.9zM261.5 107.1l0.5 0.4-0.5 1.4zM378.9 107.5l0.6-0.8 3 0.9 5 0.3 0.2 0.6-3.2 1.3-4 0.6-1.3-0.9zM446.9 107.5l1 0 0.6 1.4-1-0.1zM409.3 108.5l-1.2 1 0.4-1.1zM260.5 109.1l0.4 0.4-0.4 1.2zM177.5 109.7l0.4 1.8-0.4 0.2-0.4-1.2zM446.5 109.8l0.9 0.7-0.2 1-0.7 0.3-0.5-1.3zM178.5 111.9l0.5 1.6-0.5 0.4-0.4-1.4zM445.5 112l0.6 1.5-0.6 0.7-0.5-0.7zM258.5 114.2l-0.4-0.7 0.4-0.9 0.4 0.9zM359.5 112.8l4.2 3.7 0.8 2-3-0.7-1.3-1.3-0.9-2zM451.5 113l0.4 1.5-0.4 0.7-0.4-1.7zM258.1 114.5l-4.6 7.9-0.4-0.9 4.4-7.2zM444.5 114.4l1 1.1-1 1.2zM450.5 115.4l0.5 2.1-0.5 0.2-0.4-1.2zM370.5 117.3l1 0.6 0.9 1.6-0.9 1.6-1.7-1.6-0.3-1zM443.5 117l0.8 0.5-0.8 1.3-0.4-1.3zM449.5 118l0.4 1.5-0.4 0.5-0.4-0.5zM442.5 119.1l0.6 0.4-0.6 1.4-0.4-1.4zM177.5 119.8l0.4 1.7-0.4 0.3zM448.5 120.2l0.4 0.3-0.4 1.6zM441.5 121.3l0.5 1.2-0.5 0.3zM178.5 122.1l0.4 1.4-0.4 0.7-0.4-1.7zM440.5 123.3l0.5 1.2-0.5 0.3zM447.5 124.5l0-2 0.4 1zM179.5 124.3l0.4 2.2-0.4 0.1-0.4-1.1zM363.9 125.5l0.6-0.6 3.2 2.6-1.2 0zM358.5 128.6l4.7 7.9 0.5 3 1.5 2-0.7 0.5-1.1-1.5-0.1-2-2.4-3-2.8-6zM374.5 129.4l1.7 2.1-0.7 1.7-2-2.7zM178.5 132.4l0.4 1.1-0.4 1.2zM179.5 135l0.4 1.5-0.4 0.7-0.4-1.7zM395.2 136.5l1.3-0.4 0.4 0.4zM180.5 137.4l0.4 2.1-0.4 0.3-0.4-1.3zM392.4 137.5l1.1-0.5 1.2 0.5-1.2 0.4zM387.9 138.5l1.6-0.5 2.2 0.5-3.2 0.4zM181.5 139.9l0.5 1.6-0.5 0.7-0.5-1.7zM370.5 140.1l2.7 3.4 0.8 2-0.5 0.8-1-0.1-1.4-1.7-1.2-4zM412.5 141.2l0.6 0.3-1.6 2.3-0.5-0.3zM379.5 144.5l1.6 2 0.4 2.3-1 0.1-1.3-2.4zM179.5 145.9l0.4 1.6-0.4 0.7zM372.5 147.5l1-0.8 1.7 1.8-0.7 0.8-1-0.4zM180.5 148.5l0.4 2-0.4 0.5-0.4-1.5zM380.8 150.5l0.7-0.6 1 0.6-1 0.6zM181.5 151.1l0.4 1.4-0.4 1.2-0.4-2.2zM182.5 153.8l0.5 1.7-0.5 0.8-0.4-1.8zM183 156.5l0.7 0 0.4 2 6.2 14 10.2 19.9 8 13 2.8 3.1 2.2 3.6 3.1 2.4 2.6 4-1.7 0.1-2-1.4-3-4.5-2.4-2.2-9.1-14-5.9-11-6.1-13-5.7-14zM378.5 158.2l2.1 2.3 0.4 1-0.5 0.5-2.3-2.5zM180.5 159.8l0.4 1.7-0.4 0.8zM385.5 160.2l1.5 2.3 0.5 2.4-1.5-1.4-0.7-2zM181.5 162.7l0.4 1.8-0.4 0.7-0.4-1.7zM182.5 165.4l0.5 2.1-0.5 0.6-0.4-1.6zM183.5 168.2l0.5 2.3-0.5 0.5-0.4-2.5zM184.5 171l6.8 17.5 7.2 16 11.5 22 3.4 4 1.2 3-0.1 1-2.4-2-2.4-5-2.6-3-7.9-15-7.1-16-8-21zM453.5 172.1l0-1.3 1 0 0 1.3zM454.5 172.9l0 25.3-1 0-4 3.8-5 3.7-5 2.3-1-0.7-0.5 0.2 0.5 1-3.9 0 0.3 1-0.4 0.1-0.6-0.1 0.5-1-0.9-0.1-2 0.9-8-0.5-9-3.9-3-1.8-2.5-2.6-0.1-2 0.6-0.6 4.1 2.6 3.6 1 7.3 0.1 0.4-0.1-0.4-0.9-1.2-0.1 2.2-0.1 1-1 2-0.1 10-6.5 7-7.5 6.8-9.8 0.5-2-0.3-1.2zM181.5 174.4l0.4 2.1-0.4 0.6zM182.5 177.4l0.4 2.1-0.4 0.8-0.4-1.8zM183.5 180.5l0.4 2-0.4 0.9-0.4-1.9zM184.5 183.5l0.5 2-0.5 0.9-0.4-1.9zM184.9 186.5l0.7 0 6.7 19 10.7 26 1.9 3 2 6 1.6 1.4 1.5 2.6 0.8 3-0.3 0.7-2.3-2.7-2.1-6-2.3-3-0.9-3-5.6-12-9.1-24zM182.5 189.9l0.4 1.6-0.4 1.3zM183.5 193.1l0.4 2.4-0.4 0.6-0.4-1.6zM184.5 196.4l0.4 2.1-0.4 1-0.4-2zM185.5 199.6l0.5 2.9-0.5 0.3-0.4-2.3zM453 200.5l1.5-0.4 0 0.7zM452.5 200.9l0.5 0.6-2.5 2.4-0.5-0.4zM186.5 202.8l10.6 31.7 1.9 4 0.9 3-0.4 1.7-4.3-10.7-7.1-21-1.1-5-0.8-1-0.2-2zM183.5 206.2l0.4 2.3-0.4 0.8zM405.5 206.3l0 1.7-0.4-0.5zM406.5 209.1l0 1.6-0.4-0.2zM184.5 209.7l0.4 1.8-0.4 1.4-0.4-2.4zM185.5 213.2l0.4 2.3-0.4 1-0.4-2zM415.9 215.5l0.6-0.9 5.2 4.9 5.8 4.1 4.3 1.9 4.7 1.1 7 0 4-1.1 0-0.5-3 0-1 1-5.7-0.5 4.7-0.7 8.2-3.3 2.8-2.3 1 0 0 14-6 1.5-4 0.2-5-0.7-5-1.9-6-3.5-6-4.9-3.3-3.4zM447.7 224.5l0.8 0.4 1.3-0.4-1.3-0.4zM186.5 216.6l0.5 2.9-0.5 0.5-0.4-2.5zM219.5 218.9l3 0.8 2.8 2.8 1 2-1.8 0.3-2-0.8-3.3-4.5zM187.5 220l1.6 6.5 0.8 1 0.2 2 4.7 14 0.2 2-0.5 0.5-7.3-23.5-0.2-2zM184.5 223.3l0.4 2.2-0.4 1.2zM227.7 225.5l4.8-0.3 6.4 3.3-1.3 1-2.1 0.5-3 0-2.5-1.5zM185.5 227.1l0.4 2.4-0.4 1.1-0.4-2.1zM414.5 227.3l0 1.5-0.4-0.3zM415.5 229.4l0 1.6-0.4-0.5zM186.5 230.9l0.4 2.6-0.4 0.8-0.4-2.8zM417.5 233.4l0 1.5-0.4-0.4zM187.5 234.5l0.5 3-0.5 0.6-0.4-2.6zM215.5 235.1l3.4 2.4 2 4-0.4 0.8-2-1-1.5-1.8zM418.5 235.4l0 1.5-0.4-0.4zM454.5 235.9l0 1.3-8 1.5-1.9-0.2 0.9-0.7zM419.5 237.3l0 1.6-0.4-0.4zM439.5 237.5l2-0.4 2.8 0.4-1.8 0.4zM188.5 238.1l0.5 3.4 0.8 1 1.1 4 0.1 2-0.5 0.4-2.4-8.4-0.1-2zM420.5 239.1l0 1.5-0.4-1.1zM185.5 241.3l0.4 2.2-0.4 1.4zM421.5 241l0 1.5-0.4-1zM431.6 241.5l0.9-0.4 8 6.5 5.5 2.9 3.5 1.1 5-0.2 0 9.2-1.4-0.1-5.6-3.5-5-3.9-6-5.8zM200.5 243.2l2.5 5.3 0.1 2-0.6 0.4-1.6-3.4-0.8-4zM422.5 242.8l0.4 0.7-0.4 0.8-0.5-0.8zM223.5 243.9l3 1.2 1.5 1.4 1.9 3-0.1 1-2.3-0.2-2-1.4-2.3-3.4-0.2-1zM186.5 245.3l0.4 2.2-0.4 1.5-0.4-2.5zM423.5 246.1l-0.5-0.6 0.5-1 0.4 1zM195.5 246.1l1.4 3.4 0.9 4-0.3 1.2-2.3-6.2-0.1-2zM424.5 246.1l0.4 1.4-0.4 0.3-0.5-1.3zM425 248.5l0.5-0.6 0.4 0.6-0.4 0.8zM187.5 249.4l0.4 3.1-0.4 0.6-0.4-2.6zM191.5 249l1.3 4.5-0.3 2.2-1.4-4.2-0.1-2zM426 249.5l0.5-0.2 1.4 2.2-0.4 1-1.5-2zM212.5 250l2.7 3.5 0.7 3-0.4 0.5-1-0.6-1.8-2.9-0.7-2zM234.5 253.5l1-1.3 4-0.2 7 2.3 1.1 1.2-2.1 1.6-6 0.6-3-1.4-1.7-1.8zM427.6 252.5l1 0 6.6 9 6.3 6.4 9.1 6.6-1.1 0.2-5-2.5-5-4.4-6.5-7.3zM188.5 253.3l0.4 2.2-0.4 1.5-0.4-2.5zM204.5 253.1l2.2 4.4 0.2 2-0.4 0.6-2.2-4.6-0.2-2zM198.5 255.2l1.5 3.3 0.5 4.4-2.3-5.4zM193.5 256.2l1.5 4.3-0.5 2.2-1.3-4.2zM189.5 257.4l0.5 3.1 0.7 1-0.2 3.1-0.5-3.1-0.8-1zM444.5 257.1l1 0.3 0 0.7-1.1-0.6zM186.5 260.3l0.4 2.2-0.4 1.6-0.4-2.6zM218.5 259.9l2 1.5 1.5 2.1 1 3-0.5 0.7-2-1.2-1.6-2.5-0.6-2zM448.5 259.6l4 2.2 2 0.2 0 1.2-2.8-0.7-3.2-1.9zM208.5 262.6l2.6 3.9 0.4 3.3-1-0.4-1.6-2.9zM201.5 264.1l1.7 3.4 0.3 3.9-1.6-2.9-0.7-3zM191.5 265.5l1.3 4-0.3 2.6-1.2-3.6zM196.5 266.1l1.1 3.4-0.1 2.6-1.5-3.6zM188.5 268.9l0 3.5-0.4-2.9zM447.4 269.5l1.5 0-0.4 0.5zM227.5 271.5l2 0.4 2 1.6 1.7 2 0.3 2-2 0.1-2-1.1-1.6-2-0.7-2zM213.5 273.5l1 0.4 1.8 2.6 0.8 3-0.6 0.8-2.6-3.8zM205.5 274.5l1.7 3 0.3 3.1-1-0.4-1.2-2.7-0.3-2zM194.5 276.1l0.5 2.4-0.5 1.4-0.6-2.4zM199.5 275.6l1.2 3.9-0.2 1.5-1.5-2.5-0.1-2zM190.5 277.1l0 3.3-0.5-2.9z"/>
<path fill="#758194" d="M203.8 23.5l1.7-1.7 2-0.5 17 1.5 12-0.5 5 0.4 7-0.9 39-0.1 0.5 0.8-21.3 39-8.2 13.2-1 0.2-5-7.7-1-0.4-3 1.7-3-0.6-3-2.4-2-0.3-2 1.1-0.6 1.2 0.2 3 1.4 3.7 1 0.6 2-1.1 2 0 2 3.9 2 1.1 5 0.4 2-1.1 0.1 1.5-1 2-1.1 1.2-1 0.2-4-2.1-5-0.4-4-3.4-4-0.2-3-3.3-3-0.4-1-0.8-2-3.8 3-1.9 1.6 0.9 1.4 2.4 1 0.2 5.1-5.6 0.6-3-1.7-4-2-2.8-3-2.1-3-3.9-7.4-6.2-7.9-9zM443.7 22.5l-1 1-12.1 23-1.9 2 0.2 1-3.1 5-1.3 3.7-1.9 0.3 0.9 1-2 2.9-1.2-1.9 0.2-1.4-1 0.5 0.4-1.1-0.4-0.4-1.2 0.4 0.6-1-0.6-1 1.1 0 2.1 2.1 1-0.1 0.3-1-2.5-3-10.3-9 0.5-0.9 2 0.8 12 10.1 0.4-1-0.5-2 1.2-2-2.7 0-5.3-6-2.1-1-1.8-2-2.2-0.3-5.8-4.7-0.2-1.2-1.1 0.2 0.3-1 0.8-0.3 6 3.8 12 9 0.6-0.5-2.2-2-0.4-1.2 5 3.3 1.1-0.1-0.5-1-7.8-6-3.8-2.1-0.6 0.1 0.5 1-0.9 0.2-14.2-9.2 1.2-1.1-1-0.2-1 0.7-2.4-1.4 1.2-1-1.8-0.1-0.1-0.9-1.3-1 7.4 0.2 5 1 4 0.1 0.8-0.3-2.4-1 1.6-0.8 3 0 4 0.8 4 0 2 0.7 5-0.1 1 0.8 4 1 2-0.6 1 0.6 2 0 0.5-0.4-2.5-1.7-5.7-2.3 2.7-0.2 6 1.3 2-2.1 1-0.4zM426 49.5l0.5 0.4 0.9-0.4-0.9-0.8zM359.5 23l4.4 3.5-0.7 2-1.7 1 1.4 1 0.4 1-0.5 1 0.7 0.4 4-0.4 5 0.8 5 3.8 12 11 10 10.7 1-0.4 0 1.4 1-0.8 2.4 2.5-0.4 1.3 1-0.7 2.2 2.4-1.2 1 0.2 1 1.1 0 0.7-0.6 1 0.3 0.8 1.3-0.8 0.4-0.1 0.6 0.9 0 0.2-0.6 0.7 0.6-0.7 0.1 0 1 0.8-0.1 0.2-0.7 0.4 0.7-0.4 1 1-0.4 1 2.2 1 0.4 1.7-1.2-5.9-6-0.4-1 0.6-0.5 0.9 0.5 3.1 3.8 3 2.1 0.5-0.9-6-7 0.5-0.5 6 5.7 0.6-0.2-0.4-1-4.8-5 0.6-0.7 4 4.2 0.5-0.5-6.5-7.2-0.9 0.2 0.3 1-0.7 0-2.9-3 0.2-0.7 1 0.2-0.2-1.5-6.6-6 0.8-0.3 6 5.3 0.2 1 3.8 2.8 8 7.8 0.3 1.4-1.5 1 0.3 1-1.3 2-1.4 1-0.3 2-8.1 13.9-1 0.3-8.6-7.2 0.3-1-2.4-1-3.1-3 4.1-2 0.7-1.1-2 0.5-1.7-0.4-3.7-3-1.6-2.3-1 0.8-1.6-0.5-5.4-5.8-12.4-15.2 1-1-0.6-1-1 1.4 0-1.2 1-0.2-3-3.1-0.7 0.1 0.7 1-1 0.3-2-1.4-1.2-1.9-0.1-3-0.8-1-0.3-3-0.8-1 0-2-1.2-2-0.1-3zM399.1 77.5l0.6 1 1.8 0.4 0.5-0.4-1.5-1.2-1-0.3zM391.3 26.5l1.2-0.4 1 1 1-0.1 4 3 1 0 2 1.5-1 0.5zM301.3 28.5l-2.8 5.2-1 1.1-0.9-0.3 3.9-6.3zM388.8 29.5l0.7-0.4 2 1 12 7.9 5.7 4.5 0.7 1-0.4 0.8-3-1.7zM380 30.5l0.5-0.4 1.3 0.4-0.3 0.6-1 0.2zM381.8 31.5l0.7-0.5 11 8.2 7.5 6.3-0.5 0.7-7-5-2-2.1-1 0.6 0-1.5-1 0.5 0-1.3-1-0.1-1-1.1-1 0.3 0.4-1-0.4-0.3-1 0.5 0-1.5-1 0.2-2-2.2-1 0.3zM401.6 32.5l0.9-0.5 0.5 0.5-0.5 0.5zM308.5 36.3l1 2.4-2 1.7-1-0.9zM364.5 44.1l13.3 15.4 8 10-0.3 0.9-2-2-1.1 0.1 0.5-1-4.8-4 0.4-1.2-1 0.5-0.4-0.3 0.6-1-3.5-3 0.3-1.3-1.3 0.3 0.6-1-3.4-3 0.3-1-6.2-5.7-0.4-2.3zM169 45.5l0.5-0.1 0.6 1.1-0.6 0.2zM350.5 45.3l1.4 2.2 3.1 10 2 9-0.5 1.6-4.8-13.6-1.7-8zM170.5 46.7l18.8 24.8 7.2 8.2 9 8.8 7 5.1 9 4.3 6 1.1 8-0.8 1.6 0.3-5.6 1.6-8 0-4-1-5-2.1-6-3.8-9-7.9-10.5-11.8-18.9-26zM139.5 49.2l1 0 0 1-1 0zM183.5 49.5l20.2 21 7.9 7 6.9 5 5 3 6 2.7 7 1.6 9 0.1 0.4 0.6-5.4 0.8-8-0.4-6-1.7-10-5.2-9-6.9-8.9-8.6-15.4-18zM283.5 49.8l0.4 0.7-6.4 9.4-0.4-0.4zM315.5 50.4l2 3.6 0.1 1.5-3.1 4.7zM139.5 52.5l1 0 0 2.5-1 0zM293 52.5l-1.8 4-1.7 2.3-2 1.2 0.7-2.5 2-3 2.3-2.3zM168.5 53.2l0.4 1.3-0.4 0.1-0.4-1.1zM454.5 55.4l0 10.5-1 0-1 1.8-2-0.4-0.6-2.8 1.3-1 2.2-8zM139.5 55.8l1 0 0 2.5-1 0zM170.5 56.3l0.5 1.2-0.5 0.4-0.5-1.4zM405.5 55.8l4.7 4.7 0.6 1-0.3 0.3-5.4-5.3zM171.5 58l0.7 1.5-0.7 0.2-0.5-1.2zM403.5 57.8l4.8 4.7-0.8 0.8-4.4-4.8zM172.5 59.6l4.7 7.9 11 16 8.2 10 7.3 7 5.8 4.1 7 2.9 3 0.5 6-0.1 5-1.9 0.7 0.5-6.7 2.5-7 0.3-5-1.3-7-4-8.4-7.5-9-11-13.8-21-2.2-4zM301.5 61.8l0.3 0.7-1.8 6-2.5 4.5-1 0.4-0.3-1.9 0.9-3 2.4-4.5zM223.5 64.9l1 0.3 0.7 1.3-0.3 2-1.6-1zM324.5 68.3l1.2 3.2-0.2 1.9-6.3 23.1-12 39-10.1 27-5.1 10-2.9 8-1.6 3-3 3.7-0.3-0.7 1.3-4 3-6.9 3.5-6.1 4-12 5.8-14 11-34 10-36 0.8-5zM449.5 67.7l1 1.1 0 1-1-0.5zM139.5 69.2l1 0 0.3 2.3 0.4 94 0.5 2 0.5 71-0.7 1-2 0zM389.5 69.5l1-0.4 3.3 3.4-1.3 0.1zM312.5 70.5l0.2 2-3.9 10-6 22-3.3 9-1.9 3-0.1 1.1-0.3-3.1 3.5-13 7.3-20 1.5-7.2 2-3.7zM385.6 70.5l0.9-0.3 4.1 4.3-0.1 0.9-1.6-0.9zM174.5 73.4l0.4 1.1-0.4 0.6-0.4-0.6zM371.5 72.9l4.3 5.6-1 1 0.7 0.2 1-0.7 9 8.7 5 4 7 4.3 3 0.8 0.1 0.7-2.1 2.5-2 1-8-2.6-5.3-2.9-7.7-5.6-1.1-1.4-2.4-8-0.9-7zM273.5 73.7l0 0.8-4 3.4-0.3-0.4zM175.5 75.2l0.5 1.3-0.5 0.5-0.5-1.5zM390.5 75.5l1-0.3 7 6.5 8 5.7 0.6 1.1-0.6 0.5-5-3.6-1-0.2-4-3.8-1 0.3-4.7-5.2zM284.3 76.5l-0.2 1-1.6 1.4-1 0.2-1-0.6 2-2 1-0.5zM176 77.5l0.5-0.5 8.7 14.5 10.3 13.6 8 7.6 7 3.8 4 1.1 4 0.3 6-1 10-6.1 9.5-10.3 1.5-2.2 0.8 0.2-7.8 10-9 7.5-8 3.2-6 0.1-3-0.4-5-1.9-5-3.2-8.5-8.3-8.8-12zM296.5 78.6l0.8 0.9-6.8 17.4-3.5 11.6-5.5 12.4-3.3 9.6-3.7 6.6-4 9.1-4 5.3-3 5.5-2 1.3-0.3-0.8 0.8-2 3.7-5 3.4-9 4.4-8.3 3.6-9.7 3.5-7 4.3-13 4.6-11 3.6-12 1.4-1.5zM349.5 79.7l4.1 6.8 2.8 8-0.9 1.4-2-2.3-2.7-6.1-2.1-7zM282.5 81.3l0.3 0.2-5.3 10.9-0.4-1.9 2.4-9zM270.2 82.5l-8.7 15.9-3.8 5.1-2.7 5-8.1 11-3.4 3.3-8 6.1-10 3.8-6 0.3-6-1.2-6-2.7-6-4.1-6.6-6.5-4.8-6-5.9-9-5.2-10 0.5-0.5 4.6 8.5 8.3 12 8.6 9 5.5 4.1 4 2 6 2 6 0.4 8-1.8 11-7.4 10.3-12.3 5.7-8 7.1-14 1.1-4 2.8-1.3zM174.5 83.4l0.4 1.1-0.4 0.6zM330.5 84.2l0.1 1.3 1.1 1 0.3 3-7 28-11.1 40-11.4 34-1.6 3-7.4 18.3-8 14.8-3 3.8-3.5 6.1-6.5 7.5-6 4.9-3 1.1-0.4-0.5 1-2 9.4-11 4.7-8 3.8-4 3.1-8 5.4-7.7 3.4-10.3 3.6-4.6 4.5-15.4 5.3-11 5.6-21 3.6-8.9 1 0-0.4-1.1 0.4-1.4 1-0.9 0-2.7 1-0.2 0.2-1.8-0.4-1 0.2-0.8 1-0.2-0.4-3 0.4-1.4 0.8-0.6-0.2-3 5.4-21.2 1 0.4 0-3.9 1 0.2 0.2-2.5 0.8-1 0.3-8zM175.5 85.4l0.4 1.1-0.4 0.6zM432.7 86.5l-1.5 1-0.8 2-1.9 1.6-3.2 1.4-2 0 2.2-3.1 2-2 1.8-0.9-0.4-1 1.6-0.6zM176.5 87.3l0.4 1.2-0.4 0.6zM177.5 89.2l0.4 1.3-0.4 0.6-0.4-1.6zM252.2 90.5l-5.7 7.9-0.4-0.9 3.3-5 2.1-2.4zM452.9 90.5l-2.3 2-1.1 2.6-1-0.4 0 2.5-1 0 0 2.3-1 0-0.2 2-0.8 0.6 0 2.8-1-0.9-0.3 2.5-2.7 4.7-0.4 2.3-1.6 2.4-1.3 3.6-9.3 17-8.1 12-8.3 9-6 3.7-10 4.1-1.5-2.8 0.1-2-0.6-1 3-0.2 2-0.9 1.7-1.9 1.3-0.4 5-5.3 7.6-9.3 8.7-14 13.1-28 0-1-0.7-1 0.3-1.3 0.4 1.3 0.6 0.4 0.5-1.4-1.2-3 1.7-1.1 7-2.2zM438.5 94l-0.4 0.5 0.4 1zM178.5 91.1l0.5 1.4-0.5 0.5-0.5-1.5zM336.5 91l5.5 13.5-0.5 0.5-5.5-12.5-0.1-1zM277.3 92.5l-0.8 1.5-0.1-1.5zM275.5 94.7l0.1 2.8-2.1 6-3 5.9-0.9 0.1-0.1 1.4 0.2-2.4 2.6-8zM454.5 276.5l0 39-315 0 0-65 2 0 0.1 3 0.6 1 3.3 1.7 1.2 2.3 1.3 5 1.5 10.2 2 7.7 2 5.3 1-0.3-2.7-10.9-1-6 1.2-2 0.5-14 0 1 1.1 1 0.1 2 0.8 0.9 1.1 5.1 0.9 0.9 0 1.1 2 2.9 1 3.1 1 0.9 0.1 1.1 0.9 0.6 0.3 1.4 4.7 4.7 1 0.1 1 1.2 1-0.2 1 1.2 3 1 1-0.2 1 1.2 1-0.7 1 0.7 2-0.3 1 1.3 1-0.4 1 0.4 2-0.2 1 1.2 2 0 1-0.6 1 0.6 3-0.2 1 1.2 2 0 1-0.8 1 0.8 2 0 1 0.9 1 0 1-2 1 2 6 0 1-1.6 1 1.7 2 0.9 7 0 1-2.6 1 0.2 2 2.4 2-0.9 8 0 1-1 4-0.1 1-0.9 2-0.1 1-0.9 2-0.1 1-0.9 2-0.1 1-0.9 1 0 2-2.5 4.1-2.5-0.1-0.7-3.1 1.7-2 0 9.1-7.5 7-7.8 1.1 0.3-0.5-1 2.4-2-0.1-1 1.8-2 4.9-8 10.9-21 3.1-5 5-12 5-10 3-9 5.9-14 4.1-14 5.8-16 13-47 1.6-7.6 1 0.9 3.4 8.7 7.9 16 8.3 14 13.9 19 10.9 13 17.7 24 1.7 4 1.1 1-0.3 2 0.8 1 2.1 7 10.8 26 1 1 1 3 0.9 1 3 6-0.2 1 1 0.2 3.5 6.8 0.5 0.1 8.9 12.9 7.1 7.6 7 5.3zM386.5 254.3l0 1.6 0.5-1.4zM387.5 256.4l0 1.6 0.4-0.5zM389.5 258.4l-1.1 0.1 0.1 1.7zM390.5 262.6l-0.5 0.9 2 4-0.5 1-1-1.7-0.5 0.7 0.1 1 0.9 1-0.1 1 1 1-0.9 1 0.5 0.5 1-0.3 1 0.6 1-0.5 2 1 1-1 2.6 0.7-1.4-2 0.1-1 0.7-0.2 0.9 0.2-0.4 1 0.9 1-0.2 1 3.1 0-1.3-0.5-1.3-1.5 0.4-1-1-1-1.1-2.7-1.3 0.7 0.7 2-0.4 0.9-1-0.4-1 1.1-0.4-0.6 1.2-1-0.8-2.1-0.8 0.1 0.6 1-1.8 1.4-0.3-0.4 1.1-2-0.8-0.1-1 0.7 0-2.2-1 0.3 0-2-1 0.2-0.4-0.9 0.4-1.1zM388.5 263.1l-0.4 1.4 0.4 0.3 0.4-0.3zM389.5 260.5l-0.4 1 0.4 0.9 0.5-0.9zM397.5 262.4l-1.1 1.1 0.1 1.4 1-1.4zM398.5 264.4l-1.3 1.1 0.3 1.4 1-1zM361 273.5l1.8 0-1.3-0.6zM389.5 264.9l-0.4 0.6 0.4 1.2 0.4-0.2zM428.7 95.5l-3.6 5-6.6 11-10 12-1 0.1-3 2.7-7 4.5-10 3.7-1-0.5-0.7-1.5 0.2-2-0.5-1.1 4.1 0.1 5.9-3 0-1 1.3 0 1.7-2.2 1 0.3-0.2-1.1 3.2-2.6 3-3.6 8.5-11.8 2.6-5-1-1 7.9-2.5 4-0.8zM364.5 97.5l1.7 2 1.8 6-0.5 1.4-1.3-1.4-1.3-3-1.1-4zM402.5 99.4l-2 1.6-0.2-0.5 1.2-1.3zM177.5 99.6l0.4 0.9-0.4 0.9zM346.5 99.7l3.5 4.8 1.8 4-0.3 0.4-3.1-3.4-2-4zM377.8 100.5l0.7-0.4 0.6 0.4-0.6 0.9zM379.4 102.5l0.2-1 1.4 0zM178.5 101.7l0.4 0.8-0.4 1-0.4-1zM381.7 102.5l1.3 0-0.5 0.7zM179.5 103.7l0.4 0.8-0.4 1.1-0.4-1.1zM342.5 105.1l0.4 1.4-0.4 0.5-0.4-1.5zM398.5 105.5l-6 6-6 4.7-4 2.2-0.9-0.9 0-1 6.4-4 6.6-6 1.9-1.3zM180.5 105.6l0.7 1.9-0.7 0-0.4-1zM425.5 106.4l0.4 0.1-0.4 1.7zM378.9 107.5l0.6-0.7 3 1 4 0.1 1 0.6-3 1.2-4 0.6-1-0.8zM181.5 107.5l0.5 1-0.5 1-0.4-1zM424.5 108.3l0.6 0.2-0.6 1.7zM181.6 109.5l1 0 2.6 5 8.1 12 8.9 10 7.8 6 4.5 2.3 5 1.3 8-0.9 8-4.3 6-5.4 9-10.4 0.5 0.4-4.1 6-4.4 5-10 8.2-2 1.1-7 2.1-7-0.5-6-2.4-3-1.9-8.5-7.6-10-13zM424.2 110.5l-6.4 12-6.1 9-1.2-0.3 0.4 1.3-2.4 3.2-1-1.2-0.3 1 0.6 1-0.3 0.4-1-1-0.5 0.6 1 1-7.5 7.6-4 3-1 0-3 2-0.5-0.6 0.7-1 3.8-1.8 4-2.8 4.5-4.4-0.5-0.5-7 5.8-5 2.6-1 0.1-0.6-1 0.6-1.8 3.5-1.2 3.5-2 7-5.8 9-10.5 1.1 0.3-0.5-1 5.3-7 4.1-7.3zM405.5 137l-1.5 1.5 0.5 0.4 1.5-1.4zM269.1 111.5l-3.1 9-6.7 13-6.8 10.7-14 14.5-2 1.2-4 0.9-5 2.6-4-0.7-4 0.6-2-1.2-4-0.9-5-3.1-4-3.3-6.6-7.3-3.7-5-7.9-13-3.3-7 0.5-0.4 2.7 5.4 8.1 13 9.2 11.1 8 6.4 6 2.9 3-0.2 3 1.3 5-1.9 3-0.1 2-0.7 11.9-9.8 3.2-4 13.9-23 3.7-8 2.3-3.5zM179.5 114.1l0.4 1.4-0.4 0.4-0.4-1.4zM359.6 114.5l0.9-0.9 3.3 3.9-1.3 0.6-2.1-1.6zM454.5 113.5l0 4.9-1 0-0.5 1.1 1.5 0.3 0 23.7-1 0-0.8 4-5.2 9.9-6 8.3-1 0.4-2 2.9-1 0.3-2 3.4-2 1.2-3 3.2-7 4.9-7 3-4 0.7-4 0.1-5-0.9-1.4-2.4-0.6-3.3 3 0.5 4-0.3 5-2 4-2.3 5-3.9 5.7-5.7 6.9-9 6.6-11 9.8-20.1 0.4-1.9-1-2 2.6-8zM452.5 120.2l-0.9 2.3 0.9 0.2zM180.5 116.2l0.4 1.3-0.4 0.5-0.4-1.5zM256.5 116.1l0.4 0.4-0.4 1.1zM181.5 118.2l0.4 1.3-0.4 0.6-0.4-1.6zM370.5 117.6l1 0.5 0.8 1.4-0.8 1.3-1.5-1.3-0.3-1zM182.5 120.2l0.5 1.3-0.5 0.6-0.5-1.6zM293.5 125.5l0.5 2-2.5 8-2 3.3-0.7-1.3 0.6-3 2.1-5.9zM181.5 129l0.4 1.5-0.4 0.5-0.4-1.5zM358.9 130.5l0.6-0.2 1.5 2.2 2.1 5-0.6 0.2-1.5-2.2zM374.5 129.6l1.5 1.9-0.5 1.3-1.4-1.3-0.3-1zM446.5 130.2l0.6 0.3-0.6 2.2-0.9-0.2zM182.5 131.1l0.4 1.4-0.4 0.7-0.4-1.7zM183.5 133.2l0.5 1.3-0.5 0.9-0.5-1.9zM445.5 132.6l0 2.8-0.5-0.9zM183.9 135.5l0.7 0 9.7 18 7.1 10 8.1 8.7 5 4.1 3 1 2.6 2.2-2.6 0.6-4-3.2-2-0.7-9.6-9.7-5.9-8-4.9-8-5.7-11zM388 138.5l1.5-0.4 1.9 0.4zM181.5 140l0.4 1.5-0.4 0.6-0.4-1.6zM370.5 140.5l2.4 3 0.6 2.3-1 0.2-1.2-1.5-1.2-3zM182.5 142.4l0.4 1.1-0.4 1.1-0.4-1.1zM183.5 144.8l0.5 1.7-0.5 0.5-0.4-1.5zM379.5 145.1l1.4 1.4 0.5 2-1 0-1-2zM285.3 146.5l-1 5-1.5 4-4.1 6-3.2 9-4.2 6-3.2 6-6.6 8.9-2.9 3.1-3.1 2.5-3 0.9-0.6-0.4 12-15 3.6-5.7 4-5 3-6.2 5.2-7.1 0.5-3 3-7 1.3-2.1zM184.5 147l0.5 1.5-0.5 0.7-0.5-1.7zM373 147.5l0.5-0.4 1.5 1.4-0.5 0.6-1-0.4zM185 149.5l0.7 0 5.6 12 8.2 14 7.8 11 4.2 5 2 1.1 2.4 2.9-0.1 1-2.3-0.9-2.4-3.1-2.6-2.1-9.4-12.9-9-16-4.7-10zM182.5 154l0.4 1.5-0.4 0.6zM183.5 156.4l0.4 1.1-0.4 1.3-0.4-1.3zM378.5 158.4l1.3 1.1 0.7 2.1-1-0.4-1.2-1.7zM184.5 159l0.4 1.5-0.4 0.7-0.4-1.7zM258.9 160.5l-0.3 2-1.1 2.3-8.2 9.7-4.8 3.9-2 0.7-2-0.2-0.3-0.4 14.8-14 3.5-4.1zM385.5 160.5l0.2 1 1.2 1-0.4 1.5zM185.5 161.3l0.5 2.2-0.5 0.3-0.4-1.3zM186.5 163.8l3.6 8.7 8.1 16 6.3 11 2.3 3 1.3 3-0.6 0.4-2.1-2.4-4.3-7-5.9-11-9-20zM184.5 171.1l0.4 1.4-0.4 1.1-0.4-2.1zM185.5 173.8l0.4 1.7-0.4 0.8-0.4-1.8zM454.5 175.2l0 19.6-1 0-6 6-7 4.7-6 2.3-3 0.7-5 0.1-1-0.7-1 0.3-3-0.6-6-2.5-4-2.2-2.3-2.4-0.3-1 0.6-1 3.5 2 3.5 1.2 8 0.5 3-0.5 6-2.5 6.5-4.7 0.9-1-0.4-1.2 1.5 0.2-0.8-1 0.3-0.3 1 0.7 1-0.3 0.6-1.1-1-1 0.4-0.5 1 1.2 0.4-0.7-0.5-1 1.2 0-0.4-1 5.3-6.6 3-5.7zM186.5 176.4l0.5 2.1-0.5 0.5-0.4-1.5zM187.5 179l6.7 16.5 7.9 17 2 3 1 3-0.6 0.4-5.1-9.4-7.3-16-4.7-12-0.4-2zM220.5 180.5l1-0.8 3-0.1 2.8 1.9-1.8 0.9-2 0.1zM228.9 181.5l4.6-2.3 5.2 0.3-3.2 2.4-3 1.3-2-0.3zM184.5 183.7l0.4 1.8-0.4 0.7zM185.5 186.6l0.4 1.9-0.4 0.7-0.4-1.7zM283.5 187.7l0.2 1.8-2.2 5.1-3 4.2-0.9-0.3 1.9-5zM186.5 189.5l0.4 2-0.4 0.7-0.4-1.7zM187.5 192.3l0.5 2.2-0.5 0.6-0.4-1.6zM188.5 195.1l10.8 28.4 2.7 5 0.2 2-0.7 0.2-1.2-2.2-1.2-4-5-11-5.9-16-0.2-2zM217.1 197.5l1.4-0.5 2 0.9 1.9 2.6-0.9 0.5-2-0.5zM185.5 199.8l0.4 1.7-0.4 1.1zM246.1 200.5l-1.3 2-4.3 2.8-3 0.5-2.6-1.3 0.2-1 5.4-2.5zM224.7 201.5l1.8-0.5 2 0.3 2.7 2.2-1.3 1-2.4 0.1-2.7-2.1zM186.5 203l0.4 1.5-0.4 1.3-0.4-2.3zM273.5 204.5l0 1.7-1 0.7 0.1-1.4zM187.5 206.1l0.4 2.4-0.4 0.5-0.4-2.5zM208.5 205.9l2.7 2.6 1.3 3.4-2.3-1.4-2.1-4zM188.5 209.1l0.5 2.4-0.5 0.6-0.4-2.6zM189.5 212.2l7.1 20.3 0.3 2-0.4 0.7-6.3-17.7-0.2-2-0.8-1-0.2-2zM213.7 213.5l0.8-0.4 2 1.5 1.5 2.9-0.5 0.6-2-1.1zM416.1 215.5l0.4-0.6 5 4.7 6 4.2 7.1 2.7 5.9 0.6 4-0.4 5-1.7 4-2.3 1 0 0 9.4-5 1.6-5 0.4-5-0.5-4-1.3-4-1.9-6-4.1-6-5.6zM262.4 218.5l-2.9 3.8-9 6.9-4 1.3-2.7-1-0.4-1 2.9-2 12.2-6.4 2-1.6zM205.5 219.1l2.7 3.4 0.9 3-0.6 0.4-2.3-3.4-1-3zM187.5 220.2l0.4 2.3-0.4 0.8-0.4-1.8zM220.5 219.8l2 0.2 1 0.8 1.8 2.7-0.8 0.8-2-0.6-1.8-2.2zM451.9 221.5l1.6-1.2 1 0 0 1.6zM188.5 223.6l0.4 1.9-0.4 1.2-0.4-2.2zM229.1 226.5l1.4-1 3 0.3 2.6 1.7 0.5 1-1.6 1-2.5 0-1.9-1zM189.5 226.9l0.5 2.6-0.5 0.6-0.4-2.6zM210.5 227.4l2.8 3.1 0.7 2-0.4 1-1.1-0.7-1.5-2.3zM190.5 230.2l0.5 2.3-0.5 0.9-0.4-2.9zM191.5 233.4l0.5 3.1-0.5 0.2-0.6-3.2zM203.5 232.7l2.4 4.8-0.4 1.4-2.2-4.4zM197.5 235.4l2 5.1 0 2.3-2.2-5.3zM216.5 236l2.8 2.5 0.8 2-0.6 0.9-2.3-1.9-0.9-2zM452.8 236.5l1.7-0.4 0 0.9zM192.5 236.7l0.4 2.8-0.4 0.3-0.4-2.3zM448.2 237.5l4.3-0.5 0.3 0.5-2.3 0.4zM188.5 238.3l0.4 2.2-0.4 1.2-0.4-2.2zM193.5 239.8l1.2 3.7-0.2 2.3-0.5-2.3-0.8-1-0.2-2zM207.5 241.2l2.3 3.3 0.3 2-0.6 0.5-1.6-2.5zM189.5 242l0.4 2.5-0.4 0.8-0.4-1.8zM432.7 242.5l0.8-0.4 7 5.6 5 2.8 6.1 2 2.9 0.2 0 7.1-1 0-8-4.7-6-5zM201.2 245.5l1.6 3-0.3 2.1-1.6-3.1zM224.5 244.5l3 2 1.5 2 0 1-1.5 0.4-2-1.4-1.8-3zM190.5 245.6l0 3.1-0.4-2.2zM195.5 246.4l1.5 4.1-0.5 1.7-1.2-3.7zM191.5 249.2l0.5 2.3-0.5 1.1-0.4-2.1zM212.5 250.5l2.6 3 0.4 2.4-1 0.1-1.2-1.5-1-3zM235.6 253.5l1.9-1 3 0.2 2 0.8 1.8 2-0.8 1-4 0.7-3-1.5-1-1.2zM204.5 253.5l1.7 3 0.6 2-0.3 1.2-1.5-2.2zM198.5 255.5l1.4 3-0.4 2.4-1.2-3.4zM193.5 256.6l0.4 1.9-0.4 0.9zM189.5 257.7l0.4 2.8-0.4 0.4zM194.5 259.2l0.4 1.3-0.4 1.9-0.8-2.9zM218.6 261.5l0.9-0.7 2.3 2.7 0.7 2.2-1 0.7-2.4-2.9zM209.5 263.9l1.4 2.6 0.2 2-0.6 0.5-1.5-2.5-0.3-2zM437.7 265.5l0.8-0.4 7.2 6.4-0.2 0.6-2-1.1zM196.5 266.4l1 3.1 0 2.1-1.4-3.1zM202.5 266.1l1 4.6-1.5-2.2-0.3-2zM391.5 268.5l1.2 0-0.2 1.9zM192.5 268.9l0 2.8-0.4-2.2zM227.8 272.5l0.7-0.5 2 0.9 1.6 1.6 0.9 2-1.5 0.7-2-1-1.3-1.7zM214.5 274.3l1.7 2.2 0.6 2-0.3 1.4-1-0.7-1.5-2.7zM205.5 274.9l1.6 2.6-0.1 2-0.5 0.4-1.3-3.4zM194.5 276.4l0.4 2.1-0.4 1.1-0.5-2.1zM199.5 275.9l1 4.3-1.4-1.7z"/>
<path fill="#707a8f" d="M204.7 23.5l0.7-1 2.1-1 21 2.2 7-0.8 9 0.2 2 0.8 4 0 0.9-0.4-5.5-1 2.6-0.4 39-0.1 0.4 0.5-4.4 8.4-1.6 1.6-0.4 1.9-1.6 2.1-5.4 10.9-5.7 9.1-5.2 10-0.9 0-0.2-1.9-1-0.7-1.3 0.6-0.8 4 1.1 1.8 0 1.2-2 2.3-3-2.8-3-5.7-2 0.6-2.1 1.6-1.9-0.1-1.4-0.9-2.9-3-6.7-10-3-1.7-3-3.9-3-1.8-11.5-12.6zM232.3 24.5l1.9 0-0.7-0.7-1 0.1zM279.1 31.5l1.4 0.4 0.8-0.4zM359.5 23.2l2.7 2.3-0.3 1 0.5 1-1.9 0.9-1.3-1.9zM441.5 24.1l0 1.9-1 0.4-1.1-0.9zM402.1 25.5l2.4-0.1 9 1.7 14 3.9 1-0.8 1 2.2 1-1.8 0.4 1.9 1.6 1.7 3-0.7 2.1-3-6.8-4 1.7-0.1 1 0.8 5 1.4-0.5-1.1 2.5 0-5.7 10 0 1-2.1 4-3.2 4.7-5.2-4.7 1.2-0.3 2 1.8 2 0.6 0-2.1-1.3 0-0.5-2 0.9-1 5.3-2-1.4-1.6-1 0.1-1-1-1 0.1-1-0.6-3 0.4-1.4 0.6 0.4 1 2 1.3 1-0.1 0.4 0.8-0.4 0.6-2-0.1-2-1.7-5.4-0.8 1.5 2-1.1 0.3-16-10 0-0.7 1-0.1 5 2.7 1.1-1.2zM360.5 28.8l1.3 1.7-0.3 0.7-1-0.4zM432.5 29.5l1-0.3 0 1.2-1 0.4zM299.5 30.1l0.4 0.4-0.4 1.1-0.4-0.1zM393.5 31.6l15.5 10.9 0.5 1.2-4-2-12.1-9.2zM364.5 34.2l2-0.6 5-0.2 2 0.8 15.8 14.3 15.9 17-0.2 1-1.7 0-0.3 1-2.5 1.8 0 0.6 1 0 3-1.8 1-1.3 1 0 6 5.9 2 1.2 1-0.9-0.5 2.5-2 3-0.1 1-4.4 6.6-1 0-1.4-1.6 1.4-0.3 0.4-0.7-4.4-3.3-0.8 0.3 2.1 2-0.3 0.6-4.6-3.6 0.6-0.2 2 1 1-1.6 1.3-0.2 0.7-0.9 2 0.5 4.8-0.6-0.8-0.6-7 0.6-1.8-1-2.2 0.3-4-3.2 2-0.8 0.4-1.3 1.4-1-0.8-0.4-3.1 1.4-1.9-0.7-3.2-3.3 0.5-1-0.2-2-1.1 0.1-0.6 0.9-0.7 0-1.1-2 0.6-1-1.4 0 0.6-1-0.4-0.4-1 0.7 0.4-1.3-0.4-0.3-1 0.6 0.2-1.3-1.2 0.2 0-1.4-1 0.4-0.5-1.2-7.7-8-1.2-2-10.9-11zM391.5 54.5l1 1.1 1 0.2-1-1.7zM397.5 59l-1.3 1.5 0.3 0.4 1.5-1.4zM409 72.5l1.5 1.7 0.4-0.7-1.4-1.3zM308.5 36.5l0.8 2-1.8 1.3-0.3-1.3zM408.7 37.5l0.8-0.3 5 3.2 0 0.6-1 0.1-2-1zM392.5 39l2.3 1.5-0.3 0.6-2-1.2zM394.8 41.5l0.7-0.4 5.2 4.4-1.2 0zM418.5 44.4l1-0.1 7 5.7 1-0.2 1-1 0.3 0.7-2.3 4.2-0.8-0.2-0.5-1 0.6-2-0.3-0.5-1.7-0.5zM410.5 45l3 1.4 7 5.8 0.4 1.3 1.6 0.4 2.5 2.6-0.5 1.5-1 0.1-3-3.6-10.3-9zM351.5 47.3l4.2 14.2 0.3 3-0.5 1-4.2-14-0.3-3zM171.9 49.5l0.9 0 12.5 17 8.1 10 13.2 13 7.2 5 6.7 3.2 7 1.5 5-0.3 1.3 0.6-2.3 0.6-7 0.1-5-1.2-8-3.9-7-5.2-8.5-8.4-6.9-8zM185.5 51.7l19 19.8 7 6.1 7 5.1 5 3.1 7 3 3 0.2 3 1.1 6-0.2 3 0.6-4 0.6-9-0.3-6-1.7-10-5.3-9-6.9-8.8-8.4-13.6-16zM316.5 51.9l1 3.1-2 0.6 0-3.1zM139.5 53.1l1 0 0 0.8-1 0zM292.5 52.9l-0.8 2.6-3.2 3.6-0.4-0.6 0.9-2 2.5-3.2zM409 54.5l0.5-0.4 4.6 4.4-0.6 0.5zM139.5 57.8l0-0.9 1 0 0 0.9zM453.5 56.8l1 0 0 6.2-1.9-0.5-0.3-1zM171.5 58.1l0 1.5-0.4-1.1zM375.8 58.5l0.7-0.3 3.4 4.3-0.4 0.7-3.6-3.7zM414.5 59l5.9 5.5 0.1 1.3-1 0.3-4.2-4.6-1.2-2zM422.5 59.7l0 1.4-1 0.6zM173.5 61.3l0.5 1.2-0.5 0.4-0.4-1.4zM174.5 63l0.6 1.5-0.6 0.2-0.5-1.2zM379.9 63.5l0.6-0.3 1.4 2.3-0.8 0zM175.5 64.7l0.4 0.8-0.4 0.8-0.4-0.8zM300.5 65.5l-0.9 3-2.1 3.1-0.4-1.1 1-3 1.4-2.3zM175.9 66.5l0.8 0 6.4 10 7.3 10 5.9 7 7.2 7 4 3 6 3.2 6 1.5 5-0.2 1.4 0.5-3.4 0.7-7-0.4-5-1.8-6-3.9-6.3-5.6-7-8-10-14zM227.7 68.5l1.8-1.4 1.7 1.4 1.3 2.9 1 0.2 3-2.3 2.4 6.2-1.4 1-2-0.2-3-4.6-2 0.9-2-1-0.9-2.1zM324.5 68.4l1.1 3.1-0.1 1.1-0.9 1.9-4.5 18-7.2 22-5 18-5.4 12.9-0.2-1.9 2.8-10 8.5-25 5.5-22zM416.5 68.5l1.7 0-0.7 1.4zM139.5 69.6l1 0 0.3 1.9 0.3 94 0.6 2 0.3 71-0.5 0.8-2-0.1zM311.3 73.5l-0.8 2.6-0.1-2.6zM388.7 73.5l0.8 0 0.3 1zM371.5 73.6l1 2.2-1 0.1zM175.5 75.3l0.4 1.2-0.4 0.4zM240.6 76.5l1.9-1.6 1-0.2 1.8 1.8 1.5 3-2.3 0.8-1-0.2-1.9-1.6zM272.5 74.9l0 0.6-2 1.6-0.3-0.6zM391.1 75.5l3.4 3-1 0.3-2.3-2.3zM283.6 76.5l0.1 1-0.8 1-1.4 0.4-0.6-0.4 1.6-1.7zM372.5 76.7l1.2-0.2-0.5 1 0.7 1-0.1 1 1.7 0.5 1-0.7 10 9.7 2.3 1.5-0.8 1 0.5 0.6 1-1 2.1 1.4-0.9 1 0.8 0.5 1-0.9 0.5 0.4-1 1 0.5 0.3 2-0.6 0.3 0.3-1 1 0.7 0.4 2-0.6-0.8 1.2 0.8 0.4 2-0.6 2 1.1-1.6 2.1-1.4 1.1-1 0-7-2.6-15-9.8-2.5-7.7zM176.5 77.1l0.4 1.4-0.4 0.2-0.4-1.2zM177.5 78.9l0.4 0.6-0.4 1-0.4-1zM249.1 80.5l0.4-1 4 0.2 2-0.7-1 2.5-1 1.1-3-0.9zM296.5 79.1l0.3 0.4-6.7 16-3.4 13-5.2 11.2-3.2 9.8-4.1 7-3.7 8.9-3 3.8-0.2-0.7 1.7-6 4.9-9 3.1-9 4.1-8 4.9-15 3.8-8 3.7-13 1-1.3zM394.6 79.5l0.9-0.3 8 6.7 2.8 1.6 0.6 1-0.4 0.4-6-4.1-4-3.6-1-0.2zM349.5 80l2.4 3.5 3.6 10-0.6 1-1.4-1.3-2.5-5.7-2-7zM178.5 82.2l-0.4-0.7 0.4-0.9 0.4 0.9zM282.4 81.5l-2.9 5.8-0.5-0.8 0.9-5zM179.5 82.2l0.5 1.3-0.5 0.5-0.5-1.5zM270 82.5l-3.8 6-4.5 9-2.2 2.9-0.4-0.9 1-3 4.8-9 1.1-4 2.5-1.3zM180.5 84l0.6 1.5-0.6 0.2-0.5-1.2zM432.4 86.5l-1.8 1-0.7 2-1.4 1.3-2 0.9-1.5-0.2 0.8-2 4.1-3-0.4-1.2 1-0.2zM181.1 86.5l0.4-0.8 7.7 11.8 8.3 10 6 5.3 5 3 5 1.7 6 0.5 6-1.3 8-4.7 0.2 0.5-4.2 3.4-8 3.2-7 0-7-2.2-6-4-7.4-7.4-6.8-9zM331.5 86.4l0.1 3.1-0.7 1-0.4 3-0.3-3 0.8-4zM451.4 90.5l-1.9 1.1-1.4 1.9-4.1 10-0.3 2-1.1 1-2 6-2 3 0.1 1-1 1 0 1-5.2 10.2-1 0.5-0.1 1.3-1 1 0.1 1-2 1.9 0 1.1-2 2-1.2 3-1.2 1-7.5 10-5.1 5-8 5.4-7 2.9-1.4-2.3 0.4-2.4 3-0.5 3.7-2.1 5.7-5 2.7-3 0.8-2 10.1-15 7.5-14 10-23 0.6-3 5.9-2.1zM178.5 91.3l0.4 1.2-0.4 0.4zM251.1 91.5l-0.6 1.1-0.9-0.1 0.9-1.3zM336.5 91.2l0.5 2.3-0.5 0.1-0.4-1.1zM179.5 93.1l0.4 1.4-0.4 0.3-0.4-1.3zM329.5 93.5l0.4 2-1.2 6-7.2 27.7-0.5-0.7 0-2 1.7-6 0.1-3 0.8-1-0.1-3 1-0.7 0-3.3 1-0.6 0.4-3.4 0.8-1zM337.5 93.7l0.4 1.8-0.4 0.3zM180.5 95l0.4 1.5-0.4 0.2-0.4-1.2zM454.5 280.2l0 35.3-315 0 0-62.4 2 0.4 1 1.4 3 1.4 1.1 2.2 2.9 16.2 3 10.8 1 1.4 1.2-0.4-2.6-11-0.8-6 0.9-2 0.3-5.9 1 0 1 4.1 3 7.3 1 0.2 2 4.5 1-0.9 1 1 1 3.8 1 0.3 1 1.8 1 0.1 2 1.9 1-1.6 1 2.4 1-0.1 1-1.9 1 3.2 1-0.5 1 0.9 1-3.3 1 3.7 1 0.2 1-4.3 1 4.7 1-1.6 1 2 1 0.1 1-1.2 1 1.5 2 0.3 1-3.2 1 3.5 2-0.2 1-1.5 1 2.2 2 0.3 1-4 1 4.2 4 0.3 1-4.8 1 4.9 5 0.4 1-0.3 1-4.9 1 5.4 9 0.1 1-5.2 1-0.1 0.7 1.2 0.3 4 6-0.3 8-1.3 13-3.6 1.4-3.8-0.6-1 5.2-3.7 6.4-6.3-0.4-0.8-4 4-3 2.2-1-0.4 10-9.5 1 1.1 0.4-0.6-0.9-1 0.5-0.6 1 0.9 0.3-0.3-0.7-1 0.4-0.7 1 0.3-0.1-1.6 1.1 0.3-0.2-1.3 1.2 0 0.1-1 1.1-1 0-1 1.8-2 11.3-20 4.2-9 4.3-7 3.9-10 3.9-7 0.3-2 1.7-3 2-7 4.9-11 0.5-2.3 0.7-0.7 4-14 5.9-16 12.9-47 1.5-7.1 1 0.5 2.3 6.6 0.9 1 4.3 10 12 21 13.9 19 17.8 22 10.8 15 1.1 2 1.1 5 3.9 11 0.8 1 1.1 4 0.9 1 1.1 4 1.9 3 0.1 2 1 1-0.1 1 1 1 1.1 3.4 0.8 0.6 0.1 2 1.1 0 0.8 4 2.2 3-0.1 1 1.1 0.5 0.8 3.5 1.2-0.2 0 1.9 1-0.3 0 2.5 1-0.4-0.2 1.5 1.2 0-0.3 2 1.3-0.4 0 2 1-0.6-0.3 2 0.3 0.3 1-0.6 0 2 1-0.2-0.3 1.5 0.3 0.3 1-0.7 0.3 0.4-0.6 1 0.2 1 1.1-0.8 0.3 0.8-0.6 1 0.3 0.3 1-0.8 0.3 0.5-0.7 1 0.4 0.5 1-0.8 0.3 0.3-0.5 2 0.6 0 0.6-1 2.4 3-0.8 1 0.4 0.8 0.4-0.8 0.9 0-0.9 1 0.4 1 0.9 0-0.4-1 0.7-0.2 3.1 3.2-1.3 1 2.2 1.8 0.1-0.8 0.9-0.3 0 1.1-0.9 0.2 0.9 0.2 1-0.6 0.5 0.4-1 1 0.5 0.4 1-0.7 0.7 0.3-1 1 0.3 0.4 2.8 0.6 1.2 3.6zM336.5 191l-0.7 0.5 0.7 0.8zM349.5 143.3l-0.4 1.2 0.4 0.2 0.4-0.2zM354.5 162l-0.7 1.5 0.7 0.4 0.6-0.4zM357.5 172l-0.6 1.5 1.6 1.4 0.5-0.4-1-1zM364.5 174.5l-0.1 1-1.5 1 0.6 0.6 0.7-0.6zM367.5 184.6l-1.3 1.9 0.3 0.4 1-0.8zM384.5 229.1l-0.6 1.4 0.6 0.4zM386.5 234.3l-0.4 1.2 0.4 0.3zM391.5 246l-0.4 0.5 0.4 1.2zM392.5 248.1l-0.4 1.4 0.4 0.4 0.4-1.4zM399.5 257.8l-0.4 0.7 0.4 1.3 0.8-0.3zM411.5 235.6l0 1.8 0.4-0.9zM413.5 239.1l-0.5 1.4 0.5 0.8 0.4-0.8zM414.5 241.4l-0.4 0.1 0.4 1.6 0.4-0.6zM415.5 243.8l0 1.7 0.4-1zM417.5 247.1l-0.5 1.4 0.5 0.8 0.5-0.8zM418.5 249.4l-0.4 0.1 0.4 1.5zM419.5 251.4l0 2.1 0.5-1zM420.5 253.9l0.8 2.6 0.6 0-0.4-1.9zM423.4 258.5l-0.2 1 1.3 2.2 0.4-0.2-0.1-1zM425.5 262.1l0.7 2.4 0.9 0-0.6-1.6zM427.5 264.8l0 1.6 1 1.5 0.8-0.4zM430.5 269l-0.4 0.5 1.4 2.1 0.6-0.1zM263.5 270.5l-0.7 1 0.7 0.3zM264.9 269.5l-0.4-0.4-0.9 1.4 0.9 0.1zM293.5 225.9l0 2 0.5-0.4zM295.5 234.7l-0.1 3.8 1.4 5-0.3 1.9 1.1 2.1-0.1 2 1.1 2-0.4 2 1.6 2-0.5 1 0.2 0.9 1 0.1-0.3 1 0.9 1-0.6 1.2 1.6 0.8-0.7 1 0.6 1-0.5 1 1.1 1-0.1 3.5 2 3.2 0.7-0.7-0.1-3-1-2 0.4-1-1-1-4-17.9-2-7.1zM300.5 208.7l0 1.2 1 0.3 0.3-0.7zM305.5 214.3l-0.4 1.2 0.4 0.7 0.4-0.7zM306.5 217.7l-0.7 0.8 0.7 1.9 0.5-0.9zM307.5 221.4l-0.6 1.1 0.6 1.7 0.5-0.7zM308.5 225.4l-0.5 2.1 0.5 0.4zM311.5 182.1l-0.4 1.4 0.4 0.9 0.6-0.9zM312.5 185.5l-0.8 2 0.8 1.1 0.6-1.1zM313.5 189.6l-0.8 1.9 0.8 1.8 0.6-1.8zM312.5 194l-0.6 0.5 0.5 4 2.8 10 1.4 7 2.6 10 2.7 6-0.1 2 1.6 4 0 2 1.4 3-1.3 1.1-0.1 1.9 1.1-1.7 1.2 2.7 0.3 3-1 1 0.5 2.3 0.5-0.3 0.5-2.6 0.8 1.6-1.2 3 0.4 1.6 1-2.5 1.1 1.9-1.4 1 0.3 2.7 1-2.3 1.4 1.6-0.6 1 1.5 2 3.3 12 1.4 1.2 1-0.6 2 0.4 1-0.7 1 0.4 0.5-0.7-4.1-12-0.4-0.8-0.8 0.8 2.1 6-0.3 1.7-1.2-2.7-0.1-2-1-1-0.3-2-1.8-4-0.1-2-0.9-1 0-2-1.1-2-0.1-1 0.6-0.8 2 5.6 0.2-1.8-0.9-1 0-2-0.8-1-1.5-6.4-0.6 0.4-0.4 2.6-1-2.6 0-1.9 1 1.5 0.4-1.6-0.4-1.6-0.7-0.4 0-2-0.9-1-0.4-3-0.5 1 0.3 1-0.8 0.8-1.3-2.8-0.1-2-2-5-0.3-3-1.6-5-0.1-3-0.6-0.1-1.3-3.9 0.3-3-1.2 0-3.7-14-0.6 0-0.5 1.7zM319.5 204.3l-0.4 1.2 0.4 0.7zM325.5 155.3l-1.3 1.2 0.6 2-0.7 1 1.4-0.1 0.4-0.9-0.9-2zM329.5 165.2l-0.7 0.3 0.7 1.2zM337.5 194.6l-0.4 0.9 0.4 0.6 0.5-0.6zM338.5 197.8l-0.8 0.7 0.8 1.2 1 0zM346.5 140.3l-0.5 1.2 0.5 0.4 0.4-0.4zM347.5 142.3l-0.6 3.2 0.6 0.4 0.6-0.4zM348.5 146.1l-0.6 3.4 1.2 1-1.1 4 0.9 0 0.6-1.2 0.8 1.2-0.9 1-0.2 2 0.3 0.4 1-0.7 0.9 2.3-1.2 2 1.7 0 0 2 1.6 1.8 0.3-0.8-1.1-2 0.4-1-1.5-2 0.6-1-0.2-1-1.4-2 0.9-0.6 1 2 1 0.2 0.3-0.6-1.3-3.6-1 1.5-1.3-1.9 0.3-1.5 0.3 1.5 0.7 0.4 0.9-0.4-0.9-1.8-1-0.4-1.5-1.8 0.1-2zM350.5 147l-0.7 0.5 0.7 1.3 0.4-1.3zM356.5 177l0 1.2 1 1.2 1-1.2 1 0.3-0.9 1 0.9 1.6 2-0.2 1 1 0.6-0.4-0.4-1 0.5-1-1.7-1.4-0.6 0.4 0.9 1-0.3 0.7-1-0.1-1-1.6 1-0.3 0.4-0.7-0.4-0.4-0.9 0.4-0.1 0.9-1-2.1-1 1.6zM359.9 174.5l1.6 1.6 1-0.6-2-1.8zM363.9 180.5l1.6 1.4 0.4-0.4-0.6-1-0.8-0.4zM371.8 212.5l0.7 0.4 0.9-0.4zM374.1 211.5l1.4 1.3 0.3-0.3-0.3-1.4zM378.5 212.9l-0.5 1.6 0.5 0.7 0.4-1.7zM379.5 215.9l-0.4 0.6 0.4 1.7zM380.5 218.2l-0.8 0.3 0.7 1-0.7 1 0.8 0.1zM382.5 223.8l-0.8 1.7 0.8 0.3 0.5-1.3zM387.5 241.3l-1 0.2-0.3 2 1.3-1zM393.5 250.2l-0.5 1.3 0.5 0.6zM403.5 255.5l-1.6 2 0.6 0.8 1.1-1.8zM409.5 262.4l0 1.7 0.5-0.6zM294.5 228.9l-1 0.6 0.9 1 0.1 1.1zM301.5 210.7l-0.6 1.8 0.6 1.7 0.9 0.3-0.5 2 1 2-0.2 2 0.8 6 0.9 1 0.2 3 0.9 1 0.4 3 1.9 5 0.9 4-0.4 2 0.2 1 0.8 0 0.1 3 2.1 4.7-0.4 2.3 0.4 1.2 1-0.6 0.1 2.4 1.2 2-0.3 2.5 1-0.4 0.3 2.9 1 2-0.3 2.3 1.1-0.3 0.2 3 1.7 1.3 2-1.5 1.3 0.2-1.4-2 0.9-1-0.7-4-1.1-1.9-1 1.9-1-0.3-1.3-1.7-0.1-2 0.9-1-0.1-1-1.4 0.9-0.5-2.9-0.8-1 0-2 1.7-3-0.4-1.4-1 2.1-1.1 0.3 0.1-2.7 1.7-1.3-3.7-13.3-1 1.3 0.3 2 1.2 1-0.1 2-0.4 0.7-1.1-0.7 0.2-1-1.6-4 1.9-3-0.4-1.5-1 2.1-1 1-0.4-2.6 0.9-1 0-1-1.6 1-0.2-1 0.6-1-0.4-1 0.5-1-0.4-0.5-1 0.4-0.2-0.9 0.7-1-0.7-1 0.3-1-1.1-0.2-0.2-0.8 0.6-1-0.7-1 0.3-1-1-0.2-0.1-1.8zM311.5 190.1l-0.6 0.4 0.6 2.8zM316.3 215.5l-0.9 0 0.1 2.1zM316.5 218.9l0 2.3 0.4-1.7zM317.5 222.7l0 2.2 0.7-1.4zM318.5 226.1l0 2.7 0.7-2.3zM319.5 229.9l0 2 0.4-1.4zM321.5 237l0 1.7 0.4-1.2zM324.5 246.8l-0.5 0.7 0.5 1.8 0.7-1.8zM328.5 259.9l-0.4 0.6 0.4 1.4 0.5-1.4zM329.5 263l-0.4 0.5 0.4 1.3 0.5-1.3zM330.5 266.1l-0.4 0.4 0.4 1.4 0.4-1.4zM331.5 269.1l-0.4 0.4 0.4 1.1 0.5-1.1zM320.5 208.1l-0.7 0.4 0.7 2.6 0.4-1.6zM326.5 159.2l-1 0.4-0.4 0.9 0.5 2-1.1 0-0.5 2 0.5 1.2 1-1.8 0.5 0.6-1.9 6 0.4 0.7 2-3.4 0.6 0.7-2.1 6 0.5 0.7 1-1.7 0.5 2-1 3 0.5 0.6 1-1.8 0.6 1.2-1.3 4 0.7 0.4 0.5-0.4 0.5-1.5 0.4 0.5-1.4 5.1 1 0 1-1.6 0.6 0.5-1.1 4 0.5 0.7 1-1.8 0.7 1.1-1.1 4 0.7 0 1.7-3.4 0.4 0.4-1.9 6 0.5 0.8 1-1.6 1-0.2 0-1.7 1 0.7-1 1-1.4 5 0.4 0.4 1-1.9 0.5 0.5-1 4 0.5 0.9 1-1.6 0.6 0.7-1.2 4 0.6 0.5 1-1.9 0.4 0.4-1.4 5.5 2-2 0.5 0.5-1.9 5 0.4 0.4 1.4-1.4 0.6-1.5 0.5 0.5-1.2 4 0.7 0.5 1-1.8 0.5 1.3-1.1 3 0.6 0.6 1-1.5 0.6 0.9-1.1 3 0.5 0.8 1-1.5 0.8 0.7-1.3 3 0.5 1 1-1.8 0.8 0.8-1.2 3 0.1 1 0.5 0 0.8-1.7 0.7 0.7-1.1 4 0.8 0 0.6-1.6 0.7 0.6-1.2 4 1.1 0 0.4-1.5 0.5 0.5-1.2 4 0.7 0.4 0.6-0.4 0.4-1.5 0.6 0.5-1.3 4 0.7 0.4 1.3-1.4-1.1 4 1.3 0 0.5-1.5 0.4 0.5-2.1 6 0.7 0.3 2-3.9 0.5 0.6-1.7 4 0.2 0.9 2-2.5 0.5 0.6-1.1 3 0.6 0.5 0.8-1.5 0.5 0 0.2 1-1 3 0.9 0 0.6-1.6 0.9 0.6-1.4 3 0.5 0.8 1.5-1.8 0.5-1.4 0.5 1.4-0.9 1-1 3 0.4 0.4 1-1.8 0.5 0.4-0.9 3 0.4 1 1-1.7 0.6 0.7-1 3 0.4 0.6 1-1.6 0.6 1-1 2 0.4 1 1-1.5 0.5 0.5-1 3 1.1 1-0.2 1 0.6 1 1-1.1 0.8 1.1 0.2 1.6 0.3-1.6 0.7-0.5 2 0.2 3-0.6-0.4-1.1 0.4-0.7 1 0.5 0.2-0.8-3.2-2.3-1.5-4.7-0.8 0-0.5 1 1.1 2-0.3 1.6-6.4-13.6-0.3-2-1.5-3 0.1-1-1.1-2-1.1-5-0.9-1-0.3-3-1.2-2 0.3-1-0.9-1 0.3-0.9 1 0.9 0.4-1-0.4-0.7-1 0.6-1-1.1-0.7-1.8 0.2-1-2.1-2 0.9-1-1.8-2 0.1-2-2.9-8 0.5-1-1.6-2 0.8-1-1.6-3-0.3-2 0.5-0.6 1 1.3 0.5-0.7-0.5-1-1-0.3-1 0.5 0.4-1.2-0.9-1 0.5-0.7 1 1.1 0.4-0.4-0.3-1-2.1-1.5-1.1-2.5 0.3-1-1.2-1.6-1-0.4 1.4-1-1.7-3 0.5-1-1.2-1.7-0.9-0.3 0.6-1-1.1-3 0.8-1-1-1 0.4-1-0.9-1 0.3-1-0.7-1 1.3-1-0.8-0.6-1 0.3 0.1-1.7-0.6-1 0.5-0.6 1 1.2 0.4-0.6-2.8-3 0.4-1.5 1 1.4 0.3-0.9-2.7-3 0.1-1-0.9-1 0.6-1-1-1 0.6-1 1 1.3 0.3-0.3-0.3-1.1-2-0.2zM341.5 208l-0.7 0.5 0.7 1zM353.5 166.2l-1 2.6 1.3-1.3zM353.5 157.9l-0.7 0.6 0.7 1.3 0.4-0.3zM355.5 164.7l-0.9 0.8 0.9 1.7 1 0.5zM357.5 179.7l-1 3 1.6-1.2zM358.5 182.4l-0.6 1.1 0.4 2 1.2 1.9 1-2 0.4 2.1-0.4 0.4-1-0.2-0.4 0.8 0.9 2-0.8 2 0.3 0.6 1-0.7 0.6 1.1-0.9 2 3.1 4-0.5 2 1.3 1-0.6 1 1 0.4 1-2.4 1 0 0.5-1-1.5-1.6-1 1.6-0.7-1 0.3-1 1.8-1-0.7-1 0.3-2-2 3.1-0.6-1.1 0.2-1 1.4-1 1 0 1-2-1-1.3-0.9 0.3 0.6 1-0.7 1.5-0.1-1.5-0.9-0.8-1 1.2-1.4-2.4 0.4-1.4 1 2.2 1-0.1 1-2.1 2.1 1.4-0.2-1-2.9-2.4-1.3 1.4 0.1-2 1.2-1.4 1 1.5 0.9-1.1-1.9-1.5-1 1-0.3-0.5 0.7-1-0.4-0.3-1 0.7 0-1.9-1.8 1.5-0.2 1.3-0.6-2.3zM372.5 214l-0.4 0.5 0.4 0.8 0.6-0.8zM316.5 254.3l-0.7 1.2 0.7 1.4 0.4-0.4zM317.5 258.4l-0.4 1.1 0.4 0.8 0.4-0.8zM318.5 261.1l-0.5 1.4 0.5 1.6 0.4-0.6zM321.5 211.7l-0.5 0.8 0.5 1.9zM322.5 215.2l-0.5 0.3-0.1 1 0.6 1.8zM324.5 222.3l-0.4 1.2 0.4 1.4zM344.5 242.9l-0.6 0.6 0.6 1zM345.5 245.6l-0.8 0.9 0.8 0.6zM348.4 255.5l-1 0 0.1 1.8zM348.5 230l-0.6 0.5 0.6 1.2 1 0.3 0.4-0.5zM351.5 234.7l-1.8 1.8 0.8 1.7zM352.5 240.7l-1 0.8 1 1.6 0.5-0.6zM353.5 244l-0.6 0.5 0.6 1.5 0.5-0.5zM356.5 252.4l-0.4 1.1 0.4 0.4 0.4-0.4zM364.5 206.3l0 2.4 0.5-2.2zM366.5 201.7l-0.4 1.8-1.2 1 0.6 1.7 1-2.2 0.5 0.5 0.1 2 0.9 1 1.1 4-0.1 1-1.1 1 0.3 1-0.4 1 1.7 1.9 0.3-0.9-0.9-2 0.3-1 1.7-1-0.9-1 1.9-2-2.4-0.2-0.5-0.8 1.8-2-2.3 0.1-0.5-1.1 0.7-1-0.2-0.7-1.9-1.3zM366.1 196.5l1.4 1.4 0.6-0.4-1-1zM325.5 226l-0.5 0.5 0.5 1.5zM326.5 229.2l-0.6 1.3 0.6 1.4zM334.5 254.9l-0.7 0.6 0.7 1.7zM335.5 257.8l-0.8 0.7 0.8 2zM347.5 227l-0.7 0.5 0.7 1.3 0.6-0.3zM351.5 238.7l-0.6 0.8 0.6 0.8 0.5-0.8zM355.5 173l-0.4 1.5 0.4 0.4 0.5-0.4zM357.5 254.9l-0.7 0.6 0.7 0.8 0.4-0.8zM362.5 261.7l-0.2 1.8 1.9 4-0.1 1 1.4 1.6 0.7-0.6-0.9-1 0.5-1-3-4 0.2-1zM366.5 207.2l-0.4 0.3 0.4 1.7 0.5-1.7zM367.5 210.3l-0.6 2.2 0.6 0.4 0.5-2.4zM370.5 213.8l-0.9 1.7 1.7 1-0.8 2.4-1-1.2-0.6 0.8 1 1 0.2 2 1 1-0.2 2-0.7 1 0.3 0.4 1-0.8 0.5 0.4-0.8 3 0.3 0.3 1-0.7 0.4 0.4-0.7 1 0.2 2 1 1-0.5 1 1.2 1 0 2 0.9 1 0.2 2 1.7 3 1.1 4 1.3 1-0.4 1 1.3 1 0 2 1 0 0.1-1 0.4 0-0.6 3 0.4 0.4 1-1.1 0.4 0.7-0.8 2 0.4 0.5 1-1 0.3 0.5-0.8 2 1.2 1-0.3 1 1 1 0 1 2.8 6-0.1 1 1 1-1.4 1 0.6 1-0.6 1 3.3 0.5 0.5 0.5 0.5 3.5 1-1.4 1 2.4 1-4.5 1 4.7 1-1.1 1 0.1 1-1.3 1 0.3 0.3-0.7-1.1-1 0.8-0.3 2.6 0.3 0.4 3.4 1-3.1 1-0.7 2 1 1-1.1 1 1.2 6-0.7-3-0.6-0.6-1.4 0.9-1-0.3-0.9-2 2.7-1.1 0.2 0.7-2 1.6-2-0.2-1.3-1.5 2.3-1.5 1.4-0.4-1.4 0.8-1-0.7-1 0.2-1 1.1 1.2 0.6-1.2-1-1 0.7-1 0-1-1.4 1-1.4 3-0.9 0 0.6-2-0.2-0.4-1 0.7-0.4-0.3 0.6-1-1.2-1.3-0.4-1.7 0.4-0.5 1 0.9 0.3-0.4-0.9-2 0.6-0.4 1 1.1 0.4-0.7-1.4-2.7-1.7 3.7-2.3 2.7-0.5-0.7 1.6-3-0.1-1.4-1 0.7-1 2.2-2.7-5.5-0.7 0-0.6 1.7-0.6-0.7 0.1-1 1-1-0.2-1-1 0 0.2 1-0.5 0.7-0.6-0.7 1-2-0.1-1-0.7 0-0.6 1.7-0.7-0.7 0.1-1-1.2-1 0.1-1-1.3-0.8 0-1.6-1 0 0-2.5-1 0.8-0.3-0.9 0.4-2-1.1 0.4-0.5 1.6 1.3 1-0.3 1 0.9 1 0.3 2 0.8 1-0.5 1.2-2.4-0.2 1.9-1-0.5-0.8-1.5-0.2 0.8-1-0.9-1-0.4-1.7-1-1-1.5-0.3 0.5-0.6 1 0.3 0.3-0.7-1.8-1 0.9-1-1-1 0-2 1.4 0-0.3 1 0.5 0.8 1.1-1.8-0.1-0.8-1 0.7-0.4-0.9 0.5-2-1.3-1 0.2-1.8-1.2-0.2 0.5-2-1.5-1 1.2-2 0.3-2-0.8 0 0.2 1-0.7 0.4-1.8-3.4 1.2-2-0.4-1.4-1 1.8-1-0.1 0.4-1.3-2-3-0.1-2-1.2-1-0.1-1.6-1-0.1-0.8 0.7-0.5 1 0.3 1-1 0.4zM354.5 247l-0.7 0.5 0.7 1.2zM359.5 259.7l-0.7 0.8 0.7 1.4 0.5-0.4zM360.5 261.9l-0.6 1.6 0.6 0.7 0.5-0.7zM361.5 259.4l-0.5 0.1 0.5 1-0.5 1 0.5 0.2 0.6-0.2zM369.5 222.2l0 1.5 0.5-1.2zM405.5 263.5l1 0.4 0-1.3zM323.5 219l-0.6 0.5 0.6 1.7zM358.5 257.2l-0.5 1.3 0.5 0.6 0.4-0.6zM428.3 95.5l-2.5 3-9.8 15-7.5 8.5-9 7.2-8 3.7-4 1.2-1-0.3-0.6-1.3 0.6-2.2 3-0.4 5-2.2 4.8-3.2 5.2-4.6 5.2-6.4 0.2-1 1.7-2-0.1-1.3 1 0.3 0-1.7 1 0.8-0.1-2.1 1.1 0 0-1.4 1-0.6-0.2-1 1.5-3 0.3-2 6.4-2.4zM303.5 95.7l0.5 0.8-1.2 6-2.3 6.4-1 1.3-0.1-1.7 3.1-10.7 0.9-0.3zM338.5 96.1l0.4 1.4-0.4 0.4zM181.5 96.8l0.4 0.7-0.4 1-0.4-1zM339.5 98.3l0.4 1.2-0.4 0.8zM364.5 97.7l1.6 1.8 1.4 5 0 1.7-1.1-0.7-1.3-3-1.1-4zM182.5 100.2l-0.4-0.7 0.4-1 0.4 1zM183 100.5l0.7 0 5.5 9 6.3 7.7 5.4 5.3 5.6 4.2 4 2 6 2.2 3-0.2 3 0.6 4-1.4 3.6 0.6-3.6 1.8-2 0.2-2-0.6-3 1-6-1.3-8-3.8-5-3.8-6.4-6.5-6-8zM273.5 99.6l0.2 1.9-2.2 5.1-0.3-1.1zM347.5 101.1l3.6 6.4-0.6 0.5-3-4.5-0.6-2zM243 102.5l-5.5 6.9-3 2.5-0.6-0.4 8.6-9.2zM255.5 104.8l0.3 1.7-3.3 4.3-3.3 5.7-3.7 4.2-5 3.8-0.3-1 8.3-9.9 3.2-3.1zM398 105.5l-5.5 5.7-6 4.8-4 2.3-0.8-0.8 0.1-1 6.3-4 6.6-6 1.8-1.2zM229.2 106.5l1.3-0.4 0.5 0.4-1.5 0.4zM379 107.5l0.5-0.6 3 1 4 0.2 0.8 0.4-3.8 1.3-3 0.3-0.8-0.6zM182.5 111.2l0-1.7 0.4 1zM183.5 111.3l0.4 1.2-0.4 0.5-0.4-1.5zM184.5 113.1l0.5 1.4-0.5 0.4-0.5-1.4zM267.5 113.8l0 1.7-1.9 5-2.6 4-3.9 9-5.6 8.9-3 3.4-2.4 1.7 10.8-19 3.1-4 3-7zM360.5 113.9l1.8 1.6 1.1 2-0.9 0.4-1.9-1.4-0.7-2zM421.5 114.4l0.1 1.1-1.1 1.8 0-1.8zM185 115.5l0.5-0.6 4.7 7.6 6.2 8 9.1 9 9 5.5 2 0.2 3 1.1 4-0.6 2.9 0.8-3.9 1.3-3-1-3 0.4-5-1.9-4-2.3-7-6.1-6.4-7.4-5-7zM370.5 117.9l1 0.4 0.7 1.2-0.7 1.1-1.3-1.1-0.2-1zM418.5 119.2l0-0.8 1-0.3 0 0.6zM182.5 120.3l0.4 1.2-0.4 0.5zM418.5 120l-1 2.6-1-0.4 0-0.9zM454.5 120.9l0 21-1 0-4 9.8-1 0.7-6.2 10.1-6.8 8.7-7 6.7-6 4.1-4 1.9-7 1.4-8-0.5-1.6-3.3 0.6-1.8 3 0.7 4-0.6 4.1-1.3 3.6-2 8.6-7 5.7-6.5 2-3.5 1 0.1 3-6 2.9-4.1 4.1-8.5 1-0.1 0.1-1.4 3.9-9 1.9-3 2.1-6.6zM183.5 122.3l0.4 1.2-0.4 0.5zM415.5 124.2l0-1.3 1 0.2 0 0.8zM184.5 124.2l0.4 1.3-0.4 0.4-0.4-1.4zM240.5 124.5l-1 0.3-5 4.5-3 0.8-0.9-0.6 4.9-3.5 4-1.7zM414.5 124.1l0.9 0.4 0.1 1.2-1-0.5zM414.1 125.5l0.6 1-1.2 0.6 0 1.5-1-0.5-0.3 0.4 0.6 1-0.3 0.5-1.4-1.5 2-2 0.4-1.2zM185.5 126l0.5 1.5-0.5 0.3-0.4-1.3zM186.5 127.9l0.7 1.6-0.7 0.2-0.5-1.2zM411.3 129.5l0.2 2-1-0.5 0 1.8-1-0.7-0.4 0.4 0.8 1-0.4 0.5-1-0.8-0.3 0.3 0.5 1-0.2 0.7-1-0.9-3.7 4.2-5.3 4.6-4 2.7-4 1.6-0.5-0.9 0.5-1.6 2-0.5 5-2.7 7-5.8 6-6.7zM187.5 129.6l6.7 10.9 6.2 8 7.4 7 3.7 2.7 4.8 2.3-0.2 1-2.6-0.5-5-3-7.1-6.5-9.1-12-5.3-9zM247.4 130.5l-5.9 6.9-3 2.4-0.8-0.3 8.8-9.3zM320.5 129.8l0.4 0.7-0.4 2-0.4-2zM374.5 129.9l1.4 1.6-0.4 0.9-1.3-0.9-0.2-1zM291.5 131l0 2-0.6-0.5zM359.5 130.7l3.4 5.8-0.4 0.9-2.5-3.9-0.8-2zM183.5 133.4l0.4 1.1-0.4 0.7zM184.5 135.5l0.4 1-0.4 0.9zM318.5 137.1l0 2.7-0.4-1.3zM185.5 137.6l0.4 0.9-0.4 1-0.4-1zM186.5 139.6l0.7 1.9-0.7 0-0.4-1zM236.5 141l-0.1-0.5 1.1-0.6 0.1 0.6zM236.2 141.5l-4.7 3.7-2 0.7-2.3-0.4 8.3-4.3zM317.5 141l0 3-0.6-0.5zM370.5 141l2.2 2.5 0.7 2-0.9 0.3-1.1-1.3zM187.5 141.5l4.8 9 5.9 9 7.3 8.9 4 4.1 2.9 2 1.2 2-2.1-0.4-5-4.6-8.3-10-8.1-13-3-6zM316.5 144.2l0.4 1.3-1.2 5-5.2 17-0.8 1-0.2 2.2-1.5-2.2 0.5-2.3 1 1.2-0.5-2.9 1.9-8 3.6-10.8 1 1.2 0.1-2.4zM301.5 146l0.4 0.5-0.4 1.7zM380.5 146.2l0.4 1.3-0.4 0.9-0.6-1.9zM184.5 147.2l0.4 1.3-0.4 0.6zM394.1 147.5l1.4-0.5 0.3 0.5-1.3 0.4zM391.1 149.5l1.4-1.4 1-0.1 0.5 0.5-2.5 1.5zM185.5 149.4l0.4 1.1-0.4 0.9zM283.5 149.4l0.2 2.1-1 3-1.2 0.9 0-1.9 1.4-2zM300.5 148.6l0.4 0.9-0.3 2-2.7 8-3.4 6.7-0.3-1.7 1.1-4zM186.5 151.6l0.4 1.9-0.4 0.2-0.4-1.2zM243.5 151.7l0.3 0.8-5.3 5.9-3 1.4-1.2-0.3 4.2-4.4zM187.5 153.8l0.5 1.7-0.5 0.3-0.4-1.3zM188.5 155.9l7.7 14.6 10.3 15.3 3.5 3.7 0.7 2-2.8-2-8.7-12-11-20-0.2-1zM378.5 158.9l1 0.5 0.7 1.1-0.7 0.5zM231.3 160.5l-0.5 1-2.3 1.5-2 0.2-1.8-0.7 2.8-1.9zM216.6 161.5l3.9-0.6 1.7 0.6 0.6 1-3.3 0.6zM386.5 162l0 1.8-0.4-1.3zM186.5 164l0.4 1.5-0.4 0.5-0.4-1.5zM276.6 164.5l0 2-1.1 2.8-4.4 6.2-3.6 7.3-7 9.2-4 3.6-2.1 0.9-0.3-1 1.2-2 9.1-11 3.1-5.1 3.2-2.9 1.4-2 2.4-5.9zM187.5 166.2l0.4 1.3-0.4 0.9-0.4-1.9zM253.9 167.5l-2.3 4-4.1 4.4-3 2-2 0.4-0.3-0.8 5.3-5.7 5-4.3zM188.5 168.5l0.5 2-0.5 0.3-0.4-1.3zM307.5 169.8l1 1.7 0 2.1-1.5-1.1zM189.5 170.8l8.6 17.7 4.8 8 1.2 3-0.6 0.3-2.3-3.3-6.9-13-5.1-11zM306.5 173l1 2 0.1 1.5-1.1 0.9 0 2.1-0.7 1-1.2 5-3.1 7.5-1.2 1.5-6.8 17.8-2.9 4.2-4.1 8.9-4.2 5.1-3.8 6.9-4.3 4.1-3.7 4.5-2 0.9-1-0.2 3.3-5.2 2.5-3 1.2-0.6 4-7.4 4-4.4 3-7.9 4.7-5.7 3.6-11 4-5 4.6-16zM289.5 174.9l0.6 0.6-0.3 2-2.3 4.9-1 0.7-0.2-0.6 1.2-3.8zM214.6 177.5l1.9-0.6 2.7 2.6-1.7 0.4zM453.5 177.2l1 0 0 1.2-1 0zM187.5 179.2l0.4 1.3-0.4 1zM236.5 180.5l-2 1.6-2 0.8-1.9-0.4-0.8-1 3.7-2 2.1 0zM454.5 178.8l0 15-1 0-6.6 6.7-6.4 4.4-0.9-0.4-0.1-1-0.9 2-2.1 1.2-2-1.3-2 2.2-1-0.7-3 0.7-3-0.5-1 0.4-8-2.2-6-3.3-1.2-1.5-0.3-1 0.5-0.8 3 1.8 4 1.5 5 0.9 3-0.1 5-1.1 4-1.7 2-1.6 1 0.2 5-4.8 2-1.1 5-5.7 3.2-4.5 1.8-3.7zM221.4 180.5l1.1-0.7 2 0 1.3 0.7 0.5 1-2.8 0.8zM188.5 181.8l0.4 1.7-0.4 0.5-0.4-1.5zM330.5 183.1l0.5 0.4-0.5 1.2zM189.5 184.2l0.4 2.3-0.4 0.1-0.4-2.1zM331.5 186.2l0.9 1.3-0.9 0.5-0.4-0.5zM190.5 186.7l0.5 1.8-0.5 0.6-0.4-1.6zM191.5 189.1l6.7 15.4 2.7 5 0.9 3-0.3 0.4-5.4-10.4-5-12-0.1-1zM211.5 192.4l2 0.4 2 2.8-1 0.5-1-0.7zM280.5 193.1l0.4 0.4-0.4 1.3zM188.5 195.3l0.4 2.2-0.4 0.3zM312.9 196.5l0.6-0.8 0.5 0.8-0.5 0.7zM218 197.5l2.5 0.6 1.2 2.4-2.2-0.1-1.6-1.9zM314.5 197.4l0.4 3.1-0.4 0.5-0.6-2.5zM189.5 198.1l0.4 1.4-0.4 1.2-0.4-2.2zM204.5 199.8l2.2 2.7 0.8 3.1-2.6-3.1-0.8-2zM190.5 200.8l0.4 1.7-0.4 0.9-0.4-1.9zM225.3 202.5l0.6-1 1.6-0.2 2 0.9 0.8 1.3-0.8 0.7-2 0.2zM244.2 201.5l-0.3 1-3.4 2.4-3 0.4-1.5-0.8 0-1 2.5-1.5 3-0.8zM315.5 201.1l0.4 0.4-0.4 1.7-0.5-0.7zM191.5 203.5l0.5 2-0.5 0.6-0.4-1.6zM192.5 206.1l4.6 12.4 1.7 3-0.2 2-6.3-15-0.3-2zM209.5 207l2.1 2.5 0.4 1-0.5 0.8-2.4-2.8-0.2-1zM189.5 212.3l0.4 2.2-0.4 0.5zM202.5 213.2l1.6 2.3 0.7 2-0.3 1.1-2.4-4.1zM214.5 213.5l1 0.4 1.6 1.6 0.4 2.1-1-0.1-1.2-1-1.1-2zM190.5 215.3l0.4 2.2-0.4 0.6-0.4-1.6zM375.5 215l1 0.5-0.3 1 1.2 2-1.9 2.9-1.3-1.9 0.3-1 0.2 1 0.8 0.4 0.7-0.4-1.7-1-0.2-1 0.4-2zM416.2 215.5l0.3-0.4 5 4.7 6 4.2 7 2.7 6 0.6 4-0.4 5-1.6 4-2.3 1 0 0 8-6 2.1-5 0.3-4-0.3-6-2.1-5-2.8-6-4.7-3.1-3zM191.5 218.3l0.4 2.2-0.4 0.5-0.4-1.5zM372.2 218.5l0.3-0.7 1.9 0.7-1.9 0.8zM371.5 219.1l0.9 0.4-0.9 2.6-0.5-2.6zM220.8 220.5l0.7-0.5 2 1 1.3 2.5-1.3 0.5-1-0.6-1.5-1.9zM377.5 220.2l0.7 0.3-0.7 2.9-0.5-2.9zM192.5 221.2l0.5 2.3-0.5 0.5-0.4-1.5zM206.5 220.6l1.6 1.9 0.7 2-0.3 1.1-2.1-3.1-0.3-1zM341.5 220.7l0.8 0.8-0.8 0.8zM257.5 222.2l-1.4 2.3-5.6 4.3-3 1.1-2.7-0.4-0.2-1 2.5-2 7.4-3.7zM374.9 222.5l0.6-0.8 0.6 0.8-0.6 0.5zM376.5 223.3l0.7 0.2-0.5 1 0.8 1 1-1.6 0.6 0.6-0.6 1.5-2.4-0.5zM193.5 224.1l0.4 2.4-0.4 0.4-0.5-2.4zM342.5 225.4l0-1.4 0.7 0.5zM200.5 225.9l1.4 2.6-0.4 1.9-1.5-2.9zM229.8 226.5l1.7-0.8 2 0.4 1.9 1.4 0.2 1-1.1 0.7-2 0.1-1.5-0.8zM373.5 227.2l-0.5-0.7 0.5-0.9zM194.5 227.1l0.4 1.4-0.4 1.1-0.4-2.1zM322.5 227l0 2.5-0.5-2zM211.5 228.6l1.6 1.9 0.4 2.5-1-0.5-1.4-2-0.2-1zM190.5 230.3l0.4 2.2-0.4 0.7zM195.5 229.8l0.8 2.7-0.8 0.2-0.5-2.2zM380.5 229.6l0.5 1.9-0.5 0.2-0.5-1.2zM323.5 231.8l1.3 2.7-0.3 0.9-1.4-1.9zM196.5 232.6l0 2.2-0.4-1.3zM203.5 233.1l1.6 2.4 0.6 2-0.2 1.1-1.5-2.1zM191.5 233.6l0.4 1.9-0.4 1-0.4-2zM382.5 235l1.6 2.5-0.6 1.8-1.3-0.8 0.8-1-0.5-0.6-1.3-0.4zM217.5 236.7l1.7 1.8 0.6 2-0.3 0.5-1-0.3-1.7-2.2-0.2-1zM327.5 236.6l1 3.6-1.3-1.7-0.2-1zM198.5 237.8l0.7 2.7-0.7 0.3-0.5-2.3zM325.5 238.1l0.5 1.4-0.5 0.5zM193.5 240l0.5 2.5-0.5 0.4-0.4-1.4zM208.2 242.5l1.5 2 0.3 1-0.5 1.2-1.5-2.2zM312.5 243.3l0.5 0.2-0.5 2.2-1-1.2zM380.5 243.2l0 1.7-0.4-0.4zM433.7 243.5l0.8-0.4 6 4.8 5 2.8 6 2.2 3 0.1 0 6.3-2-0.5-7-4-6-5zM224.2 245.5l1.3-0.4 1 0.6 2 2.9-1 0.9-1-0.3-1.7-1.7zM381.5 245.2l0.4 0.3-0.4 1.3-0.4-1.3zM201.5 245.7l1.2 2.8-0.2 1.7-1.5-2.7zM330.5 245.8l0.7 1.7-0.7 0.8-0.6-1.8zM382.5 247.4l0 2.2-0.4-1.1zM385 247.5l0.5-0.6 0.6 0.6-0.6 0.8zM312.5 248.2l1.3 1.3-0.3 0.7-1 0zM191.5 249.4l0.4 2.1-0.4 0.8zM196.5 249l0.4 1.5-0.4 1.4-0.5-2.4zM383.5 250l0.4 1.5-0.4 0.4-0.4-0.4zM212.5 251.4l1 0.1 1.4 2 0.1 2-0.5 0.2-1.6-2.2zM384.5 252.2l0.4 1.3-0.4 0.5-0.5-0.5zM236.3 253.5l2.2-0.7 2 0.3 2.3 1.4 0.4 1-1.7 1.1-2 0.3-2.7-1.4-0.6-1zM390.5 252.9l0.4 0.6-0.4 1.3-0.5-0.3 0-1zM385.5 254.3l0 1.6-0.4-0.4zM205.5 255l1 4.1-1-0.9-0.8-2.7zM330.5 254.7l1.3 1.8-0.3 1.4-1.3-1.4zM391.5 255.1l0 1.8-0.6-1.4zM198.5 256l1.4 2.5-0.4 2.2-1.1-3.2zM386.5 256.4l0 1.7-0.4-0.6zM396.5 258.4l0.4 1.1-0.4 0.5-0.4-0.5zM194.5 259.4l0 2.7-0.4-1.6zM331.5 258.7l1.3 0.8-0.3 1.4-1.4-1.4zM397.5 260.2l0 1.6-0.4-0.3zM219.5 261.2l1.5 1.3 1.1 2 0 1-0.6 0.6-2.2-2.6-0.3-1zM332.5 261.8l1.3 0.7-0.3 1.2-1.5-1.2zM209.5 264.2l1.3 2.3-0.3 2.2-1.4-2.2zM333.5 264.9l1.2 0.6-0.2 1.2-1.4-1.2zM399.5 266l-0.4-0.5 0.4-1 0.4 1zM202.5 266.3l0.6 2.2-0.6 0.9-0.6-1.9zM402.5 266.2l2.4 3.3-0.4 1.2-2.3-3.2zM196.5 266.7l0.5 1.8-0.5 1zM319.5 267.9l0.3 1.6-1.3 1.2-0.3-1.2zM228.5 272.6l2.4 0.9 1.5 2-0.1 1-0.8 0.3-2-0.9-1.4-2.4zM205.5 275.3l1.5 2.2-0.5 2.1-1.2-3.1zM214.5 274.7l1.6 1.8 0.4 2.6-1-0.1-1.3-2.5zM199.5 276.1l0.5 2.4-0.5 0.6-0.4-1.6zM194.5 276.6l0 2.8-0.4-1.9z"/>
<path fill="#6b738a" d="M205.6 23.5l0.6-1 1.3-0.8 8 0.5 17 2.7 4 0 0.2 0.6 3.8 1.1 0.8-0.1-0.3-1 2.5-0.7 3.1 1.7-1.3 1 2.2 1.2 1.1-0.2-0.8-1 1.6-1-1.2-2 7.3 0.8 2 0.7 4 0.1 2 0.9 2.2-0.5-3.2-0.4-1-0.9-3-0.3-2-0.9-3-0.2-2-1.1-3.7-0.2 34.7-0.4 5.2 0.4-0.1 1-5.1 8.5-1-1-3-0.7-2.3 0.2 5.3 2.3 0 1.2-1.9 2.5-0.1 1-0.4 0-0.6-2.2-1.6 1.2 1.6 1.2 0 1.8-0.9 1-3.1 6.8-4.7 7.2-5.3 10.3-0.9-0.3-1.1-2.9-1 0.4-2 2.4-0.7 4.1 0.3 2-0.6 1-1 0.3-2-1.6-2-5.6-1-0.9-1 0-4 3.2-2-1.2-2.3-4.2-4.7-4.2-2.8-4.8-3.2-1.3-3-4.3-3-1.3-2-3.1-2-1.4-6-6.8-4.4-3.8zM255.4 28.5l1.9 0-0.8-0.4zM265.9 27.5l1.6 0.6 1.6-0.6-1.6-0.4zM269.7 28.5l0.8 0.4 2.1-0.4zM271.3 23.5l2.2 0.4 1-0.4-1-0.6zM359.5 23.6l1.1 0.9-0.1 1 0.7 1 0.1 1-0.8 0.4-1.2-1.4zM405.4 26.5l1.7 0-0.6 0.4zM407.7 27.5l4.8-0.1 10 2.9 1 0.8 4 1.1 1-0.2 0.7 1.5-2.7 0.1-1-0.6-1 0.4-2-1.2-1 0.6-1-1.5-1 0.4-5-2.5-2 0.7-1.3-0.4 1.3-0.5 0-0.9-2 0.7zM437.4 29.5l1.8 0-0.7 1.2zM415.1 31.5l0.4-0.3 1 1.2 2 0.9 1-0.1 1 1.1 1 0.1 0.7 1.1-0.7 0.5-4.6-2.5-0.4-0.9-1.2-0.1zM409.4 32.5l1.3 0-0.2 0.4zM365.5 34.8l2-0.5 2.6 0.2 3.4 3.2 1.7 0.8 0.4 1 13 13-0.1 2 0.7 1 0.8 0 0.5-0.7 0.5 0.7-0.6 1 1.1 2.6 2.2-0.6 0.8 2-2 2.8-1.3 0.2-2.8-4-5.8-5-12.1-13-5.6-5zM396.4 34.5l1.4 0-0.3 0.6zM412.4 34.5l0.1-0.4 1.4 0.4-0.4 0.4zM414 35.5l0.5-0.5 0.9 0.5-0.9 0.4zM433.3 35.5l2.2-0.6 0 1.7zM399.5 35.9l9.3 6.6-0.3 0.6-1.6-0.6-7.7-6zM308.5 37l0 1.8-0.8-0.3zM376 37.5l0.5-0.4 7 6.1 6.4 6.3-0.4 0.6-7-6zM434.5 37.7l0.2 0.8-2.1 4-3.1 4.3-0.6-1.3 1.5-1-0.2-4 1.3 0.6 1-2.3zM413.5 47.1l7 5.4-0.6 1-0.5 0-6.1-6zM423.5 48.1l1 0.3 1 1.3-1.2-0.2-1-1zM390.5 50.1l1.4 1.4-0.4 0.7-1.6-1.7zM427.5 50.3l0.3 1.2-1.2 1-0.1 1-0.5-3zM352.5 51.1l2.3 7.4 0.2 2-0.5 1-2.4-7-0.3-3zM316.5 52.2l0 2-0.6-1.7zM174.9 53.5l0.9 0 9.4 13 8.1 10 13.2 13.1 9 6.1 5 2.2 7 1.4 4-0.3 2.1 0.5-9.1 0.6-3-1.1-2-0.1-5-2.2-6-3.8-6-4.9-8.2-8.5-9-11zM186.5 52.9l15.8 16.6 8.9 8 12.3 8.5 3 0.9 2.7 1.6-0.7 0.5-2 0-3-1.9-3-1-5-3.1-8-6.3-10.5-10.2-10.8-13zM392.9 53.5l0.6-0.4 11.5 12.4-0.5 1-2.4-2-2.9-4zM291.5 53.6l0.5 0.9-2.5 3.7-1 0.3 0.7-2zM420.8 54.5l0.7-0.6 1 0.3 2.4 2.3-0.4 1.4-1 0zM414.5 59.2l5.7 5.3 0.3 1.2-1 0.2-4-4.6zM453.5 59.2l1 0 0 1.3-1 0zM393.7 65.5l0.8-2 1-0.2 1 0.5 1-1.1 1 0.3 2 2.4 1 0 0 1.3 1.3-0.2-0.4 1-2.4 2-2.5 1.3-1 0-2-2.3zM176.5 66.4l0.4 1.1-0.4 0.4zM405.5 67l1 0 6 6 2.3 1.5-0.3 1.6-1 0.9-1.3-0.5 1.1-1-7.8-7.5zM177.5 68.1l0 1.4-0.4-1zM229.5 67.5l1.7 2 0.2 1-0.9 1.5-1.5-0.5-1-2 0.2-1zM324.5 68.8l0.3 1.7 0.7 1-1 1.7-0.4-2.7zM399.3 71.5l3.2-2.1 1-0.3 1 0.8 1-0.6-0.5 1.2 1.5 1.5 1.2-0.5 0.6 1-0.2 1 1.3 1-0.5 1 0.6 0.3 1-0.7 0.5 1.4-2.5 0.3-6-1.5-3-2.5zM139.5 69.8l1 0 0.6 95.7 0.5 2 0.3 71-0.4 0.6-2-0.2zM179.5 71.1l0.5 1.4-0.5 0.2-0.5-1.2zM235.5 70.6l1-0.1 1.5 3 0.1 2-1.6 0.8-1.4-0.8-1.1-2-0.2-1zM181 74.5l0.5-0.4 0.6 1.4-0.6 0.2zM323.5 73.7l0.5 2.8-2 8-6.5 21-0.1-3 2.6-11 3.9-14zM241.5 76.5l2-1.1 1 0.7 1.5 2.4-0.5 0.9-1 0.5-1.4-0.4-1.1-1zM182.5 75.7l11.9 15.8 9.1 9.2 4 3 6 3.1 6 1.5 4-0.2 2 0.4-3 0.5-6 0-6-2.1-5-3.1-7-6.2-6.4-7.1-10-14zM283.3 77.5l-0.8 1-1.2 0 1.2-1.4zM372.5 77.3l0.8 1.2-0.2 1 3 1 3.4 4.1 6 5.9 9 5.8 2.8 1.2 2.2 0 0.2 1-0.8 1-1.7 1-8.7-3.4-5-3.1-8-6.5-1-0.1-2.4-6.9zM403.3 79.5l5.2-1.3 3 0.1 1-0.5 0.3 1.7-3.3 5.1-3-3zM295.5 79.1l0.9 0.4-2.9 6.9-0.6-0.9 1-5 0.5-1zM249.9 80.5l4.6-0.6 0.2 0.6-1.2 2-2.8-1zM349.5 80.3l2.3 3.2 0 1 2.9 7-0.2 2.4-1.1-1.4-2.2-5zM282 81.5l-1.5 3.1-0.2-3.1zM269.8 82.5l-4.1 6-4.2 8.9-1.1 1.1 0-2 4.6-8 1.4-5 2.1-1.2zM399.5 82.9l1.1 0.6-0.1 0.9-1.3-0.9zM180.5 84.1l0 1.5-0.4-1.1zM429.8 85.5l0.7-0.1 1.4 1.1-1.4 0.3zM403.2 86.5l0.3-0.4 1.2 0.4zM182.5 87.3l0.4 1.2-0.4 0.4-0.4-1.4zM430.1 87.5l0.1 1-1.7 2.1-2 0.8-0.9-0.9 1.9-2.3 2-1.1zM183.5 89l1.5 2.5-0.5 0.5-1.4-2.5zM229.7 89.5l2.8-0.5 4 1.3 5-0.3 3.5 0.5-3.5 0.5-8-0.1zM450.1 90.5l-2.6 2.4-2 4-0.9 3.6-11.7 25-7.5 13-5.4 8-5 6-4.5 4.2-7 4.7-7 3-1.4-1.9 0.4-1.9 3-0.7 2.7-1.4 5.3-3.8 5-5.2 8-10.9 4.4-8.1 0.6-0.2 1.5-3.8 1.5-1.8 1-3.4 0.9-0.8 1.1-3.6 9.4-21.4 0.1-3 5.5-1.9zM185.5 92.1l0.8 1.4-0.9 0-0.4-1zM186.5 93.6l5.6 7.9 4.4 5 8 7.1 4 2.3 5 1.9 5 0.4 4-0.8 2.5 0.1-3.5 1.5-6 0.1-5-1.1-5-2.4-5-3.6-6.3-6.5-8.1-11zM428 95.5l-3.5 3.7-5.6 9.3-5.1 7-9.3 9.7-5 3.8-4 2.1-5 1.9-4 0.7-0.6-1.2 0.6-1.8 2.1-0.2 5.9-2.4 7-4.6 3-2.9 9-11.3 5.3-8.8 0-1-0.9-1 5.6-2.4zM454.5 281.8l0 33.7-315 0 0-62 2 0.2 1.7 1.8 2.3 1 1 2 4 21 2 6.5 1 1.2 1.3-0.7-2.9-14-0.2-3 0.8-4.3 1 0.7 4 9.7 1 0.7 2 3.7 1 0.1 1 1.3 1 2.4 5 3.7 1-0.7 1 1.5 2-0.6 1 1.7 1-0.2 1 0.6 1-1.3 1 1.7 1 0.2 1-1.5 1 1.9 1-0.8 1 1.2 1 0.2 1-0.7 1 1 2 0.2 1-1.3 1 1.6 2 0 1-0.7 1 1.3 2 0.2 1-2 1 2.2 4 0.3 1-4.7 1 4.8 5 0.3 1.1-0.4 0.9-6 1 6.6 9 0.1 1-5.7 1-0.6 1 6.2 14-1.6 13.5-4 1.5-2.9-0.2-3.1 0.4-1 4.8-3.5 6.4-6.5 3-4-0.4-1.3 1.1 0.3 1.3-2-0.5-1 1.3 0 0.2-1 1.6-2 12.6-22 4-9 4.3-7 0-1 0.9-1 3-8 2.9-5 0.3-1.4 0.9-0.6 0-2 1.9-3 0.1-2 1.8-5 2.9-6 1.4-4.4 0.8-0.6 0.2-2.1 1-0.9 0-1.7 0.8-1.3 3-11 4.1-12 0.8-1 0.3-2.1 0.8-0.9 0.2-2.3 0.8-0.7 0.2-2.5 0.8-0.5 0.1-3 0.8-1 0.3-2.8 7.9-29.2 0.7-1 0.1-2 1-2 1.3-6.7 1.2 0.7 1.1 4 2.7 5 2.2 6 0.8 0.6 2.4 5.4 7.9 14 16 22 10.9 13 9.9 13 7.6 11 4.2 13 7.8 20 5.5 12 0 1 1.3 1 1 3 1.9 3-0.1 1 4.1 6-0.1 1 8.2 12 7.6 9 4 3 0.6 1 0.3 2.4 2 0.2 2 2.6zM334.5 107.8l0 0.9 1.3-0.2zM336.5 103.5l-1.7 3 0.7 0.7 1-1.1 0.6 0.4-0.6 3-1 1 0.3 1-0.4 1 0.1 0.8 2-1.2 0.2 1.4-1 1-0.4 2 0.2 1.2 1 0-0.1-1.2 1.2-1 0.2 2-1.5 2 0.2 2.4 1.4 0.6-1.2 4 0.8 0.2 1-0.6 0.5 0.4-1.2 2 0.3 1-1.9 2 1.1 1-0.6 1 0.8 0.8 0.8-1.8-0.5-1 1.7-1.3 0.9 0.3-0.9 0.4-0.9 1.6 0.5 1-2 2 1.4 1 1-1.6 1.8-0.4-0.8 0.3-0.8 1.7 0.4 1-2 2 1.4 0.8 1-1.5 1.5-0.3-0.5 0.1-0.8 1.9 0.5 1-0.6 1 2.1 0-1 2 0.5 1-1.9 2 1.2 0.7 0.1-0.7 0.9-0.7 0.6 0.7-0.5 1 0.5 1-1.8 2 1 1-0.4 1 0.6 0.8 1-1.8 0.5 1-1.8 2 2.3-0.6 0.3 0.6-0.3 1-1-0.9-1 1.9 1.3 2-0.4 2 1.5 0-0.8 1 0.9 1-0.7 4 1.6 0-0.7 1 0.8 1-0.3 1 1.2 1-0.6 1 1.8 0-1.1 1 1.2 1-0.7 0.7 0 0.8 1 0.4 1-1.9 1.3 2 0.1 3 1.8 0-0.8 2 1.4 4-0.6 1 1.3 1-0.5 1-1-0.5-1 1.5 1 1.3 1 0.1-0.8-1.4 0.8-0.9 1.5 1.9-0.9 1 0.9 1-1.3 1-0.3 1 1.1 1.9 0.7 0.1-1.2 1 0.9 1-0.7 1 1.6 2-0.6 1 0.6 1-0.6 1 0.3 0.5 1-0.9 1 0 0.2 0.4-1.5 1 1.1 2 0 3 0.6 0 0.1-1 0.7 0 0.4 3-0.5 1 0.9 0.4 1.5-1.4-1-1 0.5-0.9 1.5-0.1-1 1 1.5 1.8 1.5 0.2-1.5 0.2-1 1.2-1-0.8-0.4 0.4 1.4 1.6 1-1.1 1 1.3 2-1.1-0.4 1.3 1.2 2-0.8 0.4-2-2.3-0.5 0.9 1.6 2-0.6 1 0.5 0.4 2-0.8 0 1.1-1-0.6-0.3 0.9 0.6 1-0.3 1.2 1.6-1.2-0.3-1 0.9 0-0.2 2.5-1-0.3-0.5 0.8 1.5 2-0.7 1 1.5 2-0.5 1 0.9 2-0.3 1 1.6 3-0.1 2-0.8 0-0.2-2-1.4-2.8-0.4 0.8 0.9 2 0.1 2 1.4 2.8 0.7 0.2-0.2 2-1 1 0.5 0.7 0.5-0.7 0.8 0 0 1-1.3 0.7-0.1 1.3 1.1-0.7 0.6 0.7-0.4 2 0.8 0.5 1-1.2 0.5 0.7-0.8 2 2.3 2 0 1.3 0.6-0.3-0.5-1 1.9-1.4 1.5 1.4 0.2 1 0.6 0 0.7-1 1.1 1-0.1 1.3-1-1-0.5 0.7 1.5 1.8 1.1-0.8 0 1-1.3 2 0.2 1 0.5 0 0.5-1.1 1.2 1.1-0.2 1.4-1-1.3 0 1.6 0.9 0.3-2 3 0.1 0.6 2-1.3 0.4 0.7-0.6 1 0.8 1-0.3 1-0.7 0 0.2-1-1.1 0 1 3-0.5 1 1.8 1.3 2.7 0.7 0.3 1.9 0.7-0.9-0.3-1 1.1 0-0.4 1 0.9 3 1-0.3 1 2.1 1-0.6 1 1.2 1-1.4 1 1.6 6-1.7 1 1.7 1-1.3 2-0.3 1 0.4 1-3.8 1 3.9 2.1-2.5-0.6-1 3.7 0 0.8 2.1 0.4-2.1 0.6-0.6 1 0.2 1 1 2.4-2.6-0.4-1.1-2 2.3-0.4-1.2 0.8-1-0.8-1 0.4-0.6 1 1 0.3-0.4-1.3-2.4-2 2.2-1.3-1.8 1.7-3-0.4-1.8-1 0.4-1 1.2-0.5-0.8 0.9-1 1-3-0.4-0.4-3.2 4.4-0.2-1 1.8-3-0.6-2 0.9-1 0-1 1.7-3 0-1-0.4-0.7-5 9-0.5-1.3 1.8-3-0.3-1.4-2.2-2.6 0.2-1.5 1 1.2 0.5-0.7-1-1 0.1-1 1.7-3 0.2-2-0.7 0-4.8 9.3-0.4-1.3 1.7-3 0.3-2 0.6-1-0.2-1.6-1 2.1-1 0.2-0.5-0.7 0.1-1-0.8 0-0.4 1 1.1 2-0.5 2.2-0.1-1.2-4.1-6-0.2 2 2.6 4-0.2 0.6-1 0.4-4-7.8-1.3 1.8 1.8 1-1.5 0.9-1-1.4-1 1.1-0.8-0.6 2.7-2-0.3-1-1.6 0.4-1 1.1-0.3-0.5 0.4-1-1.1-0.3-1 2-0.4-1.7-1-1 0.4-1.7 1 0.5 0.7-0.8-0.7-0.5-2.3 0.5-2.9-8 0.2-1.9 1.9-1.1-2.2-2 0.3-0.4 1.1 0.4-1.5-2 1-1-1.1-1 2.1-2-1.2-1 0.9-1-1.3-0.5 0.4-1.5-2-2 1.2-1-0.8-1-0.7-3-1.3-1 0.6-1-3.2-7-0.2-2-2.3-1 1.8 2-0.5 0.8-1.4 0.2 0.8-1-0.4-0.8-1 1.6-0.3-0.8 0.6-1-1.5 0 0.6-1-1.8-2 0.5-1-1.1-1.4-0.6 2.4 1.1 1 0.2 1-0.7 1.4-1.3-4.4-1.1-2 0.1-1-1.1-2 0.3-1-0.4-1 0.5-0.5 1 1.4 0.5-0.9-0.9-1 0.7-1-1.6-3 0.6-1-1.7-2 0.6-1-0.5-1 0.5-1-0.7-1 0.5-1.4-1-1-1 0.4-0.2-1 0.4-1-0.5-1 0.6-1-0.3-0.6-1 1-0.4-0.4-0.1-2-1.5-2.1-1 1.5-0.4-0.4-0.3-3-0.7-1-0.4-2-1.1 0-0.1 0.4 0-3.7-1 1.4-0.4-1.1 0.5-4-0.4 0 0.2 1-0.9 0.6-0.6-0.6 0.6-4.9-1 1.4-0.4-0.5 0.6-2-0.2-2-1 1-0.4-1 0.6-2-0.2-1-1.2 0 0.2-3.3-1.3-0.7-0.7-2.7-3.5-4.3 0.2-1-2.5-4 0-1-1.2-2.2-1.8-1.8-0.9-3-1.8-3-0.5-2.5-1.3-1.5-2.7-6.9-1-0.8-0.1-1.3zM379.5 196.1l-0.6 0.4 0.6 1.7zM405.5 221.3l-0.4 1.2 0.4 0.7 0.4-0.7zM406.5 223.6l-0.5 0.9 0.5 1.2 0.4-1.2zM407.5 226l-0.4 0.5 0.4 1.9 0.4-0.9zM407.8 228.5l2.2 6 0.9 1 0.2 2 1.6 2-0.2 3 1-0.8 1.6 3.8 1.4 2 0 2.2 1 0.2 3.3 6.6 1.1 1 4 7 4.3 6 5.3 5.7 1-0.5 0-0.6-2.2-1.6-8.7-12-6.5-11-10.5-22zM285.5 239.8l-0.6 1.7 0.6 1.2-1 0.6-0.2 2.2 1.9 6-0.4 2 2.3 11 0.6 1 1.7 8 3.1 0.6 1.2-0.6-1-5-2.9-10-0.3-3.4-3.5-8.6-0.3-2 0.8-0.6 0-0.8-1.1-2.6zM293.5 222.6l-1 2.2-1.1 5.7 0.9 4 1.3 2-0.4 1 1.3 6 0 3 7.1 27 0.9 1.1 3 0.7 1.7-0.8 0.6-1-0.8-4-2.1-6-0.4-3-1-0.8 0-2-0.9-2.2-2.1-10.5-3.5-11.5-0.7-1-1.4-8zM302.5 202.5l-0.4 3-1.6 1.1-0.8 4.9 3.8 20.3 5 17.7 0.7 5 2.3 5.9 1.2 5.1 1.1 2 1 5 1.2 2 1.7 1 0.8 2.5 1-0.8 1 0.4 0.9-2.1 1.5-1 0.1-2-1.8-7-0.9-1-2.3-7-14.5-54zM312.5 177.3l-3 7.1-1.1 6.1 3.6 16 4.5 17 0 2 1.1 2 5 17 0 2 1.2 2 0 2 1.7 4.5 0 1.5 1 1.1 0.3 2.9 1 1 3.4 11 1.3 2.4 2.3 0.6 0.7 2.8 1 0.2 1-0.5 1 0.9 1-4.3 1 2.9 1-3.3 1.9-0.7-5.9-16.5-0.2 1.5-0.8 1.2-3.5-11.2 0.7-1-0.2-2.5-0.2 1.5-0.8 0.8-0.2-0.8 0.5-3-0.3-2-1 1.8-0.4-0.8 0.4-0.9 0.8-0.1-0.8-3.2-1 2.1 0.2-4.9-1.2-3.5-1 2.1-0.3-1.6 0.7-1-0.4-2.6-1 1.6-3.2-10-0.1-2-0.7-1.3-0.1-2.7-1.1-2 0.4-2-1.5-2 0.3-4-1 1.6 0-5.1-1 1.5-0.1-3-0.9-0.7zM337.5 127.6l-0.7 1.9 0.7 0.7 0.5-1.7zM339.5 136.5l-0.6 1 0.6 0.6 0.4-0.6zM340.5 140.6l-0.6 0.9 0.6 0.6zM342.5 148.5l-0.5 1 0.5 0.5zM351.4 176.5l-1.8 0-0.6 1 0.5 0.3zM354.5 191.8l-0.6 0.7 0.6 0.8zM387.5 230.9l-0.6 1.6 0.6 0.5 1.3-1.5zM372.5 189.7l-0.5 0.8 0.5 0.4 0.5-0.4zM383.5 202.5l0 2.3 0.5-0.3zM385.5 207.6l-0.4 0.9 0.4 1.2 0.4-1.2zM408.5 243.8l-0.6 1.7 0.6 0.3zM416.5 257.6l-0.4 0.9 0.4 0.7zM419.7 275.5l2.5 0-0.7-0.4zM324.5 143.2l-2 2-0.6 1.3 0 2-1.8 6 0 1 0.8 1-0.3 2-1.2 2 1.1 1.4 0.6-0.4 0.1-1 0.7 0-0.2 2-1.3 2 1.1 1.4 1-0.1-1.2 2.7 0 2 2.2-0.2-1 1.4-0.2 2.8 1.6 0-0.6 1-0.1 3 0.9 1 0.1 3 0.8 1 1 6 0.8 1 0.3 3 1 1-0.1 2 0.5 0.9 1-1.1 1 0-1.4 2.2 0 2 0.4 0.5 1-0.9 0.5 0.4-0.9 1 0.3 3 1.1-1.1 1 0-1.4 2.1 0 2 0.9 1 1 6 0.9 1-0.6 4 0.2 0.7 1-1.7 0.5 1 0 2 0.9 1 0 2 1 1 0.1 2 1.1 1-0.1 2 1.1 1-0.1 2 1 1 0 2 1.2 2-0.2 1 1.2 2 0.1 2 0.8 1-0.3 1 1.2 2-1 3 0.5 1.4 1-2.1 0.5 0.7-0.8 3 0.3 0.8 1-1.5 0.3 0.7-0.7 3 0.4 0.4 0.5-1.4 0.8 0-0.6 4 0.3 0.5 1-2.1 0.6 0.6 0 2 1.1 1 0.3 1.7 0.7 0.3 0.3 2.3 1-0.3 0.7-3 0.7 0-1.8 5 0.9 1 0.1 2 0.9 1 0.5 1.9 1 0.7 2-0.3 1 5.1 1-4.7 1 5.2 1-2.6 1 2 1 0.6 1.4-4.9 3.6-0.7 1.1-1.3-1.4-3 1.4-1-1.1-0.5-1 1-0.4-0.5 0.6-1-1.1-1 1.1-1-0.2-1.5-1 1.2-0.9-2.7 0.8-1-0.9-0.2-1 1-0.4-0.8 0.7-1-0.3-0.9-1 0.5-0.4-0.6 0.4-1-1.8-2 0.9-1-1.6-1-2.4-7-1.6-2 0.6-1-0.9-1-1-3 0.3-1-1.3-1 0.3-2-1.7-4 0.4-1-1.5-2 0.3-1-1.1-3-1.3-2 0.3-1-1.5-2-0.4-1.7-2 0.1-0.2-0.4 0.2-0.6 1 0.5 0.3-2.9-1.3-1 0.2-2-1.5-2 0.2-2-1.2-2 0.4-1-0.8-1 0-2-1.3-2 0.3-1-0.8-2 0.4-1-1.3-2 0.1-2-0.9-1-0.6-3-1.2-2-1-3 0.1-2-1.8-3 0.2-1-1.3-4-0.1-3-1-2 0.1-2-1.1-2 0.1-2-1.7-3 0.2-1-0.8-2-0.8-1-0.1-2.3-2.4-3.7 0.9-1-2-3 0.8-1zM341.5 142.6l-1.2 0.9 1.2 0.6zM350.5 177.8l-0.5 0.7 0.5 0.7 0.6-0.7zM388.5 233.2l-0.5 1.3 0.5 0.6 1-0.1 0.5-0.5zM373.5 190.9l-0.5 0.6 0.5 2.5 1-1.5zM393.1 240.5l0.4 0.4 1.4-0.4-0.4-0.9zM347.5 260.9l0 1.7 0.4-1.1zM389.5 236.7l-0.6 0.8 0.6 0.4 0.6-0.4zM387.8 226.5l0.7 0.4 1.2-0.4zM415.5 259.4l-0.4 1.1 0.4 0.5zM416.5 267.8l-0.6 0.7 0.6 0.5 0.5-0.5zM336.5 254.1l-0.4 2.4 0.4 0.2 0.4-0.2zM288.5 97.9l0.1 2.6-1.8 7-2 5-3.3 6 0.2-3 3.5-11zM364.5 98l1.5 1.5 1.5 6-1-0.2-1.3-2.8-1.1-4zM183.5 100.3l0.4 1.2-0.4 0.4zM184.5 102.1l0 1.5-0.4-1.1zM327.5 102.1l0 3.5-0.4-1.1zM347.5 101.7l2.1 2.8 1.3 3-0.4 0.3-2-2.5-1-2.2zM186.5 105.2l0.5 1.3-0.5 0.3-0.5-1.3zM240.5 104.8l0.4 0.7-4.4 4.6-0.5-0.6zM397.6 105.5l-5.1 5.4-6 4.9-4 2.4-0.7-0.7 0.1-1 7.6-5 5.3-5 1.7-1.1zM326.5 105.9l0.4 0.6-0.1 2-2.3 9.4-0.5-0.4 0.1-3 0.8-1 0.2-3 0.9-1zM187.5 106.9l0.4 0.6-0.4 0.8-0.4-0.8zM379.1 107.5l0.4-0.5 2 0.9 5.5 0.6-6.5 1.5zM187.9 108.5l0.6-0.2 3.6 5.2 5.4 6 6 5.3 7 4.1 5 1.9 4 0 1.9 0.7-1.9 1.2-5-0.9-5-1.8-5-3-4-3.1-5.4-5.4-4.8-6zM250.5 112.1l0.2 1.4-2.5 4-3.7 3.8-2.5 1.2 6-8zM231.1 114.5l-3.6 2.3-1.6-0.3 4.6-2.5zM360.5 114.2l1.6 1.3 0.9 2-0.5 0.2-1.7-1.2-0.6-1zM266.4 117.5l-1.9 4-0.3-1 1.2-3zM187.5 118.2l0.5 1.3-0.5 0.3-0.4-1.3zM323.5 117.9l0.5 0.6-0.5 3-0.5-2zM370.5 118.1l1.5 1.4-0.5 0.8-1.1-0.8zM280.5 118.8l0.5 1.7-2.2 7-2.3 4.9-2 2.3 1.6-7.2 2.1-5zM310.5 118.9l0.5 0.6-2.2 9-4.3 11.8-0.3-1.8 1.1-5zM339.5 119.3l0 2.5-1.3-1.3zM188.9 121.5l0.6-0.2 7.7 10.2 8.3 8.2 8 5.3 3 0.3 2.7 1.2-2.7 0.6-2-1.2-3-0.7-5-3.1-8.1-7.6-7.2-9zM322.5 122.1l0 2.9-0.4-1.5zM454.5 123.1l0 17.5-1 0-0.7 0.9-2 6-7 12-7.3 9.7-2 1.6-0.5-0.3 0.5-1.4-1.2 1.4 0.7 1-2.5 3-6 5.1-5 3-7 2.2-10-0.2-1.5-3.1 0.5-1.4 2 0.6 5-0.2 7.5-3 9.5-6.9 7-7.8 3-5.1 2-2 4-8.9 1 0.7 3-7.8 0.9-0.2 1.8-5 1.3-1.7 3-9.7zM412.3 183.5l2.2 0.4 0.5-0.4zM238.2 125.5l-0.5 1-3.2 2.7-2 0.6-1.2-0.3 4.2-3.3zM261.5 126.2l-0.8 3.3-1.8 4-5.4 8.5-2 2.1-0.5-0.6 1.2-3 7-12zM341.5 127.3l0 3.1-0.5-1.9zM186.5 128l0 1.6-0.4-1.1zM411 129.5l-0.1 1-9.4 10-5.1 4-5.9 2.8-0.4-0.8 0.4-1.4 4-1.4 6-4 7.4-7.2 2.6-3.2zM223 131.5l3.5-1.4 2.3 0.4-1.3 1.2-2 0.7zM246.9 130.5l-1.9 3-4.5 4.5-0.6-0.5 6.6-7.1zM374.5 130.1l1.2 1.4-0.2 0.5-1.1-0.5zM188.5 131.4l0.4 1.1-0.4 0.5zM360.5 132.2l1.3 2.3 0.2 1-0.5 0.4-1.3-2.4zM189.5 133.1l0.5 1.4-0.5 0.3-0.5-1.3zM190.5 134.8l0.4 0.7-0.4 0.9-0.5-0.9zM190.7 136.5l0.8-0.2 4.7 7.2 5 6 10.3 9.3-1 0.1-2-1-6-5.4-5.2-6zM272.5 136.5l0.7 1-2.7 7.1-2 2.5 0.8-4.6zM234.7 142.5l-3.2 2.6-2 0.6-1.4-0.2 3.4-2.3 2-0.9zM371.5 142l1.5 2.5 0 1-0.5 0.2-1.4-2.2-0.2-1zM188.5 145.2l-0.4-0.7 0.4-0.9 0.4 0.9zM189.5 145.4l0.4 1.1-0.4 0.6zM220.7 146.5l2.8-0.7 2.2 0.7-3.2 1.1zM190.5 147.2l0.5 1.3-0.5 0.5-0.5-1.5zM315.5 147.8l0 2.9-0.7-0.2 0-1zM392.1 148.5l1.8 0-0.4 0.4zM191.5 149l8.9 13.5 8.7 10-0.6 0.3-2-1.5-7.5-8.8-7.7-12-0.3-1zM313.5 150.2l1 0.5 0.3 2.8-3.3 10.7-0.8-0.7-0.4-2 0.2-1 1 0-0.6-2 1.6-5.6 1.1 0.6-0.6-2zM343.5 151.5l1-0.6 0.5 0.6-0.5 1zM242.5 153.1l-0.5 1.4-3.5 3.8-2 0.9-1-0.1-0.1-0.6 3.1-3.1zM298.5 153.7l0.4 0.8-0.3 2-3.1 7.3 0-2.7zM188.5 156l0.4 1.5-0.4 0.3-0.4-1.3zM345.5 157.9l-0.7-0.4 0.7-1zM189.5 158l0.4 1.5-0.4 0.3-0.4-1.3zM211.8 159.5l1.7-0.5 2.5 1.5-1.5 0.8zM190.5 160l0.4 1.5-0.4 0.4-0.4-1.4zM217.8 161.5l2.7-0.5 1.2 0.5 0.5 1-2.7 0.4zM225.5 162.5l0.5-1 3.5-1 0.8 1-2.8 1.6zM191.5 162l0.5 1.5-0.5 0.3-0.4-1.3zM192.5 163.9l0.6 1.6-0.6 0.3-0.5-1.3zM310.5 164.8l0 2.4-0.6-1.7zM193.5 165.7l5.7 9.8 6.9 10-0.6 0.5-4.2-5.5-7.9-13-0.4-1zM274.5 167.7l0.4 0.8-0.4 1.1zM252.5 168.8l0.1 0.7-1.4 2-3.7 4.1-2 1.5-2.4 0.4 1-2 3.4-3.4 4-3.2zM189.5 171l0.4 1.5-0.4 0.4-0.4-1.4zM366.5 171.2l0 3.4-0.4-3.1zM190.5 173.2l0.4 1.3-0.4 0.6-0.4-1.6zM209.5 173l2 0.8 1.6 1.7-0.6 0.7-1-0.3-2.2-2.4zM349.8 173.5l0.7-0.6 0.5 0.6-0.5 1zM191.5 175.3l0.4 1.2-0.4 0.8-0.4-1.8zM367.5 175.5l0.5 1-0.5 1.4zM269.5 176l0.5 0.5-1.5 4-4.5 6-0.9 2-6.6 6.4-1-0.2 4.8-7.2 4.5-5 2.7-4.6zM192.1 177.5l0.5 0 0.3 2-0.8-1zM215 177.5l1.5-0.4 1.9 1.4 0 1-1.9-0.2zM305.5 177l0.8 1.5-0.9 1-0.9 6-3 6.6-1.7 2.4-0.2 2-0.6 0 0-2 2.8-11 2.7-5.8zM193.5 179.5l0.8 2-0.9 0-0.3-1zM221.8 180.5l1.7-0.7 1 0.1 1.3 1.6-2.3 0.7zM230.5 181.5l3-1.8 2.2 0.8-1.2 1.4-2 0.8-1.1-0.2zM454.5 180.5l0 9.9-1 0-2 2.9-6 6-1-0.4-3 3.2-1-0.2-2 1.9-3 1.2-1-0.3-2 1.6-5 0.5-2-0.3-1 0.5-1-0.6-4-0.4-3-1-6-3.2-1-1.3 0-1.6 3 1.8 5 1.8 7 0.8 1-0.6 2 0.2 1-0.8 1 0.3 1-0.8 3-0.9 1-1.1 2-0.1 5-4.9 1 0.2 2-2.9 4-3.8 5-7.6zM369.5 181.3l0.6 1.2-0.6 2.3-0.4-2.3zM194.5 181.5l6.7 13 1.6 2 0.9 2-0.2 1.1-2.2-3.1-7.3-14zM370.5 185.3l1.2 1.2-1.2 1.5zM190.5 186.9l0.4 1.6-0.4 0.4zM207 187.5l0.5-0.4 1 0.7 1.6 2.7-0.6 0.3-1-0.7zM191.5 189.2l0.4 1.3-0.4 0.9zM192.5 191.6l0.4 1.9-0.4 0.3-0.4-1.3zM212.5 192.6l1.6 0.9 1 2-0.6 0.3-1-0.5-1.3-1.8zM193.5 194l0.5 1.5-0.5 0.6-0.4-1.6zM356.5 196.4l-0.4-0.9 0.4-0.6 0.7 0.6zM194.5 196.2l0.5 1.3-0.5 1-0.5-2zM194.8 198.5l0.7 0 0.6 2-0.6 0.2zM218.1 198.5l0.4-0.8 1 0 1.8 1.8-0.8 1-1-0.3zM297.5 198.1l0 3.4-2 6-2 4.1-2 2-0.1-3.1 1.6-6 1.5-3zM375.5 200l0.6 1.5-0.6 1.2-0.6-2.2zM196.5 200.7l1.5 3.8-0.5 0.5-1.3-2.5zM205.5 201.1l1.6 2.4-0.3 1-1.8-2-0.2-1zM225.7 202.5l0.8-0.9 2 0.2 1.3 1.7-2.3 0.7zM236.7 204.5l0-1 2.8-1.6 3-0.2 0.6 0.8-3.6 2.6zM379.5 201.9l1.5 1.6-0.5 2.4-1.3-3.4zM376.5 203.1l0.6 1.4-0.6 1.2-0.5-2.2zM191.5 203.7l0.4 1.8-0.4 0.4zM198.5 205.1l0.4 1.4-0.4 0.5-0.4-1.5zM192.5 206.2l0.4 1.3-0.4 1.1zM360.5 206.1l0.4 0.4-0.4 2.4-1-1.3-0.6-0.1 0.6 0zM379.5 206.2l0.4 2.3-0.4 0.5zM381.5 206.2l0.6 0.3-0.5 1 0.5 1-0.6 0.6-0.5-0.6zM199.5 207.1l1.3 2.4-0.3 1.7-1.4-2.7-0.1-1zM209.5 207.2l1.5 1.3 0.8 2-0.3 0.5-1.7-1.5-0.5-1zM193.5 208.9l0.4 1.6-0.4 0.7-0.4-1.7zM378.5 209.3l0.4 2.2-0.4 0.6-0.4-0.6zM194.5 211.4l0.4 2.1-0.4 0.3-0.4-1.3zM202.5 213.4l1.5 2.1 0.5 2.5-1.4-1.5-0.8-2zM195.5 213.9l0.4 1.6-0.4 0.7-0.4-1.7zM214.5 214.4l1-0.4 1.4 1.5 0.4 1-0.8 0.8-1.7-1.8zM345.2 214.5l-0.7 1.4-0.1-1.4zM289.5 215.7l0.4 0.8-3.2 8-2.2 2.9-2 1.4-0.4-0.3 1.4-2 0-2 2-5.2 1-1.4zM417 216.5l0.5-0.5 4 3.9 6 4.2 7 2.8 6 0.7 4-0.4 4-1.1 5-2.8 1 0 0 6.9-6 2.2-5 0.6-3-0.2-6-1.7-3-1.3-6-3.9-6-5.5zM197.5 218.9l1.1 2.6-0.1 1.7-1.4-2.7zM221.2 220.5l2.3 0.7 0.9 1.3-0.2 1-1.7-0.2-1.3-1.8zM206.5 221l1.4 1.5 0.6 2.5-1.6-1.5zM255.1 223.5l0.2 1-2 2-3.8 2.5-3 0.5-0.9-1 2.9-2.5 4-1.9zM339.5 225.1l0 1.7-0.5-0.3zM200.5 226.1l1.3 2.4-0.3 1.6-1.4-2.6zM230.5 226.5l1-0.5 2 0.5 1.4 1 0 1-2.4 0.6-2-1.6zM340.5 228.2l0 1.9-0.5-0.6zM385.5 228.3l0.9 2.2-0.9 0.3zM211.5 228.8l1.5 1.7 0.3 1-0.8 0.8-1.2-1.8zM195.5 230l0.4 1.5-0.4 1-0.4-2zM280.5 230.1l0.7 1.4-2.7 5.3-2 1.4-0.8-0.7 1.5-4 1.3-2.1zM341.5 231.2l0.2 1.3-1.2 1.5-0.2-0.5zM342.5 234.3l0 1.7-0.5-0.5zM204.5 234.6l1 3.3-1.4-1.4-0.2-1zM217.5 236.9l1.6 1.6 0.4 2.1-1-0.2-1.5-1.9-0.1-1zM343.5 237.3l0 1.6-0.4-0.4zM198.5 238l0.5 1.5-0.5 1.1-0.4-1.1zM272.5 240.7l0.7 0.8-0.4 1-2.3 2.4-0.1-1.4zM208.5 242.7l1.3 2.8-0.3 0.9-1.4-1.9zM434.7 244.5l0.8-0.4 5 3.9 5 3 6 2.3 3 0 0 5.6-3-1-5.9-3.4-6.1-4.9zM225 245.5l1.5 0.4 1.4 1.6 0.2 1-0.6 0.6-1-0.2-1.5-1.4-0.4-1zM392.5 245.1l0.9 1.4-0.2 1-0.8 0-0.5-2zM201.5 246l1.1 2.5-0.1 1.3-1.4-2.3zM355.5 248.3l0-1.2 0.8 0.4zM393.3 249.5l0.2-1.9 1.3 0.9zM196.5 249.2l0 2.5-0.4-1.2zM375.5 249.3l1.5 1.2-0.5 1.2-1.1-1.2zM356.5 251.3l0-1.6 0.6 0.8zM378.1 250.5l1.1 0-0.3 1-0.7 0zM213.5 251.7l1.3 1.8 0.2 1-0.5 0.9-1.5-1.9-0.2-1zM357.5 252l0.4 0.5-0.4 1.3zM236.7 254.5l0.8-1.2 2-0.2 2.6 1.4 0.2 1-1.8 1-1 0-2-0.8zM349.5 254.4l0 1.7-0.4-0.6zM205.5 255.3l0.6 2.2-0.6 0.5-0.6-1.5zM404.5 255.1l0.5 1.4-0.5 0.7-0.5-0.7zM350.5 257.1l0.4 0.4-0.4 1.6-0.5-0.6zM199.5 258l0 2.4-0.5-1.9zM337.5 260.1l0.5 1.4-0.5 0.6zM351.5 259.8l0.4 0.7-0.4 1.4-0.5-0.4zM219.5 261.6l1 0.5 1.4 2.4-0.4 1.2-1-0.5-1.4-2.7zM408.5 262.2l0 1.6-0.6-0.3zM338.5 262.9l0.4 0.6-0.4 1.2-0.4-1.2zM209.5 264.5l1.2 2-0.2 1.9-1.3-1.9zM353.5 265l0.4 0.5-0.4 1.5-0.7-0.5zM410.5 266l0.4 0.5-0.4 1.2-0.4-1.2zM412.5 266.3l0.6 0.2 0.4 1-1 0.2zM196.5 267l0.4 1.5-0.4 0.8zM202.5 266.5l0.5 2-0.5 0.7-0.5-1.7zM354.5 267.4l0 1.7-0.5-0.6zM411.5 268.1l0.5 0.4-0.5 1.2-0.4-1.2zM263 270.5l-1.3 2-3.2 2.9-0.3-0.9 4.3-4.2zM228.5 273.4l1-0.5 1.1 0.6 1.5 2-0.6 1-2-0.9zM214.5 275.1l1 0.8 0.7 1.6 0 1-0.7 0.3-1.2-2.3zM199.5 276.4l0.4 1.1-0.4 1.4-0.4-1.4zM205.5 276l1.4 1.5-0.4 1.8z"/>
<path fill="#666c86" d="M206.4 23.5l0.5-1 1.6-0.6 14 1.3 14 2.6 3 1.4 3-0.2 5 2.9 2-0.4 1-1.7 1 0 1.8 0.7 0 2 3.2 3.7 3.1-1.7-0.9-2 2.5-1-1.2-1 0.2-2 1.3 0.8 3 0.1 2 1.1-3 1.7-1.5 0.3 1.5 0.3 1.6 1.7-0.6 2 3 3.8 3-0.8-1-3 2.1-1-2.2-2-0.8-2 3.7 0 5.6 2 0 1-0.9 1-0.1 1-1.9 1 1.1 2-0.9 2 0.2 1 1.1 0.3 0.3 0.7-0.3 1.7-6 10.6-0.8-0.3 1.3-5-0.5-2.9-3-2.5-0.3 0.4 0.1 5-0.6 1 0.2 2-0.7 4 1.3 0.9 1-0.7 0 1.2-3 5.9-0.9 0.7-0.1 1.1-0.4-0.1 0.5-3-1.1-1.2-2 0.1-1 0.7-1.6 3.4-0.6 6-0.8 0.6-1-0.2-1.5-2.4-1.1-5-1.4-2-1-0.4-0.8 0.4-1 3-1.2 1.3-1 0.4-1-0.4-2.1-3.3-1-4-0.9-1-2 0.6-1-0.4-4-6.7-1 0.3-2-0.5-3-5.2-2.5-0.1-2.5-4-2-1.2zM255.5 37.3l0 1.6 1 0.3 0.7-0.7zM256.5 34.9l-0.4 0.6 0.4 1.3 0.4-1.3zM256.5 39.7l-0.5 0.8 0.5 2.1zM277.3 23.5l1.3-1 6.2 0-1.1 2-1.2 0.3-2-0.1zM254.2 23.5l3.3-0.5 4 1.3 3-1.3 5 0 1 0.9 4 1.2 4 0.2 3 0.8 1 1 2-0.1 0.1 1.5-2.1 3.2-0.6-1.2 0.3-1-0.7-0.8-1 1.6-1 0-14-4.5-2.6-0.3-0.4-0.7-3.5-0.3-1.5-0.9zM359.5 24.9l0.9 1.6-0.9 0.3zM266.7 28.5l1.8-0.1 0 0.9-1 0zM365.9 35.5l1.6-0.6 1.9 0.6 12.1 12.2 3.6 4.8-0.6 1-1-1.3-1 0.2-16.6-15.9zM403.5 39l2.4 1.5-0.4 0.6-2.2-1.6zM426.3 50.5l1.2 0.2 0 1.2-1 0.1zM352.5 51.8l1.6 5.7-0.6 0.6-1.2-3.6zM269.5 54.3l0 1.3-0.9-0.1zM291.5 54l0 1.1-2 2.8-0.4-0.4 0.2-1zM421.1 54.5l1.4-0.1 2 1.7 0 1.6-1 0zM188.5 54.9l12 13 7 6.7 9 7 7.6 4.9-1.6 0.2-2-0.7-5-3.1-10-8.1-9.2-9.3-8.3-10zM178 57.5l0.5-0.2 0.6 1.2-0.6 0.2zM354.5 58.1l0 2.7-0.4-2.3zM179.5 58.7l12.8 16.8 10.6 11 3.6 3.2 7 4.9 4 2.2 4.6 1.7-2.6 0.3-6-2.8-5-3.2-6-5-6.3-6.3-6.9-8-10.2-14zM402.7 64.5l0.8-0.3 1.2 1.3-0.2 0.5zM418.7 64.5l0.8-0.4 1 1.4-1 0.2zM397.4 66.5l3.1 1.9-0.8 1.1-1.2 0.2-1-0.7-0.7-1.5zM405.5 67.3l1-0.1 4.3 4.3-0.3 0.7-3-2.4zM229.5 67.8l1.3 1.7-0.3 1.8-1 0.2-1.2-2zM139.5 70l1 0 0.5 95.5 0.6 2 0.3 24-0.4 47.4-2-0.3zM401.3 70.5l1.1 0 0.9 1-0.8 0.5zM235.5 71.1l1 0.1 1 2.3 0 2-1 0.4-1-0.4-1.1-2 0-1zM400.4 72.5l1.1-0.4 3.9 2.4-0.9 0.7-1-0.2zM411.5 72.1l0 1.2-0.8-0.8zM413.5 74l1 0.5 0 1.5-1.6-1.5zM323.5 75l0.2 1.5-1.9 8-4.3 14.4-0.6-0.4 1.3-7 4-14zM242.1 76.5l1.4-0.6 1 0.7 1 2-1 1-1-0.2-1.2-0.9zM183.5 77.2l0.4 1.3-0.4 0.1-0.4-1.1zM412.7 79.5l-3.2 4.8-1-2.9-2-1.2-1 0.4-0.4-1.1 3.4-1 3 0.1 1-0.4zM295.5 79.3l0.4 0.2-1.4 3.6-0.3-2.6zM372.5 78.8l0.1 0.7 3 1 0.9 2 3 3.2 8 6.9 9 4.9 3 0.5 0.1 0.5-2.1 1.9-9-3.7-6-4-8-6.4-2.3-5.8zM251 80.5l3.6 0-1.1 1.8-2.1-0.8zM185.6 81.5l0.9-0.1 0.5 1.1-0.5 0.4zM269.5 82.5l-3 4.5 0.1-3.5 1.9-1.1zM187.9 84.5l0.6-0.3 5.7 7.3 5.8 6 7.5 6.3 8 4 9.6 0.7-8.6 0.4-4-1.2-4-2-4-2.8-6-5.4-6.3-7zM351.5 84.7l2.8 6.8-0.8 0.8-2.1-4.8-0.4-2zM224.3 87.5l0.2-0.5 2 0 2.3 1.5-2.3 0.3zM429.6 87.5l0.3 1-1.4 1.9-2 0.7-0.6-0.6 1.6-2zM230.6 89.5l2.9-0.3 2.8 1.3-2.8 0.3zM237.8 90.5l3.7-0.4 3.1 0.4-3.1 0.4zM263.5 91.4l0.1 1.1-2.1 4.3-0.5-0.3 0.1-1zM447.5 91l0.4 0.5-1.4 2-2 5.3-1 0.8-0.3 1.9-8.5 19-4.6 9-8.6 14-6 7.8-4.2 4.2-7.8 5.5-7 3.1-1.3-1.6 0.3-1.7 3-0.5 3-1.5 7-5.6 8.1-9.7 5.9-8.8 7.2-13.2 10.8-24 0.8-4-0.9-1 4.1-1.5zM187.5 95.1l0.3 1.4-0.7-1zM454.5 282.9l0 32.6-315 0 0-61.8 2 0.2 1.5 1.6 2.4 1 1 2 4.1 21.5 2 6.5 1 0.9 1.5-0.9-2.7-13 0.2-5.6 1 0.9 4 8.8 3 4.1 2 1.6 1 2.1 5 3.5 1-0.4 1 1.2 2-0.3 1 1.3 2 0.4 1-0.9 1 1.3 1 0.2 1-1 1 1.4 1-0.5 1 0.9 2-0.3 1 0.7 2 0.3 1-0.9 1 1.2 3-0.4 1 0.9 2 0.3 1-1.3 1 1.5 4 0.3 1-2.6 1 2.7 6 0.2 1-3.3 1 3.6 9 0 1-2.9 1-1 1 3.8 14-1.6 13-3.4 1-0.9 1.1-1.9 0.4-6 2.5-1.6 6-5.6 8.4-10.8 8.2-14 3.4-7 2.8-4 0.2-1.3 0.7-0.7 3-7 3.2-5 0.1-1 0.4 0-1.3 7 6.4 30 3.4 13 1.4 2 0.7 3.6 2-0.2 1 0.5 1-0.9 0.7-3 1.9-1-0.7-4-3.9-12-3.2-14-4.3-14-1.5-7.1-1-2-1-0.9-0.1-1 0.8-1 2.1-6 2-3 0.2-1.3 0.9-0.7 0.1-1.2 0.4 0.2-0.8 5 0.2 4 3.2 16 4.3 16 2.7 13 3.2 8 1.6 6 1.7 1 1.4 4 1.1 1 2-0.2 2.1-1.8 0.6-3 1.5-2-0.6-3-3.3-10-2.3-3.6 0.1-2.4-1.1-1.4-1-3.4 0.1-2.2-0.9-2-1-6-2.2-4.9 0-1.7-1-2.1 0-1.4-7.5-25.9-1.5-2.4 0-2.5 3.8-10.1 1-1 0.2-1.5 0.8-0.5 0.2-2.2 0.7 0.2-1.2 5 0.5 7 1 2.4 0.8 5.6 3.3 12 2.9 14.9 3.1 7.1 0.5 3 1.1 2 0.1 3 1.1 3 2 10 2.1 5.8 1.4 1.2 0.1 2 1.3 1-0.1 2 0.7 3 2.1 2 0.5 3.2 2 0.3 1 1.5 3 0.3 1-1.7 1 1 3.7-6.6-1-3 0.3-3.5-0.5 1.5-0.7 0-0.1-5-0.7-0.6-1 0.8 0.5-3.2-0.5-0.9-1 1.4-0.5-2.5-3.8-9-3.1-12-0.7-1-0.4-3-0.7-1 0.1-1-0.9-1.4-2.3-6.6-5.1-20-6.6-22-1 0.4 0.3-3.4-0.3-1.2-1 0.8 0-3.6 0 1-1.9 2-0.1 1.2-0.4-0.2 0.4-3.4 2.9-9.6 2.8-7 0.3-2 0.8-1 0.2-1.9 0.9-1.1 0.1-1.6 0.8 0.6-1.8 7 0.6 1-0.4 4 0.8 0.2 0.1 3.8 0.9 0.2 0.3 0.8-0.4 4 1.1-0.5-0.1 4.5 0.1 0.5 1-0.2-0.3 3.7 0.3 1 1-0.5-0.4 3.5 2.7 11 1.7 4.8 1-1.4 0.1 1.6-0.6 1 0.4 2 1.2-1-0.4 4 0.3 0.7 1-1.5-0.4 3.8 2.5 9 0.2 3 0.8 1 2.3 8 0.9 1 1.7 5.6 1-2 0.2 0.4-0.7 3 1.7 5 1.1 6 0.7 0.4-0.2 4.6 0.7 0 0.5-1.3 0.6 5.3 0.4 0.5 1.1-0.5-0.2 4 1.1-1.6 4.8 12.6 1.2 1.3 1-0.7 0.5 0.4 0.5 3.3 2-0.7 1 3.6 1-2.8 1 3.2 1-1.4 2 1.4 2-2.7 1 0.8 1-1 1-0.2 0.6-3.5 3-2-1.6-4 1.1-1-1.1-0.4-0.2-1.6-0.8-0.6-0.7-3.4 1-1-0.3-1-2 0.5-4-8.3-2-0.7-1.1 0.5 0.3-1-0.7-1 0.8-1-1.3 0.2-0.3-1.2 0.3-0.9 1.1-0.1-1.1 0-2-3 0.3-1-0.7-1 0.4-1-0.6-1 0.7-1-1.1-1.5-1-0.4 1.4-1.1-1-1 0.4-3-1.9-3 0.4-1-0.2-2-1.1 0.7 0.1-1.7-1.2-3-1.7-2 0.5-1-0.4-1-1.8-1-0.1-1 0.6-1.1-1-0.3-1.1 0.4 0.6-1-0.5-2-1.1-1 0.4-1-0.6-1 0.7-1-1.7-2 0.6-1-0.6-1 0-2-1-2 0.7-1-0.7-1 0.3-1-1 0 0.5-1-1.5-2.8 0.4-1.2-1.4-2 0.6-1-1.6-2.8 0.1-1.2-1.4-2 0.4-1-1.3 0 0.6-1-1.7-3 0.6-1-2.5-6 0.6-1-0.8-2 0.5-1-1.3 0 0.7-1-0.7-2 0.3-1-1.2-3 0.3-1-4.2-9-0.2-2-1.8-4 0.2-1-1-2-0.1-2-2.4 2 0.2-3 0.7-1 3.2-14 3.1-11 0.7-1 0.4-2.9 0.8-1.1 0.2-2.6 0.8-0.4 0-3 0.9-1 0.3-3.5 1 0.2 0.8 3.3-0.8 0.1-1.2 1.9-0.4 7-0.7 1-0.4 3 0.8 3-0.4 2 0.7 1-0.5 1 1.2 1-0.5 1 0.6 1-0.7 1 0.8 2-0.5 1 0.6 1-0.6 1 0.2 0.7 0.9 0.3-0.5 1 0.6 1-0.4 1 1.1 7 1.4 3-0.4 1 1.5 3 0.5 3 1.3 2-0.1 2 1.3 2-0.5 1 0.3 0.8 1 0.2-0.8 1 0.6 1-0.3 1 0.9 1-0.4 1 0.6 1-0.2 1 0.7 1-0.5 1 0.8 1-0.4 2.2 1.2 1.8-0.5 1 0.3 2.4 1-0.8 0.4 0.4 0 3 1 1-0.6 1 1.7 2-0.2 1 1.9 2-0.6 1 1.1 4 1.6 0-0.8 1 0.8 1-0.7 1 1.3 2-0.2 2 1.6 5-0.6 3 0.3 1.1 1-1 0.4 0.9-0.6 1 0.7 3-0.2 2 0.7 0.4 1-0.8 0.2 0.4-0.5 1 0.5 1-0.7 1 0.5 2.9 1-1.6 1.1 1.7-0.7 3 0.6 0.4 1-2.1 0.5 0.7 0 3 0.5 0.3 1-0.8 0.4 0.5-0.9 1 1.9 2-0.7 1 0.3 0.3 1-0.8 0.4 0.5-0.6 1 1.6 2-0.7 1 1.7 3-0.8 1 0.7 1-0.6 1 0.3 0.5 1-0.7-0.3 1.2 0.6 1-0.7 2 0.5 1-0.4 1 0.8 1 1 3-0.9 2 0.4 1.3 1-1.9 0.5 1.6-0.9 2 0.4 1.3 1-1.3 0.2 1-0.7 1 0.4 3-0.5 1 0.6 0.6 0.5-0.6-0.4-1 0.9-0.3 1-1.3 0.3 2.6-0.8 1 0.5 0.8 1-0.7 1 1.3 1-0.6 2 2.7 1-1.2 0.4 0.7-1.4 2 1 0.1 1-0.7 0.3 0.6-0.7 1 0.4 1 0.5-1 0.7 0-0.3 2 0.5 1-0.6 1 0.9 1-0.5 2 1.8 1.4 2.4 0.6 0.6 2.6 2 1.1 1 1.4 1-0.3 1 1.3 1-0.1 1 1.3 1-0.4 1 0.9 1-1 1 1.2 6-1.1 1 1.2 1-0.9 3 0.1 1-1.3 1 1.4 2-0.9 3-0.5 1 1 1.3-4 0.7-0.4 1 3.9 1-3.6 10.9-0.9-5.5-6 0.2-2-0.6-0.3-3 3.8-1.2 0.5 2.3-4 0.6-2-0.3-1-2-2-0.8-2 1.4-2.9 1-0.3 1.4 3.2 8.6 12 0 1 3.5 3 0.5 3.2 2.6-5.2 2.4-0.2 2.1 2.2 0.9 4.6 2 0.1 2 1.7zM373.1 261.5l0.4 0.4 1.3-0.4-0.3-0.7zM421.5 276.7l-0.7 0.8 0.7 0.8 0.4-0.8zM278.5 254.1l-0.7 0.4 0 1 1.1 2-0.4 0.3-1-0.7-0.2 0.4 1.8 5-0.8 1 0.8 5 1.4 5 2 1.3 1.6-1.3-1.6-8-2-4.8-1.2-1.2 0.6-3zM285.5 238.4l-1 1.2-1.1 4.9 3 17 2.8 12 1.7 2 0.6 2.8 2 0 1-1.3 0.1-1.5 1.2-2-7.6-30-1.7-5.2zM366.5 256.2l0 1.9 0.5-0.6zM426.5 96.3l-11 16.4-5 6.4-6 5.8-5 3.8-4 2.1-5 2-4 0.7-0.5-1 0.5-1.6 3-0.4 7-3 4-3.1 1-0.2 2-2.5 1-0.3 9-11.1 5-8.2 1.3-4.6 3.7-1.3zM189.9 99.5l0.6-0.2 0.6 1.2-0.6 0.2zM222.8 99.5l1.7-0.6 3 0.6 4-0.4 1.8 0.4-8.8 0.5zM316.5 98.9l0.4 0.6-0.4 2.1zM365.5 99l1.5 4.5-0.5 1.5-1.4-3.5-0.2-2zM287.5 100.1l0.3 2.4-1 4-2.3 5.9-1 0.6-0.1-1.5 1.7-6zM191.5 100.7l1.4 1.8-0.4 0.7-1.4-1.7zM192.9 103.5l0.6-0.4 2 2.4-1 0.3zM348.5 103.1l1.6 3.4-0.6 0.2-1.5-3.2zM195.5 105.5l5 5.1 4 3.2 4 2.2 5 2 5 0.4 4-0.8 0 0.9-8 0.4-7-2.2-8-5.7-4.4-4.5zM239.5 105.9l0.5 0.6-2.5 2.6-0.4-0.6zM396.4 106.5l-8.9 8.4-5 3.1-0.5-0.5 0.1-1 7.4-4.8 6-5.6zM379.2 107.5l0.3-0.4 1 0.3 1 0.9 5.2 0.2-6.2 1.4zM190.1 111.5l0.4-0.3 0.5 1.3-0.5 0.1zM250.2 113.5l-0.8 2-1.9 2.6-3 2.9-1.3 0.5 6.3-8.3zM230.9 114.5l-3.4 2.2-1.3-0.2 3.3-2.1zM343.5 114.3l0 1.7-0.5-1.5zM360.5 114.5l1.4 1 0.7 2-1.7-1zM193.6 116.5l0.9-0.2 1.8 2.2-0.8 0.3zM344.5 116.3l0 1.8-0.6-1.6zM345.5 118.3l0 1.8-0.8-1.6zM370.5 118.4l1.4 1.1-0.4 0.6-0.9-0.6zM196.5 118.7l3 2.9 7 5.3 6 2.9 2 0.5 1 1 4-0.3 1.6 0.5-1.7 1-2.9-0.9-2 0-5-1.8-5-2.9-4-3.1-4.4-4.3zM280.5 120l-2.7 9.5-2.3 3.4-0.1-2.4 1.6-5 2.5-4.8zM347.7 123.5l0.8 0 2.3 5 8 12 13.1 17 7.8 9 15.8 21.3 1.9 3.7 0.8 4 7.9 21 5.7 14 2.5 5 0 2 1.3 0-0.2 2 1.1 0 0.9 3 1.2 1-0.3 2 1.2 0 0.1 1 1.2 1 0.5 2 1.2 1 0 1.6 1.1 0.4 1.9 4 2.1 2 0.2 1 1.7 2 0 1.3 1.1 0.7-0.2 1 1.1-0.3 1.4 2.3 4.8 5-0.4 2-0.8 0.6-2-1.4-7-9-5-8.1-0.8-2.1-1.1-1 0-2-1.2 0-1.4-4-1.1-1-2.4-5-0.5-2-1-1-0.5-2-2.4-4-6.9-16-6.1-16-3.6-11.4-0.8 0.4 0.2 2 14.2 38 2.6 5-0.4 3 0.2 0.4 1-1.1 0.4 2.7 1.4 2-1.8 4-0.5-2 0.9-3-0.4-0.7-0.9 1.7-1.1 0.8 0.2-3.8-0.5 0-0.7 1.6-0.6-0.6-0.4-2.9-3-2.1 0.6-1-0.6-1.5-1 1.8-3 1.1-0.4-1.4-1.1-1-0.5-2.1-2 2.8-0.4-0.7 0.7-2-0.3-0.4-1 0.8-0.4-1.4 1.5-2-0.1-1.6-2 2.6-0.5-1 0.6-2-1.1 0.5-0.4-1.5 1.2-2-0.8-0.3-1 1-0.4-0.7 1.6-3-0.2-1.5-2 2.5-0.2-1 1.7-4-0.5-0.6-1 1.7-0.6-1.1 1.1-1 0.1-1-1-4 0.7-1-0.3-1-1 1.4-0.3-1.4 0.9-2-0.6-1-1 1.9-0.9-4.9 0.9-0.8 0.3-1.2-1.3-0.8-1 1.7-2-6.9-1 3-0.4 0-0.3-3-0.6 0-0.7 1.6 0.3-4.6-0.3-0.3-1 2-0.4-2.7-1-1-1.6-4.2-1 2.1-0.4-0.9 0.2-2-1.2-1-0.2-2-0.8-1-1.4-5-0.9-1 0.2-3-1.9-5 0.8-3-0.4-1.9-1 2.5-0.5-0.6-0.5-3-0.9-2-1.1-1-0.9-3-1.1 0.5-1.3-1.5 0.4-1-2.1-2 0-1-2-2.9-1-0.4-2-4.8-6.3-9.9-2.5-5zM372.5 165.2l-0.5 0.3 0.5 2.9zM392.5 185.8l-0.4 1.7 0.4 0.8zM396.5 227.1l-0.6 1.4 0.6 0.5 0.5-1.5zM191.1 124.5l0.4-0.2 0.5 1.2-0.5 0.2zM308.5 124.9l0.5 0.6-0.2 2-3.3 9.4-0.2-2.4zM237.3 126.5l-2.8 2.5-2.2 0.5 0.3-1 1.9-1.6 2-0.9zM454.5 126.6l0 9.6-1 0-0.6 2.3-0.9 1-0.4 5-0.4 0 0-2-0.7-1-2 5.9-1 0.9-1.4 4.2-2.6 2.6-0.5 2.4-1.5 1.7-1-0.4-3 6.5-1-0.5-4 5.8-1 0.1-2 2.9-8 6.3-8 3.1-5 0.7-5 0-1.1-1.2 0.1-2 4 0.6 3-0.3 6.8-2.3 5.1-3 5.1-3.9 3-2.9 2-2.9 1 0.4 3.9-6.7 1.1 0.1 4-9 1 1.4 3-8 1 1.2 0-2.8 1.2-0.9 0.4-2 1.4-2 2-5.6 1-0.2 1-5.1zM193.8 128.5l0.7-0.2 0.8 1.2-0.8 0.2zM260.5 127.9l0 1.6-1.8 4-6.2 9.3-1-0.1 6.7-12.2zM195.5 129.6l10 10.2 4 3 3.5 1.7-0.5 0.7-1-0.1-4-2.4-5-4.1-7.4-8.1zM228 130.5l-1.5 1.5-1 0.2-1.8-0.7 2.8-1.2zM244.5 132.7l0.4 0.8-3.4 3.5-0.5-0.5zM361.5 134.1l0 1.6-0.4-1.2zM191.5 136.4l0.4 1.1-0.4 0.4zM404.3 137.5l-6.8 6-5 3.1-2 0.5-0.4-0.6 0.4-1.2 4-1.4 6-4 3-2.8zM192.5 138.1l0.6 1.4-0.6 0-0.4-1zM271.5 139.1l0.4 0.4-0.4 1.9-2 4-0.2-1.9zM194 141.5l0.5-0.5 4.8 6.5 4.2 4.5 7.7 6.5-0.7 0.2-2-1-4.9-4.2-5.5-6zM233.7 142.5l-0.2 1-2 1.5-2.3 0.5 0.5-1zM371.5 142.3l1.3 2.2-0.3 1-1.3-2zM213.3 145.5l3.2 0 2 1-2 0.5-2-1.4zM450.5 145.2l0 2.1-0.4-0.8zM221.2 146.5l2.3-0.6 1.7 0.6-2.7 1zM190.5 147.3l0.4 1.2-0.4 0.4zM191.5 149.2l0 1.5-0.4-1.2zM193.5 152.5l0.4 1-0.4 0.5zM314.5 151.6l0 2.5-0.6-1.6zM194.5 154.1l0.5 1.4-0.5 0.2-0.5-1.2zM241.5 154.1l-0.5 1.4-2.5 2.6-2 0.8-0.7-0.4 3.7-3.7zM312.5 154.2l1 0.3 0.3 1-0.3 2.2-0.9-0.2zM195.5 157.2l-0.4-0.7 0.4-0.8 0.5 0.8zM195.9 157.5l0.6-0.4 3.7 5.4 8 9-0.7 0.6-5-5.3zM312.5 157.6l0 3.3-1.1-2.4 0.1-0.6zM212.1 159.5l1.4-0.3 2.1 1.3-1.1 0.6zM218.4 161.5l2.1-0.4 0.8 0.4 0.4 1-2.2 0.3zM226 162.5l0.4-1 2.1-0.8 1.4 0.8-2.4 1.4zM311.5 161.2l0 2.6-0.6-1.3zM192.5 164l0 1.6-0.4-1.1zM194.5 169.2l-0.4-0.7 0.4-0.9 0.4 0.9zM195.5 169.3l0.5 1.2-0.5 0.5-0.4-1.5zM251.5 170.5l-5 5.7-2 0.8-0.6-0.5 2.4-3 4.2-3.5zM196.5 171.1l0.6 1.4-0.6 0.3-0.5-1.3zM197.5 172.8l0.4 0.7-0.4 0.9-0.5-0.9zM209.9 173.5l1.6 0.4 1.3 1.6-1.3 0.3zM197.7 174.5l0.8-0.2 4.5 7.2-0.5 0.4zM215.4 177.5l1.1-0.3 1.7 1.3-0.7 0.9-1-0.3zM268.9 177.5l-0.2 2-1 2-3.4 4-1.5 3-3.3 3.6-2 0.9 0.3-1.5 2-3 5.4-6 2.3-4.2 1-1zM304.5 179.1l0.5 2.4-1.7 6-1.8 3.8-1-0.8 1.7-7zM222.1 180.5l1.4-0.6 1 0.2 0.9 1.4-1.9 0.5zM230.9 181.5l2.6-1.6 1.7 0.6-1.7 1.7-2 0zM454.5 181.5l0 8.1-1 0-7 8-2 0.3-2 2.8-2-0.1-2 2.5-3 1.1-1-0.4-1 1.5-1 0.4-5 0.7-1-0.6-2 0.8-1-0.7-4-0.2-7-2.9-2-1.1-1-1.5 0-1.1 5 2.8 7 1.8 3 0 1-0.6 1 0.6 1-0.2 1-0.9 1 0.3 4-1.6 1-1.1 0.8 0.3 0.2 0.9 0.5-0.9 4.5-3.9 2-0.7 2-3.4 2-0.7 7-10.3zM194.5 181.7l0.4 0.8-0.4 1-0.4-1zM203.5 181.9l2 2.6 0.4 1-0.4 0.3-2.5-3.3zM195.5 183.7l0.4 0.8-0.4 1-0.4-1zM196.5 185.6l0.4 0.9-0.4 1-0.4-1zM207.5 187.3l2.2 2.2 0 1-1.6-1zM377.5 188.3l-0.4-0.8 0.4-1 0.5 1zM197.5 189.3l-0.4-0.8 0.4-1 0.4 1zM198 189.5l0.5-0.2 1.5 3.2-0.5 0.5zM200.5 193.1l0.4 1.4-0.4 0.2-0.4-1.2zM212.5 193.1l1.4 0.4 0.9 1-0.1 1-1.2-0.3zM379.5 192.6l0 1.9-0.4-1zM201.5 194.9l1.5 2.6-0.5 0.7-1.4-2.7zM194.5 196.3l0.4 1.2-0.4 0.8zM382.5 195.6l0.4 0.9-0.4 1.3-0.4-1.3zM384.5 196.1l0.4 1.4-0.4 1.2-0.4-1.2zM218.4 198.5l1.1-0.6 1.7 1.6-0.7 0.8-1-0.2zM296.5 200.4l0.4 1.1-1.2 5-1.2 2.8-2 2.7-0.6-1.5 1.1-5 1.5-3.1zM196.5 200.9l0.4 1.6-0.4 0.3-0.4-1.3zM205.5 201.3l1.5 2.2-0.5 0.8-1.4-1.8zM302.3 201.5l-0.8 2.3-1 1.2 1-3.7zM226 202.5l1.5-0.8 1 0.3 0.9 1.5-1.9 0.6zM237.3 204.5l-0.1-1 2.3-1.4 2-0.2 0.9 0.6-0.6 1-2.3 1.3zM197.5 203l0.4 1.5-0.4 0.4-0.4-1.4zM199.5 207.2l0.5 1.3-0.5 0.6zM209.5 207.5l1.3 1 0.7 2.2-1.6-1.2zM200.5 209.2l0 1.8-0.5-1.5zM214.9 214.5l0.6-0.3 1.3 1.3 0.3 1-0.6 0.6-1.6-1.6zM203.5 214.9l0.5 1.6-0.5 0.6-0.6-1.6zM417.1 216.5l0.4-0.4 4 4 6 4.2 7 2.8 6 0.8 3-0.2 5-1.2 5-2.8 1 0 0 5.9-6 2.3-5 0.6-1-0.5-2 0.3-6-1.5-3-1.3-6-3.8-6-5.5zM287.5 218.2l0.5 0.3-0.2 3-2.3 4.2-1 0.3-0.5-1.5 0.9-3 1.6-2.7zM197.5 219.1l0.4 1.4-0.4 0.6zM221.5 221l1-0.3 1.7 1.8-0.7 0.9-1.6-0.9zM207.5 222l0.6 1.5-0.6 0.7-0.7-1.7zM254.4 224.5l-1.5 2-3.4 2.2-2 0.5-1.4-0.7 1.4-1.5 3-1.8 3-1zM390.5 223.9l0.5 0.6-0.5 0.9-0.5-0.9zM200.5 226.3l0.4 1.2-0.4 0.6zM231 226.5l1.5-0.3 1.9 1.3-0.1 1-0.8 0.4-1.7-0.4-1.1-1zM391.5 226l0.6 1.5-0.6 0.6-0.5-1.6zM211.5 229.1l1.4 1.4 0.2 1-0.6 0.7-1.1-1.7zM392.5 228.7l0.5 0.8-0.5 1.1-0.7-1.1zM280.5 231.4l-2 4.7-1.4 0.4 0.2-2 1.2-2.1zM393.5 231.1l0.7 1.4-0.7 0.6-0.5-1.6zM338.5 232.1l0 1.8-0.6-0.4zM397.5 231.9l0.5 0.6-0.4 1-1.1 0.8-0.2-0.8zM394.5 233.8l0.4 0.7-0.4 1-0.5-1zM400.3 234.5l0.2-0.6 1.4 0.6-1.4 0.9zM204.5 234.7l0.5 1.8-0.5 0.5-0.5-1.5zM402.3 236.5l1.2-1.1 1.6 0.1-1.6 1zM217.5 237.2l1.4 1.3 0.4 1-0.8 0.8-1.4-1.8zM198.5 238.2l0.4 1.3-0.4 0.9zM340.5 238.1l0 2-0.5-0.6zM208.5 242.9l1 1.9 0 1.2-1.4-1.5zM412.5 243.2l1 1.5 1-0.3 0.4 2.1 1.5 2-2.9 5.4-0.3-1.4 1.5-4-2.7-4zM435.8 245.5l0.7-0.3 7 4.9 4 2 2 0.4 2 1.4 3-0.3 0 4.9-3-0.9-2-1.6-3.5-1.5-5.5-4.3zM201.5 246.2l0.5 1.3-0.5 0.7zM225.5 245.7l2.1 1.8-0.1 1.2-1 0-1.3-1.2-0.4-1zM412 247.5l1.2 0 0.3 1.5zM416.5 251.1l1 0.8 1-0.1 0.3 0.7-2.3 4.4-0.6-0.4 0.8-3-0.4-1zM213.5 251.9l1.1 1.6-0.1 1.7-1.4-1.7zM360.4 252.5l1.1-0.8 0.4 0.8-0.4 0.7zM237 254.5l0.9-1 1.6-0.1 2 1.1 0.2 1-2.2 0.8-1.8-0.8zM419.5 254l0.6 2.5-2.6 3.2-0.3-1.2zM205.5 255.5l0.5 1-0.5 1.3-0.5-1.3zM415.5 257l0 1.7-0.5-0.2zM416.5 259.9l0.6 0.6-0.6 1zM348.5 261.3l0 1.7-0.4-0.5zM219.5 262l1 0.3 0.8 1.2 0.2 1.8-1.4-0.8zM349.5 263.7l0 1.9-0.4-1.1zM209.5 264.8l1.1 1.7-0.1 1.5-1.2-1.5zM350.5 266.2l0 2-0.4-0.7zM202.5 266.7l0.4 1.8-0.4 0.5-0.4-1.5zM228.8 273.5l0.7-0.4 1 0.5 1.3 1.9-0.3 0.5-1 0.2-1-0.8zM214.5 275.5l1.3 1 0.3 1-0.6 1-1.1-2zM206.5 276.9l0 2.2-0.5-1.6z"/>
<path fill="#616681" d="M207.6 22.5l1.9-0.4 7.2 0.4 20.5 4 1.3 1-0.7 7 0.7 5.7 1.3-1.7 0.6-4 0.2-5-0.7-1 1.6-0.8 3 0.8 1.1 2-0.4 1 0.3 12-0.4 1 0.4 1.1 1 0.2 1.7-1.3 0.7-5-0.1-8 0.6-1 2.1-0.3 1.7 1.3 1.1 2-0.3 15 1.5 1.9 2-0.3 1.1-1.6-0.1-13 1-1.4 2-0.5 2 1.5 1.3 2.4 0.1 8 0.6 1-0.8 2 0.4 2-0.6 3 0.4 2-0.4 0.7-4 1.6-0.6 0.7-1.4 4.3-0.9 7.7-1.1-0.1-1.1-1.9-1.6-10-0.2-6-1.1-1.2-1.1 0.2-0.9 1.6-1.7 11.4-1.3 1-1-0.5-1-1.5-0.7-4-0.3-10 0.7-1-1.8-1-1.2 3-1.1 6-0.6 0.6-1-0.1-1.2-1.5-1-3-0.8-7-2.5 5-1.5-0.2-2-5.7-1-0.5-2 1.2-2.9-4.8-2.1-0.9-2-2.7-4-4-3.2-2.4-6.1-7zM367.4 35.5l1.1 0 1.5 3-0.5 0.2-2.7-2.2zM273.5 39.8l3 1.9 0.1 0.8-2.1 4.6-3 4.8-0.6-0.4 1-4 0-4-1.1-2 1.7-1.8zM290.5 55.1l0.5 0.4-0.4 1-1 0zM353.5 54.9l0 2.6-0.4-2zM422.5 55l2 1.3 0 1.3-1-0.3zM189.9 57.5l0.6-0.5 9.5 10.5 7.5 7.2 6 5 8.8 5.8-0.8 0.7-6-3.5-9-7.2-8.3-8zM183 64.5l0.5-0.2 0.5 1.2-0.5 0.2zM185.8 68.5l0.7-0.1 0.6 1.1-0.6 0.3zM229.5 68.1l1.1 2.4-1.1 0.6-0.9-1.6zM139.5 70.2l1 0 0.5 95.3 0.5 2 0.3 24-0.3 47.2-2-0.5zM188.9 72.5l0.6-0.4 1.8 2.4-0.8 0.3zM235.5 71.7l1 0.1 0.8 2.7-0.8 1.1-1-0.4-0.8-1.7zM191.5 74.6l8 8.7 6 5.7 5 3.9 6.3 3.6-0.3 0.5-5-2.3-9-7-11.4-12.2zM242.5 76.8l1-0.5 1 0.7 0.6 1.5-0.6 0.7-1 0-0.8-0.7zM322.5 77.3l0.1 3.2-4.1 14.8-0.5-0.8 0.4-3zM406.6 79.5l1.9-0.7 4-0.2 0.2 0.9-3.2 4.3-0.5-2.3zM372.5 79.7l2.3 0.8 4.7 5.7 8 6.8 6 3.5 6 2-2 1.7-6-2.3-5.9-3.4-11.1-8.7-1-1.4-1.2-3.9zM252.3 81.5l1.2-0.9 0.5 0.9-0.5 0.6zM269 82.5l-0.1 1-1.4 1.8-1 0.4 0.3-2.2zM224.6 87.5l1.9-0.4 1.9 1.4-1.9 0.2zM352.5 87.1l1.2 3.4-0.2 1.2-1.7-4.2zM429.5 88.3l-1.4 2.2-1.9 0 0.4-1 1.9-1.5zM191.9 89.5l0.6-0.1 0.6 1.1-0.6 0.2zM231.2 89.5l2.3-0.1 1.7 1.1-1.7 0.2zM446.5 91l0.7 0.5-1.7 3.1-1 0.5-1.7 6.4-7.2 16-6.1 12-1 1-1.3 3-5.7 9.2-5 6.8-5.9 6-7.1 5-7 3.3-1.2-1.3 0.2-1.4 3-0.4 3-1.5 4-2.9 7.7-7.8 6.3-8.4 5.5-8.6 7.1-14 7.2-16 2.2-6.3 1-0.7-0.4-2 0.7-1zM197.8 96.5l0.7-0.4 0.4 0.4-0.4 0.8zM335.5 96.4l0 1.4-1 2 0-3.5zM426.3 96.5l-2 2-10.5 16-3.3 4.3-6 5.9-9 5.9-5 2-4 0.8-0.4-0.9 0.4-1.4 6.4-1.6 3.6-1.6 4-3.1 1 0 6.9-7.3 5.1-6.3 6-9.7 0.7-4 3.3-1.3zM198.7 97.5l0.8-0.4 5 4.7 6 4 4.6 1.7-2.6 0.1-4-2-4-2.8zM216.9 97.5l1.6-0.4 2.9 1.4-1.9 0.1zM223.2 99.5l1.3-0.5 2.2 0.5-2.2 0.4zM333.5 100.2l0.8 0.3-0.8 2.1zM287.5 101.5l-0.9 5-2.1 5.2-0.3-2.2 1.1-4zM365.5 100.6l1.4 2.9-0.4 1.2-1.3-3.2zM193.9 104.5l0.6-0.1 0.6 1.1-0.6 0.2zM332.5 104.1l0.7 0.4 0.1 1-0.8 1.7zM396.2 106.5l-8.7 8.3-5 3.1-0.4-0.4 0.1-1 7.3-4.6 5.5-5.4zM379.3 107.5l1.2 0 1 1.3 4.7-0.3-5.7 1.3-0.1-1.3zM215.6 108.5l0.9-0.4 2.8 0.4-1.8 0.4zM331.5 107.9l0.9 0.6-0.3 6-0.6 2 0.5 5 0.8 2-0.4 4 1.1 1-0.5 1 0 3 1.4 6-0.1 2 0.7 5 0.9 1-0.4 1 0.6 2 1 1 1.6 6 1 1-0.3 1 0.4 2 0.8 1 0.1 3 0.7 1-0.1 3 0.6 1 1.3 11-0.7 0.5-1 2.6-1.5-4.1-1.4-2 0.3-1-1.4-3 0.2-1-2.2-6 0.3-1-1.4-5 0-2-0.9-2 0.1-1-1.7-6-4.7-10-0.6-3-1.1-1.2-0.5 1.2-0.5 0.4 0-3.4 0.7-1 1.1-6 3.1-11 0.7-1 0.4-2.9 0.8-1.1zM200.5 110.8l2.3 1.7-0.3 0.6-2.3-1.6zM202.8 113.5l0.7-0.4 2.3 1.4-0.3 0.6zM249.5 113.7l0.2 0.8-1.9 3-2.3 2.4-0.8-0.4zM205.7 115.5l0.8-0.4 3.2 1.4-0.2 0.5zM227.9 115.5l1.6-0.8 0 0.8-1 0.5zM360.7 115.5l0.8-0.2 0.6 1.2-0.6 0.4zM209.7 117.5l0.8-0.5 2 0.5-1 0.4zM213.1 118.5l2.4-0.4 2.9 0.4-2.9 0.4zM218.6 118.5l2.9-0.5 0.8 0.5zM279.5 121.4l0.1 2.1-0.8 3-2.3 5-0.8-1 0.4-2zM200.5 122.6l1.2 0.9-0.2 1-1.2-1zM201.5 124.5l1-0.3 2 1.6 7 3.7-2 0.2zM236.9 126.5l-2.4 2.4-1 0.2-0.7-0.6 1.7-1.4zM307.5 128.4l0 2.9-0.4-0.8zM259.5 128.9l0.6 0.6-0.2 1-3.4 6-0.3-1zM211.7 130.5l0.8-0.5 2.2 0.5-0.2 0.7zM227.1 130.5l0.1 1-0.7 0.4-2.4-0.4zM217.1 131.5l2.4-0.4 1.2 0.4-1.2 0.8zM453.5 131.5l1 0 0 1.3-1 0zM199.6 135.5l0.9-0.3 5 4.7 3.6 2.6-0.6 0.5-2-1.1zM256.3 136.5l-3.8 5.8-0.2-0.8 3.2-5.1zM450.5 136.3l0.5 2.2-0.5 1.4-0.5-0.4zM356.6 138.5l0.9-0.1 1.2 2.1-0.2 0.8-1-0.8zM448.5 140.2l1.3 0.3-0.3 3.1zM358.7 141.5l0.8-0.3 11.4 15.3 8.7 10 11.8 16 0 6 1.1 0.6 2.2 7.4 1.9 4 8.1 23 0.8 1 0 1.8-1 0.8-3.4-4.6-0.1-1-1.5-2-3.4-7-1.9-7-0.8-1 0.2-2-1.1-1 0.1-1-0.6-1 0.1-2-1.6-1.4-0.4-2.6 0.9-2-0.5-0.7-2 0.4-0.2-1.7 0.8-2-0.6-2.5-1 3.2-1-3.7-0.6 1 0.1 2-1.2 1-0.3 2.9-2-6.6-1 0.4-1-2.9-1 1.1-0.6-0.9 0-1 0.8-1-0.2-1.8-1 1.7-1 0.5-0.3-2.4-0.7-0.2-0.3-0.8 0.4-2 1-1-0.1-2-0.1 1-1.9 1.4-0.3-1.4 1.5-3-0.2-1.5-1 2-1-0.4 1.1-3.1-0.1-1.4-2 1.9 0.2-3.5-2.2-3.2-0.9-2.8-10.1-13zM378.5 175.5l-1 2.3 1.1-0.3zM385.5 181.2l-0.5 1.3 0.5 1.6zM392.5 193.3l-0.4 1.2 0.4 0.6zM384.5 185.1l-0.4 1.4 0.4 1.5zM399.5 141l0.3 0.5-4 3-5.3 2.5 0-1.5 4-1.4zM209.2 143.5l1.3-0.3 2.2 1.3-1.2 0.5zM233.2 143.5l-1.7 1.4-1 0.1-0.6-0.5 2.6-1.4zM447.5 142.7l0.6 0.8 0.2 2-1.1 1-0.7 2.9-1-2.3-0.1-1.6 1.1 0.8zM197 145.5l0.5-0.3 1.6 2.3-0.6 0.3zM215.6 146.5l0.9-0.8 1.7 0.8-1.7 0.4zM221.6 146.5l1.9-0.4 1.3 0.4-2.3 0.7zM444.5 147.9l1 3.1-1.2 0.5-1.8 5.3-0.3-2.3zM200.5 149l6.6 6.5-0.6 0.4-6.5-6.4zM240.8 154.5l0 1-2.3 2.4-2.2 0.6 2.2-2.7zM318.5 154l0.6 0.5-0.6 1.6zM440.5 153.7l0.6 0.8-0.3 2-3.3 7.7-0.8-1.7 0.2-1 0.8-1zM313.5 155l0 2.3-0.5-0.8zM207.3 156.5l0.2-0.4 1 0.2 1.6 1.2-0.6 0.6zM196.5 157.3l0.4 1.2-0.4 0.2-0.4-1.2zM317.5 156.7l0.8 0.8-0.2 8 2.5 10 0.2 3 0.6 1 0.1 3 0.9 2-0.2 2 1.7 8 3.6 10.8 1 0.8 0 2.4 0.8 1 0.2 3 0.7 1-0.1 2 2.4 11-2 1.2-1.8-5.2-1.2-1.5 0.1-1.5-1.1-1.1-2.6-13.9-3.2-9 0.1-1-1.3-2-0.2-2-0.8-0.7-3.8-14.3-1.2-2.2-1 1.6 1-6.3 3-9.1 0.8-1zM312.5 158.4l0 2.2-0.5-1.1zM212.5 159.5l1-0.2 1.9 1.2-0.9 0.5zM198.1 160.5l0.4-0.3 1.5 2.3-0.5 0.4zM218.8 161.5l1.7-0.2 0.8 1.2-1.8 0.1zM226.5 162.5l0.2-1 1.8-0.6 1.1 0.6-2.1 1.3zM435.3 163.5l-0.6 3-1.2 1.3-0.1-2.3 1.1-2.1zM201.7 165.5l0.8-0.2 1.7 2.2-0.7 0.3zM432.7 168.5l-0.2 1.1-1-0.5-2 3.6-2 1.1-4.8 4.7-3.4 2-7.8 2.5-8 0.3-1.1-0.8 0.1-1.8 4 0.7 3-0.2 7-2.3 10.1-6.4 2.9-2.5 2-3.1zM205.5 169l2.5 2.5-0.5 0.4-2.3-2.4zM250.7 170.5l-0.8 2-2.4 2.6-2 1.4-1.1 0 2.1-3zM198.5 174.4l0.4 1.1-0.4 0.4zM210.5 173.9l1 0.1 1.1 1.5-1.1 0.1-1.1-1.1zM199.5 176.1l0.3 1.4-0.7-1zM216 177.5l2 1-0.5 0.7-1.6-0.7zM268.5 178.2l-1 3-1 1.4-0.7-0.1 0.6-2zM201.5 179.1l0 1.4-0.5-1zM222.4 180.5l2.1-0.2 0.6 1.2-1.6 0.4zM231.2 181.5l2.3-1.4 1.4 0.4-1.4 1.5-1 0.3zM304.5 180.2l-0.4 4.3-2.6 6.4-0.5-1.4 1.2-5zM344.5 180.7l0.3 1.8-0.5 1 0.2 0.4 1-0.4-0.4 3 0.4 0.9 1-0.3 1 1.2-0.4 1.2 0.9 1 0.5 2.2 1 0.5 0 2.3 1.2 1-0.3 3 1.1 2-0.4 1 0.9 1-0.1 6 1.5 3-1 4-0.9 0.7 0-5.1-1 1.8-1.2-1.4-0.3-2-1.6-2 0.4-1-2.8-9-0.4-6-1.3-2-0.8-3.2 0-2.8zM203.8 183.5l0.7-0.4 0.7 1.4-0.7 0.3zM454.5 182.9l0 5.2-1 0-4.9 6.4-1.8 1-0.3 1.1-1-0.8-1 0.3-2 4-0.5-0.6 0.1-2 2.4-4.2 2 1.6 2-5 2.9-3.4 2.1-3.6zM264.5 183.8l0.4 0.7-1.7 2-0.7 2-3 3.3-1 0.2-0.3-0.5 1.8-3zM392.5 183.7l3.7 5.8 2.8 9 12.2 31 0.3 1.9 1 1.1 0.5 2 1 1-0.5 2.1-0.6-2.1-2.5-4-8.1-19-8.4-24-2.1-4zM454.5 283.9l0 31.6-315 0 0-61.6 2 0.3 1.3 1.3 2.3 1 1.2 2 3.2 17.9 2.9 10.1 0.9 1 1.9-1-2.7-13.1 0-3 1 0.7 4 8.2 3 3.9 2 1.7 1 1.8 5 3.3 1-0.2 1 1 2-0.1 1 1.1 2 0.4 1-0.7 1 1.1 1 0.2 1-0.8 1 1.2 1-0.4 1 0.8 2-0.2 3 0.9 1-0.7 1 1 3-0.3 1 0.8 2 0.3 1-1 1 1.2 4 0.2 1-1.9 1 2 6 0.3 1-2.4 1 2.6 9 0 1-2.1 1-0.6 1 2.6 14-1.6 13-3.3 2-2 0.4-1.9 0.3-6 2.3-1.4 9.5-9.6 5.1-7 3.1-6 4.9-7 0.4-2 4-7.5 0.8-0.5 0.2-1.2 0.5 0.2-1 5 0.2 3 4.3 22 0.4 4 1.5 2 0.3 2 1.8 3.3 3-0.5 1.2-4.8 1.4-2-9.6-35.1-1-1.8-1 0.4-0.1-1.5 0.9-1 0-1 3.2-6.2 1 0.2-0.3 3 5.8 30 2.7 9 0.2 3 3.6 8.8 3 0.2 1-0.5 2-2.4 0.6-3.1 1.2-1-2.4-10-3.6-10-3.2-14-3.6-10.5-1.6-7.5-1.4-2.7-1 0.2 2.9-7.5 2-3 0.1-1.1 0.5 0.1-0.5 4 0.5 5 3.1 16 3.9 14 2.2 11 3.3 10 1.3 6 1.5 1 0.8 3 2.4 3 1 0.6 2-0.1 2-1 2-3.2 0.4-2.3 1.2-1 0-1-2.7-9-0.4-4-1.7-2-2.8-6.4-2.7-12.6-4.3-12.6-3.3-13.4-2.4-6-1.3-5.6-2-2.1 1.8-6.3 1.7-3 0.5-2.2 0.9-0.8 0.1-1.2 0.4 0.2-0.5 7 8.5 38 4.9 15 2.3 13 1.4 1.6 0.3 2.4 1.9 3 2 7 1.5 2 0.3 2 1 0.8 1 2.5 2 0.2 1 1 3 0.2 1-1.1 1 0.6 1-1.5 2-0.8 0.8-4.9 1.8-1-1.1-4-0.8-1 1.3-4.6 2 4.2 1-1-0.5 2.4 1.5 4 1.8 1 1.2 4.4 1-1.2 1 2.5 2-0.3 1 2.2 1-1.8 1 2.1 1-1.1 2 1.1 2-1.9 1 0.5 2-0.8 1-2.2 1.7-1.5 0.6-2 2.4-2-1.1-4 1.3-1-0.3-1 0.4-0.3 2.6 2.3 0.9 3 2.5 1.7 1.3 0.3 0.7 4 2 0.3 1 1.1 3 1.5 1-0.2 1 0.9 1-0.1 1 1 1-0.2 1 0.7 1-0.8 1 0.9 6-0.8 1 0.9 1-0.6 3 0.1 1-1 1 1.1 5-0.9 1 0.6 2-2.1 1 1.9 1-1.5 3 0.7 0.9-0.5 1.1-2 1.8-1-0.6-1 0.9 0 0 1 0.9 0.7 2 0.4 0.9-2.1 2.1-1.7 2.6 1.7 1.4 5.1 1.2-1.1 1-4 1.8-1.1 2.2 1.1 1.8 6 2 0.1 2 1.3zM278.5 251.2l-2.1 5.3 1.4 7-0.3 2 0.8 6 0.7 3 1.5 1 0.8 2 1.2 1.1 1-0.9 0.5-2.2 1.6-2-5-17-1.1-4.9zM207.9 188.5l0.6-0.4 1 2-1-0.3zM386.5 188.3l0.5 1.2-0.5 2.3-0.5-1.3zM212.6 193.5l0.9-0.3 1 1.8-1 0zM387.5 192.5l0.8 1-0.8 0.5zM201.9 196.5l0.7 0 0.3 1-0.4 0.5zM218.6 198.5l0.9-0.5 1.5 1.5-0.5 0.6-1-0.2zM440.5 198.2l-0.8 3.3-1.2 0.8-0.6-0.8 0.1-1 1.2-2zM409.9 200.5l0.6-0.6 4 2.2 7 2 2 0.3 2-0.9 0.7 1-0.1 1-1.6 0.7-1-1.1-2 0.6-1-0.6-3.7-0.6-6.3-3zM205.5 201.5l1.3 2-0.3 0.6-1.3-1.6zM434.9 201.5l-1.4 3.4-2 0-2 0.8-1-1.7-0.3 1.5-0.7 0.5-0.7-0.5 0.1-1 1.6-1.1 3-0.8 1 0.5 2-2.3zM436.5 201.2l0.6 0.3-0.6 1.3zM226.2 202.5l1.3-0.6 1 0.3 0.5 1.3-1.5 0.4zM237.9 204.5l-0.3-1 1.5-1 1.4-0.4 1.4 0.4-1.4 1.6zM295.5 202.1l0.6 0.4-0.6 3.9-2 4-1 0.3 0.8-5.2zM210.5 208.2l0.6 1.3-0.6 0.6-0.7-1.6zM215.3 214.5l1.3 1 0.3 1-0.4 0.4-1.5-1.4zM203.5 215.1l0.4 1.4-0.4 0.4-0.4-1.4zM354.5 217.3l0.1 3.2-1.1 0.4zM417.8 217.5l0.7-0.3 4 4 4 2.3 1 1.1 4 1.8 1 0 1 0.8 3 0.6 7 0.4 4-1.1 1 0.4-0.6 1 0.6 0.6 0.8-0.6-0.7-1 0.5-1 4.4-2.5 1 0 0 5-1 0-3 1.7-1-0.3-1 1-3-0.1-2 0.8-1-0.8-2 0.7-5-1.3-4-1.5-1-1.6-1 0.5-3-2.4-1-0.2-6-5.5zM287.5 219.5l0 2-2 3.6-0.9-0.6 0.7-3 1.2-1.8zM221.6 221.5l0.9-0.6 1.5 1.6-0.5 0.7-1-0.3zM356.5 220.6l0.1 2.9-1.1 3.5-0.4-0.5 0.1-3zM207.5 222.2l0.5 1.3-0.5 0.6-0.5-1.6zM253.3 225.5l-3.8 2.9-2 0.5-0.8-0.4 0.8-1.2 3-1.8 2-0.6zM290.9 225.5l-0.4 2 0-2zM358.5 224.8l-0.2 3.7 0.2 0.4 1-1.1 2 3.7-0.3 1 1.3 2-0.3 1 0.8 1 1.8 7-0.8 4-1.3 1-0.2 1.5-0.1-1.5-1.4-3-1.6-2 0.4-1-1-1 0.2-1-1.3-2 0.4-1-0.9-1-0.2-4-0.8-1 0.7-5zM231.5 226.5l2 0.4 0.6 0.6-0.3 1-1.3 0.2-1.6-1.2zM332.9 227.5l0.6 0 0.4 3 0.7 2 1.2 1 0.7 2.4 1-0.4-0.2 3 1.3 0-0.3 3 1.2 0.3-0.4 2.7 1.5 5-0.5 2 0.4 1.4 1.1-0.4-1.1 4.5-1-2.9-1.2-0.6-0.8-2.8-1 1.1 0.2-3.3-1.2 0.3 0.2-3.3-0.2-0.4-1 0.4 0.4-3-0.9-2-0.6-6-0.9-1-0.8-5zM406.5 227.2l0 2.2-1.4-0.9zM407.5 229.5l-0.3 1-1.4 0 0.9-1zM212.5 230.1l0.5 1.4-0.5 0.5-0.9-1.5zM278.5 235.3l-0.5-0.8 0.5-0.9 0.4 0.9zM204.5 234.9l0.4 1.6-0.4 0.3-0.4-1.3zM217.5 237.4l1.3 1.1 0.3 1-0.6 0.6-1.3-1.6zM415.5 240.1l1.4 2.4-0.4 0.7-1.4-2.7zM208.5 243.1l0.6 1.4-0.6 0.4zM417.5 243.3l0.6 1.2-0.6 1.3-0.6-1.3 0.1-1zM225 246.5l0.5-0.6 1.9 1.6-0.9 1zM436.9 246.5l0.6-0.4 8 5.4 4 1.6 1 1.8 4-0.2 0 3-2-0.3-3-1.8-1 0-2-1-5-3.7zM420.5 247.5l0.1 2-1.1 0.5-0.3-1.5zM364.5 248.1l0.4 1.4-0.4 1-0.4-1zM366.5 248.1l0 1.8-0.5-1.4zM415.5 247.9l0.4 0.6-0.4 1.4-0.4-0.4zM421.5 250.4l0.6 1.1-0.6 1.3-0.6-1.3zM365.5 250.8l0 2-0.5-1.3zM213.5 252.1l1 1.4 0 1.4-1.3-1.4zM418.5 252.2l-1 2.7-0.5-0.4 0.2-1zM237.3 254.5l1.2-0.9 1 0.1 1.6 0.8 0.1 1-1.7 0.6-1-0.3zM419.5 254.3l0 1.9-0.4-0.7zM422.5 254l1-0.1 1.6 3.6-0.6 0.4zM205.5 255.7l0.4 0.8-0.4 1.2-0.4-1.2zM418.5 256.2l0.6 0.3-0.6 1.4zM425.5 258l1.9 1.5 0.4 2 8.9 11-0.2 1-4-3.8-6.6-9.2-0.8-2zM219.5 262.5l1 0 1 2.2-1 0.1zM343.5 262.2l0.9 0.3-0.9 2.8zM424.5 263l0.5 1.5-1.5 2.1-0.5-1.1 0.3-1zM209.5 265l0.8 1.5-0.8 0.2zM371.7 265.5l0.8-0.4 0.5 0.4-0.5 0.6zM426.5 265.8l0 1.2-2 1.7 0.9-2.2zM428.5 269.3l1 1.2-1 1.2-1-0.1-0.2-1.1zM229.2 273.5l1.3 0.3 1 1.8-1 0.4-1.5-1.5zM215.5 276.2l0.5 1.3-0.5 0.8-0.7-1.8zM206.5 277.1l0 1.8-0.4-1.4z"/>
<path fill="#5c5f7c" d="M208.3 22.5l7.2-0.1 15.7 3.1 0.7 1-0.6 1-1.3 10-2.5 6.6-0.8-1.6-1.2-5.6-2 1-1-0.2-2-3.3-6.2-3.9-5.9-6zM235.5 26.4l2 1.1-0.7 8-3.1 14-1.2 0.2-0.6-2.2 0-4 1.7-7 0.5-9-1-1zM242.5 28.3l1.9 1.2-0.3 9-0.6 3.2-1 0.9-1.4 2.9-0.4 9-1.2 1.8-1.4-2.8 0.2-5 1-3 1.1-1 0.9-3 0.1-13zM250.5 31.1l2.5 1.4-0.2 10-0.7 3-0.6 0.6-1-0.6-0.5-2-0.1-12zM260.5 35.1l2 0.6 1.1 1.8-0.1 12.8-1 1-1 0.2-1.3-1-0.3-14zM276.5 42.2l-4 8.2-0.6-0.9 1-7 1.6-0.9zM248.5 51.7l0.3 6.8-0.3 4.5-1 1.4-1-0.8-0.9-4.1 0.9-7.9zM256.5 56.2l1 0.4 0.9 1.9-0.8 11-1.1 0.4-0.8-1.4-0.5-7 0.3-4.4zM191.7 59.5l0.8-0.2 7.4 8.2 7.6 7.4 11.2 8.6-0.2 0.4-3-1.3-10-8.1-7.1-7zM229.5 68.4l0.6 1.1-0.6 1.2-0.6-1.2zM139.5 70.3l1 0 0.4 95.2 0.5 2-0.1 22 0.5 2-0.3 46.8-2-0.4zM235.5 72.1l1 0.2 0.5 1.2-0.5 1.7-1.2-0.7-0.4-1zM242.7 77.5l0.8-0.7 1 0.6 0.2 1.1-1.2 0.4zM407.4 79.5l5.1-0.6 0.1 0.6-2.1 3.1zM195.7 80.5l0.8-0.2 7.2 7.2-0.2 0.9zM372.5 80l1.7 0.5 5.3 6.4 6 5.2 8 4.8 5.4 1.6-0.2 1-1.2 0.5-6-2.4-8.1-5.1-9.9-8.4zM267.5 85l-0.6-1.5 1.6-0.9 0.2 0.9zM218.9 84.5l0.6-0.4 2.6 1.4-0.6 0.5-1-0.3zM320.5 84.5l0.4 1-0.4 2.4-0.4-0.4zM224.9 87.5l1.6-0.2 1.5 1.2-1.5 0.1zM203.6 88.5l1.3 0-0.4 0.7zM319.5 88.1l0.4 0.4-0.4 3-0.4-1zM429.1 88.5l-0.2 1-1.1 1-1.4 0 1.1-1.6 1-0.6zM204.8 89.5l0.7-0.4 5.9 4.4-0.9 0.4zM231.7 89.5l1.8 0 1.1 1-1.3 0zM446.5 91.4l-1 1.5-1.3 0.6-0.7 3.6-0.6-0.6 0.2-5zM211.5 93.7l3.3 1.8-0.3 0.5-3.2-1.5zM425.9 96.5l-4 5-3.4 6-4.9 7-6.1 7-5 4.4-5.4 3.6-4.6 2.2-6 1.5 0-1.9 7-1.7 5-2.5 2-1.8 1 0 11.1-11.8 6.4-10 2-4-0.3-2 2.8-1.2zM217.1 97.5l2.1 0-0.7 0.5zM442.5 97.2l0 3.6-1-1.1-2 7.2-1 0.7-2 6.2-5 10.5-1 0.9-1 2.7-1.3 1.6-0.7 2.2-1 1.5-1-0.2 1-3.6 1.2-0.9 0.8-3.1 7.6-14.9 2.4-6.5 1.2-0.5 0.8-3.7 1-0.7 0-2.2zM223.5 99.5l1-0.4 1.7 0.4zM204.5 102l1.1 0.5-0.1 0.5-1.3-0.5zM286.5 103.5l0.2 2-1.2 3.5-0.6-0.5 0.3-2zM207.1 104.5l0.4-0.4 1 0.4zM210.4 106.5l1.9 0-0.8 0.4zM331.5 108.3l0.4 1.2-1.4 10 0.5 15-0.5 2.6-1 0.8-1.9-3.4-0.1-1.6-1-0.4-1 0.7-0.1-2.7 0.7-1 0.3-3 0.7-1 1.2-6 0.8-1 0.3-3 0.9-1 0.2-2.6 0.9-0.4zM390 112.5l-5.5 4.1-2.3 0.9 0.3-1.1 3-1.4 4-3zM248.5 114.8l0.5 0.7-2.5 3.3-1.3 0.7zM278.5 123.5l0.4 1-0.3 2-2.1 4.4-0.2-2.4zM204.3 126.5l0.2-0.4 1.2 0.4-0.2 0.5zM233.1 128.5l2.4-1.7 0.6 0.7-1.6 1.3zM207.4 128.5l1.8 0-0.7 0.4zM209.3 129.5l0.2-0.5 1.7 0.5zM259.5 129.3l0.2 1.2-2.2 4.1 0-1.8zM211.9 130.5l1.6-0.4 1 0.4-1 0.5zM217.7 131.5l2.6 0-0.8 0.6zM224.5 131.5l2-0.8 0.5 0.8-1.5 0.5zM425.3 133.5l-0.8 3-3 5-6.5 9-7.6 7-2.9 1.4-1.8 1.6-0.8 0 0-1 6.6-5.1 10.7-12.9 5.3-8.4zM206.5 140.9l1.2 0.6-0.2 0.7-1.3-0.7zM210.9 144.5l0.6-0.5 1 0.5-1 0.4zM230.1 144.5l1.4-0.7 0.3 0.7zM393.7 144.5l1.8 0-1 0.4zM390.3 146.5l0.5-1 2.7-0.7 0.3 0.7-3.3 1.4zM215.8 146.5l0.7-0.6 1.4 0.6zM221.9 146.5l2.5 0-0.9 0.5zM362.5 146.5l1.1 0-0.1 1.3zM365.6 150.5l1 0-0.1 1.5zM367.5 152l1.1 1.5-0.1 0.8-1-0.4-0.7-1.4zM368.7 154.5l0.8-0.1 1.3 2.1 8.8 10 9.9 13.3 1.4 2.7-0.4 2.2-1-2.6-1 1.5-0.4-2.1-1-1-0.6-2-1 0-2-3.3-3-2.7zM240.5 155.4l-2 2.3-1 0.4-0.5-0.6 2.5-2.3zM208.5 157.5l1-0.4 0.5 0.4-0.5 0.5zM317.5 157l0.5 0.5-0.5 2zM213.2 159.5l1.9 1-0.6 0.4-0.9-0.4zM316.5 159.7l0.9 0.8-0.2 7 1.5 6 0.8 9.6-1-0.6-1.3-3-1.7-6.7-1-0.7-1 0.1-0.1-0.7 0.1-2.6zM401.3 160.5l-0.6 1-2.2 0.5-2 1.5-1.1-1 0.1-1.2 3-0.1 2-1.2zM219.2 161.5l1.5 0 0.3 1-1.4 0zM227.1 162.5l-0.2-1 0.6-0.3 1.8 0.3zM202.1 165.5l0.4-0.1 0.7 1.1-0.7 0.1zM249.8 171.5l-1.9 3-2.4 1.6-0.4-0.6 1.4-1.7zM210.5 174.5l1-0.4 0.4 0.4-0.4 0.9zM423.9 176.5l-5.7 4-5.8 2-8.9 0.5-1-0.6-0.2-0.9 0.2-0.6 4 0.9 6-0.8 3-1 8-4.1zM216.1 178.5l0.4-0.9 1.4 0.9-0.4 0.5zM222.8 180.5l1.7 0 0.3 1-1.3 0.2zM231.5 181.5l1.1-1 1.9 0-1 1.4-1 0.2zM303.5 182.3l0.4 2.2-0.8 1-0.6 2.6-0.7-0.6zM204.1 183.5l0.6 0 0.2 1-0.4 0.2zM393.5 185.1l2.1 3.4 2.4 8 9.1 24-0.6 1.2-5.1-12.2-5.3-16-3.3-8zM262.5 186.2l0.3 1.3-3.3 3.8-0.2-0.8 0.9-2zM208.1 188.5l0.4-0.3 0.7 1.3-0.7 0.2zM306.5 188.4l0.5 0.1 0.3 1-0.4 5 1.7 9 0.3 5-0.4 1.1-1.6-3.1-1.4-5.4-1-1.7-1 0-0.1-2.9 0.8-1 1.3-4.6 0.7-0.4zM213.1 193.5l1.3 1-0.9 0.4zM218.9 198.5l0.6-0.3 1.3 1.3-1.3 0.3zM410.1 200.5l0.4-0.4 4.4 2.4-0.4 0.4-1.8-0.4zM226.5 202.5l1-0.5 1 0.4 0.2 1.1-1.2 0.2zM241.3 202.5l-0.2 1-1.6 0.8-1 0.1-0.6-0.9 1.6-1zM295.5 203.1l0 2.5-2 4.1-0.5-1.2 0.3-2 1.2-2.8zM415 203.5l0.5-0.5 2.1 0.5-1.1 0.4zM397.5 204.2l0.1 1.3 1 1 0.1 2 0.8 0.9 0.4 2.1 0.6 0.6 0 2-2.6-4.6-1.6-4 0.4-1zM417.8 204.5l0.7-0.4 1.5 0.4zM425.5 204.1l0 1.3-1.4 0.1zM210.5 208.4l0.5 1.1-0.5 0.5-0.4-0.5zM297.5 210.4l0.6 0.1 0.1 7 1.7 7 0.6 7.3-1-0.4-1-1.9-3-10.2-1-0.6-0.1-1.2zM215.5 214.7l0.9 0.8 0.1 1.2-1.3-1.2zM418.1 217.5l0.4-0.2 3.9 4.2-0.9 0.2-3-3.1zM286.5 220.4l0.5 1.1-1.5 3-0.1-2zM221.8 221.5l0.7-0.5 1.3 1.5-1.3 0.3zM207.5 222.3l0.4 1.2-0.4 0.4zM407.5 221.8l1.5 3.7-0.5 0.8-1.2-2.8zM422.5 222.1l2 0.4 2.3 2-0.3 0.5-1 0zM452.3 225.5l1.2-1.1 1 0 0 1.6zM252.7 225.5l-2.2 2.2-3.1 0.8 0.2-1 1.9-1.3 2-0.8zM428.5 225.5l1.1 0 1 1-0.5 1-0.6 0.4-1.5-1.4zM231.2 227.5l1.3-0.8 1.4 0.8-0.4 0.8-1 0.2zM289.5 227.3l0.6 0.2-0.2 5 2.3 13 0.3 6.6-3-8.4-1.4-6.2-1.7-3 0-1 2.1-4.4 0.8-0.6zM432.5 226.8l0.7 0.7-0.5 1-1.2 0.4-0.5-0.4zM440.8 228.5l2.3 0-1.6 0.4zM451.5 228.3l0 1.1-1.5 0.1zM410.5 229l0 2.1-0.4-1.6zM433.8 229.5l0.7-0.8 3 1.5 3-0.2 1.5 0.5-1.5 1.1-1-0.9-3.5-0.2zM212.5 230.2l0 1.6-0.6-1.3zM443.3 231.5l-0.1-1 1.3-0.6 0.4 0.6-0.4 0.6zM217.5 237.8l1.2 0.7-0.2 1.4-1.2-1.4zM282.5 241.2l0.7 0.3-0.7 6 1.6 8 0 3-0.6 1.9-1.7-2.9-1.3-6-0.7-1-1.3-0.3-0.2-0.7zM225.2 246.5l0.3-0.4 1 0.4 0.7 1-0.7 0.8zM439.5 248.1l10.2 6.4-1.2 0.5-3-1.4-6.2-5.1zM213.5 252.3l0.6 1.2-0.6 0.3zM139.5 254l2 0.4 3.4 2.1 1.3 2 3.2 18 1.9 7 1.8 4 1 0 1.2-1-1.8-9 0-4.3 3.9 7.3 6.1 7.3 4 2.8 2 0.3 1 0.8 2 0.1 1 0.9 2 0.4 1-0.5 2 1.1 1-0.6 1 1 1-0.2 1 0.6 2-0.1 3 0.8 1-0.5 1 0.8 3-0.1 3 0.9 1-0.8 1 1 4 0.2 1-1.5 1 1.7 6 0.2 1-1.8 1 2 9 0 1-1.7 1-0.5 1 2.1 14-1.6 13-3.3 2-1.7 1.2-6.1-0.2-3 5-3.6 6.7-7.4 5.1-7 3.1-6 3.1-4.4 0.3 0.4-0.9 6 0.9 5-0.5 3-0.8 0.9-1.8-0.9 0-2-1.2-2.4-2.1 3.4 0.2 5-0.8 2-1.3 1.6-2.3 1.4 0.3 0.5 7-0.6 2-1.1 3 0.1 2 5 2 0.8 2-1.7 1.1-4 1.9-0.4 0.5 0.4 1.5 4.8 2 2.2 3-0.4 2-3.6 0.6-3 1.4-0.5 1 0.5 1 4.7 2 2.6 3 0.1 3-1.8 1.3-2.6 0.5-3 1.2-0.4 1.3 0.4 0.6 3 1.2 2 3.9 2.9 4-0.9 2.6-3 1.1-4 1.3-0.4 1.3 0.4 1.1 4 2.6 2.8 2 0.2 1 0.7 3 0.2 1-0.9 1 0.4 1-1.1 2-0.6 1-3.3 1 0 1-3.4 1-0.1 1.3 0.1 0.7 0.8 1.2 3.2 1.8 2.4 1-0.7 1 1.6 2-0.2 1 1.6 1-1.4 1 1.6 1-0.8 2 0.9 2-1.5 1 0.3 2-0.6 1-1.5 2-1 2.5-4.7 1.5-1.3 3.2 0.3 0.8 3.1 1 1.3 1-0.3 1 2.1 2 0.2 6 2.4 1-0.1 1 0.9 1-0.2 1 0.6 1-0.7 1 0.8 6-0.7 1 0.8 1-0.5 3 0.1 1-0.7 1 0.8 3-0.6 3 0.4 2-1.4 1 1.2 1-0.9 3 0.4 3-1.6 4 0.3 1.1-0.7 1.1-4 0.8-0.3 1.4 0.3 1.2 4 1.4 2.4 1.7-1.4 1.8-5 0.5-0.2 1 3.6 1 0.4 2 3.3 2 0.1 2 1.1 7 0 0 30.7-315 0zM237.7 254.5l1.8-0.6 1.3 0.6-0.1 1-2.2 0.1zM452 256.5l0.5-0.5 2 0 0 0.8zM220.5 262.7l0.5 0.8-0.5 1.1-0.6-1.1zM229.5 273.6l1.5 0.9 0.2 1-0.7 0.3-1-0.9zM215.5 276.4l0.4 1.1-0.4 0.6-0.4-0.6z"/>
<path fill="#575877" d="M209.5 22.5l5-0.1 2 0.8 4.5 0.3-0.5 0.7-2.9 0.3 0.9 0.2 7.2-0.2-3.3 1 2.1 0.2 1.4 0.8 0.2 1-0.9 4-1.7 2.4-2-1.9-3.3-0.5-1.7-1-3.6-4-3-2 0.6-0.7 3-0.3-3-0.3zM228.3 25.5l2 0-0.8 0.8zM229.5 26.6l1.2 1.9-2.2 9.3-0.7-0.3-0.2-10zM235.5 27.3l1 0.2-0.7 1 0.9 1-1.2 7.2-0.7-1.2-0.2-6zM242.5 30.5l1 0.2 0.4 1.8-0.4 3.8-1 2-0.7-5.8zM251.5 32.2l0.5 0.3 0.4 3-0.9 6.1-0.8-2.1-0.3-5 0.8-1-0.2-1zM261.5 36.3l0.8 1.2 0.6 3-0.4 6.1-1 0.7-0.7-2.8-0.2-5zM275.5 42.8l0.1 1.7-2.1 4.2-1-0.2 1.3-5zM239.5 49.6l0.5 3.9-0.5 1.5-0.7-1.5zM247.5 55.5l0.6 5-0.6 2.3-1-1.3 0-4.1zM256.5 61.8l0.9 1.7 0 5-0.9 0.9-0.6-1.9zM198.5 66.2l0 1.3-0.7-1zM198.5 67.5l1-0.2 5.3 5.2-0.3 0.9zM139.5 70.6l1 0 0 5.5-1 0zM204.6 73.5l1.3 0-0.4 0.7zM235.5 72.7l1 0.1 0 2-1-0.4zM205.8 74.5l0.7-0.4 5.3 4.4-0.3 1zM243.5 77.3l0.5 1.2-0.5 0.1zM211.5 79.5l1-0.4 1.7 1.4-0.7 0.4zM408.5 79.5l4.1 0-2.1 2.4zM372.5 80.2l1.4 0.3 5 7-0.4 0.1-5-3.8zM214.3 81.5l0.2-0.6 1.3 0.6-0.3 0.8zM215.7 82.5l0.8-0.4 0.6 0.4-0.6 0.4zM267.3 84.5l-0.2-1 1.4-0.3zM219.1 84.5l1.4 0 1.4 1-1.4 0.1zM225.2 87.5l1.5 0-0.2 0.7zM379.8 88.5l0.7-0.3 1 1.6-1-0.3zM427.4 90.5l-0.3-1 1.4-0.9 0.2 0.9zM139.5 90.5l1 0 0.3 75 0.5 2-0.1 22 0.5 1-0.2 45.9-2-0.3zM443.5 93.4l0-1.9 2.6 0-2.2 1zM425.5 96.5l-3 3.4-0.4-0.4-0.5-2 1.9-1.2zM392.2 97.5l1.3-0.3 5 1.5 0.2 0.8-1.2 0.3zM330.5 112.2l0.5 0.3-1.5 10.8 0.2 8.2-0.2 0.9-2-2.8-2 2.5 0-1.6 0.9-1 0-3 0.8-1 1.1-6 1-1 0.2-2.9 1-1.1zM386.2 114.5l1.3-0.6 0 0.6-1 0.4zM385.9 115.5l-3.5 2 0.1-1 3-1.3zM247.5 116.1l0.6 0.4-1.8 2 0.1-1zM409.5 118.8l-0.1-1.3 1.1-1 0.1 1zM278.5 124.2l0.1 1.3-1.1 3.4-0.9-0.4zM233.3 128.5l1.2-1.1 1-0.3 0.4 0.4-1.4 1.1zM396.5 129.2l-4 2.4-6 1.5-0.3-0.6 0.3-0.9 4-0.6 5-2zM212.2 130.5l2 0-0.7 0.4zM218 131.5l2 0-0.5 0.4zM224.8 131.5l1.7-0.4 0.2 0.4zM258.5 131l0.4 0.5-0.4 1.3-0.4-0.3zM390.4 146.5l0.9-1 1.7 0-1.5 1zM416.5 146l0.5 0.5-1.5 2.3-5 5.3-0.4-0.6zM239.8 155.5l-0.2 1-2.1 1.4-0.3-0.4 0.9-1zM371.7 158.5l0.8-0.2 1 1.2 0 1 1 0.2 0 1.7zM316.5 160l0.6 0.5-1.1 8-0.5 1-1 0.3-1 1.3 0-2 0.7-0.6 0.3-2.7 1-3 0.6-0.3zM227.2 161.5l1.8 0-1.5 0.8zM395.5 161.7l1.1-0.2 0.8 1-0.9 0.5-1-0.4zM374.6 162.5l0.9-0.4 4 4.4 9 12 0 1.6-1-0.2-1-2.2zM249 172.5l-2.5 3-0.4-1 2.4-2.2zM216.3 178.5l0.2-0.5 1.2 0.5zM223.1 180.5l0.9 0 0.5 1-1.1 0zM233.8 180.5l-0.3 1.2-1.7-0.2zM389.5 180.1l0 1.3-0.9-0.9zM402.4 181.5l0.1-0.4 2 0.9 4.3 0.5-5.3 0.3zM303.5 183.1l0 1.7-0.5-0.3zM393.5 185.2l0.5 1.3-0.5 0.4-0.5-1.4zM262.5 187.5l-2 2.6-0.4-0.6 1.4-2.2zM394.5 187l1 1.7 0 2.9-0.2-2.1-0.8-0.4-0.4-1.6zM306.5 188.6l0.4 0.9-0.5 4 0.1 7.5-0.3-1.5-1.7-2-1 0.3-0.1-1.3 0.9-1 0.1-2 1.1-2.4 0.9-0.6zM219.2 198.5l1.4 1-1.1 0.1zM226.8 202.5l1.5 0-0.3 1-0.6 0zM238.2 203.5l2.3-0.9 0.2 0.9-1.2 0.6zM294.5 204.5l0.3 2-1.3 2.3 0-1.8zM400.5 204l0.4 1.5-0.4 0.7zM401.5 206.6l0.5 1.9-0.5 0.5zM297.5 210.6l0.4 0.9-0.4 4.8 1.9 9.2-0.1 1-0.8 0.7-1.9-7.7-2.1-2 0.8-1zM419.5 218.7l1 1.2-1-0.2zM222.1 221.5l0.8 0 0.6 1.1-1 0zM248 227.5l1.5-1.1 2-0.2-2 1.7-1 0.2zM231.4 227.5l1.1-0.6 1.1 0.6-1.1 0.7zM289.5 227.4l-0.2 7.1 0.7 5 1 3-0.5 1.6-1.7-7.6-1.3-2-1-0.3-0.1-0.7 2.1-4.3 0.9-0.7zM217.5 238.4l1.1 0.1-0.1 1.2zM281.5 243l0.9 0.5-0.3 5 1.3 7-0.9 1.3-1.8-7.3-1.2-0.4-0.2-0.6 0.2-1.5zM225.4 246.5l1.6 1-0.5 0.6zM139.5 254.2l2 0.4 3.2 1.9 1.4 2 3.2 18 3.2 10.7 1 0.5 2-1.2-1.1-6 0.1-3.5 3 5 6 6.7 2 1.6 5 2.3 2 0.1 1 0.9 2 0.4 1-0.4 2 1 1-0.5 1 0.9 1-0.2 1 0.6 5 0.7 1-0.5 1 0.7 3 0 3 0.9 1-0.7 1 0.8 4 0.3 1-1.3 1 1.4 6 0.2 1-1.5 1 1.7 9-0.1 1-1.4 1-0.4 1 1.7 14-1.6 14-3.8 1-0.9 0.7-2.1 1.1-8 3.2-1.9 2-0.1 2-0.8 3 0.3 2 1.4 3-0.3 3 0.9 5-1.3 3 2.7 2 0.5 1.2-0.4 2.8-3 1 0.1 4 4.2 3-0.3 3-3.9 1-0.2 4 4.6 3 0.1 3-1.4 3-3.4 1 0.4 2.4 2.8 3.6 1.9 4-0.7 5-4.6 1 0.3 1.4 2.1 2.6 2 6 0.9 1-0.8 1 0.4 1-0.9 2-0.5 1-2.1 1 0 1-1.6 2-0.1 4 3.5 1-0.5 1 1.2 2-0.1 1 1.3 1-1.1 1 1.3 1-0.7 2 0.7 2-1.2 1 0.3 2-0.6 6-4.5 2-0.8 2 0.5 2 2 1-0.2 1 1.4 9 2 1 0.7 2 0.3 1-0.5 1 0.6 6-0.5 1 0.7 4-0.3 1-0.6 1 0.6 3-0.4 3 0.3 2-1.1 1 1 1-0.7 3 0.3 2-1 5.6-0.2 2.4-2.5 1 0.3 3 3.7 1.1-0.5 2.9-3.2 4 4.3 2 0 2 0.9 7 0.1 0 29.9-315 0zM238 254.5l1.5-0.4 0.9 0.4-0.3 1-0.6 0.2zM275.5 254.4l0.3 1.1-0.7 6 0.8 3-0.4 1.8-1-0.8-0.9-4-2.1 0.7-0.1-0.7zM220.5 262.9l0.4 0.6-0.4 0.9-0.5-0.9zM270.2 264.5l-1.2 4-0.5 4.3-2-1.3-4 4.7-1 0.1-0.2-0.8 1.2-2 3.7-4 3.3-5.1zM229.5 274l1.3 0.5 0 1-1.3-0.8z"/>
<path fill="#525271" d="M211.7 24.5l2.8-0.2 6 1 1 0.9 3-0.1 0.7 0.4-0.5 4-1.2 1.2-1.5-1.2 0.5-2.7-1-0.6-1 3.3-2 0.1-1-2.5zM229.5 27.1l0.7 1.4-0.7 3.4-1-0.4 0-4zM235.5 28.9l0.7 0.6-0.7 4-0.6-2 0.1-2zM242.5 31.2l0.7 0.3 0.2 1-0.9 2.2zM261.5 38.9l0.6 1.6-0.6 3.1zM275.5 43.3l0.1 1.2-0.9 1 0 1-1 1-0.2 1.1-0.5-0.1 0.7-3 0.8-1.6zM139.5 71l1 0 0 1.5-1 0zM372.5 80.5l1 0 1.2 3-1.2 0-0.2-2zM139.5 93.9l1 0 0.5 95.6 0.7 1-0.2 44.9-1-0.8-1 0zM425.2 96.5l-1.7 1.8-1 0.3-0.4-1.1 1.1-1zM397.1 99.5l0.4-0.6 1 0.1 0.1 0.5zM329.5 116.1l0.4 0.4-0.4 2.1zM328.5 119.2l0.9 0.3-0.8 6-2.1 3.2 0-2.1 0.9-1.1 0-2 0.7-1zM386.3 132.5l0.2-0.7 4-0.6 1.4 0.3-5.4 1.4zM315.5 163l0.7 0.5-0.3 2-1.4 3.1-0.1-2.1 0.8-1zM376.6 164.5l0.9-0.1 2.2 3.1-0.2 0.9zM379.6 168.5l0.9-0.2 1.3 2.2-0.3 0.3zM383.8 173.5l0.8 0 0.4 1-0.5 0.4zM387.5 177.3l0.5 1.2-0.5 0.6-0.7-1.6zM305.5 191.2l0.7 0.3-0.7 5.2-1-0.3-0.1-1.9zM238.6 203.5l0.9-0.4 0.9 0.4-0.9 0.4zM296.5 212.8l0.7 0.7-0.7 3.9-1-0.4-0.1-1.5 0.8-1zM231.7 227.5l0.8-0.4 0.8 0.4-0.8 0.5zM248.5 227.5l1-0.6 0.4 0.6zM288.5 229.3l0.7 0.2-0.7 4.7-2-0.7 0.9-1zM281.5 243.2l0.6 0.3-0.6 5-2-0.4-0.1-0.6zM139.5 254.3l2 0.4 3 1.8 1.5 2 3.2 18 3.3 11 2 0.1 1.2-1.1-0.7-5 0.5-1.4 4.9 6.4 5.1 4.6 5 2.3 2 0.2 3 1.1 1-0.3 2 0.9 1-0.3 1 0.8 7 1 1-0.3 1 0.6 3 0 3 0.8 1-0.5 1 0.7 4 0.2 1-1 1 1.1 6 0.3 1-1.3 1 1.4 9 0 1-1.3 1-0.3 1 1.5 14-1.7 14-3.7 1.5-1.8 1.5-6.7 1-2.1 6-1.1 3 1.7 2 0.4 3-0.7 4 0.2 4-1.1 3 1.8 2 0.4 4-2.5 1 0.1 4 3 3-0.2 3-2.8 1-0.2 4 3.4 3 0 3-1.1 3-2.4 7 3.8 4-0.7 5-3.3 1 0.2 4 3 6 0.6 5-1.4 1-1.6 1-0.1 2-1.2 2 0.6 3 2 1-0.4 1 1 2-0.1 1 1.1 1-1 1 1.1 1-0.5 2 0.5 2-1 3-0.2 6-3.5 2-0.5 2 0.3 2 1.4 1-0.2 1 1.1 9 1.7 1 0.6 2 0.2 1-0.4 1 0.5 6-0.4 1 0.6 5-0.8 1 0.6 6-0.1 2-0.9 1 0.8 1-0.6 3 0.3 2-0.8 5 0 3-1.9 2 0.9 2 2 4-2.7 4 3.2 2 0.1 2 0.7 7 0.1 0 29.2-315 0zM238.3 254.5l1.6 0-0.4 0.8zM274.5 256.2l0.8 0.3-0.8 3-1 0.7-0.5-0.7zM268.5 267.5l-1 1.8-1 0.6 1-2.6z"/>
<path fill="#4d4d6a" d="M217.5 25.5l2 0 0.2 1zM223.5 27.5l-0.3-1 1.4 0zM274.5 45l0 1.8-0.8-0.3zM139.5 94.5l1 0 0.4 95 0.8 1-0.2 44.4-1-1.3-1 0zM422.9 97.5l0.4-1 1.6 0-1.4 1.2zM328.5 119.3l0.5 0.2-0.5 2.7zM327.5 123.2l0.7 0.3-0.7 2zM386.4 132.5l0.1-0.5 1.7 0.5zM305.5 191.3l0.4 0.2-0.4 2.8-1 1.3 0-1.7 0.7-0.4zM296.5 213.1l0.4 0.4-0.4 2.2-1 0.4zM288.9 229.5l-0.4 2.4-1 0.9-0.1-1.3 1-1 0.1-1.1zM280.5 245.1l0.9 0.4-0.9 1.8zM139.5 254.5l2 0.3 2.8 1.7 1.6 2 3.4 19 3.1 10 2.1 0.2 1.4-1.2-0.4-5 5 6 5 4.4 5 2.2 5 1.3 1-0.2 2 0.9 1-0.4 1 0.8 7 1 1-0.3 1 0.6 6 0.8 1-0.5 1 0.7 4 0.2 1-0.9 1 1 6 0.3 1-1.1 1 1.2 9-0.1 2-1.3 1 1.2 6-0.5 8.9-1.3 12.1-2.9 2-1.3 2-5.6 1-0.9 6-1.6 5 0.3 11-1.6 3 1.3 2 0.3 4-2 1 0 4 2.4 2 0 4-2.4 1-0.2 4 2.7 3 0.1 3-1 3-1.9 7 3 4-0.5 5-2.8 5 2.6 6 0.5 5-1.2 1-1.3 3-1 2 0.4 3 1.7 1-0.3 1 0.7 2-0.1 1 1 1-0.8 1 0.9 1-0.5 2 0.5 2-0.9 3-0.2 6-2.8 2-0.4 5 1.1 1 0.9 10 2 10-0.1 1 0.5 5-0.6 1 0.4 6 0 2-0.8 1 0.7 1-0.5 3 0.3 2-0.7 5 0 3-1.4 2 0.6 2 1.7 4-2.2 4 2.6 4 0.7 7 0 0 28.6-315 0z"/>
<path fill="#484863" d="M139.5 94.8l1 0 0.2 94.7 0.9 1-0.1 43.9-1-1.9-1 0 0-0.5 1 0 0-14.5 0-2.1-1 0zM139.5 254.6l2 0.4 2.6 1.5 1.7 2 3.4 19 3.1 10 1.2 0.5 1.7-0.5 0.9-1 0.4-2.6 7 7.4 4 2.5 6 1.9 3 0.2 2 0.8 1-0.2 1 0.6 15 2.2 1-0.4 1 0.6 4 0.2 1-0.8 1 0.9 6 0.2 1-0.9 1 1 9-0.1 2-1.1 1 1 14-1.6 13-3.1 2-1.1 2-4.6 1-0.7 6-1.6 4-0.1 12-1.8 5 1.2 5-1.6 4 1.9 2 0 5-2.1 4 2.2 3 0 6-2.3 7 2.4 4-0.5 5-2.3 5 2.1 6 0.5 5-1.1 1-1.1 3-0.8 2 0.3 3 1.4 4 0.3 1 0.8 1-0.7 1 0.8 1-0.4 2 0.4 2-0.8 3-0.1 8-2.7 5 0.9 1 0.7 10 1.7 10 0 1 0.4 5-0.6 1 0.5 6-0.1 2-0.6 1 0.6 1-0.5 3 0.3 2-0.6 5 0 3-1.2 2 0.5 2 1.4 4-1.8 4 2.2 4 0.6 7 0 0 28-315 0z"/>
<path fill="#43435c" d="M139.5 95l1 0 0.1 0.5-0.1 95-1 0zM141.5 190.3l0 43.6-0.7-1.4-0.3-42zM139.5 254.8l2 0.3 2.4 1.4 1.8 2 3.4 19 3 10 1.4 0.6 2-0.6 1-2.4 7 6.9 4 2.5 13 3.3 15 2.1 1-0.3 1 0.5 4 0.2 1-0.7 1 0.8 6 0.2 1-0.8 1 0.9 9-0.1 2-1 1 0.9 6-0.5 9.8-1.5 11.2-2.7 2-1 2-3.9 7-2.2 16-2.2 5 0.9 4-1.4 5 1.7 2-0.1 5-1.8 4 1.9 3 0 6-2 7 2 4-0.4 5-2 5 1.7 6 0.5 5-1 1-0.9 3-0.7 5 1.4 4 0.3 1 0.7 1-0.6 1 0.7 1-0.4 2 0.4 5-0.8 8-2.3 5 0.7 1 0.6 14 1.7 12-0.4 7 0.4 2-0.6 1 0.6 11-0.7 3-1 2 0.4 2 1.2 4-1.5 4 1.8 11 0.6 0 27.4-315 0z"/>
<path fill="#3e3e56" d="M139.5 95.3l1 0.2 0 92.6-1 0zM141.5 190.4l0 42.9-0.5-42.8zM139.5 255l2 0.2 2.2 1.3 1.9 2 3.5 20 2.9 9 0.5 0.5 2 0 1.4-0.5 0.6-1.1 7 6.3 4 2.4 13 3.2 15 2.2 1-0.3 5 0.7 1-0.6 1 0.7 5 0.2 2-0.7 1 0.8 9-0.1 2-0.9 1 0.8 14-1.7 13-3 2-0.9 2-3.4 7-2.2 16-2.4 5 0.8 4-1.3 5 1.4 2 0 5-1.6 4 1.6 3 0 6-1.7 7 1.7 4-0.4 5-1.7 5 1.4 6 0.4 5-0.8 1-0.8 3-0.6 5 1.2 4 0.2 1 0.7 1-0.6 1 0.6 3 0 13-2.7 6 1.1 14 1.5 26-0.2 7-0.4 3-0.8 4 1.4 4-1.4 4 1.6 11 0.5 0 26.9-315 0z"/>
<path fill="#39394f" d="M139.5 255.1l2 0.3 2 1.1 2 2.1 3.5 19.9 2.9 9 1.6 0.8 3-1.1 7 6.1 4 2.5 13 3.1 17 2.3 4 0.2 1-0.5 1 0.6 6 0.3 1-0.7 1 0.7 9-0.1 2-0.8 1 0.7 16-2.1 11-2.5 2-0.9 2-2.9 7-2.2 15-2.4 6 0.4 4-1 5 1.2 2-0.1 5-1.3 4 1.3 3 0 6-1.5 7 1.4 4-0.4 5-1.4 5 1.2 6 0.3 9-1.9 9 1.2 1 0.6 1-0.5 1 0.5 3 0 13-2.4 20 2.3 26-0.1 7-0.4 3-0.7 4 1.2 4-1.2 4 1.4 11 0.4 0 26.4-315 0z"/>
<path fill="#343448" d="M139.5 255.3l1.9 0.2 1.8 1 2.3 2.6 4.5 24.4 1.8 4 1.7 0.9 3-0.5 7 6 4 2.4 13 3.1 17 2.4 4 0.1 1-0.4 1 0.5 6 0.3 1-0.6 1 0.7 9-0.2 2-0.7 1 0.6 14-1.7 13-2.9 2-0.8 2-2.6 7-2.1 15-2.5 6 0.3 4-0.9 7 0.9 5-1.2 4 1.1 3 0 6-1.3 7 1.2 4-0.3 5-1.3 5 1 6 0.3 9-1.6 10 1.4 1-0.4 4 0.5 13-2.1 20 1.9 26-0.1 10-0.9 4 1 4-0.9 4 1.1 11 0.4 0 25.9-315 0z"/>
<path fill="#2f2f41" d="M139.5 255.4l3.3 1.1 1.7 1.4 1 1.9 3.5 20.7 1.1 4 1.5 3 0.9 0.9 3.9 0.1 7.1 6 4 2.4 13 3.1 17 2.3 4 0.2 1-0.4 1 0.4 6 0.3 1-0.5 1 0.5 9-0.1 2-0.7 1 0.6 16-2.1 11-2.5 2-0.8 2-2.2 14-3.6 9-1.2 5 0.3 4-0.8 7 0.7 5-1 4 0.9 3 0 6-1.2 7 1.1 9-1.4 5 0.8 6 0.3 9-1.5 10 1.3 1-0.3 4 0.3 13-1.8 20 1.7 26-0.1 10-0.8 4 0.9 4-0.9 4 1.1 11 0.3 0 25.4-315 0z"/>
<path fill="#2a2a3a" d="M139.5 255.9l2.8 0.6 2.3 2 0.9 2.8 3.4 20.2 1.2 4 2.4 3 3 0.1 8 6.5 4 2.4 13 3 17 2.3 5-0.2 7 0.7 1-0.4 1 0.4 9-0.2 2-0.5 3 0.3 14-1.9 13-3.2 3-2.4 13-3.3 18-1.7 7 0.7 5-1 4 0.8 3 0 6-1 7 0.8 9-1.2 11 0.9 9-1.2 15 1.1 13-1.6 20 1.4 26-0.1 10-0.6 4 0.7 4-0.7 4 0.8 11 0.3 0 25-315 0z"/>
<path fill="#252533" d="M139.5 288.5l8 0-1-1 0-2 1-0.2 3 2.7 5 1.2 8 6.5 5 2.6 14 3 13 1.8 16 0.7 9-0.2 2-0.5 3 0.3 13.5-1.9 13.5-3.2 3-2.1 13-3.3 18-1.8 7 0.5 5-0.8 7 0.7 6-0.9 7 0.6 9-1.1 11 0.8 9-1.1 15 1 13-1.4 18 1.2 28-0.1 10-0.5 4 0.6 4-0.6 4 0.7 11 0.3 0 24.5-315 0z"/>
<path fill="#20202d" d="M139.5 291l12 0.1 0.2-1.6 2.8-0.2 9 6.9 5 2.5 12 2.7 15 2.1 16 0.7 14-0.4 14-2 11-2.4 5-2.5 13-3.4 18-1.7 7 0.4 5-0.7 7 0.5 6-0.8 7 0.5 9-0.9 11 0.6 9-0.9 15 0.8 13-1.2 18 0.9 38-0.5 4 0.6 4-0.5 4 0.6 11 0.2 0 24.1-315 0z"/>
<path fill="#1b1b26" d="M139.5 291.5l12.6 0 0.3-2 1.1-0.1 10 7.3 5 2.5 14 3 13 1.8 16 0.6 14-0.4 12.5-1.7 12.5-2.6 5-2.3 13-3.4 18-1.7 7 0.2 5-0.6 7 0.4 6-0.7 7 0.4 9-0.8 11 0.5 9-0.8 15 0.6 13-1 18 0.8 38-0.4 4 0.4 4-0.4 15 0.7 0 23.7-315 0z"/>
<path fill="#16161f" d="M139.5 291.7l12 0.2 1.3-0.4 0.7-1.5 10 7.2 4.3 2.3 14.7 3.1 13 1.8 16 0.7 14-0.5 14-1.9 12-2.7 4-1.8 13-3.4 18-1.7 19-0.1 6-0.6 7 0.3 9-0.7 11 0.3 9-0.6 15 0.5 13-0.8 18 0.6 46-0.4 15 0.6 0 23.3-315 0z"/>
<path fill="#111118" d="M139.5 291.9l12 0.3 2-0.9 1 0.2 11 7.4 3 1.2 14 2.9 13 1.8 16 0.7 14-0.5 14-2 11.9-2.5 4.1-1.6 13-3.5 18-1.7 32-0.6 9-0.6 35 0.1 13-0.6 79 0.6 0 22.9-315 0z"/>
<path fill="#0c0c11" d="M139.5 292.1l15 0.1 13 8.1 13 2.8 15 2.1 16 0.6 14-0.4 13-1.8 13-2.7 17-4.9 18-1.7 41-1.2 35-0.1 13-0.5 79 0.4 0 22.6-315 0z"/>
<path fill="#07070a" d="M139.5 292.3l14 0.3 14 8.2 14 2.9 14 2 16 0.5 14-0.4 14-2 13-2.8 16-4.5 17-1.6 62-1.5 107-0.1 0 22.2-315 0z"/>
<path fill="#020203" d="M139.5 292.5l14 0.7 13 7.7 14 3.1 15 2.1 16 0.6 14-0.5 10-1.3 16-3.1 17-4.7 15.3-1.6 44.7-1.4 126-0.3 0 21.7-315 0z"/></g>
<clipPath id="mp2"><rect x="140" y="10" width="314" height="305"/></clipPath><path d="M140.0 238.5 L141.5 238.7 L143.6 239.1 L145.9 239.6 L147.7 240.7 L149.0 242.5 L149.9 244.8 L150.8 247.2 L151.6 249.5 L152.4 251.5 L153.1 253.3 L153.8 255.2 L154.5 257.2 L155.2 259.3 L155.8 261.4 L156.6 263.6 L157.5 266.0 L158.8 268.7 L160.3 271.7 L161.9 274.5 L163.3 276.7 L164.5 278.2 L165.7 279.1 L166.8 279.8 L168.0 280.5 L169.1 281.2 L170.2 281.8 L171.4 282.4 L173.0 282.9 L175.0 283.4 L177.3 283.9 L179.9 284.4 L182.7 284.9 L185.7 285.4 L188.9 285.9 L192.5 286.3 L196.4 286.8 L201.0 287.3 L206.1 287.7 L211.2 288.1 L215.8 288.4 L219.7 288.5 L223.3 288.4 L226.5 288.2 L229.4 288.0 L231.7 287.8 L233.4 287.6 L235.1 287.3 L237.2 286.8 L239.8 286.1 L242.6 285.2 L245.6 284.2 L248.5 283.3 L251.3 282.5 L254.1 281.6 L257.0 280.8 L260.1 279.8 L263.5 278.6 L267.1 277.3 L270.8 276.0 L274.6 275.1 L278.4 274.7 L282.3 274.5 L286.2 274.6 L290.0 274.6 L293.7 274.6 L297.4 274.8 L301.0 274.9 L304.6 275.0 L308.1 275.0 L311.6 275.0 L315.1 275.0 L318.7 275.0 L322.6 275.0 L326.6 274.9 L330.7 274.9 L334.6 274.8 L338.4 274.7 L342.2 274.5 L345.9 274.3 L349.5 274.2 L353.0 274.2 L356.4 274.4 L359.8 274.5 L363.2 274.4 L366.6 274.1 L370.1 273.6 L373.6 273.1 L377.0 272.8 L380.4 272.7 L383.8 272.8 L387.2 273.0 L390.7 273.2 L394.3 273.5 L398.1 273.9 L401.8 274.4 L405.6 274.8 L409.3 275.2 L413.1 275.6 L416.8 276.0 L420.5 276.2 L424.1 276.3 L427.7 276.2 L431.4 276.1 L435.4 276.0 L440.2 276.0 L445.6 276.0 L450.6 276.0 L454.0 276.0" fill="none" stroke="#f00" stroke-width="2.2" stroke-dasharray="7.4 6.9" stroke-dashoffset="-2.29" clip-path="url(#mp2)"/><circle cx="166.20" cy="63.5" r="3.45" fill="#f00"/><text x="171.20" y="78.2" font-size="15.8" font-weight="bold" fill="#000" style="fill:#000">a</text><circle cx="213.87" cy="63.5" r="3.45" fill="#f00"/><text x="218.87" y="78.2" font-size="15.8" font-weight="bold" fill="#000" style="fill:#000">b</text><circle cx="261.54" cy="63.5" r="3.45" fill="#f00"/><text x="266.54" y="78.2" font-size="15.8" font-weight="bold" fill="#000" style="fill:#000">c</text><circle cx="309.21" cy="63.5" r="3.45" fill="#f00"/><text x="314.21" y="78.2" font-size="15.8" font-weight="bold" fill="#000" style="fill:#000">d</text><circle cx="356.88" cy="63.5" r="3.45" fill="#f00"/><text x="361.88" y="78.2" font-size="15.8" font-weight="bold" fill="#000" style="fill:#000">e</text><circle cx="404.55" cy="63.5" r="3.45" fill="#f00"/><text x="409.55" y="78.2" font-size="15.8" font-weight="bold" fill="#000" style="fill:#000">f</text>
<path d="M140.9 9.6 V315" stroke="#555" stroke-width="1.2" fill="none"/>

<g stroke="#262626" fill="none">
 <path d="M61.5 10 V314.5 H121.5" stroke="#777" stroke-width="1"/>
 <path d="M61.5 63.5 h3.5 M61.5 117 h3.5 M61.5 170.5 h3.5 M61.5 224 h3.5 M61.5 277.5 h3.5 M78.5 314.5 v-3.5 M121.5 314.5 v-3.5" stroke="#888" stroke-width="0.8"/>
</g>
<path d="M61.00 10.50 L61.23 11.44 L61.56 12.69 L61.95 14.19 L62.37 15.84 L62.80 17.58 L63.20 19.32 L63.54 20.99 L63.80 22.50 L63.98 23.85 L64.11 25.13 L64.20 26.36 L64.26 27.57 L64.29 28.81 L64.30 30.11 L64.30 31.49 L64.30 33.00 L64.29 34.67 L64.26 36.47 L64.21 38.37 L64.14 40.33 L64.07 42.29 L63.98 44.22 L63.89 46.07 L63.80 47.80 L63.69 49.47 L63.57 51.14 L63.43 52.77 L63.28 54.36 L63.14 55.85 L63.01 57.22 L62.89 58.45 L62.80 59.50 L62.73 60.31 L62.67 60.89 L62.62 61.30 L62.58 61.61 L62.56 61.86 L62.55 62.14 L62.57 62.50 L62.60 63.00 L62.66 63.61 L62.75 64.25 L62.86 64.94 L62.98 65.66 L63.11 66.42 L63.25 67.23 L63.38 68.09 L63.50 69.00 L63.61 69.98 L63.72 71.04 L63.83 72.16 L63.94 73.31 L64.05 74.49 L64.16 75.68 L64.28 76.85 L64.40 78.00 L64.53 79.12 L64.65 80.25 L64.78 81.38 L64.92 82.50 L65.06 83.62 L65.20 84.75 L65.35 85.88 L65.50 87.00 L65.66 88.12 L65.82 89.25 L65.99 90.38 L66.16 91.50 L66.33 92.62 L66.51 93.75 L66.70 94.88 L66.90 96.00 L67.10 97.12 L67.31 98.25 L67.53 99.38 L67.75 100.50 L67.98 101.62 L68.21 102.75 L68.45 103.88 L68.70 105.00 L68.96 106.12 L69.22 107.25 L69.50 108.38 L69.78 109.50 L70.06 110.62 L70.34 111.75 L70.62 112.88 L70.90 114.00 L71.17 115.07 L71.42 116.06 L71.66 117.02 L71.91 118.00 L72.17 119.04 L72.45 120.19 L72.76 121.49 L73.10 123.00 L73.47 124.72 L73.87 126.62 L74.29 128.66 L74.72 130.81 L75.19 133.05 L75.67 135.35 L76.17 137.68 L76.70 140.00 L77.22 142.20 L77.73 144.26 L78.24 146.29 L78.78 148.40 L79.37 150.71 L80.04 153.34 L80.81 156.40 L81.70 160.00 L82.77 164.37 L84.03 169.50 L85.41 175.15 L86.85 181.06 L88.30 187.01 L89.70 192.74 L90.98 198.02 L92.10 202.60 L93.05 206.49 L93.89 209.94 L94.63 213.02 L95.32 215.84 L95.96 218.50 L96.59 221.08 L97.23 223.68 L97.90 226.40 L98.59 229.17 L99.26 231.86 L99.92 234.51 L100.58 237.12 L101.23 239.71 L101.89 242.29 L102.54 244.88 L103.20 247.50 L103.85 250.15 L104.49 252.81 L105.13 255.47 L105.77 258.13 L106.42 260.78 L107.08 263.42 L107.78 266.02 L108.50 268.60 L109.31 271.27 L110.21 274.11 L111.17 276.99 L112.13 279.82 L113.05 282.48 L113.88 284.87 L114.58 286.88 L115.10 288.40" stroke="#000" stroke-width="1.8" fill="none" stroke-linejoin="round"/>


<defs><linearGradient id="cb" x1="0" y1="0" x2="0" y2="1">
<stop offset="0" stop-color="#000"/><stop offset="0.375" stop-color="rgb(84,84,116)"/>
<stop offset="0.75" stop-color="rgb(167,199,199)"/><stop offset="1" stop-color="#fff"/></linearGradient></defs>
<rect x="475.5" y="10" width="20.5" height="305" fill="url(#cb)"/>
<rect x="475.6" y="10" width="20.3" height="305.3" fill="none" stroke="#555" stroke-width="1"/>
<path d="M496 43.9 h-3 M496 77.8 h-3 M496 111.7 h-3 M496 145.6 h-3 M496 179.4 h-3 M496 213.3 h-3 M496 247.2 h-3 M496 281.1 h-3" stroke="#888" stroke-width="0.8"/>

<text x="24.20" y="67.90" font-size="15.2" textLength="32.00" lengthAdjust="spacingAndGlyphs">1000</text><text x="24.20" y="121.40" font-size="15.2" textLength="32.00" lengthAdjust="spacingAndGlyphs">2000</text><text x="24.20" y="174.90" font-size="15.2" textLength="32.00" lengthAdjust="spacingAndGlyphs">3000</text><text x="24.20" y="228.40" font-size="15.2" textLength="32.00" lengthAdjust="spacingAndGlyphs">4000</text><text x="24.20" y="281.90" font-size="15.2" textLength="32.00" lengthAdjust="spacingAndGlyphs">5000</text><text x="63.10" y="334.20" font-size="15.2" textLength="31.70" lengthAdjust="spacingAndGlyphs">1500</text><text x="106.40" y="334.20" font-size="15.2" textLength="31.20" lengthAdjust="spacingAndGlyphs">1550</text><text x="66.10" y="354.00" font-size="15.2" textLength="49.50" lengthAdjust="spacingAndGlyphs">c (m/s)</text><text transform="translate(17.00,197.90) rotate(-90)" font-size="15.2" textLength="70.00" lengthAdjust="spacingAndGlyphs">Depth (m)</text><text x="193.85" y="334.30" font-size="15.2" textLength="17.70" lengthAdjust="spacingAndGlyphs">20</text><text x="256.65" y="334.30" font-size="15.2" textLength="17.70" lengthAdjust="spacingAndGlyphs">40</text><text x="319.45" y="334.30" font-size="15.2" textLength="17.70" lengthAdjust="spacingAndGlyphs">60</text><text x="382.25" y="334.30" font-size="15.2" textLength="17.70" lengthAdjust="spacingAndGlyphs">80</text><text x="441.30" y="334.30" font-size="15.2" textLength="25.20" lengthAdjust="spacingAndGlyphs">100</text><text x="258.00" y="353.30" font-size="15.2" textLength="78.20" lengthAdjust="spacingAndGlyphs">Range (km)</text><text x="501.20" y="14.80" font-size="15.2" textLength="24.00" lengthAdjust="spacingAndGlyphs">140</text><text x="501.20" y="48.69" font-size="15.2" textLength="24.00" lengthAdjust="spacingAndGlyphs">130</text><text x="501.20" y="82.58" font-size="15.2" textLength="24.00" lengthAdjust="spacingAndGlyphs">120</text><text x="501.20" y="116.47" font-size="15.2" textLength="24.00" lengthAdjust="spacingAndGlyphs">110</text><text x="501.20" y="150.36" font-size="15.2" textLength="24.00" lengthAdjust="spacingAndGlyphs">100</text><text x="501.20" y="184.24" font-size="15.2" textLength="17.20" lengthAdjust="spacingAndGlyphs">90</text><text x="501.20" y="218.13" font-size="15.2" textLength="17.20" lengthAdjust="spacingAndGlyphs">80</text><text x="501.20" y="252.02" font-size="15.2" textLength="17.20" lengthAdjust="spacingAndGlyphs">70</text><text x="501.20" y="285.91" font-size="15.2" textLength="17.20" lengthAdjust="spacingAndGlyphs">60</text><text x="501.20" y="319.80" font-size="15.2" textLength="17.20" lengthAdjust="spacingAndGlyphs">50</text><text transform="translate(540.50,188.40) rotate(-90)" font-size="15.2" textLength="55.50" lengthAdjust="spacingAndGlyphs">TL (dB)</text>
</svg>
</body></html>
